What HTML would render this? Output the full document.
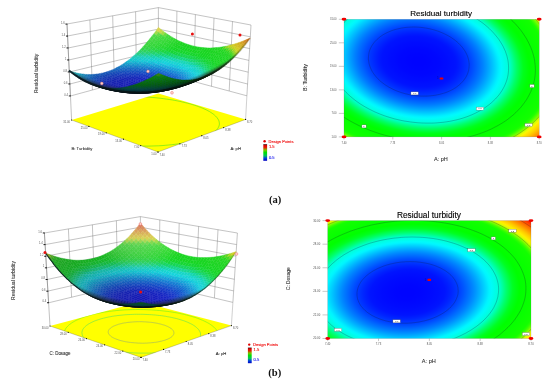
<!DOCTYPE html><html><head><meta charset="utf-8"><title>Residual turbidity</title><style>html,body{margin:0;padding:0;background:#fff}svg{display:block}</style></head><body>
<svg width="550" height="385" viewBox="0 0 550 385">
<rect width="550" height="385" fill="#fff"/>
<g stroke="#6a6a6a" stroke-width="0.4" fill="none">
<polyline points="70.4,96.0 158.4,72.0 246.9,95.8"/>
<polyline points="69.9,84.0 158.4,61.3 247.6,84.0"/>
<polyline points="69.3,72.0 158.4,50.6 248.3,72.2"/>
<polyline points="68.7,60.0 158.4,39.8 249.0,60.4"/>
<polyline points="68.1,48.0 158.4,29.1 249.7,48.6"/>
<polyline points="67.6,36.0 158.4,18.3 250.3,36.8"/>
<polyline points="67.0,24.0 158.4,7.6 251.0,25.0"/>
<line x1="70.4" y1="96.0" x2="67.0" y2="24.0"/>
<line x1="92.4" y1="90.0" x2="89.9" y2="19.9"/>
<line x1="114.4" y1="84.0" x2="112.7" y2="15.8"/>
<line x1="136.4" y1="78.0" x2="135.6" y2="11.7"/>
<line x1="158.4" y1="72.0" x2="158.4" y2="7.6"/>
<line x1="176.1" y1="76.8" x2="176.9" y2="11.1"/>
<line x1="193.8" y1="81.5" x2="195.4" y2="14.6"/>
<line x1="211.5" y1="86.3" x2="214.0" y2="18.0"/>
<line x1="229.2" y1="91.0" x2="232.5" y2="21.5"/>
<line x1="246.9" y1="95.8" x2="251.0" y2="25.0"/>
</g>
<g stroke="#666" stroke-width="0.4" fill="none">
<line x1="71.6" y1="120.0" x2="67.0" y2="24.0"/>
<line x1="245.6" y1="119.4" x2="246.9" y2="95.8" stroke="#888"/>
</g>
<defs><clipPath id="fa"><polygon points="71.6,120.0 158.0,152.0 245.6,119.4 158.4,93.5"/></clipPath></defs>
<polygon points="71.6,120.0 158.0,152.0 245.6,119.4 158.4,93.5" fill="#ffff00"/>
<g clip-path="url(#fa)" fill="none" stroke-width="0.55">
<polygon points="214.8,131.6 213.6,132.5 212.3,133.4 210.9,134.3 209.3,135.2 207.6,136.0 205.7,136.9 203.8,137.7 201.7,138.4 199.5,139.2 197.2,139.9 194.8,140.6 192.2,141.2 189.6,141.8 186.8,142.4 184.0,142.9 181.1,143.4 178.1,143.9 175.0,144.3 171.8,144.7 168.6,145.0 165.3,145.3 162.0,145.6 158.6,145.8 155.1,145.9 151.7,146.0 148.2,146.1 144.7,146.1 141.1,146.1 137.6,146.0 134.1,145.9 130.5,145.8 127.0,145.6 123.5,145.3 120.1,145.0 116.6,144.7 113.3,144.3 109.9,143.9 106.6,143.4 103.4,142.9 100.3,142.4 97.2,141.8 94.2,141.2 91.3,140.6 88.4,139.9 85.7,139.2 83.0,138.5 80.5,137.7 78.1,136.9 75.7,136.1 73.5,135.3 71.4,134.4 69.4,133.5 67.6,132.6 65.8,131.7 64.2,130.8 62.7,129.9 61.3,128.9 60.1,128.0 59.0,127.0 58.0,126.0 57.1,125.1 56.4,124.1 55.8,123.1 55.3,122.1 55.0,121.2 54.8,120.2 54.7,119.2 54.7,118.3 54.9,117.3 55.2,116.4 55.6,115.4 56.1,114.5 56.7,113.6 57.5,112.7 58.3,111.8 59.3,111.0 60.4,110.1 61.6,109.3 62.9,108.5 64.3,107.7 65.7,107.0 67.3,106.2 69.0,105.5 70.8,104.8 72.6,104.1 74.5,103.5 76.5,102.9 78.6,102.3 80.8,101.7 83.0,101.2 85.3,100.6 87.7,100.2 90.1,99.7 92.6,99.3 95.1,98.9 97.7,98.5 100.4,98.2 103.0,97.9 105.8,97.6 108.5,97.3 111.3,97.1 114.1,96.9 117.0,96.8 119.9,96.7 122.8,96.6 125.7,96.5 128.6,96.5 131.6,96.5 134.5,96.5 137.5,96.6 140.4,96.7 143.4,96.9 146.4,97.0 149.3,97.2 152.2,97.5 155.1,97.7 158.0,98.0 160.9,98.3 163.7,98.7 166.6,99.1 169.3,99.5 172.1,99.9 174.8,100.4 177.4,100.9 180.0,101.4 182.6,102.0 185.1,102.6 187.5,103.2 189.9,103.8 192.2,104.5 194.4,105.2 196.6,105.9 198.7,106.7 200.7,107.4 202.6,108.2 204.4,109.0 206.2,109.8 207.8,110.7 209.4,111.5 210.8,112.4 212.2,113.3 213.4,114.2 214.6,115.2 215.6,116.1 216.5,117.0 217.3,118.0 217.9,119.0 218.5,119.9 218.9,120.9 219.2,121.9 219.3,122.9 219.4,123.9 219.3,124.9 219.0,125.9 218.7,126.8 218.2,127.8 217.5,128.8 216.8,129.7 215.8,130.7" stroke="#40e020"/>
</g>
<g stroke="#555" stroke-width="0.3">
<polyline fill="none" points="71.6,120.0 158.0,152.0 245.6,119.4"/>
</g>
<g fill="#000">
<circle cx="158.0" cy="152.0" r="0.6"/>
<circle cx="179.9" cy="143.8" r="0.6"/>
<circle cx="201.8" cy="135.7" r="0.6"/>
<circle cx="223.7" cy="127.6" r="0.6"/>
<circle cx="245.6" cy="119.4" r="0.6"/>
<circle cx="158.0" cy="152.0" r="0.6"/>
<circle cx="140.7" cy="145.6" r="0.6"/>
<circle cx="123.4" cy="139.2" r="0.6"/>
<circle cx="106.2" cy="132.8" r="0.6"/>
<circle cx="88.9" cy="126.4" r="0.6"/>
<circle cx="71.6" cy="120.0" r="0.6"/>
<rect x="68.8" y="95.5" width="2" height="0.9"/>
<rect x="68.3" y="83.5" width="2" height="0.9"/>
<rect x="67.7" y="71.5" width="2" height="0.9"/>
<rect x="67.1" y="59.5" width="2" height="0.9"/>
<rect x="66.5" y="47.5" width="2" height="0.9"/>
<rect x="66.0" y="35.6" width="2" height="0.9"/>
<rect x="65.4" y="23.6" width="2" height="0.9"/>
</g>
<g font-family="Liberation Sans, sans-serif" font-size="2.7" fill="#555">
<text x="159.5" y="155.6">7.40</text>
<text x="181.4" y="147.4">7.73</text>
<text x="203.3" y="139.3">8.05</text>
<text x="225.2" y="131.2">8.38</text>
<text x="247.1" y="123.0">8.70</text>
<text x="156.5" y="154.6" text-anchor="end">1.00</text>
<text x="139.2" y="148.2" text-anchor="end">7.00</text>
<text x="121.9" y="141.8" text-anchor="end">13.00</text>
<text x="104.7" y="135.4" text-anchor="end">19.00</text>
<text x="87.4" y="129.0" text-anchor="end">25.00</text>
<text x="70.1" y="122.6" text-anchor="end">31.00</text>
<text x="68.1" y="95.5" text-anchor="end">0.4</text>
<text x="67.6" y="83.5" text-anchor="end">0.6</text>
<text x="67.0" y="71.5" text-anchor="end">0.8</text>
<text x="66.4" y="59.5" text-anchor="end">1</text>
<text x="65.8" y="47.5" text-anchor="end">1.2</text>
<text x="65.3" y="35.5" text-anchor="end">1.4</text>
<text x="64.7" y="23.5" text-anchor="end">1.6</text>
</g>
<text x="235.7" y="149.8" font-family="Liberation Sans, sans-serif" font-size="4.2" text-anchor="middle" fill="#2a2a2a" stroke="#2a2a2a" stroke-width="0.07">A: pH</text>
<text x="82" y="149.8" font-family="Liberation Sans, sans-serif" font-size="4.2" text-anchor="middle" fill="#2a2a2a" stroke="#2a2a2a" stroke-width="0.07">B: Turbidity</text>
<text transform="translate(38.4 73.4) rotate(-90)" font-family="Liberation Sans, sans-serif" font-size="5.15" text-anchor="middle" fill="#2a2a2a" stroke="#2a2a2a" stroke-width="0.07">Residual turbidity</text>
<circle cx="192.4" cy="34" r="1.5" fill="#e81010"/>
<circle cx="240" cy="35" r="1.5" fill="#e81010"/>
<g stroke-width="0.35" stroke-linejoin="round">
<polygon points="158.4,32.2 160.6,29.1 158.4,27.3 156.2,30.4" fill="#dcd54c" stroke="#dcd54c"/>
<polygon points="156.2,35.2 158.4,32.2 156.2,30.4 154.0,33.4" fill="#a2db4a" stroke="#a2db4a"/>
<polygon points="160.6,33.9 162.8,30.8 160.6,29.1 158.4,32.2" fill="#c8da49" stroke="#c8da49"/>
<polygon points="154.0,38.1 156.2,35.2 154.0,33.4 151.8,36.3" fill="#4fda48" stroke="#4fda48"/>
<polygon points="162.8,35.6 165.0,32.5 162.8,30.8 160.6,33.9" fill="#a5dc45" stroke="#a5dc45"/>
<polygon points="158.4,36.9 160.6,33.9 158.4,32.2 156.2,35.2" fill="#68db47" stroke="#68db47"/>
<polygon points="151.7,40.9 154.0,38.1 151.8,36.3 149.6,39.1" fill="#48d946" stroke="#48d946"/>
<polygon points="156.2,39.9 158.4,36.9 156.2,35.2 154.0,38.1" fill="#49da44" stroke="#49da44"/>
<polygon points="160.6,38.6 162.8,35.6 160.6,33.9 158.4,36.9" fill="#4adb43" stroke="#4adb43"/>
<polygon points="165.1,37.2 167.3,34.0 165.0,32.5 162.8,35.6" fill="#6cdc41" stroke="#6cdc41"/>
<polygon points="149.5,43.7 151.7,40.9 149.6,39.1 147.3,41.8" fill="#42d843" stroke="#42d843"/>
<polygon points="158.4,41.5 160.6,38.6 158.4,36.9 156.2,39.9" fill="#43da41" stroke="#43da41"/>
<polygon points="167.3,38.7 169.5,35.5 167.3,34.0 165.1,37.2" fill="#44db3d" stroke="#44db3d"/>
<polygon points="153.9,42.7 156.2,39.9 154.0,38.1 151.7,40.9" fill="#42d942" stroke="#42d942"/>
<polygon points="162.9,40.2 165.1,37.2 162.8,35.6 160.6,38.6" fill="#43db3f" stroke="#43db3f"/>
<polygon points="147.2,46.3 149.5,43.7 147.3,41.8 145.0,44.4" fill="#3cd640" stroke="#3cd640"/>
<polygon points="169.6,40.1 171.8,36.9 169.5,35.5 167.3,38.7" fill="#3eda39" stroke="#3eda39"/>
<polygon points="151.7,45.4 153.9,42.7 151.7,40.9 149.5,43.7" fill="#3cd73f" stroke="#3cd73f"/>
<polygon points="156.2,44.4 158.4,41.5 156.2,39.9 153.9,42.7" fill="#3cd93e" stroke="#3cd93e"/>
<polygon points="160.6,43.1 162.9,40.2 160.6,38.6 158.4,41.5" fill="#3cda3d" stroke="#3cda3d"/>
<polygon points="165.1,41.7 167.3,38.7 165.1,37.2 162.9,40.2" fill="#3ddb3b" stroke="#3ddb3b"/>
<polygon points="144.9,48.8 147.2,46.3 145.0,44.4 142.8,47.0" fill="#36d540" stroke="#36d540"/>
<polygon points="149.4,48.0 151.7,45.4 149.5,43.7 147.2,46.3" fill="#36d63c" stroke="#36d63c"/>
<polygon points="153.9,47.1 156.2,44.4 153.9,42.7 151.7,45.4" fill="#36d73b" stroke="#36d73b"/>
<polygon points="162.9,44.6 165.1,41.7 162.9,40.2 160.6,43.1" fill="#36da39" stroke="#36da39"/>
<polygon points="167.4,43.1 169.6,40.1 167.3,38.7 165.1,41.7" fill="#36da37" stroke="#36da37"/>
<polygon points="171.9,41.4 174.1,38.3 171.8,36.9 169.6,40.1" fill="#37da35" stroke="#37da35"/>
<polygon points="158.4,45.9 160.6,43.1 158.4,41.5 156.2,44.4" fill="#36d93a" stroke="#36d93a"/>
<polygon points="142.6,51.2 144.9,48.8 142.8,47.0 140.5,49.4" fill="#32d34a" stroke="#32d34a"/>
<polygon points="151.6,49.7 153.9,47.1 151.7,45.4 149.4,48.0" fill="#31d63f" stroke="#31d63f"/>
<polygon points="165.2,46.0 167.4,43.1 165.1,41.7 162.9,44.6" fill="#30d934" stroke="#30d934"/>
<polygon points="174.2,42.7 176.4,39.5 174.1,38.3 171.9,41.4" fill="#30d930" stroke="#30d930"/>
<polygon points="147.1,50.6 149.4,48.0 147.2,46.3 144.9,48.8" fill="#32d445" stroke="#32d445"/>
<polygon points="156.2,48.7 158.4,45.9 156.2,44.4 153.9,47.1" fill="#30d737" stroke="#30d737"/>
<polygon points="160.7,47.4 162.9,44.6 160.6,43.1 158.4,45.9" fill="#30d836" stroke="#30d836"/>
<polygon points="169.7,44.4 171.9,41.4 169.6,40.1 167.4,43.1" fill="#30d932" stroke="#30d932"/>
<polygon points="140.3,53.5 142.6,51.2 140.5,49.4 138.2,51.7" fill="#2dd165" stroke="#2dd165"/>
<polygon points="144.9,53.0 147.1,50.6 144.9,48.8 142.6,51.2" fill="#2dd35b" stroke="#2dd35b"/>
<polygon points="149.4,52.2 151.6,49.7 149.4,48.0 147.1,50.6" fill="#2dd44c" stroke="#2dd44c"/>
<polygon points="153.9,51.3 156.2,48.7 153.9,47.1 151.6,49.7" fill="#2cd642" stroke="#2cd642"/>
<polygon points="158.4,50.2 160.7,47.4 158.4,45.9 156.2,48.7" fill="#2ad739" stroke="#2ad739"/>
<polygon points="162.9,48.9 165.2,46.0 162.9,44.6 160.7,47.4" fill="#29d831" stroke="#29d831"/>
<polygon points="167.5,47.4 169.7,44.4 167.4,43.1 165.2,46.0" fill="#29d930" stroke="#29d930"/>
<polygon points="172.0,45.7 174.2,42.7 171.9,41.4 169.7,44.4" fill="#29d82e" stroke="#29d82e"/>
<polygon points="176.5,43.8 178.7,40.7 176.4,39.5 174.2,42.7" fill="#29d82c" stroke="#29d82c"/>
<polygon points="138.0,55.7 140.3,53.5 138.2,51.7 135.8,53.9" fill="#28cf84" stroke="#28cf84"/>
<polygon points="147.1,54.6 149.4,52.2 147.1,50.6 144.9,53.0" fill="#28d36e" stroke="#28d36e"/>
<polygon points="156.1,52.8 158.4,50.2 156.2,48.7 153.9,51.3" fill="#26d649" stroke="#26d649"/>
<polygon points="160.7,51.6 162.9,48.9 160.7,47.4 158.4,50.2" fill="#25d73c" stroke="#25d73c"/>
<polygon points="169.8,48.6 172.0,45.7 169.7,44.4 167.5,47.4" fill="#22d82b" stroke="#22d82b"/>
<polygon points="178.9,44.9 181.1,41.8 178.7,40.7 176.5,43.8" fill="#23d727" stroke="#23d727"/>
<polygon points="142.5,55.3 144.9,53.0 142.6,51.2 140.3,53.5" fill="#28d17a" stroke="#28d17a"/>
<polygon points="151.6,53.8 153.9,51.3 151.6,49.7 149.4,52.2" fill="#27d45e" stroke="#27d45e"/>
<polygon points="165.2,50.2 167.5,47.4 165.2,46.0 162.9,48.9" fill="#23d830" stroke="#23d830"/>
<polygon points="174.3,46.9 176.5,43.8 174.2,42.7 172.0,45.7" fill="#23d729" stroke="#23d729"/>
<polygon points="158.4,54.2 160.7,51.6 158.4,50.2 156.1,52.8" fill="#21d558" stroke="#21d558"/>
<polygon points="135.7,57.8 138.0,55.7 135.8,53.9 133.5,56.0" fill="#23cda9" stroke="#23cda9"/>
<polygon points="140.2,57.5 142.5,55.3 140.3,53.5 138.0,55.7" fill="#23cfa2" stroke="#23cfa2"/>
<polygon points="144.8,57.0 147.1,54.6 144.9,53.0 142.5,55.3" fill="#23d195" stroke="#23d195"/>
<polygon points="149.3,56.2 151.6,53.8 149.4,52.2 147.1,54.6" fill="#23d283" stroke="#23d283"/>
<polygon points="153.8,55.3 156.1,52.8 153.9,51.3 151.6,53.8" fill="#22d46e" stroke="#22d46e"/>
<polygon points="163.0,52.9 165.2,50.2 162.9,48.9 160.7,51.6" fill="#1fd73e" stroke="#1fd73e"/>
<polygon points="167.5,51.5 169.8,48.6 167.5,47.4 165.2,50.2" fill="#1dd731" stroke="#1dd731"/>
<polygon points="172.1,49.8 174.3,46.9 172.0,45.7 169.8,48.6" fill="#1cd726" stroke="#1cd726"/>
<polygon points="176.6,47.9 178.9,44.9 176.5,43.8 174.3,46.9" fill="#1cd624" stroke="#1cd624"/>
<polygon points="181.2,45.9 183.4,42.8 181.1,41.8 178.9,44.9" fill="#1cd622" stroke="#1cd622"/>
<polygon points="133.3,59.8 135.7,57.8 133.5,56.0 131.1,58.0" fill="#1dcac0" stroke="#1dcac0"/>
<polygon points="142.4,59.2 144.8,57.0 142.5,55.3 140.2,57.5" fill="#1ecfbd" stroke="#1ecfbd"/>
<polygon points="151.5,57.8 153.8,55.3 151.6,53.8 149.3,56.2" fill="#1dd29b" stroke="#1dd29b"/>
<polygon points="156.1,56.8 158.4,54.2 156.1,52.8 153.8,55.3" fill="#1cd481" stroke="#1cd481"/>
<polygon points="160.7,55.6 163.0,52.9 160.7,51.6 158.4,54.2" fill="#1bd566" stroke="#1bd566"/>
<polygon points="165.3,54.2 167.5,51.5 165.2,50.2 163.0,52.9" fill="#19d648" stroke="#19d648"/>
<polygon points="174.4,50.9 176.6,47.9 174.3,46.9 172.1,49.8" fill="#16d623" stroke="#16d623"/>
<polygon points="183.6,46.8 185.8,43.7 183.4,42.8 181.2,45.9" fill="#1cd622" stroke="#1cd622"/>
<polygon points="137.9,59.6 140.2,57.5 138.0,55.7 135.7,57.8" fill="#1dccc0" stroke="#1dccc0"/>
<polygon points="147.0,58.6 149.3,56.2 147.1,54.6 144.8,57.0" fill="#1dd1b0" stroke="#1dd1b0"/>
<polygon points="169.8,52.6 172.1,49.8 169.8,48.6 167.5,51.5" fill="#17d631" stroke="#17d631"/>
<polygon points="179.0,48.9 181.2,45.9 178.9,44.9 176.6,47.9" fill="#19d622" stroke="#19d622"/>
<polygon points="153.8,59.2 156.1,56.8 153.8,55.3 151.5,57.8" fill="#17d2b3" stroke="#17d2b3"/>
<polygon points="163.0,56.8 165.3,54.2 163.0,52.9 160.7,55.6" fill="#16d573" stroke="#16d573"/>
<polygon points="131.0,61.7 133.3,59.8 131.1,58.0 128.8,59.9" fill="#16c6cc" stroke="#16c6cc"/>
<polygon points="135.5,61.6 137.9,59.6 135.7,57.8 133.3,59.8" fill="#17c8cd" stroke="#17c8cd"/>
<polygon points="140.1,61.3 142.4,59.2 140.2,57.5 137.9,59.6" fill="#18cacb" stroke="#18cacb"/>
<polygon points="144.7,60.8 147.0,58.6 144.8,57.0 142.4,59.2" fill="#18cdc8" stroke="#18cdc8"/>
<polygon points="149.2,60.1 151.5,57.8 149.3,56.2 147.0,58.6" fill="#18d0c2" stroke="#18d0c2"/>
<polygon points="158.4,58.1 160.7,55.6 158.4,54.2 156.1,56.8" fill="#16d495" stroke="#16d495"/>
<polygon points="167.6,55.4 169.8,52.6 167.5,51.5 165.3,54.2" fill="#16d654" stroke="#16d654"/>
<polygon points="172.2,53.7 174.4,50.9 172.1,49.8 169.8,52.6" fill="#16d635" stroke="#16d635"/>
<polygon points="176.8,51.9 179.0,48.9 176.6,47.9 174.4,50.9" fill="#16d626" stroke="#16d626"/>
<polygon points="181.4,49.8 183.6,46.8 181.2,45.9 179.0,48.9" fill="#18d622" stroke="#18d622"/>
<polygon points="186.0,47.6 188.2,44.5 185.8,43.7 183.6,46.8" fill="#1bd622" stroke="#1bd622"/>
<polygon points="128.6,63.5 131.0,61.7 128.8,59.9 126.4,61.6" fill="#16b9cf" stroke="#16b9cf"/>
<polygon points="137.7,63.3 140.1,61.3 137.9,59.6 135.5,61.6" fill="#16c1d4" stroke="#16c1d4"/>
<polygon points="146.9,62.3 149.2,60.1 147.0,58.6 144.7,60.8" fill="#16ccd2" stroke="#16ccd2"/>
<polygon points="151.5,61.5 153.8,59.2 151.5,57.8 149.2,60.1" fill="#16cfcc" stroke="#16cfcc"/>
<polygon points="156.1,60.5 158.4,58.1 156.1,56.8 153.8,59.2" fill="#16d2c3" stroke="#16d2c3"/>
<polygon points="160.7,59.4 163.0,56.8 160.7,55.6 158.4,58.1" fill="#16d5aa" stroke="#16d5aa"/>
<polygon points="165.3,58.0 167.6,55.4 165.3,54.2 163.0,56.8" fill="#16d685" stroke="#16d685"/>
<polygon points="169.9,56.5 172.2,53.7 169.8,52.6 167.6,55.4" fill="#16d660" stroke="#16d660"/>
<polygon points="179.1,52.8 181.4,49.8 179.0,48.9 176.8,51.9" fill="#16d62a" stroke="#16d62a"/>
<polygon points="188.4,48.4 190.6,45.2 188.2,44.5 186.0,47.6" fill="#1bd622" stroke="#1bd622"/>
<polygon points="133.2,63.5 135.5,61.6 133.3,59.8 131.0,61.7" fill="#16bbd1" stroke="#16bbd1"/>
<polygon points="142.3,62.9 144.7,60.8 142.4,59.2 140.1,61.3" fill="#16c9d6" stroke="#16c9d6"/>
<polygon points="174.5,54.7 176.8,51.9 174.4,50.9 172.2,53.7" fill="#16d63a" stroke="#16d63a"/>
<polygon points="183.8,50.7 186.0,47.6 183.6,46.8 181.4,49.8" fill="#18d622" stroke="#18d622"/>
<polygon points="126.2,65.2 128.6,63.5 126.4,61.6 124.0,63.3" fill="#16a5cb" stroke="#16a5cb"/>
<polygon points="149.2,63.7 151.5,61.5 149.2,60.1 146.9,62.3" fill="#16c8d9" stroke="#16c8d9"/>
<polygon points="158.4,61.8 160.7,59.4 158.4,58.1 156.1,60.5" fill="#16d2cb" stroke="#16d2cb"/>
<polygon points="167.6,59.1 169.9,56.5 167.6,55.4 165.3,58.0" fill="#16d694" stroke="#16d694"/>
<polygon points="190.8,49.0 193.1,45.9 190.6,45.2 188.4,48.4" fill="#1bd622" stroke="#1bd622"/>
<polygon points="130.8,65.3 133.2,63.5 131.0,61.7 128.6,63.5" fill="#16a5cd" stroke="#16a5cd"/>
<polygon points="135.4,65.2 137.7,63.3 135.5,61.6 133.2,63.5" fill="#16a8cf" stroke="#16a8cf"/>
<polygon points="140.0,64.9 142.3,62.9 140.1,61.3 137.7,63.3" fill="#16afd2" stroke="#16afd2"/>
<polygon points="144.6,64.4 146.9,62.3 144.7,60.8 142.3,62.9" fill="#16bad5" stroke="#16bad5"/>
<polygon points="153.8,62.8 156.1,60.5 153.8,59.2 151.5,61.5" fill="#16cfd5" stroke="#16cfd5"/>
<polygon points="163.0,60.5 165.3,58.0 163.0,56.8 160.7,59.4" fill="#16d5bc" stroke="#16d5bc"/>
<polygon points="172.3,57.5 174.5,54.7 172.2,53.7 169.9,56.5" fill="#16d66a" stroke="#16d66a"/>
<polygon points="176.9,55.6 179.1,52.8 176.8,51.9 174.5,54.7" fill="#16d643" stroke="#16d643"/>
<polygon points="181.5,53.6 183.8,50.7 181.4,49.8 179.1,52.8" fill="#16d62c" stroke="#16d62c"/>
<polygon points="186.2,51.4 188.4,48.4 186.0,47.6 183.8,50.7" fill="#17d622" stroke="#17d622"/>
<polygon points="123.8,66.7 126.2,65.2 124.0,63.3 121.6,64.9" fill="#1692c8" stroke="#1692c8"/>
<polygon points="128.4,66.9 130.8,65.3 128.6,63.5 126.2,65.2" fill="#1691c9" stroke="#1691c9"/>
<polygon points="133.0,66.9 135.4,65.2 133.2,63.5 130.8,65.3" fill="#1692cb" stroke="#1692cb"/>
<polygon points="142.2,66.4 144.6,64.4 142.3,62.9 140.0,64.9" fill="#169fd0" stroke="#169fd0"/>
<polygon points="146.8,65.8 149.2,63.7 146.9,62.3 144.6,64.4" fill="#16abd4" stroke="#16abd4"/>
<polygon points="151.5,65.0 153.8,62.8 151.5,61.5 149.2,63.7" fill="#16bad8" stroke="#16bad8"/>
<polygon points="156.1,64.1 158.4,61.8 156.1,60.5 153.8,62.8" fill="#16cedc" stroke="#16cedc"/>
<polygon points="160.7,62.9 163.0,60.5 160.7,59.4 158.4,61.8" fill="#16d2d3" stroke="#16d2d3"/>
<polygon points="165.3,61.6 167.6,59.1 165.3,58.0 163.0,60.5" fill="#16d6c6" stroke="#16d6c6"/>
<polygon points="170.0,60.1 172.3,57.5 169.9,56.5 167.6,59.1" fill="#16d6a1" stroke="#16d6a1"/>
<polygon points="174.6,58.4 176.9,55.6 174.5,54.7 172.3,57.5" fill="#16d672" stroke="#16d672"/>
<polygon points="183.9,54.3 186.2,51.4 183.8,50.7 181.5,53.6" fill="#16d62e" stroke="#16d62e"/>
<polygon points="188.6,52.1 190.8,49.0 188.4,48.4 186.2,51.4" fill="#17d622" stroke="#17d622"/>
<polygon points="193.3,49.6 195.5,46.4 193.1,45.9 190.8,49.0" fill="#1bd622" stroke="#1bd622"/>
<polygon points="137.6,66.7 140.0,64.9 137.7,63.3 135.4,65.2" fill="#1697cd" stroke="#1697cd"/>
<polygon points="179.3,56.5 181.5,53.6 179.1,52.8 176.9,55.6" fill="#16d649" stroke="#16d649"/>
<polygon points="121.3,68.2 123.8,66.7 121.6,64.9 119.2,66.3" fill="#1683c4" stroke="#1683c4"/>
<polygon points="130.6,68.6 133.0,66.9 130.8,65.3 128.4,66.9" fill="#167ec7" stroke="#167ec7"/>
<polygon points="144.5,67.8 146.8,65.8 144.6,64.4 142.2,66.4" fill="#1690cf" stroke="#1690cf"/>
<polygon points="153.7,66.3 156.1,64.1 153.8,62.8 151.5,65.0" fill="#16aed7" stroke="#16aed7"/>
<polygon points="163.0,64.0 165.3,61.6 163.0,60.5 160.7,62.9" fill="#16d2d9" stroke="#16d2d9"/>
<polygon points="172.3,61.0 174.6,58.4 172.3,57.5 170.0,60.1" fill="#16d6ab" stroke="#16d6ab"/>
<polygon points="186.4,55.0 188.6,52.1 186.2,51.4 183.9,54.3" fill="#16d62f" stroke="#16d62f"/>
<polygon points="195.8,50.0 198.0,46.9 195.5,46.4 193.3,49.6" fill="#1bd622" stroke="#1bd622"/>
<polygon points="126.0,68.5 128.4,66.9 126.2,65.2 123.8,66.7" fill="#167fc5" stroke="#167fc5"/>
<polygon points="135.2,68.5 137.6,66.7 135.4,65.2 133.0,66.9" fill="#1681c9" stroke="#1681c9"/>
<polygon points="139.8,68.3 142.2,66.4 140.0,64.9 137.6,66.7" fill="#1687cc" stroke="#1687cc"/>
<polygon points="149.1,67.1 151.5,65.0 149.2,63.7 146.8,65.8" fill="#169ed3" stroke="#169ed3"/>
<polygon points="158.4,65.3 160.7,62.9 158.4,61.8 156.1,64.1" fill="#16c3db" stroke="#16c3db"/>
<polygon points="167.7,62.6 170.0,60.1 167.6,59.1 165.3,61.6" fill="#16d5cb" stroke="#16d5cb"/>
<polygon points="177.0,59.2 179.3,56.5 176.9,55.6 174.6,58.4" fill="#16d679" stroke="#16d679"/>
<polygon points="181.7,57.2 183.9,54.3 181.5,53.6 179.3,56.5" fill="#16d64d" stroke="#16d64d"/>
<polygon points="191.1,52.6 193.3,49.6 190.8,49.0 188.6,52.1" fill="#17d622" stroke="#17d622"/>
<polygon points="118.9,69.5 121.3,68.2 119.2,66.3 116.7,67.6" fill="#1675c1" stroke="#1675c1"/>
<polygon points="123.5,69.9 126.0,68.5 123.8,66.7 121.3,68.2" fill="#1670c2" stroke="#1670c2"/>
<polygon points="128.2,70.1 130.6,68.6 128.4,66.9 126.0,68.5" fill="#166dc3" stroke="#166dc3"/>
<polygon points="132.8,70.2 135.2,68.5 133.0,66.9 130.6,68.6" fill="#166ec5" stroke="#166ec5"/>
<polygon points="137.5,70.0 139.8,68.3 137.6,66.7 135.2,68.5" fill="#1671c8" stroke="#1671c8"/>
<polygon points="142.1,69.7 144.5,67.8 142.2,66.4 139.8,68.3" fill="#1678ca" stroke="#1678ca"/>
<polygon points="146.8,69.1 149.1,67.1 146.8,65.8 144.5,67.8" fill="#1683ce" stroke="#1683ce"/>
<polygon points="151.4,68.4 153.7,66.3 151.5,65.0 149.1,67.1" fill="#1692d2" stroke="#1692d2"/>
<polygon points="156.1,67.5 158.4,65.3 156.1,64.1 153.7,66.3" fill="#16a4d6" stroke="#16a4d6"/>
<polygon points="160.7,66.3 163.0,64.0 160.7,62.9 158.4,65.3" fill="#16badb" stroke="#16badb"/>
<polygon points="165.4,65.0 167.7,62.6 165.3,61.6 163.0,64.0" fill="#16d2de" stroke="#16d2de"/>
<polygon points="170.1,63.5 172.3,61.0 170.0,60.1 167.7,62.6" fill="#16d5ce" stroke="#16d5ce"/>
<polygon points="174.7,61.8 177.0,59.2 174.6,58.4 172.3,61.0" fill="#16d6b3" stroke="#16d6b3"/>
<polygon points="179.4,59.9 181.7,57.2 179.3,56.5 177.0,59.2" fill="#16d67e" stroke="#16d67e"/>
<polygon points="184.1,57.8 186.4,55.0 183.9,54.3 181.7,57.2" fill="#16d64f" stroke="#16d64f"/>
<polygon points="188.8,55.6 191.1,52.6 188.6,52.1 186.4,55.0" fill="#16d62f" stroke="#16d62f"/>
<polygon points="193.5,53.1 195.8,50.0 193.3,49.6 191.1,52.6" fill="#17d622" stroke="#17d622"/>
<polygon points="198.3,50.4 200.5,47.3 198.0,46.9 195.8,50.0" fill="#1bd622" stroke="#1bd622"/>
<polygon points="116.4,70.7 118.9,69.5 116.7,67.6 114.3,68.9" fill="#166bbf" stroke="#166bbf"/>
<polygon points="125.7,71.6 128.2,70.1 126.0,68.5 123.5,69.9" fill="#1660c0" stroke="#1660c0"/>
<polygon points="135.1,71.7 137.5,70.0 135.2,68.5 132.8,70.2" fill="#1660c4" stroke="#1660c4"/>
<polygon points="139.7,71.5 142.1,69.7 139.8,68.3 137.5,70.0" fill="#1665c6" stroke="#1665c6"/>
<polygon points="149.0,70.4 151.4,68.4 149.1,67.1 146.8,69.1" fill="#1678cd" stroke="#1678cd"/>
<polygon points="158.4,68.6 160.7,66.3 158.4,65.3 156.1,67.5" fill="#169bd5" stroke="#169bd5"/>
<polygon points="167.7,65.9 170.1,63.5 167.7,62.6 165.4,65.0" fill="#16cedf" stroke="#16cedf"/>
<polygon points="177.1,62.5 179.4,59.9 177.0,59.2 174.7,61.8" fill="#16d6b8" stroke="#16d6b8"/>
<polygon points="181.8,60.6 184.1,57.8 181.7,57.2 179.4,59.9" fill="#16d681" stroke="#16d681"/>
<polygon points="191.3,56.0 193.5,53.1 191.1,52.6 188.8,55.6" fill="#16d62e" stroke="#16d62e"/>
<polygon points="200.8,50.7 203.0,47.6 200.5,47.3 198.3,50.4" fill="#1bd622" stroke="#1bd622"/>
<polygon points="121.1,71.2 123.5,69.9 121.3,68.2 118.9,69.5" fill="#1664bf" stroke="#1664bf"/>
<polygon points="130.4,71.7 132.8,70.2 130.6,68.6 128.2,70.1" fill="#165fc2" stroke="#165fc2"/>
<polygon points="144.4,71.0 146.8,69.1 144.5,67.8 142.1,69.7" fill="#166dc9" stroke="#166dc9"/>
<polygon points="153.7,69.6 156.1,67.5 153.7,66.3 151.4,68.4" fill="#1688d1" stroke="#1688d1"/>
<polygon points="163.1,67.3 165.4,65.0 163.0,64.0 160.7,66.3" fill="#16b3db" stroke="#16b3db"/>
<polygon points="172.4,64.3 174.7,61.8 172.3,61.0 170.1,63.5" fill="#16d4d1" stroke="#16d4d1"/>
<polygon points="186.6,58.4 188.8,55.6 186.4,55.0 184.1,57.8" fill="#16d650" stroke="#16d650"/>
<polygon points="196.0,53.5 198.3,50.4 195.8,50.0 193.5,53.1" fill="#17d622" stroke="#17d622"/>
<polygon points="137.3,73.1 139.7,71.5 137.5,70.0 135.1,71.7" fill="#1654c3" stroke="#1654c3"/>
<polygon points="179.6,63.2 181.8,60.6 179.4,59.9 177.1,62.5" fill="#16d6ba" stroke="#16d6ba"/>
<polygon points="114.0,71.8 116.4,70.7 114.3,68.9 111.8,70.0" fill="#1662bc" stroke="#1662bc"/>
<polygon points="118.6,72.5 121.1,71.2 118.9,69.5 116.4,70.7" fill="#165abd" stroke="#165abd"/>
<polygon points="123.3,72.9 125.7,71.6 123.5,69.9 121.1,71.2" fill="#1655bd" stroke="#1655bd"/>
<polygon points="128.0,73.2 130.4,71.7 128.2,70.1 125.7,71.6" fill="#1652bf" stroke="#1652bf"/>
<polygon points="132.6,73.2 135.1,71.7 132.8,70.2 130.4,71.7" fill="#1652c0" stroke="#1652c0"/>
<polygon points="142.0,72.8 144.4,71.0 142.1,69.7 139.7,71.5" fill="#165ac5" stroke="#165ac5"/>
<polygon points="146.7,72.3 149.0,70.4 146.8,69.1 144.4,71.0" fill="#1663c8" stroke="#1663c8"/>
<polygon points="151.3,71.6 153.7,69.6 151.4,68.4 149.0,70.4" fill="#166fcc" stroke="#166fcc"/>
<polygon points="156.0,70.6 158.4,68.6 156.1,67.5 153.7,69.6" fill="#167fd0" stroke="#167fd0"/>
<polygon points="160.7,69.5 163.1,67.3 160.7,66.3 158.4,68.6" fill="#1694d5" stroke="#1694d5"/>
<polygon points="165.4,68.2 167.7,65.9 165.4,65.0 163.1,67.3" fill="#16aeda" stroke="#16aeda"/>
<polygon points="170.1,66.8 172.4,64.3 170.1,63.5 167.7,65.9" fill="#16c9de" stroke="#16c9de"/>
<polygon points="174.8,65.1 177.1,62.5 174.7,61.8 172.4,64.3" fill="#16d4d3" stroke="#16d4d3"/>
<polygon points="184.3,61.1 186.6,58.4 184.1,57.8 181.8,60.6" fill="#16d681" stroke="#16d681"/>
<polygon points="189.0,58.9 191.3,56.0 188.8,55.6 186.6,58.4" fill="#16d64e" stroke="#16d64e"/>
<polygon points="193.8,56.4 196.0,53.5 193.5,53.1 191.3,56.0" fill="#16d62d" stroke="#16d62d"/>
<polygon points="198.5,53.7 200.8,50.7 198.3,50.4 196.0,53.5" fill="#18d622" stroke="#18d622"/>
<polygon points="203.3,50.9 205.6,47.8 203.0,47.6 200.8,50.7" fill="#1cd622" stroke="#1cd622"/>
<polygon points="111.5,72.8 114.0,71.8 111.8,70.0 109.3,70.9" fill="#165cba" stroke="#165cba"/>
<polygon points="120.8,74.1 123.3,72.9 121.1,71.2 118.6,72.5" fill="#164bbb" stroke="#164bbb"/>
<polygon points="130.2,74.7 132.6,73.2 130.4,71.7 128.0,73.2" fill="#1645bd" stroke="#1645bd"/>
<polygon points="134.9,74.7 137.3,73.1 135.1,71.7 132.6,73.2" fill="#1646bf" stroke="#1646bf"/>
<polygon points="139.6,74.4 142.0,72.8 139.7,71.5 137.3,73.1" fill="#164ac2" stroke="#164ac2"/>
<polygon points="144.3,74.0 146.7,72.3 144.4,71.0 142.0,72.8" fill="#1651c5" stroke="#1651c5"/>
<polygon points="153.7,72.6 156.0,70.6 153.7,69.6 151.3,71.6" fill="#1668cc" stroke="#1668cc"/>
<polygon points="163.1,70.4 165.4,68.2 163.1,67.3 160.7,69.5" fill="#168fd5" stroke="#168fd5"/>
<polygon points="172.5,67.5 174.8,65.1 172.4,64.3 170.1,66.8" fill="#16c6de" stroke="#16c6de"/>
<polygon points="177.3,65.7 179.6,63.2 177.1,62.5 174.8,65.1" fill="#16d4d4" stroke="#16d4d4"/>
<polygon points="182.0,63.7 184.3,61.1 181.8,60.6 179.6,63.2" fill="#16d6ba" stroke="#16d6ba"/>
<polygon points="186.8,61.6 189.0,58.9 186.6,58.4 184.3,61.1" fill="#16d67e" stroke="#16d67e"/>
<polygon points="196.3,56.7 198.5,53.7 196.0,53.5 193.8,56.4" fill="#16d62b" stroke="#16d62b"/>
<polygon points="205.9,51.0 208.1,47.9 205.6,47.8 203.3,50.9" fill="#1cd622" stroke="#1cd622"/>
<polygon points="116.2,73.5 118.6,72.5 116.4,70.7 114.0,71.8" fill="#1652ba" stroke="#1652ba"/>
<polygon points="125.5,74.5 128.0,73.2 125.7,71.6 123.3,72.9" fill="#1647bc" stroke="#1647bc"/>
<polygon points="149.0,73.4 151.3,71.6 149.0,70.4 146.7,72.3" fill="#165ac8" stroke="#165ac8"/>
<polygon points="158.4,71.6 160.7,69.5 158.4,68.6 156.0,70.6" fill="#1678d0" stroke="#1678d0"/>
<polygon points="167.8,69.1 170.1,66.8 167.7,65.9 165.4,68.2" fill="#16a9da" stroke="#16a9da"/>
<polygon points="191.5,59.2 193.8,56.4 191.3,56.0 189.0,58.9" fill="#16d64a" stroke="#16d64a"/>
<polygon points="201.1,53.9 203.3,50.9 200.8,50.7 198.5,53.7" fill="#18d622" stroke="#18d622"/>
<polygon points="132.5,76.1 134.9,74.7 132.6,73.2 130.2,74.7" fill="#163bbc" stroke="#163bbc"/>
<polygon points="141.9,75.7 144.3,74.0 142.0,72.8 139.6,74.4" fill="#1641c1" stroke="#1641c1"/>
<polygon points="174.9,68.1 177.3,65.7 174.8,65.1 172.5,67.5" fill="#16c5de" stroke="#16c5de"/>
<polygon points="184.5,64.2 186.8,61.6 184.3,61.1 182.0,63.7" fill="#16d6b7" stroke="#16d6b7"/>
<polygon points="109.0,73.6 111.5,72.8 109.3,70.9 106.8,71.8" fill="#1658b8" stroke="#1658b8"/>
<polygon points="113.7,74.5 116.2,73.5 114.0,71.8 111.5,72.8" fill="#164db8" stroke="#164db8"/>
<polygon points="118.4,75.2 120.8,74.1 118.6,72.5 116.2,73.5" fill="#1644b9" stroke="#1644b9"/>
<polygon points="123.1,75.7 125.5,74.5 123.3,72.9 120.8,74.1" fill="#163eb9" stroke="#163eb9"/>
<polygon points="127.8,76.0 130.2,74.7 128.0,73.2 125.5,74.5" fill="#163bbb" stroke="#163bbb"/>
<polygon points="137.2,76.0 139.6,74.4 137.3,73.1 134.9,74.7" fill="#163cbe" stroke="#163cbe"/>
<polygon points="146.6,75.2 149.0,73.4 146.7,72.3 144.3,74.0" fill="#1649c4" stroke="#1649c4"/>
<polygon points="151.3,74.5 153.7,72.6 151.3,71.6 149.0,73.4" fill="#1654c7" stroke="#1654c7"/>
<polygon points="156.0,73.6 158.4,71.6 156.0,70.6 153.7,72.6" fill="#1662cc" stroke="#1662cc"/>
<polygon points="160.7,72.5 163.1,70.4 160.7,69.5 158.4,71.6" fill="#1674d0" stroke="#1674d0"/>
<polygon points="165.5,71.3 167.8,69.1 165.4,68.2 163.1,70.4" fill="#168bd5" stroke="#168bd5"/>
<polygon points="170.2,69.8 172.5,67.5 170.1,66.8 167.8,69.1" fill="#16a7d9" stroke="#16a7d9"/>
<polygon points="179.7,66.3 182.0,63.7 179.6,63.2 177.3,65.7" fill="#16d4d4" stroke="#16d4d4"/>
<polygon points="189.2,62.0 191.5,59.2 189.0,58.9 186.8,61.6" fill="#16d679" stroke="#16d679"/>
<polygon points="194.0,59.5 196.3,56.7 193.8,56.4 191.5,59.2" fill="#16d645" stroke="#16d645"/>
<polygon points="198.8,56.9 201.1,53.9 198.5,53.7 196.3,56.7" fill="#16d628" stroke="#16d628"/>
<polygon points="203.6,54.0 205.9,51.0 203.3,50.9 201.1,53.9" fill="#19d622" stroke="#19d622"/>
<polygon points="208.5,51.0 210.7,47.9 208.1,47.9 205.9,51.0" fill="#1dd622" stroke="#1dd622"/>
<polygon points="106.4,74.4 109.0,73.6 106.8,71.8 104.3,72.6" fill="#1655b7" stroke="#1655b7"/>
<polygon points="111.2,75.4 113.7,74.5 111.5,72.8 109.0,73.6" fill="#1649b7" stroke="#1649b7"/>
<polygon points="115.9,76.2 118.4,75.2 116.2,73.5 113.7,74.5" fill="#163fb7" stroke="#163fb7"/>
<polygon points="125.3,77.2 127.8,76.0 125.5,74.5 123.1,75.7" fill="#1634b8" stroke="#1634b8"/>
<polygon points="130.0,77.4 132.5,76.1 130.2,74.7 127.8,76.0" fill="#1633ba" stroke="#1633ba"/>
<polygon points="134.7,77.4 137.2,76.0 134.9,74.7 132.5,76.1" fill="#1633bc" stroke="#1633bc"/>
<polygon points="139.5,77.2 141.9,75.7 139.6,74.4 137.2,76.0" fill="#1635be" stroke="#1635be"/>
<polygon points="144.2,76.9 146.6,75.2 144.3,74.0 141.9,75.7" fill="#163ac0" stroke="#163ac0"/>
<polygon points="148.9,76.3 151.3,74.5 149.0,73.4 146.6,75.2" fill="#1642c4" stroke="#1642c4"/>
<polygon points="158.4,74.5 160.7,72.5 158.4,71.6 156.0,73.6" fill="#165dcc" stroke="#165dcc"/>
<polygon points="167.9,72.0 170.2,69.8 167.8,69.1 165.5,71.3" fill="#1689d5" stroke="#1689d5"/>
<polygon points="172.6,70.4 174.9,68.1 172.5,67.5 170.2,69.8" fill="#16a6d9" stroke="#16a6d9"/>
<polygon points="177.4,68.7 179.7,66.3 177.3,65.7 174.9,68.1" fill="#16c6de" stroke="#16c6de"/>
<polygon points="182.2,66.7 184.5,64.2 182.0,63.7 179.7,66.3" fill="#16d4d2" stroke="#16d4d2"/>
<polygon points="186.9,64.6 189.2,62.0 186.8,61.6 184.5,64.2" fill="#16d6b2" stroke="#16d6b2"/>
<polygon points="191.7,62.2 194.0,59.5 191.5,59.2 189.2,62.0" fill="#16d672" stroke="#16d672"/>
<polygon points="201.4,57.0 203.6,54.0 201.1,53.9 198.8,56.9" fill="#16d625" stroke="#16d625"/>
<polygon points="206.2,54.1 208.5,51.0 205.9,51.0 203.6,54.0" fill="#1ad622" stroke="#1ad622"/>
<polygon points="211.1,50.9 213.3,47.8 210.7,47.9 208.5,51.0" fill="#1ed622" stroke="#1ed622"/>
<polygon points="120.6,76.8 123.1,75.7 120.8,74.1 118.4,75.2" fill="#1638b7" stroke="#1638b7"/>
<polygon points="153.6,75.5 156.0,73.6 153.7,72.6 151.3,74.5" fill="#164ec7" stroke="#164ec7"/>
<polygon points="163.1,73.4 165.5,71.3 163.1,70.4 160.7,72.5" fill="#1671d0" stroke="#1671d0"/>
<polygon points="196.6,59.7 198.8,56.9 196.3,56.7 194.0,59.5" fill="#16d63d" stroke="#16d63d"/>
<polygon points="103.9,75.0 106.4,74.4 104.3,72.6 101.7,73.2" fill="#1654b6" stroke="#1654b6"/>
<polygon points="113.4,77.0 115.9,76.2 113.7,74.5 111.2,75.4" fill="#163bb5" stroke="#163bb5"/>
<polygon points="127.6,78.6 130.0,77.4 127.8,76.0 125.3,77.2" fill="#162cb8" stroke="#162cb8"/>
<polygon points="137.0,78.7 139.5,77.2 137.2,76.0 134.7,77.4" fill="#162cbb" stroke="#162cbb"/>
<polygon points="146.5,77.9 148.9,76.3 146.6,75.2 144.2,76.9" fill="#1635c0" stroke="#1635c0"/>
<polygon points="170.3,72.6 172.6,70.4 170.2,69.8 167.9,72.0" fill="#1688d5" stroke="#1688d5"/>
<polygon points="179.8,69.1 182.2,66.7 179.7,66.3 177.4,68.7" fill="#16c8de" stroke="#16c8de"/>
<polygon points="189.4,64.9 191.7,62.2 189.2,62.0 186.9,64.6" fill="#16d6aa" stroke="#16d6aa"/>
<polygon points="204.0,57.0 206.2,54.1 203.6,54.0 201.4,57.0" fill="#16d622" stroke="#16d622"/>
<polygon points="213.7,50.8 216.0,47.6 213.3,47.8 211.1,50.9" fill="#1fd622" stroke="#1fd622"/>
<polygon points="108.6,76.1 111.2,75.4 109.0,73.6 106.4,74.4" fill="#1646b5" stroke="#1646b5"/>
<polygon points="118.1,77.8 120.6,76.8 118.4,75.2 115.9,76.2" fill="#1634b5" stroke="#1634b5"/>
<polygon points="122.8,78.3 125.3,77.2 123.1,75.7 120.6,76.8" fill="#162fb6" stroke="#162fb6"/>
<polygon points="132.3,78.7 134.7,77.4 132.5,76.1 130.0,77.4" fill="#162bb9" stroke="#162bb9"/>
<polygon points="141.8,78.4 144.2,76.9 141.9,75.7 139.5,77.2" fill="#1630be" stroke="#1630be"/>
<polygon points="151.2,77.3 153.6,75.5 151.3,74.5 148.9,76.3" fill="#163dc4" stroke="#163dc4"/>
<polygon points="156.0,76.4 158.4,74.5 156.0,73.6 153.6,75.5" fill="#164ac7" stroke="#164ac7"/>
<polygon points="160.7,75.3 163.1,73.4 160.7,72.5 158.4,74.5" fill="#165bcc" stroke="#165bcc"/>
<polygon points="165.5,74.1 167.9,72.0 165.5,71.3 163.1,73.4" fill="#166fd1" stroke="#166fd1"/>
<polygon points="175.0,71.0 177.4,68.7 174.9,68.1 172.6,70.4" fill="#16a6d9" stroke="#16a6d9"/>
<polygon points="184.6,67.1 186.9,64.6 184.5,64.2 182.2,66.7" fill="#16d4d0" stroke="#16d4d0"/>
<polygon points="194.3,62.4 196.6,59.7 194.0,59.5 191.7,62.2" fill="#16d66a" stroke="#16d66a"/>
<polygon points="199.1,59.8 201.4,57.0 198.8,56.9 196.6,59.7" fill="#16d636" stroke="#16d636"/>
<polygon points="208.8,54.0 211.1,50.9 208.5,51.0 206.2,54.1" fill="#1ad622" stroke="#1ad622"/>
<polygon points="101.3,75.5 103.9,75.0 101.7,73.2 99.1,73.7" fill="#1655b5" stroke="#1655b5"/>
<polygon points="110.8,77.8 113.4,77.0 111.2,75.4 108.6,76.1" fill="#1639b4" stroke="#1639b4"/>
<polygon points="120.4,79.3 122.8,78.3 120.6,76.8 118.1,77.8" fill="#162bb5" stroke="#162bb5"/>
<polygon points="125.1,79.7 127.6,78.6 125.3,77.2 122.8,78.3" fill="#1627b6" stroke="#1627b6"/>
<polygon points="129.8,79.9 132.3,78.7 130.0,77.4 127.6,78.6" fill="#1625b7" stroke="#1625b7"/>
<polygon points="134.6,80.0 137.0,78.7 134.7,77.4 132.3,78.7" fill="#1625b9" stroke="#1625b9"/>
<polygon points="139.3,79.8 141.8,78.4 139.5,77.2 137.0,78.7" fill="#1627bb" stroke="#1627bb"/>
<polygon points="144.1,79.5 146.5,77.9 144.2,76.9 141.8,78.4" fill="#162bbe" stroke="#162bbe"/>
<polygon points="148.8,78.9 151.2,77.3 148.9,76.3 146.5,77.9" fill="#1631c0" stroke="#1631c0"/>
<polygon points="153.6,78.1 156.0,76.4 153.6,75.5 151.2,77.3" fill="#163ac4" stroke="#163ac4"/>
<polygon points="163.1,76.0 165.5,74.1 163.1,73.4 160.7,75.3" fill="#1659cc" stroke="#1659cc"/>
<polygon points="167.9,74.7 170.3,72.6 167.9,72.0 165.5,74.1" fill="#166fd1" stroke="#166fd1"/>
<polygon points="172.7,73.2 175.0,71.0 172.6,70.4 170.3,72.6" fill="#1689d5" stroke="#1689d5"/>
<polygon points="177.5,71.4 179.8,69.1 177.4,68.7 175.0,71.0" fill="#16a9da" stroke="#16a9da"/>
<polygon points="182.3,69.5 184.6,67.1 182.2,66.7 179.8,69.1" fill="#16ccdf" stroke="#16ccdf"/>
<polygon points="187.1,67.4 189.4,64.9 186.9,64.6 184.6,67.1" fill="#16d5cd" stroke="#16d5cd"/>
<polygon points="192.0,65.0 194.3,62.4 191.7,62.2 189.4,64.9" fill="#16d69f" stroke="#16d69f"/>
<polygon points="196.8,62.5 199.1,59.8 196.6,59.7 194.3,62.4" fill="#16d660" stroke="#16d660"/>
<polygon points="206.6,56.9 208.8,54.0 206.2,54.1 204.0,57.0" fill="#17d622" stroke="#17d622"/>
<polygon points="216.4,50.5 218.6,47.4 216.0,47.6 213.7,50.8" fill="#21d622" stroke="#21d622"/>
<polygon points="106.1,76.7 108.6,76.1 106.4,74.4 103.9,75.0" fill="#1645b4" stroke="#1645b4"/>
<polygon points="115.6,78.6 118.1,77.8 115.9,76.2 113.4,77.0" fill="#1631b4" stroke="#1631b4"/>
<polygon points="158.4,77.2 160.7,75.3 158.4,74.5 156.0,76.4" fill="#1647c8" stroke="#1647c8"/>
<polygon points="201.7,59.8 204.0,57.0 201.4,57.0 199.1,59.8" fill="#16d632" stroke="#16d632"/>
<polygon points="211.5,53.8 213.7,50.8 211.1,50.9 208.8,54.0" fill="#1bd622" stroke="#1bd622"/>
<polygon points="98.7,75.9 101.3,75.5 99.1,73.7 96.6,74.1" fill="#1657b4" stroke="#1657b4"/>
<polygon points="122.6,80.7 125.1,79.7 122.8,78.3 120.4,79.3" fill="#1623b4" stroke="#1623b4"/>
<polygon points="132.1,81.2 134.6,80.0 132.3,78.7 129.8,79.9" fill="#1622b7" stroke="#1622b7"/>
<polygon points="141.7,80.9 144.1,79.5 141.8,78.4 139.3,79.8" fill="#1623bb" stroke="#1623bb"/>
<polygon points="151.2,79.8 153.6,78.1 151.2,77.3 148.8,78.9" fill="#162ec1" stroke="#162ec1"/>
<polygon points="165.5,76.7 167.9,74.7 165.5,74.1 163.1,76.0" fill="#1659cd" stroke="#1659cd"/>
<polygon points="175.2,73.6 177.5,71.4 175.0,71.0 172.7,73.2" fill="#168cd5" stroke="#168cd5"/>
<polygon points="184.8,69.8 187.1,67.4 184.6,67.1 182.3,69.5" fill="#16d2df" stroke="#16d2df"/>
<polygon points="194.5,65.1 196.8,62.5 194.3,62.4 192.0,65.0" fill="#16d692" stroke="#16d692"/>
<polygon points="219.1,50.1 221.3,47.0 218.6,47.4 216.4,50.5" fill="#23d622" stroke="#23d622"/>
<polygon points="103.5,77.2 106.1,76.7 103.9,75.0 101.3,75.5" fill="#1646b3" stroke="#1646b3"/>
<polygon points="108.3,78.4 110.8,77.8 108.6,76.1 106.1,76.7" fill="#1639b2" stroke="#1639b2"/>
<polygon points="113.1,79.4 115.6,78.6 113.4,77.0 110.8,77.8" fill="#1630b3" stroke="#1630b3"/>
<polygon points="117.8,80.1 120.4,79.3 118.1,77.8 115.6,78.6" fill="#1629b3" stroke="#1629b3"/>
<polygon points="127.4,81.0 129.8,79.9 127.6,78.6 125.1,79.7" fill="#1622b6" stroke="#1622b6"/>
<polygon points="136.9,81.1 139.3,79.8 137.0,78.7 134.6,80.0" fill="#1622b9" stroke="#1622b9"/>
<polygon points="146.4,80.4 148.8,78.9 146.5,77.9 144.1,79.5" fill="#1627be" stroke="#1627be"/>
<polygon points="156.0,79.0 158.4,77.2 156.0,76.4 153.6,78.1" fill="#1638c4" stroke="#1638c4"/>
<polygon points="160.8,77.9 163.1,76.0 160.7,75.3 158.4,77.2" fill="#1646c8" stroke="#1646c8"/>
<polygon points="170.3,75.2 172.7,73.2 170.3,72.6 167.9,74.7" fill="#1670d1" stroke="#1670d1"/>
<polygon points="180.0,71.8 182.3,69.5 179.8,69.1 177.5,71.4" fill="#16adda" stroke="#16adda"/>
<polygon points="189.7,67.5 192.0,65.0 189.4,64.9 187.1,67.4" fill="#16d5c9" stroke="#16d5c9"/>
<polygon points="199.4,62.5 201.7,59.8 199.1,59.8 196.8,62.5" fill="#16d654" stroke="#16d654"/>
<polygon points="204.3,59.7 206.6,56.9 204.0,57.0 201.7,59.8" fill="#16d62d" stroke="#16d62d"/>
<polygon points="209.2,56.7 211.5,53.8 208.8,54.0 206.6,56.9" fill="#18d622" stroke="#18d622"/>
<polygon points="214.1,53.5 216.4,50.5 213.7,50.8 211.5,53.8" fill="#1dd622" stroke="#1dd622"/>
<polygon points="96.1,76.1 98.7,75.9 96.6,74.1 93.9,74.3" fill="#165bb4" stroke="#165bb4"/>
<polygon points="100.9,77.6 103.5,77.2 101.3,75.5 98.7,75.9" fill="#1649b3" stroke="#1649b3"/>
<polygon points="105.7,78.9 108.3,78.4 106.1,76.7 103.5,77.2" fill="#163ab2" stroke="#163ab2"/>
<polygon points="110.5,80.0 113.1,79.4 110.8,77.8 108.3,78.4" fill="#162fb2" stroke="#162fb2"/>
<polygon points="115.3,80.8 117.8,80.1 115.6,78.6 113.1,79.4" fill="#1627b2" stroke="#1627b2"/>
<polygon points="120.1,81.5 122.6,80.7 120.4,79.3 117.8,80.1" fill="#1623b3" stroke="#1623b3"/>
<polygon points="124.9,82.0 127.4,81.0 125.1,79.7 122.6,80.7" fill="#1621b4" stroke="#1621b4"/>
<polygon points="129.7,82.2 132.1,81.2 129.8,79.9 127.4,81.0" fill="#1620b6" stroke="#1620b6"/>
<polygon points="134.4,82.3 136.9,81.1 134.6,80.0 132.1,81.2" fill="#1620b8" stroke="#1620b8"/>
<polygon points="139.2,82.2 141.7,80.9 139.3,79.8 136.9,81.1" fill="#1621ba" stroke="#1621ba"/>
<polygon points="144.0,81.8 146.4,80.4 144.1,79.5 141.7,80.9" fill="#1622bc" stroke="#1622bc"/>
<polygon points="148.8,81.3 151.2,79.8 148.8,78.9 146.4,80.4" fill="#1624be" stroke="#1624be"/>
<polygon points="153.6,80.6 156.0,79.0 153.6,78.1 151.2,79.8" fill="#162cc1" stroke="#162cc1"/>
<polygon points="158.4,79.7 160.8,77.9 158.4,77.2 156.0,79.0" fill="#1637c5" stroke="#1637c5"/>
<polygon points="163.2,78.5 165.5,76.7 163.1,76.0 160.8,77.9" fill="#1646c9" stroke="#1646c9"/>
<polygon points="168.0,77.2 170.3,75.2 167.9,74.7 165.5,76.7" fill="#165acd" stroke="#165acd"/>
<polygon points="172.8,75.7 175.2,73.6 172.7,73.2 170.3,75.2" fill="#1672d1" stroke="#1672d1"/>
<polygon points="177.6,74.0 180.0,71.8 177.5,71.4 175.2,73.6" fill="#1690d6" stroke="#1690d6"/>
<polygon points="182.5,72.1 184.8,69.8 182.3,69.5 180.0,71.8" fill="#16b3db" stroke="#16b3db"/>
<polygon points="187.3,69.9 189.7,67.5 187.1,67.4 184.8,69.8" fill="#16d3dc" stroke="#16d3dc"/>
<polygon points="192.2,67.6 194.5,65.1 192.0,65.0 189.7,67.5" fill="#16d6c4" stroke="#16d6c4"/>
<polygon points="197.1,65.1 199.4,62.5 196.8,62.5 194.5,65.1" fill="#16d682" stroke="#16d682"/>
<polygon points="202.0,62.4 204.3,59.7 201.7,59.8 199.4,62.5" fill="#16d647" stroke="#16d647"/>
<polygon points="206.9,59.5 209.2,56.7 206.6,56.9 204.3,59.7" fill="#16d627" stroke="#16d627"/>
<polygon points="211.9,56.4 214.1,53.5 211.5,53.8 209.2,56.7" fill="#19d622" stroke="#19d622"/>
<polygon points="216.8,53.1 219.1,50.1 216.4,50.5 214.1,53.5" fill="#1ed622" stroke="#1ed622"/>
<polygon points="221.8,49.7 224.1,46.5 221.3,47.0 219.1,50.1" fill="#25d622" stroke="#25d622"/>
<polygon points="93.5,76.3 96.1,76.1 93.9,74.3 91.3,74.5" fill="#1660b4" stroke="#1660b4"/>
<polygon points="103.1,79.3 105.7,78.9 103.5,77.2 100.9,77.6" fill="#163cb1" stroke="#163cb1"/>
<polygon points="112.8,81.4 115.3,80.8 113.1,79.4 110.5,80.0" fill="#1627b1" stroke="#1627b1"/>
<polygon points="117.6,82.2 120.1,81.5 117.8,80.1 115.3,80.8" fill="#1622b2" stroke="#1622b2"/>
<polygon points="122.4,82.8 124.9,82.0 122.6,80.7 120.1,81.5" fill="#1620b3" stroke="#1620b3"/>
<polygon points="127.2,83.2 129.7,82.2 127.4,81.0 124.9,82.0" fill="#161fb5" stroke="#161fb5"/>
<polygon points="136.7,83.4 139.2,82.2 136.9,81.1 134.4,82.3" fill="#161fb8" stroke="#161fb8"/>
<polygon points="146.3,82.7 148.8,81.3 146.4,80.4 144.0,81.8" fill="#1621bc" stroke="#1621bc"/>
<polygon points="155.9,81.3 158.4,79.7 156.0,79.0 153.6,80.6" fill="#162cc2" stroke="#162cc2"/>
<polygon points="160.8,80.3 163.2,78.5 160.8,77.9 158.4,79.7" fill="#1637c6" stroke="#1637c6"/>
<polygon points="170.4,77.7 172.8,75.7 170.3,75.2 168.0,77.2" fill="#165dce" stroke="#165dce"/>
<polygon points="180.1,74.2 182.5,72.1 180.0,71.8 177.6,74.0" fill="#1696d7" stroke="#1696d7"/>
<polygon points="189.9,70.0 192.2,67.6 189.7,67.5 187.3,69.9" fill="#16d4d6" stroke="#16d4d6"/>
<polygon points="194.8,67.6 197.1,65.1 194.5,65.1 192.2,67.6" fill="#16d6b6" stroke="#16d6b6"/>
<polygon points="199.7,65.0 202.0,62.4 199.4,62.5 197.1,65.1" fill="#16d671" stroke="#16d671"/>
<polygon points="204.6,62.2 206.9,59.5 204.3,59.7 202.0,62.4" fill="#16d638" stroke="#16d638"/>
<polygon points="214.5,56.1 216.8,53.1 214.1,53.5 211.9,56.4" fill="#1bd622" stroke="#1bd622"/>
<polygon points="224.6,49.1 226.8,46.0 224.1,46.5 221.8,49.7" fill="#50d622" stroke="#50d622"/>
<polygon points="98.3,77.9 100.9,77.6 98.7,75.9 96.1,76.1" fill="#164db2" stroke="#164db2"/>
<polygon points="108.0,80.5 110.5,80.0 108.3,78.4 105.7,78.9" fill="#1630b1" stroke="#1630b1"/>
<polygon points="132.0,83.4 134.4,82.3 132.1,81.2 129.7,82.2" fill="#161fb6" stroke="#161fb6"/>
<polygon points="141.5,83.1 144.0,81.8 141.7,80.9 139.2,82.2" fill="#1620ba" stroke="#1620ba"/>
<polygon points="151.1,82.1 153.6,80.6 151.2,79.8 148.8,81.3" fill="#1624bf" stroke="#1624bf"/>
<polygon points="165.6,79.1 168.0,77.2 165.5,76.7 163.2,78.5" fill="#1648ca" stroke="#1648ca"/>
<polygon points="175.3,76.0 177.6,74.0 175.2,73.6 172.8,75.7" fill="#1676d2" stroke="#1676d2"/>
<polygon points="185.0,72.2 187.3,69.9 184.8,69.8 182.5,72.1" fill="#16bbdc" stroke="#16bbdc"/>
<polygon points="209.6,59.2 211.9,56.4 209.2,56.7 206.9,59.5" fill="#16d622" stroke="#16d622"/>
<polygon points="219.5,52.7 221.8,49.7 219.1,50.1 216.8,53.1" fill="#20d622" stroke="#20d622"/>
<polygon points="115.0,82.8 117.6,82.2 115.3,80.8 112.8,81.4" fill="#1622b1" stroke="#1622b1"/>
<polygon points="124.6,84.0 127.2,83.2 124.9,82.0 122.4,82.8" fill="#161eb3" stroke="#161eb3"/>
<polygon points="158.4,81.9 160.8,80.3 158.4,79.7 155.9,81.3" fill="#162cc3" stroke="#162cc3"/>
<polygon points="192.4,70.0 194.8,67.6 192.2,67.6 189.9,70.0" fill="#16d4d0" stroke="#16d4d0"/>
<polygon points="202.3,64.8 204.6,62.2 202.0,62.4 199.7,65.0" fill="#16d660" stroke="#16d660"/>
<polygon points="90.8,76.3 93.5,76.3 91.3,74.5 88.7,74.5" fill="#1667b4" stroke="#1667b4"/>
<polygon points="95.7,78.0 98.3,77.9 96.1,76.1 93.5,76.3" fill="#1652b2" stroke="#1652b2"/>
<polygon points="100.5,79.5 103.1,79.3 100.9,77.6 98.3,77.9" fill="#1640b1" stroke="#1640b1"/>
<polygon points="105.4,80.8 108.0,80.5 105.7,78.9 103.1,79.3" fill="#1633b0" stroke="#1633b0"/>
<polygon points="110.2,81.9 112.8,81.4 110.5,80.0 108.0,80.5" fill="#1628b0" stroke="#1628b0"/>
<polygon points="119.8,83.5 122.4,82.8 120.1,81.5 117.6,82.2" fill="#1620b2" stroke="#1620b2"/>
<polygon points="129.5,84.3 132.0,83.4 129.7,82.2 127.2,83.2" fill="#161eb5" stroke="#161eb5"/>
<polygon points="134.3,84.4 136.7,83.4 134.4,82.3 132.0,83.4" fill="#161db7" stroke="#161db7"/>
<polygon points="139.1,84.3 141.5,83.1 139.2,82.2 136.7,83.4" fill="#161eb9" stroke="#161eb9"/>
<polygon points="143.9,84.0 146.3,82.7 144.0,81.8 141.5,83.1" fill="#161fbb" stroke="#161fbb"/>
<polygon points="148.7,83.5 151.1,82.1 148.8,81.3 146.3,82.7" fill="#1621bd" stroke="#1621bd"/>
<polygon points="153.5,82.8 155.9,81.3 153.6,80.6 151.1,82.1" fill="#1624bf" stroke="#1624bf"/>
<polygon points="163.2,80.8 165.6,79.1 163.2,78.5 160.8,80.3" fill="#1639c7" stroke="#1639c7"/>
<polygon points="168.0,79.5 170.4,77.7 168.0,77.2 165.6,79.1" fill="#164acb" stroke="#164acb"/>
<polygon points="172.9,78.0 175.3,76.0 172.8,75.7 170.4,77.7" fill="#1661cf" stroke="#1661cf"/>
<polygon points="177.7,76.3 180.1,74.2 177.6,74.0 175.3,76.0" fill="#167cd3" stroke="#167cd3"/>
<polygon points="182.6,74.4 185.0,72.2 182.5,72.1 180.1,74.2" fill="#169ed8" stroke="#169ed8"/>
<polygon points="187.5,72.3 189.9,70.0 187.3,69.9 185.0,72.2" fill="#16c4de" stroke="#16c4de"/>
<polygon points="197.4,67.5 199.7,65.0 197.1,65.1 194.8,67.6" fill="#16d6a3" stroke="#16d6a3"/>
<polygon points="207.3,61.9 209.6,59.2 206.9,59.5 204.6,62.2" fill="#16d631" stroke="#16d631"/>
<polygon points="212.3,58.9 214.5,56.1 211.9,56.4 209.6,59.2" fill="#18d622" stroke="#18d622"/>
<polygon points="217.3,55.6 219.5,52.7 216.8,53.1 214.5,56.1" fill="#1cd622" stroke="#1cd622"/>
<polygon points="222.3,52.1 224.6,49.1 221.8,49.7 219.5,52.7" fill="#22d622" stroke="#22d622"/>
<polygon points="227.4,48.4 229.6,45.3 226.8,46.0 224.6,49.1" fill="#92d622" stroke="#92d622"/>
<polygon points="88.2,76.2 90.8,76.3 88.7,74.5 86.0,74.4" fill="#1671b5" stroke="#1671b5"/>
<polygon points="97.9,79.6 100.5,79.5 98.3,77.9 95.7,78.0" fill="#1646b1" stroke="#1646b1"/>
<polygon points="107.6,82.3 110.2,81.9 108.0,80.5 105.4,80.8" fill="#162baf" stroke="#162baf"/>
<polygon points="112.5,83.3 115.0,82.8 112.8,81.4 110.2,81.9" fill="#1622b0" stroke="#1622b0"/>
<polygon points="122.1,84.7 124.6,84.0 122.4,82.8 119.8,83.5" fill="#161eb2" stroke="#161eb2"/>
<polygon points="131.8,85.4 134.3,84.4 132.0,83.4 129.5,84.3" fill="#161cb6" stroke="#161cb6"/>
<polygon points="141.4,85.2 143.9,84.0 141.5,83.1 139.1,84.3" fill="#161dba" stroke="#161dba"/>
<polygon points="151.1,84.2 153.5,82.8 151.1,82.1 148.7,83.5" fill="#1621be" stroke="#1621be"/>
<polygon points="155.9,83.4 158.4,81.9 155.9,81.3 153.5,82.8" fill="#1624c0" stroke="#1624c0"/>
<polygon points="160.8,82.4 163.2,80.8 160.8,80.3 158.4,81.9" fill="#162dc4" stroke="#162dc4"/>
<polygon points="165.6,81.2 168.0,79.5 165.6,79.1 163.2,80.8" fill="#163bc8" stroke="#163bc8"/>
<polygon points="175.4,78.3 177.7,76.3 175.3,76.0 172.9,78.0" fill="#1667cf" stroke="#1667cf"/>
<polygon points="185.2,74.5 187.5,72.3 185.0,72.2 182.6,74.4" fill="#16a8da" stroke="#16a8da"/>
<polygon points="195.0,69.9 197.4,67.5 194.8,67.6 192.4,70.0" fill="#16d5c9" stroke="#16d5c9"/>
<polygon points="205.0,64.5 207.3,61.9 204.6,62.2 202.3,64.8" fill="#16d64e" stroke="#16d64e"/>
<polygon points="209.9,61.6 212.3,58.9 209.6,59.2 207.3,61.9" fill="#16d62a" stroke="#16d62a"/>
<polygon points="220.0,55.0 222.3,52.1 219.5,52.7 217.3,55.6" fill="#1ed622" stroke="#1ed622"/>
<polygon points="230.2,47.7 232.5,44.6 229.6,45.3 227.4,48.4" fill="#bbd422" stroke="#bbd422"/>
<polygon points="93.0,78.0 95.7,78.0 93.5,76.3 90.8,76.3" fill="#165ab2" stroke="#165ab2"/>
<polygon points="102.8,81.1 105.4,80.8 103.1,79.3 100.5,79.5" fill="#1636b0" stroke="#1636b0"/>
<polygon points="117.3,84.1 119.8,83.5 117.6,82.2 115.0,82.8" fill="#1620b1" stroke="#1620b1"/>
<polygon points="126.9,85.2 129.5,84.3 127.2,83.2 124.6,84.0" fill="#161db4" stroke="#161db4"/>
<polygon points="136.6,85.4 139.1,84.3 136.7,83.4 134.3,84.4" fill="#161cb8" stroke="#161cb8"/>
<polygon points="146.3,84.8 148.7,83.5 146.3,82.7 143.9,84.0" fill="#161fbc" stroke="#161fbc"/>
<polygon points="170.5,79.8 172.9,78.0 170.4,77.7 168.0,79.5" fill="#164fcb" stroke="#164fcb"/>
<polygon points="180.3,76.5 182.6,74.4 180.1,74.2 177.7,76.3" fill="#1684d4" stroke="#1684d4"/>
<polygon points="190.1,72.3 192.4,70.0 189.9,70.0 187.5,72.3" fill="#16d0df" stroke="#16d0df"/>
<polygon points="200.0,67.3 202.3,64.8 199.7,65.0 197.4,67.5" fill="#16d68e" stroke="#16d68e"/>
<polygon points="215.0,58.4 217.3,55.6 214.5,56.1 212.3,58.9" fill="#19d622" stroke="#19d622"/>
<polygon points="225.1,51.5 227.4,48.4 224.6,49.1 222.3,52.1" fill="#25d622" stroke="#25d622"/>
<polygon points="109.9,83.7 112.5,83.3 110.2,81.9 107.6,82.3" fill="#1624af" stroke="#1624af"/>
<polygon points="153.5,84.8 155.9,83.4 153.5,82.8 151.1,84.2" fill="#1621bf" stroke="#1621bf"/>
<polygon points="163.2,82.9 165.6,81.2 163.2,80.8 160.8,82.4" fill="#1630c5" stroke="#1630c5"/>
<polygon points="207.6,64.2 209.9,61.6 207.3,61.9 205.0,64.5" fill="#16d63a" stroke="#16d63a"/>
<polygon points="85.4,75.9 88.2,76.2 86.0,74.4 83.3,74.1" fill="#167db5" stroke="#167db5"/>
<polygon points="90.4,77.9 93.0,78.0 90.8,76.3 88.2,76.2" fill="#1663b3" stroke="#1663b3"/>
<polygon points="95.2,79.6 97.9,79.6 95.7,78.0 93.0,78.0" fill="#164db1" stroke="#164db1"/>
<polygon points="100.1,81.2 102.8,81.1 100.5,79.5 97.9,79.6" fill="#163bb0" stroke="#163bb0"/>
<polygon points="105.0,82.5 107.6,82.3 105.4,80.8 102.8,81.1" fill="#162eaf" stroke="#162eaf"/>
<polygon points="114.7,84.6 117.3,84.1 115.0,82.8 112.5,83.3" fill="#1620b0" stroke="#1620b0"/>
<polygon points="119.6,85.3 122.1,84.7 119.8,83.5 117.3,84.1" fill="#161eb1" stroke="#161eb1"/>
<polygon points="124.4,85.9 126.9,85.2 124.6,84.0 122.1,84.7" fill="#161db3" stroke="#161db3"/>
<polygon points="129.3,86.2 131.8,85.4 129.5,84.3 126.9,85.2" fill="#161cb5" stroke="#161cb5"/>
<polygon points="134.1,86.3 136.6,85.4 134.3,84.4 131.8,85.4" fill="#161bb6" stroke="#161bb6"/>
<polygon points="138.9,86.3 141.4,85.2 139.1,84.3 136.6,85.4" fill="#161cb8" stroke="#161cb8"/>
<polygon points="143.8,86.0 146.3,84.8 143.9,84.0 141.4,85.2" fill="#161dba" stroke="#161dba"/>
<polygon points="148.6,85.5 151.1,84.2 148.7,83.5 146.3,84.8" fill="#161ebc" stroke="#161ebc"/>
<polygon points="158.3,83.9 160.8,82.4 158.4,81.9 155.9,83.4" fill="#1624c1" stroke="#1624c1"/>
<polygon points="168.1,81.6 170.5,79.8 168.0,79.5 165.6,81.2" fill="#163fc9" stroke="#163fc9"/>
<polygon points="173.0,80.1 175.4,78.3 172.9,78.0 170.5,79.8" fill="#1654cc" stroke="#1654cc"/>
<polygon points="177.9,78.4 180.3,76.5 177.7,76.3 175.4,78.3" fill="#166ed1" stroke="#166ed1"/>
<polygon points="182.8,76.5 185.2,74.5 182.6,74.4 180.3,76.5" fill="#168ed6" stroke="#168ed6"/>
<polygon points="187.7,74.5 190.1,72.3 187.5,72.3 185.2,74.5" fill="#16b3db" stroke="#16b3db"/>
<polygon points="192.7,72.2 195.0,69.9 192.4,70.0 190.1,72.3" fill="#16d3da" stroke="#16d3da"/>
<polygon points="197.6,69.7 200.0,67.3 197.4,67.5 195.0,69.9" fill="#16d6be" stroke="#16d6be"/>
<polygon points="202.6,67.0 205.0,64.5 202.3,64.8 200.0,67.3" fill="#16d676" stroke="#16d676"/>
<polygon points="212.7,61.1 215.0,58.4 212.3,58.9 209.9,61.6" fill="#16d622" stroke="#16d622"/>
<polygon points="217.7,57.8 220.0,55.0 217.3,55.6 215.0,58.4" fill="#1ad622" stroke="#1ad622"/>
<polygon points="222.8,54.4 225.1,51.5 222.3,52.1 220.0,55.0" fill="#20d622" stroke="#20d622"/>
<polygon points="227.9,50.7 230.2,47.7 227.4,48.4 225.1,51.5" fill="#51d622" stroke="#51d622"/>
<polygon points="233.0,46.8 235.3,43.7 232.5,44.6 230.2,47.7" fill="#d4cd22" stroke="#d4cd22"/>
<polygon points="82.7,75.5 85.4,75.9 83.3,74.1 80.5,73.8" fill="#168ab7" stroke="#168ab7"/>
<polygon points="87.6,77.6 90.4,77.9 88.2,76.2 85.4,75.9" fill="#166eb4" stroke="#166eb4"/>
<polygon points="92.6,79.5 95.2,79.6 93.0,78.0 90.4,77.9" fill="#1656b2" stroke="#1656b2"/>
<polygon points="102.4,82.6 105.0,82.5 102.8,81.1 100.1,81.2" fill="#1633af" stroke="#1633af"/>
<polygon points="107.3,83.9 109.9,83.7 107.6,82.3 105.0,82.5" fill="#1627ae" stroke="#1627ae"/>
<polygon points="112.1,85.0 114.7,84.6 112.5,83.3 109.9,83.7" fill="#1621af" stroke="#1621af"/>
<polygon points="117.0,85.8 119.6,85.3 117.3,84.1 114.7,84.6" fill="#161fb0" stroke="#161fb0"/>
<polygon points="121.9,86.5 124.4,85.9 122.1,84.7 119.6,85.3" fill="#161db2" stroke="#161db2"/>
<polygon points="126.7,86.9 129.3,86.2 126.9,85.2 124.4,85.9" fill="#161bb3" stroke="#161bb3"/>
<polygon points="131.6,87.1 134.1,86.3 131.8,85.4 129.3,86.2" fill="#161bb5" stroke="#161bb5"/>
<polygon points="136.4,87.2 138.9,86.3 136.6,85.4 134.1,86.3" fill="#161bb7" stroke="#161bb7"/>
<polygon points="146.2,86.7 148.6,85.5 146.3,84.8 143.8,86.0" fill="#161dbb" stroke="#161dbb"/>
<polygon points="151.0,86.1 153.5,84.8 151.1,84.2 148.6,85.5" fill="#161fbd" stroke="#161fbd"/>
<polygon points="155.9,85.3 158.3,83.9 155.9,83.4 153.5,84.8" fill="#1621bf" stroke="#1621bf"/>
<polygon points="160.8,84.4 163.2,82.9 160.8,82.4 158.3,83.9" fill="#1626c2" stroke="#1626c2"/>
<polygon points="165.7,83.2 168.1,81.6 165.6,81.2 163.2,82.9" fill="#1633c6" stroke="#1633c6"/>
<polygon points="170.6,81.8 173.0,80.1 170.5,79.8 168.1,81.6" fill="#1644ca" stroke="#1644ca"/>
<polygon points="180.4,78.5 182.8,76.5 180.3,76.5 177.9,78.4" fill="#1677d2" stroke="#1677d2"/>
<polygon points="185.3,76.5 187.7,74.5 185.2,74.5 182.8,76.5" fill="#169ad7" stroke="#169ad7"/>
<polygon points="190.3,74.3 192.7,72.2 190.1,72.3 187.7,74.5" fill="#16c1dd" stroke="#16c1dd"/>
<polygon points="195.3,72.0 197.6,69.7 195.0,69.9 192.7,72.2" fill="#16d4d1" stroke="#16d4d1"/>
<polygon points="200.3,69.4 202.6,67.0 200.0,67.3 197.6,69.7" fill="#16d6a5" stroke="#16d6a5"/>
<polygon points="205.3,66.6 207.6,64.2 205.0,64.5 202.6,67.0" fill="#16d661" stroke="#16d661"/>
<polygon points="210.3,63.7 212.7,61.1 209.9,61.6 207.6,64.2" fill="#16d631" stroke="#16d631"/>
<polygon points="215.4,60.5 217.7,57.8 215.0,58.4 212.7,61.1" fill="#18d622" stroke="#18d622"/>
<polygon points="225.6,53.6 227.9,50.7 225.1,51.5 222.8,54.4" fill="#23d622" stroke="#23d622"/>
<polygon points="230.8,49.8 233.0,46.8 230.2,47.7 227.9,50.7" fill="#9cd622" stroke="#9cd622"/>
<polygon points="235.9,45.9 238.2,42.8 235.3,43.7 233.0,46.8" fill="#d4c022" stroke="#d4c022"/>
<polygon points="97.5,81.2 100.1,81.2 97.9,79.6 95.2,79.6" fill="#1642b0" stroke="#1642b0"/>
<polygon points="141.3,87.0 143.8,86.0 141.4,85.2 138.9,86.3" fill="#161bb9" stroke="#161bb9"/>
<polygon points="175.5,80.2 177.9,78.4 175.4,78.3 173.0,80.1" fill="#165bce" stroke="#165bce"/>
<polygon points="220.5,57.1 222.8,54.4 220.0,55.0 217.7,57.8" fill="#1cd622" stroke="#1cd622"/>
<polygon points="79.9,75.0 82.7,75.5 80.5,73.8 77.8,73.3" fill="#1699b8" stroke="#1699b8"/>
<polygon points="89.9,79.2 92.6,79.5 90.4,77.9 87.6,77.6" fill="#1661b2" stroke="#1661b2"/>
<polygon points="104.6,84.0 107.3,83.9 105.0,82.5 102.4,82.6" fill="#162cae" stroke="#162cae"/>
<polygon points="114.4,86.1 117.0,85.8 114.7,84.6 112.1,85.0" fill="#1620b0" stroke="#1620b0"/>
<polygon points="124.2,87.5 126.7,86.9 124.4,85.9 121.9,86.5" fill="#161cb2" stroke="#161cb2"/>
<polygon points="133.9,88.0 136.4,87.2 134.1,86.3 131.6,87.1" fill="#161ab6" stroke="#161ab6"/>
<polygon points="148.6,87.3 151.0,86.1 148.6,85.5 146.2,86.7" fill="#161dbc" stroke="#161dbc"/>
<polygon points="158.3,85.7 160.8,84.4 158.3,83.9 155.9,85.3" fill="#1622c0" stroke="#1622c0"/>
<polygon points="168.2,83.4 170.6,81.8 168.1,81.6 165.7,83.2" fill="#1638c7" stroke="#1638c7"/>
<polygon points="183.0,78.4 185.3,76.5 182.8,76.5 180.4,78.5" fill="#1682d4" stroke="#1682d4"/>
<polygon points="192.9,74.1 195.3,72.0 192.7,72.2 190.3,74.3" fill="#16d0df" stroke="#16d0df"/>
<polygon points="202.9,69.0 205.3,66.6 202.6,67.0 200.3,69.4" fill="#16d68b" stroke="#16d68b"/>
<polygon points="213.1,63.1 215.4,60.5 212.7,61.1 210.3,63.7" fill="#16d628" stroke="#16d628"/>
<polygon points="228.5,52.7 230.8,49.8 227.9,50.7 225.6,53.6" fill="#2ed622" stroke="#2ed622"/>
<polygon points="238.9,44.8 241.2,41.7 238.2,42.8 235.9,45.9" fill="#d4b222" stroke="#d4b222"/>
<polygon points="84.9,77.2 87.6,77.6 85.4,75.9 82.7,75.5" fill="#167bb5" stroke="#167bb5"/>
<polygon points="94.8,81.0 97.5,81.2 95.2,79.6 92.6,79.5" fill="#164bb0" stroke="#164bb0"/>
<polygon points="99.7,82.6 102.4,82.6 100.1,81.2 97.5,81.2" fill="#1639af" stroke="#1639af"/>
<polygon points="109.5,85.2 112.1,85.0 109.9,83.7 107.3,83.9" fill="#1622ae" stroke="#1622ae"/>
<polygon points="119.3,86.9 121.9,86.5 119.6,85.3 117.0,85.8" fill="#161db1" stroke="#161db1"/>
<polygon points="129.1,87.8 131.6,87.1 129.3,86.2 126.7,86.9" fill="#161ab4" stroke="#161ab4"/>
<polygon points="138.8,88.0 141.3,87.0 138.9,86.3 136.4,87.2" fill="#161ab8" stroke="#161ab8"/>
<polygon points="143.7,87.7 146.2,86.7 143.8,86.0 141.3,87.0" fill="#161bba" stroke="#161bba"/>
<polygon points="153.4,86.6 155.9,85.3 153.5,84.8 151.0,86.1" fill="#161fbe" stroke="#161fbe"/>
<polygon points="163.2,84.7 165.7,83.2 163.2,82.9 160.8,84.4" fill="#162ac3" stroke="#162ac3"/>
<polygon points="173.1,82.0 175.5,80.2 173.0,80.1 170.6,81.8" fill="#164bcb" stroke="#164bcb"/>
<polygon points="178.0,80.3 180.4,78.5 177.9,78.4 175.5,80.2" fill="#1664cf" stroke="#1664cf"/>
<polygon points="187.9,76.4 190.3,74.3 187.7,74.5 185.3,76.5" fill="#16a7d9" stroke="#16a7d9"/>
<polygon points="197.9,71.7 200.3,69.4 197.6,69.7 195.3,72.0" fill="#16d5c8" stroke="#16d5c8"/>
<polygon points="208.0,66.1 210.3,63.7 207.6,64.2 205.3,66.6" fill="#16d64b" stroke="#16d64b"/>
<polygon points="218.2,59.8 220.5,57.1 217.7,57.8 215.4,60.5" fill="#19d622" stroke="#19d622"/>
<polygon points="223.3,56.4 225.6,53.6 222.8,54.4 220.5,57.1" fill="#1ed622" stroke="#1ed622"/>
<polygon points="233.7,48.9 235.9,45.9 233.0,46.8 230.8,49.8" fill="#c5d222" stroke="#c5d222"/>
<polygon points="77.1,74.4 79.9,75.0 77.8,73.3 75.0,72.6" fill="#169ead" stroke="#169ead"/>
<polygon points="87.1,78.9 89.9,79.2 87.6,77.6 84.9,77.2" fill="#1666a6" stroke="#1666a6"/>
<polygon points="97.0,82.5 99.7,82.6 97.5,81.2 94.8,81.0" fill="#163ea2" stroke="#163ea2"/>
<polygon points="102.0,84.0 104.6,84.0 102.4,82.6 99.7,82.6" fill="#1630a1" stroke="#1630a1"/>
<polygon points="106.9,85.3 109.5,85.2 107.3,83.9 104.6,84.0" fill="#1625a2" stroke="#1625a2"/>
<polygon points="111.8,86.4 114.4,86.1 112.1,85.0 109.5,85.2" fill="#1620a4" stroke="#1620a4"/>
<polygon points="116.7,87.3 119.3,86.9 117.0,85.8 114.4,86.1" fill="#161ea7" stroke="#161ea7"/>
<polygon points="121.6,87.9 124.2,87.5 121.9,86.5 119.3,86.9" fill="#161caa" stroke="#161caa"/>
<polygon points="131.4,88.7 133.9,88.0 131.6,87.1 129.1,87.8" fill="#161ab3" stroke="#161ab3"/>
<polygon points="141.2,88.6 143.7,87.7 141.3,87.0 138.8,88.0" fill="#161ab8" stroke="#161ab8"/>
<polygon points="146.1,88.3 148.6,87.3 146.2,86.7 143.7,87.7" fill="#161bbb" stroke="#161bbb"/>
<polygon points="151.0,87.7 153.4,86.6 151.0,86.1 148.6,87.3" fill="#161dbd" stroke="#161dbd"/>
<polygon points="155.9,87.0 158.3,85.7 155.9,85.3 153.4,86.6" fill="#1620bf" stroke="#1620bf"/>
<polygon points="160.8,86.1 163.2,84.7 160.8,84.4 158.3,85.7" fill="#1624c1" stroke="#1624c1"/>
<polygon points="165.7,84.9 168.2,83.4 165.7,83.2 163.2,84.7" fill="#162ec5" stroke="#162ec5"/>
<polygon points="170.7,83.6 173.1,82.0 170.6,81.8 168.2,83.4" fill="#163ec9" stroke="#163ec9"/>
<polygon points="175.6,82.0 178.0,80.3 175.5,80.2 173.1,82.0" fill="#1654cc" stroke="#1654cc"/>
<polygon points="185.5,78.3 187.9,76.4 185.3,76.5 183.0,78.4" fill="#1690d6" stroke="#1690d6"/>
<polygon points="195.6,73.8 197.9,71.7 195.3,72.0 192.9,74.1" fill="#16d3d8" stroke="#16d3d8"/>
<polygon points="200.6,71.3 202.9,69.0 200.3,69.4 197.9,71.7" fill="#16d6b7" stroke="#16d6b7"/>
<polygon points="205.6,68.5 208.0,66.1 205.3,66.6 202.9,69.0" fill="#16d66f" stroke="#16d66f"/>
<polygon points="210.7,65.6 213.1,63.1 210.3,63.7 208.0,66.1" fill="#16d636" stroke="#16d636"/>
<polygon points="215.8,62.4 218.2,59.8 215.4,60.5 213.1,63.1" fill="#17d622" stroke="#17d622"/>
<polygon points="221.0,59.1 223.3,56.4 220.5,57.1 218.2,59.8" fill="#1bd622" stroke="#1bd622"/>
<polygon points="231.4,51.8 233.7,48.9 230.8,49.8 228.5,52.7" fill="#69d622" stroke="#69d622"/>
<polygon points="241.9,43.7 244.2,40.6 241.2,41.7 238.9,44.8" fill="#d4a122" stroke="#d4a122"/>
<polygon points="82.1,76.7 84.9,77.2 82.7,75.5 79.9,75.0" fill="#1680a9" stroke="#1680a9"/>
<polygon points="92.1,80.8 94.8,81.0 92.6,79.5 89.9,79.2" fill="#1650a3" stroke="#1650a3"/>
<polygon points="126.5,88.4 129.1,87.8 126.7,86.9 124.2,87.5" fill="#161bae" stroke="#161bae"/>
<polygon points="136.3,88.8 138.8,88.0 136.4,87.2 133.9,88.0" fill="#161ab7" stroke="#161ab7"/>
<polygon points="180.6,80.3 183.0,78.4 180.4,78.5 178.0,80.3" fill="#166fd1" stroke="#166fd1"/>
<polygon points="190.5,76.2 192.9,74.1 190.3,74.3 187.9,76.4" fill="#16b6dc" stroke="#16b6dc"/>
<polygon points="226.2,55.5 228.5,52.7 225.6,53.6 223.3,56.4" fill="#21d622" stroke="#21d622"/>
<polygon points="236.6,47.8 238.9,44.8 235.9,45.9 233.7,48.9" fill="#d4c722" stroke="#d4c722"/>
<polygon points="74.3,73.6 77.1,74.4 75.0,72.6 72.1,71.9" fill="#169094" stroke="#169094"/>
<polygon points="99.3,83.8 102.0,84.0 99.7,82.6 97.0,82.5" fill="#163290" stroke="#163290"/>
<polygon points="109.2,86.5 111.8,86.4 109.5,85.2 106.9,85.3" fill="#162091" stroke="#162091"/>
<polygon points="119.0,88.3 121.6,87.9 119.3,86.9 116.7,87.3" fill="#161c97" stroke="#161c97"/>
<polygon points="143.6,89.2 146.1,88.3 143.7,87.7 141.2,88.6" fill="#161aad" stroke="#161aad"/>
<polygon points="153.4,88.2 155.9,87.0 153.4,86.6 151.0,87.7" fill="#161eba" stroke="#161eba"/>
<polygon points="163.3,86.3 165.7,84.9 163.2,84.7 160.8,86.1" fill="#1626c3" stroke="#1626c3"/>
<polygon points="173.2,83.6 175.6,82.0 173.1,82.0 170.7,83.6" fill="#1646ca" stroke="#1646ca"/>
<polygon points="198.2,73.4 200.6,71.3 197.9,71.7 195.6,73.8" fill="#16d5cd" stroke="#16d5cd"/>
<polygon points="208.4,67.9 210.7,65.6 208.0,66.1 205.6,68.5" fill="#16d656" stroke="#16d656"/>
<polygon points="218.7,61.6 221.0,59.1 218.2,59.8 215.8,62.4" fill="#19d622" stroke="#19d622"/>
<polygon points="244.9,42.4 247.2,39.3 244.2,40.6 241.9,43.7" fill="#d48d22" stroke="#d48d22"/>
<polygon points="79.3,76.1 82.1,76.7 79.9,75.0 77.1,74.4" fill="#168099" stroke="#168099"/>
<polygon points="84.3,78.3 87.1,78.9 84.9,77.2 82.1,76.7" fill="#166895" stroke="#166895"/>
<polygon points="89.3,80.4 92.1,80.8 89.9,79.2 87.1,78.9" fill="#165293" stroke="#165293"/>
<polygon points="94.3,82.2 97.0,82.5 94.8,81.0 92.1,80.8" fill="#164191" stroke="#164191"/>
<polygon points="104.2,85.2 106.9,85.3 104.6,84.0 102.0,84.0" fill="#162890" stroke="#162890"/>
<polygon points="114.1,87.5 116.7,87.3 114.4,86.1 111.8,86.4" fill="#161e94" stroke="#161e94"/>
<polygon points="123.9,88.9 126.5,88.4 124.2,87.5 121.6,87.9" fill="#161b9a" stroke="#161b9a"/>
<polygon points="128.8,89.3 131.4,88.7 129.1,87.8 126.5,88.4" fill="#161a9e" stroke="#161a9e"/>
<polygon points="133.8,89.4 136.3,88.8 133.9,88.0 131.4,88.7" fill="#1619a2" stroke="#1619a2"/>
<polygon points="138.7,89.4 141.2,88.6 138.8,88.0 136.3,88.8" fill="#161aa7" stroke="#161aa7"/>
<polygon points="148.5,88.8 151.0,87.7 148.6,87.3 146.1,88.3" fill="#161cb3" stroke="#161cb3"/>
<polygon points="158.3,87.3 160.8,86.1 158.3,85.7 155.9,87.0" fill="#1621c0" stroke="#1621c0"/>
<polygon points="168.2,85.1 170.7,83.6 168.2,83.4 165.7,84.9" fill="#1634c7" stroke="#1634c7"/>
<polygon points="178.2,82.0 180.6,80.3 178.0,80.3 175.6,82.0" fill="#165ece" stroke="#165ece"/>
<polygon points="183.1,80.1 185.5,78.3 183.0,78.4 180.6,80.3" fill="#167bd3" stroke="#167bd3"/>
<polygon points="188.1,78.1 190.5,76.2 187.9,76.4 185.5,78.3" fill="#169fd8" stroke="#169fd8"/>
<polygon points="193.2,75.8 195.6,73.8 192.9,74.1 190.5,76.2" fill="#16c7de" stroke="#16c7de"/>
<polygon points="203.3,70.8 205.6,68.5 202.9,69.0 200.6,71.3" fill="#16d699" stroke="#16d699"/>
<polygon points="213.5,64.9 215.8,62.4 213.1,63.1 210.7,65.6" fill="#16d62c" stroke="#16d62c"/>
<polygon points="223.8,58.2 226.2,55.5 223.3,56.4 221.0,59.1" fill="#1dd622" stroke="#1dd622"/>
<polygon points="229.0,54.5 231.4,51.8 228.5,52.7 226.2,55.5" fill="#24d622" stroke="#24d622"/>
<polygon points="234.3,50.7 236.6,47.8 233.7,48.9 231.4,51.8" fill="#b6d522" stroke="#b6d522"/>
<polygon points="239.6,46.7 241.9,43.7 238.9,44.8 236.6,47.8" fill="#d4b922" stroke="#d4b922"/>
<polygon points="71.4,72.7 74.3,73.6 72.1,71.9 69.3,71.0" fill="#16817c" stroke="#16817c"/>
<polygon points="81.5,77.7 84.3,78.3 82.1,76.7 79.3,76.1" fill="#166886" stroke="#166886"/>
<polygon points="91.6,81.8 94.3,82.2 92.1,80.8 89.3,80.4" fill="#164382" stroke="#164382"/>
<polygon points="96.6,83.5 99.3,83.8 97.0,82.5 94.3,82.2" fill="#163680" stroke="#163680"/>
<polygon points="101.5,85.1 104.2,85.2 102.0,84.0 99.3,83.8" fill="#162b80" stroke="#162b80"/>
<polygon points="106.5,86.4 109.2,86.5 106.9,85.3 104.2,85.2" fill="#162380" stroke="#162380"/>
<polygon points="111.5,87.5 114.1,87.5 111.8,86.4 109.2,86.5" fill="#161e82" stroke="#161e82"/>
<polygon points="116.4,88.5 119.0,88.3 116.7,87.3 114.1,87.5" fill="#161c84" stroke="#161c84"/>
<polygon points="121.3,89.2 123.9,88.9 121.6,87.9 119.0,88.3" fill="#161b87" stroke="#161b87"/>
<polygon points="126.3,89.7 128.8,89.3 126.5,88.4 123.9,88.9" fill="#161a8a" stroke="#161a8a"/>
<polygon points="136.1,90.1 138.7,89.4 136.3,88.8 133.8,89.4" fill="#161993" stroke="#161993"/>
<polygon points="141.1,90.0 143.6,89.2 141.2,88.6 138.7,89.4" fill="#161a97" stroke="#161a97"/>
<polygon points="146.0,89.7 148.5,88.8 146.1,88.3 143.6,89.2" fill="#161b9d" stroke="#161b9d"/>
<polygon points="150.9,89.2 153.4,88.2 151.0,87.7 148.5,88.8" fill="#161ca3" stroke="#161ca3"/>
<polygon points="155.9,88.5 158.3,87.3 155.9,87.0 153.4,88.2" fill="#161faa" stroke="#161faa"/>
<polygon points="160.8,87.5 163.3,86.3 160.8,86.1 158.3,87.3" fill="#1622b1" stroke="#1622b1"/>
<polygon points="165.8,86.4 168.2,85.1 165.7,84.9 163.3,86.3" fill="#162bba" stroke="#162bba"/>
<polygon points="170.7,85.1 173.2,83.6 170.7,83.6 168.2,85.1" fill="#163ac4" stroke="#163ac4"/>
<polygon points="175.7,83.6 178.2,82.0 175.6,82.0 173.2,83.6" fill="#1650cc" stroke="#1650cc"/>
<polygon points="180.7,81.8 183.1,80.1 180.6,80.3 178.2,82.0" fill="#166ad0" stroke="#166ad0"/>
<polygon points="190.8,77.8 193.2,75.8 190.5,76.2 188.1,78.1" fill="#16b0db" stroke="#16b0db"/>
<polygon points="195.8,75.4 198.2,73.4 195.6,73.8 193.2,75.8" fill="#16d3db" stroke="#16d3db"/>
<polygon points="200.9,72.9 203.3,70.8 200.6,71.3 198.2,73.4" fill="#16d6c1" stroke="#16d6c1"/>
<polygon points="206.0,70.2 208.4,67.9 205.6,68.5 203.3,70.8" fill="#16d678" stroke="#16d678"/>
<polygon points="211.1,67.2 213.5,64.9 210.7,65.6 208.4,67.9" fill="#16d63c" stroke="#16d63c"/>
<polygon points="216.3,64.1 218.7,61.6 215.8,62.4 213.5,64.9" fill="#16d622" stroke="#16d622"/>
<polygon points="221.5,60.7 223.8,58.2 221.0,59.1 218.7,61.6" fill="#1ad622" stroke="#1ad622"/>
<polygon points="226.7,57.2 229.0,54.5 226.2,55.5 223.8,58.2" fill="#20d622" stroke="#20d622"/>
<polygon points="237.3,49.5 239.6,46.7 236.6,47.8 234.3,50.7" fill="#d4cc22" stroke="#d4cc22"/>
<polygon points="248.0,41.1 250.3,38.0 247.2,39.3 244.9,42.4" fill="#d47822" stroke="#d47822"/>
<polygon points="76.5,75.3 79.3,76.1 77.1,74.4 74.3,73.6" fill="#167e89" stroke="#167e89"/>
<polygon points="86.6,79.8 89.3,80.4 87.1,78.9 84.3,78.3" fill="#165484" stroke="#165484"/>
<polygon points="131.2,90.0 133.8,89.4 131.4,88.7 128.8,89.3" fill="#16198e" stroke="#16198e"/>
<polygon points="185.7,79.9 188.1,78.1 185.5,78.3 183.1,80.1" fill="#168ad5" stroke="#168ad5"/>
<polygon points="232.0,53.5 234.3,50.7 231.4,51.8 229.0,54.5" fill="#53d622" stroke="#53d622"/>
<polygon points="242.6,45.4 244.9,42.4 241.9,43.7 239.6,46.7" fill="#d4a822" stroke="#d4a822"/>
<polygon points="93.8,83.1 96.6,83.5 94.3,82.2 91.6,81.8" fill="#163872" stroke="#163872"/>
<polygon points="103.8,86.3 106.5,86.4 104.2,85.2 101.5,85.1" fill="#162571" stroke="#162571"/>
<polygon points="113.8,88.5 116.4,88.5 114.1,87.5 111.5,87.5" fill="#161d74" stroke="#161d74"/>
<polygon points="123.7,90.0 126.3,89.7 123.9,88.9 121.3,89.2" fill="#161a79" stroke="#161a79"/>
<polygon points="138.5,90.7 141.1,90.0 138.7,89.4 136.1,90.1" fill="#161984" stroke="#161984"/>
<polygon points="148.4,90.1 150.9,89.2 148.5,88.8 146.0,89.7" fill="#161b8e" stroke="#161b8e"/>
<polygon points="168.3,86.4 170.7,85.1 168.2,85.1 165.8,86.4" fill="#162faa" stroke="#162faa"/>
<polygon points="178.3,83.4 180.7,81.8 178.2,82.0 175.7,83.6" fill="#1656be" stroke="#1656be"/>
<polygon points="193.4,77.3 195.8,75.4 193.2,75.8 190.8,77.8" fill="#16c3dd" stroke="#16c3dd"/>
<polygon points="203.6,72.3 206.0,70.2 203.3,70.8 200.9,72.9" fill="#16d6a0" stroke="#16d6a0"/>
<polygon points="213.9,66.4 216.3,64.1 213.5,64.9 211.1,67.2" fill="#16d62f" stroke="#16d62f"/>
<polygon points="224.4,59.8 226.7,57.2 223.8,58.2 221.5,60.7" fill="#1dd622" stroke="#1dd622"/>
<polygon points="78.7,76.9 81.5,77.7 79.3,76.1 76.5,75.3" fill="#166778" stroke="#166778"/>
<polygon points="88.8,81.3 91.6,81.8 89.3,80.4 86.6,79.8" fill="#164473" stroke="#164473"/>
<polygon points="98.8,84.8 101.5,85.1 99.3,83.8 96.6,83.5" fill="#162d71" stroke="#162d71"/>
<polygon points="133.6,90.7 136.1,90.1 133.8,89.4 131.2,90.0" fill="#161980" stroke="#161980"/>
<polygon points="143.5,90.5 146.0,89.7 143.6,89.2 141.1,90.0" fill="#161a88" stroke="#161a88"/>
<polygon points="158.3,88.7 160.8,87.5 158.3,87.3 155.9,88.5" fill="#161f9a" stroke="#161f9a"/>
<polygon points="173.3,85.0 175.7,83.6 173.2,83.6 170.7,85.1" fill="#163fb4" stroke="#163fb4"/>
<polygon points="183.3,81.6 185.7,79.9 183.1,80.1 180.7,81.8" fill="#1674cb" stroke="#1674cb"/>
<polygon points="219.1,63.2 221.5,60.7 218.7,61.6 216.3,64.1" fill="#18d622" stroke="#18d622"/>
<polygon points="229.6,56.1 232.0,53.5 229.0,54.5 226.7,57.2" fill="#23d622" stroke="#23d622"/>
<polygon points="240.3,48.3 242.6,45.4 239.6,46.7 237.3,49.5" fill="#d4bd22" stroke="#d4bd22"/>
<polygon points="73.6,74.4 76.5,75.3 74.3,73.6 71.4,72.7" fill="#166f73" stroke="#166f73"/>
<polygon points="83.8,79.2 86.6,79.8 84.3,78.3 81.5,77.7" fill="#165475" stroke="#165475"/>
<polygon points="108.8,87.5 111.5,87.5 109.2,86.5 106.5,86.4" fill="#161f72" stroke="#161f72"/>
<polygon points="118.7,89.4 121.3,89.2 119.0,88.3 116.4,88.5" fill="#161b76" stroke="#161b76"/>
<polygon points="128.6,90.4 131.2,90.0 128.8,89.3 126.3,89.7" fill="#161a7c" stroke="#161a7c"/>
<polygon points="153.4,89.5 155.9,88.5 153.4,88.2 150.9,89.2" fill="#161d93" stroke="#161d93"/>
<polygon points="163.3,87.7 165.8,86.4 163.3,86.3 160.8,87.5" fill="#1623a1" stroke="#1623a1"/>
<polygon points="188.4,79.6 190.8,77.8 188.1,78.1 185.7,79.9" fill="#169bd8" stroke="#169bd8"/>
<polygon points="198.5,74.9 200.9,72.9 198.2,73.4 195.8,75.4" fill="#16d4d0" stroke="#16d4d0"/>
<polygon points="208.8,69.5 211.1,67.2 208.4,67.9 206.0,70.2" fill="#16d65d" stroke="#16d65d"/>
<polygon points="234.9,52.3 237.3,49.5 234.3,50.7 232.0,53.5" fill="#aad622" stroke="#aad622"/>
<polygon points="245.7,44.0 248.0,41.1 244.9,42.4 242.6,45.4" fill="#d49322" stroke="#d49322"/>
<polygon points="91.0,82.6 93.8,83.1 91.6,81.8 88.8,81.3" fill="#163965" stroke="#163965"/>
<polygon points="101.1,86.0 103.8,86.3 101.5,85.1 98.8,84.8" fill="#162763" stroke="#162763"/>
<polygon points="136.0,91.2 138.5,90.7 136.1,90.1 133.6,90.7" fill="#161972" stroke="#161972"/>
<polygon points="145.9,90.9 148.4,90.1 146.0,89.7 143.5,90.5" fill="#161a7a" stroke="#161a7a"/>
<polygon points="170.8,86.4 173.3,85.0 170.7,85.1 168.3,86.4" fill="#16329b" stroke="#16329b"/>
<polygon points="180.9,83.2 183.3,81.6 180.7,81.8 178.3,83.4" fill="#165aaf" stroke="#165aaf"/>
<polygon points="216.8,65.5 219.1,63.2 216.3,64.1 213.9,66.4" fill="#16d624" stroke="#16d624"/>
<polygon points="227.3,58.7 229.6,56.1 226.7,57.2 224.4,59.8" fill="#1fd622" stroke="#1fd622"/>
<polygon points="75.8,76.0 78.7,76.9 76.5,75.3 73.6,74.4" fill="#166068" stroke="#166068"/>
<polygon points="86.0,80.6 88.8,81.3 86.6,79.8 83.8,79.2" fill="#164566" stroke="#164566"/>
<polygon points="96.1,84.4 98.8,84.8 96.6,83.5 93.8,83.1" fill="#162f64" stroke="#162f64"/>
<polygon points="106.1,87.3 108.8,87.5 106.5,86.4 103.8,86.3" fill="#162164" stroke="#162164"/>
<polygon points="111.1,88.5 113.8,88.5 111.5,87.5 108.8,87.5" fill="#161d65" stroke="#161d65"/>
<polygon points="116.1,89.4 118.7,89.4 116.4,88.5 113.8,88.5" fill="#161c67" stroke="#161c67"/>
<polygon points="121.1,90.2 123.7,90.0 121.3,89.2 118.7,89.4" fill="#161b69" stroke="#161b69"/>
<polygon points="126.0,90.7 128.6,90.4 126.3,89.7 123.7,90.0" fill="#161a6b" stroke="#161a6b"/>
<polygon points="131.0,91.1 133.6,90.7 131.2,90.0 128.6,90.4" fill="#16196e" stroke="#16196e"/>
<polygon points="140.9,91.1 143.5,90.5 141.1,90.0 138.5,90.7" fill="#161a76" stroke="#161a76"/>
<polygon points="150.9,90.4 153.4,89.5 150.9,89.2 148.4,90.1" fill="#161b7f" stroke="#161b7f"/>
<polygon points="155.8,89.7 158.3,88.7 155.9,88.5 153.4,89.5" fill="#161d85" stroke="#161d85"/>
<polygon points="160.8,88.8 163.3,87.7 160.8,87.5 158.3,88.7" fill="#161f8b" stroke="#161f8b"/>
<polygon points="165.8,87.7 168.3,86.4 165.8,86.4 163.3,87.7" fill="#162693" stroke="#162693"/>
<polygon points="175.9,84.9 178.3,83.4 175.7,83.6 173.3,85.0" fill="#1643a4" stroke="#1643a4"/>
<polygon points="185.9,81.3 188.4,79.6 185.7,79.9 183.3,81.6" fill="#1679bb" stroke="#1679bb"/>
<polygon points="191.0,79.1 193.4,77.3 190.8,77.8 188.4,79.6" fill="#16a1c9" stroke="#16a1c9"/>
<polygon points="196.1,76.8 198.5,74.9 195.8,75.4 193.4,77.3" fill="#16ccd6" stroke="#16ccd6"/>
<polygon points="201.2,74.3 203.6,72.3 200.9,72.9 198.5,74.9" fill="#16d6c3" stroke="#16d6c3"/>
<polygon points="206.4,71.6 208.8,69.5 206.0,70.2 203.6,72.3" fill="#16d67d" stroke="#16d67d"/>
<polygon points="211.6,68.7 213.9,66.4 211.1,67.2 208.8,69.5" fill="#16d640" stroke="#16d640"/>
<polygon points="222.0,62.2 224.4,59.8 221.5,60.7 219.1,63.2" fill="#1ad622" stroke="#1ad622"/>
<polygon points="232.6,54.9 234.9,52.3 232.0,53.5 229.6,56.1" fill="#47d622" stroke="#47d622"/>
<polygon points="243.3,46.9 245.7,44.0 242.6,45.4 240.3,48.3" fill="#d4ac22" stroke="#d4ac22"/>
<polygon points="80.9,78.4 83.8,79.2 81.5,77.7 78.7,76.9" fill="#165368" stroke="#165368"/>
<polygon points="238.0,51.0 240.3,48.3 237.3,49.5 234.9,52.3" fill="#d3cf22" stroke="#d3cf22"/>
<polygon points="88.2,81.9 91.0,82.6 88.8,81.3 86.0,80.6" fill="#163958" stroke="#163958"/>
<polygon points="98.4,85.5 101.1,86.0 98.8,84.8 96.1,84.4" fill="#162857" stroke="#162857"/>
<polygon points="108.4,88.3 111.1,88.5 108.8,87.5 106.1,87.3" fill="#161e57" stroke="#161e57"/>
<polygon points="118.4,90.3 121.1,90.2 118.7,89.4 116.1,89.4" fill="#161b5a" stroke="#161b5a"/>
<polygon points="128.4,91.4 131.0,91.1 128.6,90.4 126.0,90.7" fill="#161a5f" stroke="#161a5f"/>
<polygon points="133.4,91.6 136.0,91.2 133.6,90.7 131.0,91.1" fill="#161962" stroke="#161962"/>
<polygon points="143.4,91.5 145.9,90.9 143.5,90.5 140.9,91.1" fill="#161a69" stroke="#161a69"/>
<polygon points="153.3,90.6 155.8,89.7 153.4,89.5 150.9,90.4" fill="#161c72" stroke="#161c72"/>
<polygon points="163.3,88.8 165.8,87.7 163.3,87.7 160.8,88.8" fill="#16217d" stroke="#16217d"/>
<polygon points="173.4,86.2 175.9,84.9 173.3,85.0 170.8,86.4" fill="#16358d" stroke="#16358d"/>
<polygon points="183.5,82.8 185.9,81.3 183.3,81.6 180.9,83.2" fill="#165ea0" stroke="#165ea0"/>
<polygon points="188.6,80.8 191.0,79.1 188.4,79.6 185.9,81.3" fill="#167dac" stroke="#167dac"/>
<polygon points="198.8,76.2 201.2,74.3 198.5,74.9 196.1,76.8" fill="#16bbb9" stroke="#16bbb9"/>
<polygon points="209.2,70.8 211.6,68.7 208.8,69.5 206.4,71.6" fill="#16d55e" stroke="#16d55e"/>
<polygon points="219.7,64.5 222.0,62.2 219.1,63.2 216.8,65.5" fill="#18d622" stroke="#18d622"/>
<polygon points="230.3,57.5 232.6,54.9 229.6,56.1 227.3,58.7" fill="#23d622" stroke="#23d622"/>
<polygon points="83.2,79.8 86.0,80.6 83.8,79.2 80.9,78.4" fill="#16445a" stroke="#16445a"/>
<polygon points="93.3,83.8 96.1,84.4 93.8,83.1 91.0,82.6" fill="#163057" stroke="#163057"/>
<polygon points="103.4,87.0 106.1,87.3 103.8,86.3 101.1,86.0" fill="#162357" stroke="#162357"/>
<polygon points="138.4,91.7 140.9,91.1 138.5,90.7 136.0,91.2" fill="#161965" stroke="#161965"/>
<polygon points="148.3,91.1 150.9,90.4 148.4,90.1 145.9,90.9" fill="#161a6d" stroke="#161a6d"/>
<polygon points="158.3,89.8 160.8,88.8 158.3,88.7 155.8,89.7" fill="#161d77" stroke="#161d77"/>
<polygon points="168.4,87.6 170.8,86.4 168.3,86.4 165.8,87.7" fill="#162985" stroke="#162985"/>
<polygon points="178.4,84.6 180.9,83.2 178.3,83.4 175.9,84.9" fill="#164796" stroke="#164796"/>
<polygon points="214.4,67.8 216.8,65.5 213.9,66.4 211.6,68.7" fill="#16d630" stroke="#16d630"/>
<polygon points="224.9,61.1 227.3,58.7 224.4,59.8 222.0,62.2" fill="#1cd622" stroke="#1cd622"/>
<polygon points="235.6,53.7 238.0,51.0 234.9,52.3 232.6,54.9" fill="#a2d622" stroke="#a2d622"/>
<polygon points="78.0,77.5 80.9,78.4 78.7,76.9 75.8,76.0" fill="#16505c" stroke="#16505c"/>
<polygon points="113.4,89.4 116.1,89.4 113.8,88.5 111.1,88.5" fill="#161c59" stroke="#161c59"/>
<polygon points="123.4,90.9 126.0,90.7 123.7,90.0 121.1,90.2" fill="#161a5c" stroke="#161a5c"/>
<polygon points="193.7,78.6 196.1,76.8 193.4,77.3 191.0,79.1" fill="#16a3ba" stroke="#16a3ba"/>
<polygon points="204.0,73.6 206.4,71.6 203.6,72.3 201.2,74.3" fill="#16c898" stroke="#16c898"/>
<polygon points="241.0,49.6 243.3,46.9 240.3,48.3 238.0,51.0" fill="#d4bf22" stroke="#d4bf22"/>
<polygon points="130.8,91.9 133.4,91.6 131.0,91.1 128.4,91.4" fill="#161954" stroke="#161954"/>
<polygon points="186.2,82.4 188.6,80.8 185.9,81.3 183.5,82.8" fill="#166192" stroke="#166192"/>
<polygon points="85.4,81.1 88.2,81.9 86.0,80.6 83.2,79.8" fill="#16374d" stroke="#16374d"/>
<polygon points="95.6,85.0 98.4,85.5 96.1,84.4 93.3,83.8" fill="#16294c" stroke="#16294c"/>
<polygon points="105.7,88.0 108.4,88.3 106.1,87.3 103.4,87.0" fill="#16204c" stroke="#16204c"/>
<polygon points="140.8,92.0 143.4,91.5 140.9,91.1 138.4,91.7" fill="#161a59" stroke="#161a59"/>
<polygon points="176.0,86.0 178.4,84.6 175.9,84.9 173.4,86.2" fill="#16397f" stroke="#16397f"/>
<polygon points="212.0,69.9 214.4,67.8 211.6,68.7 209.2,70.8" fill="#16c33c" stroke="#16c33c"/>
<polygon points="222.6,63.4 224.9,61.1 222.0,62.2 219.7,64.5" fill="#1ad622" stroke="#1ad622"/>
<polygon points="233.3,56.2 235.6,53.7 232.6,54.9 230.3,57.5" fill="#44d622" stroke="#44d622"/>
<polygon points="80.3,78.9 83.2,79.8 80.9,78.4 78.0,77.5" fill="#16414f" stroke="#16414f"/>
<polygon points="90.5,83.1 93.3,83.8 91.0,82.6 88.2,81.9" fill="#162f4c" stroke="#162f4c"/>
<polygon points="100.6,86.6 103.4,87.0 101.1,86.0 98.4,85.5" fill="#16244b" stroke="#16244b"/>
<polygon points="110.7,89.2 113.4,89.4 111.1,88.5 108.4,88.3" fill="#161c4c" stroke="#161c4c"/>
<polygon points="115.8,90.2 118.4,90.3 116.1,89.4 113.4,89.4" fill="#161b4d" stroke="#161b4d"/>
<polygon points="120.8,91.0 123.4,90.9 121.1,90.2 118.4,90.3" fill="#161a4f" stroke="#161a4f"/>
<polygon points="125.8,91.5 128.4,91.4 126.0,90.7 123.4,90.9" fill="#161a51" stroke="#161a51"/>
<polygon points="135.8,92.1 138.4,91.7 136.0,91.2 133.4,91.6" fill="#161956" stroke="#161956"/>
<polygon points="145.8,91.8 148.3,91.1 145.9,90.9 143.4,91.5" fill="#161a5d" stroke="#161a5d"/>
<polygon points="150.8,91.3 153.3,90.6 150.9,90.4 148.3,91.1" fill="#161b61" stroke="#161b61"/>
<polygon points="155.8,90.7 158.3,89.8 155.8,89.7 153.3,90.6" fill="#161c65" stroke="#161c65"/>
<polygon points="160.8,89.8 163.3,88.8 160.8,88.8 158.3,89.8" fill="#161e6a" stroke="#161e6a"/>
<polygon points="165.9,88.7 168.4,87.6 165.8,87.7 163.3,88.8" fill="#162471" stroke="#162471"/>
<polygon points="170.9,87.4 173.4,86.2 170.8,86.4 168.4,87.6" fill="#162c78" stroke="#162c78"/>
<polygon points="181.1,84.3 183.5,82.8 180.9,83.2 178.4,84.6" fill="#164a88" stroke="#164a88"/>
<polygon points="191.3,80.3 193.7,78.6 191.0,79.1 188.6,80.8" fill="#167f9e" stroke="#167f9e"/>
<polygon points="196.4,78.0 198.8,76.2 196.1,76.8 193.7,78.6" fill="#169fa8" stroke="#169fa8"/>
<polygon points="201.6,75.5 204.0,73.6 201.2,74.3 198.8,76.2" fill="#16ab9e" stroke="#16ab9e"/>
<polygon points="206.8,72.8 209.2,70.8 206.4,71.6 204.0,73.6" fill="#16b76d" stroke="#16b76d"/>
<polygon points="217.3,66.7 219.7,64.5 216.8,65.5 214.4,67.8" fill="#16d124" stroke="#16d124"/>
<polygon points="227.9,59.9 230.3,57.5 227.3,58.7 224.9,61.1" fill="#1fd622" stroke="#1fd622"/>
<polygon points="238.7,52.3 241.0,49.6 238.0,51.0 235.6,53.7" fill="#d0cf22" stroke="#d0cf22"/>
<polygon points="82.5,80.2 85.4,81.1 83.2,79.8 80.3,78.9" fill="#163543" stroke="#163543"/>
<polygon points="92.8,84.3 95.6,85.0 93.3,83.8 90.5,83.1" fill="#162841" stroke="#162841"/>
<polygon points="102.9,87.5 105.7,88.0 103.4,87.0 100.6,86.6" fill="#162041" stroke="#162041"/>
<polygon points="113.1,90.0 115.8,90.2 113.4,89.4 110.7,89.2" fill="#161b42" stroke="#161b42"/>
<polygon points="123.1,91.6 125.8,91.5 123.4,90.9 120.8,91.0" fill="#161a45" stroke="#161a45"/>
<polygon points="128.2,92.1 130.8,91.9 128.4,91.4 125.8,91.5" fill="#161a47" stroke="#161a47"/>
<polygon points="133.2,92.4 135.8,92.1 133.4,91.6 130.8,91.9" fill="#161949" stroke="#161949"/>
<polygon points="138.2,92.4 140.8,92.0 138.4,91.7 135.8,92.1" fill="#16194c" stroke="#16194c"/>
<polygon points="148.3,92.0 150.8,91.3 148.3,91.1 145.8,91.8" fill="#161a52" stroke="#161a52"/>
<polygon points="153.3,91.4 155.8,90.7 153.3,90.6 150.8,91.3" fill="#161b56" stroke="#161b56"/>
<polygon points="158.3,90.7 160.8,89.8 158.3,89.8 155.8,90.7" fill="#161c5a" stroke="#161c5a"/>
<polygon points="163.4,89.7 165.9,88.7 163.3,88.8 160.8,89.8" fill="#16205f" stroke="#16205f"/>
<polygon points="168.4,88.5 170.9,87.4 168.4,87.6 165.9,88.7" fill="#162665" stroke="#162665"/>
<polygon points="178.6,85.6 181.1,84.3 178.4,84.6 176.0,86.0" fill="#163b73" stroke="#163b73"/>
<polygon points="183.7,83.8 186.2,82.4 183.5,82.8 181.1,84.3" fill="#164c7b" stroke="#164c7b"/>
<polygon points="188.8,81.8 191.3,80.3 188.6,80.8 186.2,82.4" fill="#166385" stroke="#166385"/>
<polygon points="194.0,79.6 196.4,78.0 193.7,78.6 191.3,80.3" fill="#167f90" stroke="#167f90"/>
<polygon points="204.4,74.6 206.8,72.8 204.0,73.6 201.6,75.5" fill="#169b76" stroke="#169b76"/>
<polygon points="214.9,68.8 217.3,66.7 214.4,67.8 212.0,69.9" fill="#16b32c" stroke="#16b32c"/>
<polygon points="225.5,62.2 227.9,59.9 224.9,61.1 222.6,63.4" fill="#1cd022" stroke="#1cd022"/>
<polygon points="236.3,54.8 238.7,52.3 235.6,53.7 233.3,56.2" fill="#a3d622" stroke="#a3d622"/>
<polygon points="87.7,82.3 90.5,83.1 88.2,81.9 85.4,81.1" fill="#162e42" stroke="#162e42"/>
<polygon points="97.9,86.0 100.6,86.6 98.4,85.5 95.6,85.0" fill="#162441" stroke="#162441"/>
<polygon points="108.0,88.9 110.7,89.2 108.4,88.3 105.7,88.0" fill="#161d42" stroke="#161d42"/>
<polygon points="143.2,92.3 145.8,91.8 143.4,91.5 140.8,92.0" fill="#161a4f" stroke="#161a4f"/>
<polygon points="173.5,87.2 176.0,86.0 173.4,86.2 170.9,87.4" fill="#162f6b" stroke="#162f6b"/>
<polygon points="209.6,71.8 212.0,69.9 209.2,70.8 206.8,72.8" fill="#16a64c" stroke="#16a64c"/>
<polygon points="220.2,65.6 222.6,63.4 219.7,64.5 217.3,66.7" fill="#18c022" stroke="#18c022"/>
<polygon points="230.9,58.6 233.3,56.2 230.3,57.5 227.9,59.9" fill="#23d622" stroke="#23d622"/>
<polygon points="118.1,90.9 120.8,91.0 118.4,90.3 115.8,90.2" fill="#161a43" stroke="#161a43"/>
<polygon points="199.2,77.2 201.6,75.5 198.8,76.2 196.4,78.0" fill="#16908f" stroke="#16908f"/>
<polygon points="125.5,92.1 128.2,92.1 125.8,91.5 123.1,91.6" fill="#16193c" stroke="#16193c"/>
<polygon points="135.6,92.7 138.2,92.4 135.8,92.1 133.2,92.4" fill="#161940" stroke="#161940"/>
<polygon points="181.3,85.1 183.7,83.8 181.1,84.3 178.6,85.6" fill="#163c67" stroke="#163c67"/>
<polygon points="191.6,81.2 194.0,79.6 191.3,80.3 188.8,81.8" fill="#166379" stroke="#166379"/>
<polygon points="89.9,83.4 92.8,84.3 90.5,83.1 87.7,82.3" fill="#162639" stroke="#162639"/>
<polygon points="100.2,87.0 102.9,87.5 100.6,86.6 97.9,86.0" fill="#162038" stroke="#162038"/>
<polygon points="110.3,89.7 113.1,90.0 110.7,89.2 108.0,88.9" fill="#161c39" stroke="#161c39"/>
<polygon points="155.8,91.4 158.3,90.7 155.8,90.7 153.3,91.4" fill="#161b4b" stroke="#161b4b"/>
<polygon points="160.9,90.6 163.4,89.7 160.8,89.8 158.3,90.7" fill="#161d4f" stroke="#161d4f"/>
<polygon points="207.2,73.7 209.6,71.8 206.8,72.8 204.4,74.6" fill="#168c53" stroke="#168c53"/>
<polygon points="217.8,67.7 220.2,65.6 217.3,66.7 214.9,68.8" fill="#16a322" stroke="#16a322"/>
<polygon points="228.5,60.9 230.9,58.6 227.9,59.9 225.5,62.2" fill="#1ec022" stroke="#1ec022"/>
<polygon points="84.8,81.4 87.7,82.3 85.4,81.1 82.5,80.2" fill="#162b39" stroke="#162b39"/>
<polygon points="95.1,85.3 97.9,86.0 95.6,85.0 92.8,84.3" fill="#162338" stroke="#162338"/>
<polygon points="105.3,88.4 108.0,88.9 105.7,88.0 102.9,87.5" fill="#161d38" stroke="#161d38"/>
<polygon points="115.4,90.7 118.1,90.9 115.8,90.2 113.1,90.0" fill="#161a39" stroke="#161a39"/>
<polygon points="120.5,91.5 123.1,91.6 120.8,91.0 118.1,90.9" fill="#161a3b" stroke="#161a3b"/>
<polygon points="130.6,92.5 133.2,92.4 130.8,91.9 128.2,92.1" fill="#16193e" stroke="#16193e"/>
<polygon points="140.7,92.7 143.2,92.3 140.8,92.0 138.2,92.4" fill="#161942" stroke="#161942"/>
<polygon points="145.7,92.5 148.3,92.0 145.8,91.8 143.2,92.3" fill="#161a45" stroke="#161a45"/>
<polygon points="150.7,92.0 153.3,91.4 150.8,91.3 148.3,92.0" fill="#161a48" stroke="#161a48"/>
<polygon points="165.9,89.5 168.4,88.5 165.9,88.7 163.4,89.7" fill="#162154" stroke="#162154"/>
<polygon points="171.0,88.3 173.5,87.2 170.9,87.4 168.4,88.5" fill="#16275a" stroke="#16275a"/>
<polygon points="176.1,86.8 178.6,85.6 176.0,86.0 173.5,87.2" fill="#163060" stroke="#163060"/>
<polygon points="186.4,83.3 188.8,81.8 186.2,82.4 183.7,83.8" fill="#164d6f" stroke="#164d6f"/>
<polygon points="196.7,78.9 199.2,77.2 196.4,78.0 194.0,79.6" fill="#16777e" stroke="#16777e"/>
<polygon points="202.0,76.4 204.4,74.6 201.6,75.5 199.2,77.2" fill="#168276" stroke="#168276"/>
<polygon points="212.5,70.8 214.9,68.8 212.0,69.9 209.6,71.8" fill="#169732" stroke="#169732"/>
<polygon points="223.1,64.4 225.5,62.2 222.6,63.4 220.2,65.6" fill="#1ab122" stroke="#1ab122"/>
<polygon points="234.0,57.2 236.3,54.8 233.3,56.2 230.9,58.6" fill="#49d122" stroke="#49d122"/>
<polygon points="87.0,82.5 89.9,83.4 87.7,82.3 84.8,81.4" fill="#162634" stroke="#162634"/>
<polygon points="97.4,86.3 100.2,87.0 97.9,86.0 95.1,85.3" fill="#162034" stroke="#162034"/>
<polygon points="107.6,89.2 110.3,89.7 108.0,88.9 105.3,88.4" fill="#161c33" stroke="#161c33"/>
<polygon points="117.8,91.3 120.5,91.5 118.1,90.9 115.4,90.7" fill="#161a33" stroke="#161a33"/>
<polygon points="122.8,92.0 125.5,92.1 123.1,91.6 120.5,91.5" fill="#161933" stroke="#161933"/>
<polygon points="127.9,92.5 130.6,92.5 128.2,92.1 125.5,92.1" fill="#161934" stroke="#161934"/>
<polygon points="133.0,92.9 135.6,92.7 133.2,92.4 130.6,92.5" fill="#161936" stroke="#161936"/>
<polygon points="138.0,93.0 140.7,92.7 138.2,92.4 135.6,92.7" fill="#161938" stroke="#161938"/>
<polygon points="143.1,92.9 145.7,92.5 143.2,92.3 140.7,92.7" fill="#16193a" stroke="#16193a"/>
<polygon points="148.2,92.5 150.7,92.0 148.3,92.0 145.7,92.5" fill="#161a3c" stroke="#161a3c"/>
<polygon points="153.3,92.0 155.8,91.4 153.3,91.4 150.7,92.0" fill="#161a3f" stroke="#161a3f"/>
<polygon points="158.3,91.3 160.9,90.6 158.3,90.7 155.8,91.4" fill="#161c42" stroke="#161c42"/>
<polygon points="163.4,90.4 165.9,89.5 163.4,89.7 160.9,90.6" fill="#161e46" stroke="#161e46"/>
<polygon points="168.5,89.2 171.0,88.3 168.4,88.5 165.9,89.5" fill="#16224a" stroke="#16224a"/>
<polygon points="173.6,87.9 176.1,86.8 173.5,87.2 171.0,88.3" fill="#162850" stroke="#162850"/>
<polygon points="178.8,86.3 181.3,85.1 178.6,85.6 176.1,86.8" fill="#163155" stroke="#163155"/>
<polygon points="183.9,84.6 186.4,83.3 183.7,83.8 181.3,85.1" fill="#163d5c" stroke="#163d5c"/>
<polygon points="189.1,82.6 191.6,81.2 188.8,81.8 186.4,83.3" fill="#164d64" stroke="#164d64"/>
<polygon points="194.3,80.4 196.7,78.9 194.0,79.6 191.6,81.2" fill="#16616d" stroke="#16616d"/>
<polygon points="199.5,78.1 202.0,76.4 199.2,77.2 196.7,78.9" fill="#166b6b" stroke="#166b6b"/>
<polygon points="210.1,72.7 212.5,70.8 209.6,71.8 207.2,73.7" fill="#167e3c" stroke="#167e3c"/>
<polygon points="220.7,66.5 223.1,64.4 220.2,65.6 217.8,67.7" fill="#189522" stroke="#189522"/>
<polygon points="231.6,59.5 234.0,57.2 230.9,58.6 228.5,60.9" fill="#21b122" stroke="#21b122"/>
<polygon points="92.2,84.5 95.1,85.3 92.8,84.3 89.9,83.4" fill="#162334" stroke="#162334"/>
<polygon points="102.5,87.8 105.3,88.4 102.9,87.5 100.2,87.0" fill="#161e33" stroke="#161e33"/>
<polygon points="112.7,90.3 115.4,90.7 113.1,90.0 110.3,89.7" fill="#161b33" stroke="#161b33"/>
<polygon points="204.8,75.5 207.2,73.7 204.4,74.6 202.0,76.4" fill="#167457" stroke="#167457"/>
<polygon points="215.4,69.7 217.8,67.7 214.9,68.8 212.5,70.8" fill="#168928" stroke="#168928"/>
<polygon points="226.1,63.1 228.5,60.9 225.5,62.2 223.1,64.4" fill="#1ba222" stroke="#1ba222"/>
<polygon points="120.2,91.8 122.8,92.0 120.5,91.5 117.8,91.3" fill="#161a33" stroke="#161a33"/>
<polygon points="130.3,92.9 133.0,92.9 130.6,92.5 127.9,92.5" fill="#161934" stroke="#161934"/>
<polygon points="186.6,83.9 189.1,82.6 186.4,83.3 183.9,84.6" fill="#163c52" stroke="#163c52"/>
<polygon points="197.1,79.6 199.5,78.1 196.7,78.9 194.3,80.4" fill="#16565c" stroke="#16565c"/>
<polygon points="94.5,85.4 97.4,86.3 95.1,85.3 92.2,84.5" fill="#162234" stroke="#162234"/>
<polygon points="104.8,88.6 107.6,89.2 105.3,88.4 102.5,87.8" fill="#161e33" stroke="#161e33"/>
<polygon points="115.0,90.9 117.8,91.3 115.4,90.7 112.7,90.3" fill="#161b33" stroke="#161b33"/>
<polygon points="140.5,93.1 143.1,92.9 140.7,92.7 138.0,93.0" fill="#161934" stroke="#161934"/>
<polygon points="150.7,92.5 153.3,92.0 150.7,92.0 148.2,92.5" fill="#161935" stroke="#161935"/>
<polygon points="155.8,91.9 158.3,91.3 155.8,91.4 153.3,92.0" fill="#161a37" stroke="#161a37"/>
<polygon points="160.9,91.1 163.4,90.4 160.9,90.6 158.3,91.3" fill="#161c3a" stroke="#161c3a"/>
<polygon points="166.0,90.1 168.5,89.2 165.9,89.5 163.4,90.4" fill="#161e3d" stroke="#161e3d"/>
<polygon points="176.3,87.4 178.8,86.3 176.1,86.8 173.6,87.9" fill="#162846" stroke="#162846"/>
<polygon points="202.3,77.1 204.8,75.5 202.0,76.4 199.5,78.1" fill="#165e54" stroke="#165e54"/>
<polygon points="213.0,71.6 215.4,69.7 212.5,70.8 210.1,72.7" fill="#16702b" stroke="#16702b"/>
<polygon points="223.7,65.2 226.1,63.1 223.1,64.4 220.7,66.5" fill="#198722" stroke="#198722"/>
<polygon points="89.3,83.5 92.2,84.5 89.9,83.4 87.0,82.5" fill="#162634" stroke="#162634"/>
<polygon points="99.7,87.1 102.5,87.8 100.2,87.0 97.4,86.3" fill="#162034" stroke="#162034"/>
<polygon points="109.9,89.9 112.7,90.3 110.3,89.7 107.6,89.2" fill="#161c33" stroke="#161c33"/>
<polygon points="125.2,92.4 127.9,92.5 125.5,92.1 122.8,92.0" fill="#161933" stroke="#161933"/>
<polygon points="135.4,93.1 138.0,93.0 135.6,92.7 133.0,92.9" fill="#161934" stroke="#161934"/>
<polygon points="145.6,92.9 148.2,92.5 145.7,92.5 143.1,92.9" fill="#161934" stroke="#161934"/>
<polygon points="171.1,88.8 173.6,87.9 171.0,88.3 168.5,89.2" fill="#162341" stroke="#162341"/>
<polygon points="181.4,85.8 183.9,84.6 181.3,85.1 178.8,86.3" fill="#16304b" stroke="#16304b"/>
<polygon points="191.8,81.8 194.3,80.4 191.6,81.2 189.1,82.6" fill="#164b59" stroke="#164b59"/>
<polygon points="207.6,74.4 210.1,72.7 207.2,73.7 204.8,75.5" fill="#16673f" stroke="#16673f"/>
<polygon points="218.3,68.5 220.7,66.5 217.8,67.7 215.4,69.7" fill="#167b22" stroke="#167b22"/>
<polygon points="229.2,61.7 231.6,59.5 228.5,60.9 226.1,63.1" fill="#1d9522" stroke="#1d9522"/>
<polygon points="117.4,91.4 120.2,91.8 117.8,91.3 115.0,90.9" fill="#161b33" stroke="#161b33"/>
<polygon points="199.9,78.6 202.3,77.1 199.5,78.1 197.1,79.6" fill="#164b4d" stroke="#164b4d"/>
<polygon points="91.6,84.4 94.5,85.4 92.2,84.5 89.3,83.5" fill="#162534" stroke="#162534"/>
<polygon points="102.0,87.9 104.8,88.6 102.5,87.8 99.7,87.1" fill="#162034" stroke="#162034"/>
<polygon points="112.3,90.5 115.0,90.9 112.7,90.3 109.9,89.9" fill="#161c33" stroke="#161c33"/>
<polygon points="122.5,92.2 125.2,92.4 122.8,92.0 120.2,91.8" fill="#161a34" stroke="#161a34"/>
<polygon points="127.7,92.8 130.3,92.9 127.9,92.5 125.2,92.4" fill="#161a34" stroke="#161a34"/>
<polygon points="132.8,93.1 135.4,93.1 133.0,92.9 130.3,92.9" fill="#161934" stroke="#161934"/>
<polygon points="137.9,93.2 140.5,93.1 138.0,93.0 135.4,93.1" fill="#161934" stroke="#161934"/>
<polygon points="143.0,93.2 145.6,92.9 143.1,92.9 140.5,93.1" fill="#161934" stroke="#161934"/>
<polygon points="148.1,92.9 150.7,92.5 148.2,92.5 145.6,92.9" fill="#161a34" stroke="#161a34"/>
<polygon points="153.2,92.4 155.8,91.9 153.3,92.0 150.7,92.5" fill="#161a35" stroke="#161a35"/>
<polygon points="158.3,91.7 160.9,91.1 158.3,91.3 155.8,91.9" fill="#161b35" stroke="#161b35"/>
<polygon points="163.5,90.8 166.0,90.1 163.4,90.4 160.9,91.1" fill="#161d36" stroke="#161d36"/>
<polygon points="168.6,89.7 171.1,88.8 168.5,89.2 166.0,90.1" fill="#161f36" stroke="#161f36"/>
<polygon points="173.8,88.3 176.3,87.4 173.6,87.9 171.1,88.8" fill="#162239" stroke="#162239"/>
<polygon points="179.0,86.8 181.4,85.8 178.8,86.3 176.3,87.4" fill="#16273e" stroke="#16273e"/>
<polygon points="184.1,85.1 186.6,83.9 183.9,84.6 181.4,85.8" fill="#162f42" stroke="#162f42"/>
<polygon points="189.4,83.1 191.8,81.8 189.1,82.6 186.6,83.9" fill="#163948" stroke="#163948"/>
<polygon points="194.6,81.0 197.1,79.6 194.3,80.4 191.8,81.8" fill="#16444d" stroke="#16444d"/>
<polygon points="205.2,76.1 207.6,74.4 204.8,75.5 202.3,77.1" fill="#16533e" stroke="#16533e"/>
<polygon points="215.9,70.3 218.3,68.5 215.4,69.7 213.0,71.6" fill="#166424" stroke="#166424"/>
<polygon points="226.8,63.8 229.2,61.7 226.1,63.1 223.7,65.2" fill="#1a7b22" stroke="#1a7b22"/>
<polygon points="96.8,86.3 99.7,87.1 97.4,86.3 94.5,85.4" fill="#162234" stroke="#162234"/>
<polygon points="107.1,89.3 109.9,89.9 107.6,89.2 104.8,88.6" fill="#161e34" stroke="#161e34"/>
<polygon points="210.5,73.3 213.0,71.6 210.1,72.7 207.6,74.4" fill="#165b2e" stroke="#165b2e"/>
<polygon points="221.3,67.2 223.7,65.2 220.7,66.5 218.3,68.5" fill="#186f22" stroke="#186f22"/>
<polygon points="114.7,90.9 117.4,91.4 115.0,90.9 112.3,90.5" fill="#161d34" stroke="#161d34"/>
<polygon points="125.0,92.5 127.7,92.8 125.2,92.4 122.5,92.2" fill="#161b34" stroke="#161b34"/>
<polygon points="145.5,93.1 148.1,92.9 145.6,92.9 143.0,93.2" fill="#161a34" stroke="#161a34"/>
<polygon points="171.2,89.2 173.8,88.3 171.1,88.8 168.6,89.7" fill="#162137" stroke="#162137"/>
<polygon points="192.1,82.3 194.6,81.0 191.8,81.8 189.4,83.1" fill="#16353f" stroke="#16353f"/>
<polygon points="202.7,77.6 205.2,76.1 202.3,77.1 199.9,78.6" fill="#16413b" stroke="#16413b"/>
<polygon points="99.1,87.0 102.0,87.9 99.7,87.1 96.8,86.3" fill="#162234" stroke="#162234"/>
<polygon points="109.5,89.8 112.3,90.5 109.9,89.9 107.1,89.3" fill="#161e34" stroke="#161e34"/>
<polygon points="119.8,91.8 122.5,92.2 120.2,91.8 117.4,91.4" fill="#161c34" stroke="#161c34"/>
<polygon points="135.2,93.2 137.9,93.2 135.4,93.1 132.8,93.1" fill="#161a34" stroke="#161a34"/>
<polygon points="140.4,93.3 143.0,93.2 140.5,93.1 137.9,93.2" fill="#161a34" stroke="#161a34"/>
<polygon points="150.6,92.7 153.2,92.4 150.7,92.5 148.1,92.9" fill="#161b35" stroke="#161b35"/>
<polygon points="155.8,92.2 158.3,91.7 155.8,91.9 153.2,92.4" fill="#161c35" stroke="#161c35"/>
<polygon points="160.9,91.4 163.5,90.8 160.9,91.1 158.3,91.7" fill="#161d36" stroke="#161d36"/>
<polygon points="166.1,90.4 168.6,89.7 166.0,90.1 163.5,90.8" fill="#161e36" stroke="#161e36"/>
<polygon points="176.4,87.8 179.0,86.8 176.3,87.4 173.8,88.3" fill="#162337" stroke="#162337"/>
<polygon points="181.7,86.1 184.1,85.1 181.4,85.8 179.0,86.8" fill="#162638" stroke="#162638"/>
<polygon points="197.4,80.0 199.9,78.6 197.1,79.6 194.6,81.0" fill="#163b41" stroke="#163b41"/>
<polygon points="208.1,74.9 210.5,73.3 207.6,74.4 205.2,76.1" fill="#164830" stroke="#164830"/>
<polygon points="218.9,69.0 221.3,67.2 218.3,68.5 215.9,70.3" fill="#175922" stroke="#175922"/>
<polygon points="93.9,85.3 96.8,86.3 94.5,85.4 91.6,84.4" fill="#162534" stroke="#162534"/>
<polygon points="104.3,88.5 107.1,89.3 104.8,88.6 102.0,87.9" fill="#162034" stroke="#162034"/>
<polygon points="130.1,93.0 132.8,93.1 130.3,92.9 127.7,92.8" fill="#161a34" stroke="#161a34"/>
<polygon points="186.9,84.3 189.4,83.1 186.6,83.9 184.1,85.1" fill="#162c3a" stroke="#162c3a"/>
<polygon points="213.5,72.1 215.9,70.3 213.0,71.6 210.5,73.3" fill="#165026" stroke="#165026"/>
<polygon points="224.4,65.7 226.8,63.8 223.7,65.2 221.3,67.2" fill="#186322" stroke="#186322"/>
<polygon points="111.9,90.3 114.7,90.9 112.3,90.5 109.5,89.8" fill="#061319" stroke="#061319"/>
<polygon points="122.2,92.1 125.0,92.5 122.5,92.2 119.8,91.8" fill="#061119" stroke="#061119"/>
<polygon points="195.0,81.3 197.4,80.0 194.6,81.0 192.1,82.3" fill="#162f37" stroke="#162f37"/>
<polygon points="205.6,76.4 208.1,74.9 205.2,76.1 202.7,77.6" fill="#16382e" stroke="#16382e"/>
<polygon points="96.2,86.0 99.1,87.0 96.8,86.3 93.9,85.3" fill="#061719" stroke="#061719"/>
<polygon points="106.7,89.1 109.5,89.8 107.1,89.3 104.3,88.5" fill="#061419" stroke="#061419"/>
<polygon points="117.1,91.3 119.8,91.8 117.4,91.4 114.7,90.9" fill="#061219" stroke="#061219"/>
<polygon points="127.4,92.7 130.1,93.0 127.7,92.8 125.0,92.5" fill="#061019" stroke="#061019"/>
<polygon points="132.6,93.1 135.2,93.2 132.8,93.1 130.1,93.0" fill="#161b34" stroke="#161b34"/>
<polygon points="137.7,93.3 140.4,93.3 137.9,93.2 135.2,93.2" fill="#161b34" stroke="#161b34"/>
<polygon points="142.9,93.2 145.5,93.1 143.0,93.2 140.4,93.3" fill="#161b34" stroke="#161b34"/>
<polygon points="148.0,93.0 150.6,92.7 148.1,92.9 145.5,93.1" fill="#161b35" stroke="#161b35"/>
<polygon points="153.2,92.5 155.8,92.2 153.2,92.4 150.6,92.7" fill="#161c35" stroke="#161c35"/>
<polygon points="158.3,91.8 160.9,91.4 158.3,91.7 155.8,92.2" fill="#161d35" stroke="#161d35"/>
<polygon points="163.5,91.0 166.1,90.4 163.5,90.8 160.9,91.4" fill="#161f36" stroke="#161f36"/>
<polygon points="168.7,89.9 171.2,89.2 168.6,89.7 166.1,90.4" fill="#162136" stroke="#162136"/>
<polygon points="173.9,88.6 176.4,87.8 173.8,88.3 171.2,89.2" fill="#162337" stroke="#162337"/>
<polygon points="179.1,87.1 181.7,86.1 179.0,86.8 176.4,87.8" fill="#162638" stroke="#162638"/>
<polygon points="184.4,85.3 186.9,84.3 184.1,85.1 181.7,86.1" fill="#162a38" stroke="#162a38"/>
<polygon points="189.7,83.4 192.1,82.3 189.4,83.1 186.9,84.3" fill="#162e39" stroke="#162e39"/>
<polygon points="200.3,79.0 202.7,77.6 199.9,78.6 197.4,80.0" fill="#163234" stroke="#163234"/>
<polygon points="211.0,73.7 213.5,72.1 210.5,73.3 208.1,74.9" fill="#163f26" stroke="#163f26"/>
<polygon points="221.9,67.5 224.4,65.7 221.3,67.2 218.9,69.0" fill="#174f22" stroke="#174f22"/>
<polygon points="101.5,87.6 104.3,88.5 102.0,87.9 99.1,87.0" fill="#061519" stroke="#061519"/>
<polygon points="216.5,70.7 218.9,69.0 215.9,70.3 213.5,72.1" fill="#164622" stroke="#164622"/>
<polygon points="109.1,89.5 111.9,90.3 109.5,89.8 106.7,89.1" fill="#061419" stroke="#061419"/>
<polygon points="119.5,91.6 122.2,92.1 119.8,91.8 117.1,91.3" fill="#061219" stroke="#061219"/>
<polygon points="140.2,93.2 142.9,93.2 140.4,93.3 137.7,93.3" fill="#061119" stroke="#061119"/>
<polygon points="145.4,93.1 148.0,93.0 145.5,93.1 142.9,93.2" fill="#061119" stroke="#061119"/>
<polygon points="150.6,92.7 153.2,92.5 150.6,92.7 148.0,93.0" fill="#061119" stroke="#061119"/>
<polygon points="166.1,90.4 168.7,89.9 166.1,90.4 163.5,91.0" fill="#162136" stroke="#162136"/>
<polygon points="171.4,89.3 173.9,88.6 171.2,89.2 168.7,89.9" fill="#162337" stroke="#162337"/>
<polygon points="176.6,87.9 179.1,87.1 176.4,87.8 173.9,88.6" fill="#162637" stroke="#162637"/>
<polygon points="197.8,80.2 200.3,79.0 197.4,80.0 195.0,81.3" fill="#162f34" stroke="#162f34"/>
<polygon points="208.6,75.2 211.0,73.7 208.1,74.9 205.6,76.4" fill="#163026" stroke="#163026"/>
<polygon points="103.8,88.2 106.7,89.1 104.3,88.5 101.5,87.6" fill="#061519" stroke="#061519"/>
<polygon points="114.3,90.7 117.1,91.3 114.7,90.9 111.9,90.3" fill="#061319" stroke="#061319"/>
<polygon points="124.7,92.3 127.4,92.7 125.0,92.5 122.2,92.1" fill="#061119" stroke="#061119"/>
<polygon points="129.8,92.8 132.6,93.1 130.1,93.0 127.4,92.7" fill="#061119" stroke="#061119"/>
<polygon points="135.0,93.1 137.7,93.3 135.2,93.2 132.6,93.1" fill="#061119" stroke="#061119"/>
<polygon points="155.7,92.2 158.3,91.8 155.8,92.2 153.2,92.5" fill="#161e35" stroke="#161e35"/>
<polygon points="160.9,91.4 163.5,91.0 160.9,91.4 158.3,91.8" fill="#161f36" stroke="#161f36"/>
<polygon points="181.9,86.3 184.4,85.3 181.7,86.1 179.1,87.1" fill="#162938" stroke="#162938"/>
<polygon points="187.2,84.5 189.7,83.4 186.9,84.3 184.4,85.3" fill="#162d39" stroke="#162d39"/>
<polygon points="192.5,82.4 195.0,81.3 192.1,82.3 189.7,83.4" fill="#162f37" stroke="#162f37"/>
<polygon points="203.2,77.8 205.6,76.4 202.7,77.6 200.3,79.0" fill="#162f2c" stroke="#162f2c"/>
<polygon points="214.0,72.3 216.5,70.7 213.5,72.1 211.0,73.7" fill="#163623" stroke="#163623"/>
<polygon points="98.6,86.6 101.5,87.6 99.1,87.0 96.2,86.0" fill="#061719" stroke="#061719"/>
<polygon points="219.5,69.3 221.9,67.5 218.9,69.0 216.5,70.7" fill="#173d22" stroke="#173d22"/>
<polygon points="106.2,88.6 109.1,89.5 106.7,89.1 103.8,88.2" fill="#061619" stroke="#061619"/>
<polygon points="116.7,91.0 119.5,91.6 117.1,91.3 114.3,90.7" fill="#061319" stroke="#061319"/>
<polygon points="200.7,79.0 203.2,77.8 200.3,79.0 197.8,80.2" fill="#162f2e" stroke="#162f2e"/>
<polygon points="211.6,73.8 214.0,72.3 211.0,73.7 208.6,75.2" fill="#162f23" stroke="#162f23"/>
<polygon points="100.9,87.2 103.8,88.2 101.5,87.6 98.6,86.6" fill="#061719" stroke="#061719"/>
<polygon points="111.4,89.9 114.3,90.7 111.9,90.3 109.1,89.5" fill="#061419" stroke="#061419"/>
<polygon points="121.9,91.8 124.7,92.3 122.2,92.1 119.5,91.6" fill="#061319" stroke="#061319"/>
<polygon points="127.1,92.4 129.8,92.8 127.4,92.7 124.7,92.3" fill="#061219" stroke="#061219"/>
<polygon points="132.3,92.8 135.0,93.1 132.6,93.1 129.8,92.8" fill="#061219" stroke="#061219"/>
<polygon points="137.5,93.0 140.2,93.2 137.7,93.3 135.0,93.1" fill="#061119" stroke="#061119"/>
<polygon points="142.7,93.0 145.4,93.1 142.9,93.2 140.2,93.2" fill="#061119" stroke="#061119"/>
<polygon points="147.9,92.8 150.6,92.7 148.0,93.0 145.4,93.1" fill="#061219" stroke="#061219"/>
<polygon points="153.1,92.4 155.7,92.2 153.2,92.5 150.6,92.7" fill="#061219" stroke="#061219"/>
<polygon points="158.3,91.7 160.9,91.4 158.3,91.8 155.7,92.2" fill="#061319" stroke="#061319"/>
<polygon points="163.6,90.9 166.1,90.4 163.5,91.0 160.9,91.4" fill="#061419" stroke="#061419"/>
<polygon points="168.8,89.8 171.4,89.3 168.7,89.9 166.1,90.4" fill="#061519" stroke="#061519"/>
<polygon points="174.1,88.5 176.6,87.9 173.9,88.6 171.4,89.3" fill="#162637" stroke="#162637"/>
<polygon points="179.3,87.1 181.9,86.3 179.1,87.1 176.6,87.9" fill="#162938" stroke="#162938"/>
<polygon points="184.6,85.4 187.2,84.5 184.4,85.3 181.9,86.3" fill="#162c38" stroke="#162c38"/>
<polygon points="190.0,83.5 192.5,82.4 189.7,83.4 187.2,84.5" fill="#162f38" stroke="#162f38"/>
<polygon points="195.3,81.4 197.8,80.2 195.0,81.3 192.5,82.4" fill="#162f35" stroke="#162f35"/>
<polygon points="206.1,76.5 208.6,75.2 205.6,76.4 203.2,77.8" fill="#162f27" stroke="#162f27"/>
<polygon points="217.0,70.8 219.5,69.3 216.5,70.7 214.0,72.3" fill="#162f22" stroke="#162f22"/>
<polygon points="103.3,87.6 106.2,88.6 103.8,88.2 100.9,87.2" fill="#061819" stroke="#061819"/>
<polygon points="113.9,90.2 116.7,91.0 114.3,90.7 111.4,89.9" fill="#061519" stroke="#061519"/>
<polygon points="124.3,91.9 127.1,92.4 124.7,92.3 121.9,91.8" fill="#061319" stroke="#061319"/>
<polygon points="129.6,92.4 132.3,92.8 129.8,92.8 127.1,92.4" fill="#061319" stroke="#061319"/>
<polygon points="134.8,92.7 137.5,93.0 135.0,93.1 132.3,92.8" fill="#061219" stroke="#061219"/>
<polygon points="140.0,92.9 142.7,93.0 140.2,93.2 137.5,93.0" fill="#061219" stroke="#061219"/>
<polygon points="145.3,92.8 147.9,92.8 145.4,93.1 142.7,93.0" fill="#061219" stroke="#061219"/>
<polygon points="150.5,92.4 153.1,92.4 150.6,92.7 147.9,92.8" fill="#061319" stroke="#061319"/>
<polygon points="155.7,91.9 158.3,91.7 155.7,92.2 153.1,92.4" fill="#061319" stroke="#061319"/>
<polygon points="161.0,91.2 163.6,90.9 160.9,91.4 158.3,91.7" fill="#061419" stroke="#061419"/>
<polygon points="166.2,90.2 168.8,89.8 166.1,90.4 163.6,90.9" fill="#061519" stroke="#061519"/>
<polygon points="171.5,89.1 174.1,88.5 171.4,89.3 168.8,89.8" fill="#061619" stroke="#061619"/>
<polygon points="176.8,87.7 179.3,87.1 176.6,87.9 174.1,88.5" fill="#061819" stroke="#061819"/>
<polygon points="182.1,86.1 184.6,85.4 181.9,86.3 179.3,87.1" fill="#061919" stroke="#061919"/>
<polygon points="187.4,84.4 190.0,83.5 187.2,84.5 184.6,85.4" fill="#162e38" stroke="#162e38"/>
<polygon points="192.8,82.4 195.3,81.4 192.5,82.4 190.0,83.5" fill="#162f36" stroke="#162f36"/>
<polygon points="203.6,77.8 206.1,76.5 203.2,77.8 200.7,79.0" fill="#162f29" stroke="#162f29"/>
<polygon points="214.6,72.3 217.0,70.8 214.0,72.3 211.6,73.8" fill="#162f22" stroke="#162f22"/>
<polygon points="108.6,89.0 111.4,89.9 109.1,89.5 106.2,88.6" fill="#061619" stroke="#061619"/>
<polygon points="119.1,91.1 121.9,91.8 119.5,91.6 116.7,91.0" fill="#061419" stroke="#061419"/>
<polygon points="198.2,80.2 200.7,79.0 197.8,80.2 195.3,81.4" fill="#162f2f" stroke="#162f2f"/>
<polygon points="209.1,75.1 211.6,73.8 208.6,75.2 206.1,76.5" fill="#162f24" stroke="#162f24"/>
<polygon points="111.0,89.3 113.9,90.2 111.4,89.9 108.6,89.0" fill="#06181b" stroke="#06181b"/>
<polygon points="132.1,92.3 134.8,92.7 132.3,92.8 129.6,92.4" fill="#061419" stroke="#061419"/>
<polygon points="137.3,92.6 140.0,92.9 137.5,93.0 134.8,92.7" fill="#061319" stroke="#061319"/>
<polygon points="158.4,91.4 161.0,91.2 158.3,91.7 155.7,91.9" fill="#061519" stroke="#061519"/>
<polygon points="179.6,86.8 182.1,86.1 179.3,87.1 176.8,87.7" fill="#061a19" stroke="#061a19"/>
<polygon points="184.9,85.1 187.4,84.4 184.6,85.4 182.1,86.1" fill="#061b18" stroke="#061b18"/>
<polygon points="206.6,76.4 209.1,75.1 206.1,76.5 203.6,77.8" fill="#162f24" stroke="#162f24"/>
<polygon points="105.7,88.0 108.6,89.0 106.2,88.6 103.3,87.6" fill="#061b1d" stroke="#061b1d"/>
<polygon points="116.3,90.3 119.1,91.1 116.7,91.0 113.9,90.2" fill="#06161a" stroke="#06161a"/>
<polygon points="121.6,91.2 124.3,91.9 121.9,91.8 119.1,91.1" fill="#061519" stroke="#061519"/>
<polygon points="126.8,91.9 129.6,92.4 127.1,92.4 124.3,91.9" fill="#061419" stroke="#061419"/>
<polygon points="142.6,92.6 145.3,92.8 142.7,93.0 140.0,92.9" fill="#061319" stroke="#061319"/>
<polygon points="147.8,92.4 150.5,92.4 147.9,92.8 145.3,92.8" fill="#061419" stroke="#061419"/>
<polygon points="153.1,92.0 155.7,91.9 153.1,92.4 150.5,92.4" fill="#061419" stroke="#061419"/>
<polygon points="163.6,90.5 166.2,90.2 163.6,90.9 161.0,91.2" fill="#061519" stroke="#061519"/>
<polygon points="168.9,89.5 171.5,89.1 168.8,89.8 166.2,90.2" fill="#061719" stroke="#061719"/>
<polygon points="174.2,88.3 176.8,87.7 174.1,88.5 171.5,89.1" fill="#061819" stroke="#061819"/>
<polygon points="190.3,83.3 192.8,82.4 190.0,83.5 187.4,84.4" fill="#061b17" stroke="#061b17"/>
<polygon points="195.7,81.2 198.2,80.2 195.3,81.4 192.8,82.4" fill="#061b14" stroke="#061b14"/>
<polygon points="201.1,78.9 203.6,77.8 200.7,79.0 198.2,80.2" fill="#162f2a" stroke="#162f2a"/>
<polygon points="212.1,73.7 214.6,72.3 211.6,73.8 209.1,75.1" fill="#162f22" stroke="#162f22"/>
<polygon points="108.1,88.2 111.0,89.3 108.6,89.0 105.7,88.0" fill="#062022" stroke="#062022"/>
<polygon points="118.7,90.4 121.6,91.2 119.1,91.1 116.3,90.3" fill="#061b1f" stroke="#061b1f"/>
<polygon points="124.0,91.2 126.8,91.9 124.3,91.9 121.6,91.2" fill="#06181e" stroke="#06181e"/>
<polygon points="129.3,91.8 132.1,92.3 129.6,92.4 126.8,91.9" fill="#06171c" stroke="#06171c"/>
<polygon points="134.6,92.1 137.3,92.6 134.8,92.7 132.1,92.3" fill="#06161b" stroke="#06161b"/>
<polygon points="139.9,92.3 142.6,92.6 140.0,92.9 137.3,92.6" fill="#061519" stroke="#061519"/>
<polygon points="145.1,92.2 147.8,92.4 145.3,92.8 142.6,92.6" fill="#061419" stroke="#061419"/>
<polygon points="150.4,91.9 153.1,92.0 150.5,92.4 147.8,92.4" fill="#061519" stroke="#061519"/>
<polygon points="155.7,91.4 158.4,91.4 155.7,91.9 153.1,92.0" fill="#061519" stroke="#061519"/>
<polygon points="161.0,90.7 163.6,90.5 161.0,91.2 158.4,91.4" fill="#061619" stroke="#061619"/>
<polygon points="166.3,89.8 168.9,89.5 166.2,90.2 163.6,90.5" fill="#061719" stroke="#061719"/>
<polygon points="171.6,88.7 174.2,88.3 171.5,89.1 168.9,89.5" fill="#061819" stroke="#061819"/>
<polygon points="177.0,87.3 179.6,86.8 176.8,87.7 174.2,88.3" fill="#061a19" stroke="#061a19"/>
<polygon points="182.4,85.8 184.9,85.1 182.1,86.1 179.6,86.8" fill="#061b18" stroke="#061b18"/>
<polygon points="187.7,84.0 190.3,83.3 187.4,84.4 184.9,85.1" fill="#061b17" stroke="#061b17"/>
<polygon points="193.2,82.0 195.7,81.2 192.8,82.4 190.3,83.3" fill="#061b14" stroke="#061b14"/>
<polygon points="198.6,79.9 201.1,78.9 198.2,80.2 195.7,81.2" fill="#061b11" stroke="#061b11"/>
<polygon points="209.6,74.9 212.1,73.7 209.1,75.1 206.6,76.4" fill="#162f23" stroke="#162f23"/>
<polygon points="113.4,89.4 116.3,90.3 113.9,90.2 111.0,89.3" fill="#061d21" stroke="#061d21"/>
<polygon points="204.1,77.5 206.6,76.4 203.6,77.8 201.1,78.9" fill="#061b0e" stroke="#061b0e"/>
<polygon points="115.9,89.5 118.7,90.4 116.3,90.3 113.4,89.4" fill="#062327" stroke="#062327"/>
<polygon points="121.2,90.4 124.0,91.2 121.6,91.2 118.7,90.4" fill="#062025" stroke="#062025"/>
<polygon points="126.5,91.1 129.3,91.8 126.8,91.9 124.0,91.2" fill="#061e24" stroke="#061e24"/>
<polygon points="131.8,91.6 134.6,92.1 132.1,92.3 129.3,91.8" fill="#061c22" stroke="#061c22"/>
<polygon points="137.1,91.8 139.9,92.3 137.3,92.6 134.6,92.1" fill="#061a21" stroke="#061a21"/>
<polygon points="142.4,91.9 145.1,92.2 142.6,92.6 139.9,92.3" fill="#06191f" stroke="#06191f"/>
<polygon points="153.0,91.3 155.7,91.4 153.1,92.0 150.4,91.9" fill="#06181c" stroke="#06181c"/>
<polygon points="158.4,90.8 161.0,90.7 158.4,91.4 155.7,91.4" fill="#06181a" stroke="#06181a"/>
<polygon points="163.7,90.0 166.3,89.8 163.6,90.5 161.0,90.7" fill="#061819" stroke="#061819"/>
<polygon points="174.4,87.7 177.0,87.3 174.2,88.3 171.6,88.7" fill="#061a19" stroke="#061a19"/>
<polygon points="179.8,86.3 182.4,85.8 179.6,86.8 177.0,87.3" fill="#061b18" stroke="#061b18"/>
<polygon points="185.2,84.7 187.7,84.0 184.9,85.1 182.4,85.8" fill="#061b17" stroke="#061b17"/>
<polygon points="190.6,82.8 193.2,82.0 190.3,83.3 187.7,84.0" fill="#061b14" stroke="#061b14"/>
<polygon points="196.1,80.7 198.6,79.9 195.7,81.2 193.2,82.0" fill="#061b11" stroke="#061b11"/>
<polygon points="201.6,78.5 204.1,77.5 201.1,78.9 198.6,79.9" fill="#061b0e" stroke="#061b0e"/>
<polygon points="110.5,88.3 113.4,89.4 111.0,89.3 108.1,88.2" fill="#062728" stroke="#062728"/>
<polygon points="147.7,91.7 150.4,91.9 147.8,92.4 145.1,92.2" fill="#06191e" stroke="#06191e"/>
<polygon points="169.0,88.9 171.6,88.7 168.9,89.5 166.3,89.8" fill="#061919" stroke="#061919"/>
<polygon points="207.1,76.0 209.6,74.9 206.6,76.4 204.1,77.5" fill="#061b0c" stroke="#061b0c"/>
<polygon points="112.9,88.4 115.9,89.5 113.4,89.4 110.5,88.3" fill="#062d2e" stroke="#062d2e"/>
<polygon points="118.3,89.4 121.2,90.4 118.7,90.4 115.9,89.5" fill="#062a2d" stroke="#062a2d"/>
<polygon points="123.7,90.2 126.5,91.1 124.0,91.2 121.2,90.4" fill="#06262b" stroke="#06262b"/>
<polygon points="129.0,90.8 131.8,91.6 129.3,91.8 126.5,91.1" fill="#06242a" stroke="#06242a"/>
<polygon points="134.3,91.2 137.1,91.8 134.6,92.1 131.8,91.6" fill="#062228" stroke="#062228"/>
<polygon points="139.7,91.4 142.4,91.9 139.9,92.3 137.1,91.8" fill="#062027" stroke="#062027"/>
<polygon points="145.0,91.4 147.7,91.7 145.1,92.2 142.4,91.9" fill="#061f25" stroke="#061f25"/>
<polygon points="150.4,91.1 153.0,91.3 150.4,91.9 147.7,91.7" fill="#061f24" stroke="#061f24"/>
<polygon points="155.7,90.7 158.4,90.8 155.7,91.4 153.0,91.3" fill="#061f22" stroke="#061f22"/>
<polygon points="161.0,90.0 163.7,90.0 161.0,90.7 158.4,90.8" fill="#061f20" stroke="#061f20"/>
<polygon points="166.4,89.1 169.0,88.9 166.3,89.8 163.7,90.0" fill="#061f1f" stroke="#061f1f"/>
<polygon points="171.8,88.0 174.4,87.7 171.6,88.7 169.0,88.9" fill="#061f1d" stroke="#061f1d"/>
<polygon points="177.2,86.7 179.8,86.3 177.0,87.3 174.4,87.7" fill="#061d1b" stroke="#061d1b"/>
<polygon points="182.6,85.2 185.2,84.7 182.4,85.8 179.8,86.3" fill="#061c18" stroke="#061c18"/>
<polygon points="188.1,83.4 190.6,82.8 187.7,84.0 185.2,84.7" fill="#061b14" stroke="#061b14"/>
<polygon points="193.5,81.5 196.1,80.7 193.2,82.0 190.6,82.8" fill="#061b11" stroke="#061b11"/>
<polygon points="199.1,79.3 201.6,78.5 198.6,79.9 196.1,80.7" fill="#061b0e" stroke="#061b0e"/>
<polygon points="204.6,76.9 207.1,76.0 204.1,77.5 201.6,78.5" fill="#061b0d" stroke="#061b0d"/>
<polygon points="120.8,89.3 123.7,90.2 121.2,90.4 118.3,89.4" fill="#063132" stroke="#063132"/>
<polygon points="196.5,80.0 199.1,79.3 196.1,80.7 193.5,81.5" fill="#061f0f" stroke="#061f0f"/>
<polygon points="115.4,88.3 118.3,89.4 115.9,89.5 112.9,88.4" fill="#063534" stroke="#063534"/>
<polygon points="126.2,90.0 129.0,90.8 126.5,91.1 123.7,90.2" fill="#062e31" stroke="#062e31"/>
<polygon points="131.5,90.5 134.3,91.2 131.8,91.6 129.0,90.8" fill="#062b30" stroke="#062b30"/>
<polygon points="136.9,90.8 139.7,91.4 137.1,91.8 134.3,91.2" fill="#06292e" stroke="#06292e"/>
<polygon points="142.3,90.9 145.0,91.4 142.4,91.9 139.7,91.4" fill="#06282d" stroke="#06282d"/>
<polygon points="147.6,90.8 150.4,91.1 147.7,91.7 145.0,91.4" fill="#06272b" stroke="#06272b"/>
<polygon points="153.0,90.4 155.7,90.7 153.0,91.3 150.4,91.1" fill="#062729" stroke="#062729"/>
<polygon points="158.4,89.9 161.0,90.0 158.4,90.8 155.7,90.7" fill="#062628" stroke="#062628"/>
<polygon points="163.8,89.1 166.4,89.1 163.7,90.0 161.0,90.0" fill="#062726" stroke="#062726"/>
<polygon points="169.2,88.1 171.8,88.0 169.0,88.9 166.4,89.1" fill="#062624" stroke="#062624"/>
<polygon points="174.6,86.9 177.2,86.7 174.4,87.7 171.8,88.0" fill="#062521" stroke="#062521"/>
<polygon points="180.0,85.5 182.6,85.2 179.8,86.3 177.2,86.7" fill="#06231e" stroke="#06231e"/>
<polygon points="185.5,83.9 188.1,83.4 185.2,84.7 182.6,85.2" fill="#062218" stroke="#062218"/>
<polygon points="191.0,82.1 193.5,81.5 190.6,82.8 188.1,83.4" fill="#062013" stroke="#062013"/>
<polygon points="202.1,77.8 204.6,76.9 201.6,78.5 199.1,79.3" fill="#061d0d" stroke="#061d0d"/>
<polygon points="117.9,88.2 120.8,89.3 118.3,89.4 115.4,88.3" fill="#063b37" stroke="#063b37"/>
<polygon points="123.3,89.0 126.2,90.0 123.7,90.2 120.8,89.3" fill="#063938" stroke="#063938"/>
<polygon points="144.9,90.3 147.6,90.8 145.0,91.4 142.3,90.9" fill="#063032" stroke="#063032"/>
<polygon points="172.0,87.1 174.6,86.9 171.8,88.0 169.2,88.1" fill="#062c27" stroke="#062c27"/>
<polygon points="194.0,80.6 196.5,80.0 193.5,81.5 191.0,82.1" fill="#062610" stroke="#062610"/>
<polygon points="199.5,78.5 202.1,77.8 199.1,79.3 196.5,80.0" fill="#06240d" stroke="#06240d"/>
<polygon points="128.7,89.7 131.5,90.5 129.0,90.8 126.2,90.0" fill="#063637" stroke="#063637"/>
<polygon points="134.1,90.1 136.9,90.8 134.3,91.2 131.5,90.5" fill="#063435" stroke="#063435"/>
<polygon points="139.5,90.3 142.3,90.9 139.7,91.4 136.9,90.8" fill="#063234" stroke="#063234"/>
<polygon points="150.3,90.1 153.0,90.4 150.4,91.1 147.6,90.8" fill="#063031" stroke="#063031"/>
<polygon points="155.7,89.6 158.4,89.9 155.7,90.7 153.0,90.4" fill="#06302f" stroke="#06302f"/>
<polygon points="161.1,89.0 163.8,89.1 161.0,90.0 158.4,89.9" fill="#062f2d" stroke="#062f2d"/>
<polygon points="166.5,88.1 169.2,88.1 166.4,89.1 163.8,89.1" fill="#062e2a" stroke="#062e2a"/>
<polygon points="177.4,85.8 180.0,85.5 177.2,86.7 174.6,86.9" fill="#062b22" stroke="#062b22"/>
<polygon points="182.9,84.3 185.5,83.9 182.6,85.2 180.0,85.5" fill="#06291c" stroke="#06291c"/>
<polygon points="188.4,82.6 191.0,82.1 188.1,83.4 185.5,83.9" fill="#062715" stroke="#062715"/>
<polygon points="120.4,87.9 123.3,89.0 120.8,89.3 117.9,88.2" fill="#06403a" stroke="#06403a"/>
<polygon points="125.8,88.7 128.7,89.7 126.2,90.0 123.3,89.0" fill="#063f3a" stroke="#063f3a"/>
<polygon points="142.1,89.7 144.9,90.3 142.3,90.9 139.5,90.3" fill="#063b39" stroke="#063b39"/>
<polygon points="147.5,89.6 150.3,90.1 147.6,90.8 144.9,90.3" fill="#063937" stroke="#063937"/>
<polygon points="169.3,87.1 172.0,87.1 169.2,88.1 166.5,88.1" fill="#06342c" stroke="#06342c"/>
<polygon points="174.8,85.9 177.4,85.8 174.6,86.9 172.0,87.1" fill="#063225" stroke="#063225"/>
<polygon points="191.4,81.1 194.0,80.6 191.0,82.1 188.4,82.6" fill="#062d11" stroke="#062d11"/>
<polygon points="197.0,79.1 199.5,78.5 196.5,80.0 194.0,80.6" fill="#062b0e" stroke="#062b0e"/>
<polygon points="131.3,89.2 134.1,90.1 131.5,90.5 128.7,89.7" fill="#063d3a" stroke="#063d3a"/>
<polygon points="136.7,89.6 139.5,90.3 136.9,90.8 134.1,90.1" fill="#063c3a" stroke="#063c3a"/>
<polygon points="153.0,89.3 155.7,89.6 153.0,90.4 150.3,90.1" fill="#063835" stroke="#063835"/>
<polygon points="158.4,88.7 161.1,89.0 158.4,89.9 155.7,89.6" fill="#063632" stroke="#063632"/>
<polygon points="163.8,88.0 166.5,88.1 163.8,89.1 161.1,89.0" fill="#06352f" stroke="#06352f"/>
<polygon points="180.3,84.5 182.9,84.3 180.0,85.5 177.4,85.8" fill="#06301e" stroke="#06301e"/>
<polygon points="185.8,82.9 188.4,82.6 185.5,83.9 182.9,84.3" fill="#062f17" stroke="#062f17"/>
<polygon points="122.9,87.5 125.8,88.7 123.3,89.0 120.4,87.9" fill="#06463c" stroke="#06463c"/>
<polygon points="128.4,88.2 131.3,89.2 128.7,89.7 125.8,88.7" fill="#06453c" stroke="#06453c"/>
<polygon points="139.3,88.9 142.1,89.7 139.5,90.3 136.7,89.6" fill="#06423c" stroke="#06423c"/>
<polygon points="144.7,89.0 147.5,89.6 144.9,90.3 142.1,89.7" fill="#06403a" stroke="#06403a"/>
<polygon points="150.2,88.8 153.0,89.3 150.3,90.1 147.5,89.6" fill="#063f38" stroke="#063f38"/>
<polygon points="166.6,86.9 169.3,87.1 166.5,88.1 163.8,88.0" fill="#063b2d" stroke="#063b2d"/>
<polygon points="172.1,85.9 174.8,85.9 172.0,87.1 169.3,87.1" fill="#063926" stroke="#063926"/>
<polygon points="177.7,84.6 180.3,84.5 177.4,85.8 174.8,85.9" fill="#06371e" stroke="#06371e"/>
<polygon points="188.8,81.4 191.4,81.1 188.4,82.6 185.8,82.9" fill="#063410" stroke="#063410"/>
<polygon points="194.4,79.5 197.0,79.1 194.0,80.6 191.4,81.1" fill="#06320e" stroke="#06320e"/>
<polygon points="133.8,88.7 136.7,89.6 134.1,90.1 131.3,89.2" fill="#06433c" stroke="#06433c"/>
<polygon points="155.7,88.4 158.4,88.7 155.7,89.6 153.0,89.3" fill="#063e36" stroke="#063e36"/>
<polygon points="161.1,87.7 163.8,88.0 161.1,89.0 158.4,88.7" fill="#063c33" stroke="#063c33"/>
<polygon points="183.2,83.1 185.8,82.9 182.9,84.3 180.3,84.5" fill="#063617" stroke="#063617"/>
<polygon points="136.4,88.0 139.3,88.9 136.7,89.6 133.8,88.7" fill="#06493c" stroke="#06493c"/>
<polygon points="180.6,83.2 183.2,83.1 180.3,84.5 177.7,84.6" fill="#063d16" stroke="#063d16"/>
<polygon points="125.4,87.1 128.4,88.2 125.8,88.7 122.9,87.5" fill="#064c37" stroke="#064c37"/>
<polygon points="130.9,87.7 133.8,88.7 131.3,89.2 128.4,88.2" fill="#064a3a" stroke="#064a3a"/>
<polygon points="141.9,88.2 144.7,89.0 142.1,89.7 139.3,88.9" fill="#06483c" stroke="#06483c"/>
<polygon points="147.4,88.1 150.2,88.8 147.5,89.6 144.7,89.0" fill="#06463a" stroke="#06463a"/>
<polygon points="152.9,87.8 155.7,88.4 153.0,89.3 150.2,88.8" fill="#064536" stroke="#064536"/>
<polygon points="158.4,87.3 161.1,87.7 158.4,88.7 155.7,88.4" fill="#064332" stroke="#064332"/>
<polygon points="163.9,86.6 166.6,86.9 163.8,88.0 161.1,87.7" fill="#06422b" stroke="#06422b"/>
<polygon points="169.5,85.7 172.1,85.9 169.3,87.1 166.6,86.9" fill="#064024" stroke="#064024"/>
<polygon points="175.0,84.6 177.7,84.6 174.8,85.9 172.1,85.9" fill="#063e1d" stroke="#063e1d"/>
<polygon points="186.2,81.7 188.8,81.4 185.8,82.9 183.2,83.1" fill="#063b10" stroke="#063b10"/>
<polygon points="191.8,79.9 194.4,79.5 191.4,81.1 188.8,81.4" fill="#06390d" stroke="#06390d"/>
<polygon points="133.6,87.0 136.4,88.0 133.8,88.7 130.9,87.7" fill="#065032" stroke="#065032"/>
<polygon points="139.1,87.3 141.9,88.2 139.3,88.9 136.4,88.0" fill="#064e33" stroke="#064e33"/>
<polygon points="155.7,86.8 158.4,87.3 155.7,88.4 152.9,87.8" fill="#064a2c" stroke="#064a2c"/>
<polygon points="161.2,86.2 163.9,86.6 161.1,87.7 158.4,87.3" fill="#064827" stroke="#064827"/>
<polygon points="177.9,83.2 180.6,83.2 177.7,84.6 175.0,84.6" fill="#064414" stroke="#064414"/>
<polygon points="183.5,81.7 186.2,81.7 183.2,83.1 180.6,83.2" fill="#064210" stroke="#064210"/>
<polygon points="128.0,86.5 130.9,87.7 128.4,88.2 125.4,87.1" fill="#06512f" stroke="#06512f"/>
<polygon points="144.6,87.3 147.4,88.1 144.7,89.0 141.9,88.2" fill="#064d33" stroke="#064d33"/>
<polygon points="150.1,87.2 152.9,87.8 150.2,88.8 147.4,88.1" fill="#064b30" stroke="#064b30"/>
<polygon points="166.7,85.4 169.5,85.7 166.6,86.9 163.9,86.6" fill="#064721" stroke="#064721"/>
<polygon points="172.3,84.4 175.0,84.6 172.1,85.9 169.5,85.7" fill="#06451b" stroke="#06451b"/>
<polygon points="189.2,80.1 191.8,79.9 188.8,81.4 186.2,81.7" fill="#06400c" stroke="#06400c"/>
<polygon points="130.6,85.8 133.6,87.0 130.9,87.7 128.0,86.5" fill="#065626" stroke="#065626"/>
<polygon points="136.2,86.2 139.1,87.3 136.4,88.0 133.6,87.0" fill="#065528" stroke="#065528"/>
<polygon points="141.7,86.4 144.6,87.3 141.9,88.2 139.1,87.3" fill="#065328" stroke="#065328"/>
<polygon points="152.9,86.1 155.7,86.8 152.9,87.8 150.1,87.2" fill="#065125" stroke="#065125"/>
<polygon points="158.4,85.7 161.2,86.2 158.4,87.3 155.7,86.8" fill="#064f21" stroke="#064f21"/>
<polygon points="164.0,85.0 166.7,85.4 163.9,86.6 161.2,86.2" fill="#064e1c" stroke="#064e1c"/>
<polygon points="175.2,83.0 177.9,83.2 175.0,84.6 172.3,84.4" fill="#064a12" stroke="#064a12"/>
<polygon points="180.9,81.7 183.5,81.7 180.6,83.2 177.9,83.2" fill="#06490e" stroke="#06490e"/>
<polygon points="186.5,80.1 189.2,80.1 186.2,81.7 183.5,81.7" fill="#06470c" stroke="#06470c"/>
<polygon points="147.3,86.4 150.1,87.2 147.4,88.1 144.6,87.3" fill="#065227" stroke="#065227"/>
<polygon points="169.6,84.1 172.3,84.4 169.5,85.7 166.7,85.4" fill="#064c16" stroke="#064c16"/>
<polygon points="133.3,85.1 136.2,86.2 133.6,87.0 130.6,85.8" fill="#065b1c" stroke="#065b1c"/>
<polygon points="138.8,85.4 141.7,86.4 139.1,87.3 136.2,86.2" fill="#065a1e" stroke="#065a1e"/>
<polygon points="144.4,85.5 147.3,86.4 144.6,87.3 141.7,86.4" fill="#06581e" stroke="#06581e"/>
<polygon points="150.0,85.3 152.9,86.1 150.1,87.2 147.3,86.4" fill="#06571c" stroke="#06571c"/>
<polygon points="155.6,85.0 158.4,85.7 155.7,86.8 152.9,86.1" fill="#065619" stroke="#065619"/>
<polygon points="161.3,84.4 164.0,85.0 161.2,86.2 158.4,85.7" fill="#065415" stroke="#065415"/>
<polygon points="166.9,83.7 169.6,84.1 166.7,85.4 164.0,85.0" fill="#065312" stroke="#065312"/>
<polygon points="172.5,82.7 175.2,83.0 172.3,84.4 169.6,84.1" fill="#065110" stroke="#065110"/>
<polygon points="178.2,81.5 180.9,81.7 177.9,83.2 175.2,83.0" fill="#064f0d" stroke="#064f0d"/>
<polygon points="183.9,80.1 186.5,80.1 183.5,81.7 180.9,81.7" fill="#074e0c" stroke="#074e0c"/>
<polygon points="135.9,84.2 138.8,85.4 136.2,86.2 133.3,85.1" fill="#066013" stroke="#066013"/>
<polygon points="147.2,84.4 150.0,85.3 147.3,86.4 144.4,85.5" fill="#065d14" stroke="#065d14"/>
<polygon points="152.8,84.2 155.6,85.0 152.9,86.1 150.0,85.3" fill="#065c13" stroke="#065c13"/>
<polygon points="158.5,83.8 161.3,84.4 158.4,85.7 155.6,85.0" fill="#065a11" stroke="#065a11"/>
<polygon points="164.1,83.1 166.9,83.7 164.0,85.0 161.3,84.4" fill="#06590f" stroke="#06590f"/>
<polygon points="169.8,82.2 172.5,82.7 169.6,84.1 166.9,83.7" fill="#06570d" stroke="#06570d"/>
<polygon points="181.2,79.9 183.9,80.1 180.9,81.7 178.2,81.5" fill="#07540c" stroke="#07540c"/>
<polygon points="141.5,84.4 144.4,85.5 141.7,86.4 138.8,85.4" fill="#065e14" stroke="#065e14"/>
<polygon points="175.5,81.2 178.2,81.5 175.2,83.0 172.5,82.7" fill="#06560c" stroke="#06560c"/>
<polygon points="150.0,83.2 152.8,84.2 150.0,85.3 147.2,84.4" fill="#06620e" stroke="#06620e"/>
<polygon points="167.0,81.7 169.8,82.2 166.9,83.7 164.1,83.1" fill="#075e0c" stroke="#075e0c"/>
<polygon points="138.6,83.2 141.5,84.4 138.8,85.4 135.9,84.2" fill="#06640e" stroke="#06640e"/>
<polygon points="144.3,83.3 147.2,84.4 144.4,85.5 141.5,84.4" fill="#06630e" stroke="#06630e"/>
<polygon points="155.6,82.9 158.5,83.8 155.6,85.0 152.8,84.2" fill="#06610d" stroke="#06610d"/>
<polygon points="161.3,82.4 164.1,83.1 161.3,84.4 158.5,83.8" fill="#065f0c" stroke="#065f0c"/>
<polygon points="172.7,80.7 175.5,81.2 172.5,82.7 169.8,82.2" fill="#075c0c" stroke="#075c0c"/>
<polygon points="178.5,79.5 181.2,79.9 178.2,81.5 175.5,81.2" fill="#085a0c" stroke="#085a0c"/>
<polygon points="141.3,82.1 144.3,83.3 141.5,84.4 138.6,83.2" fill="#07690c" stroke="#07690c"/>
<polygon points="147.1,82.1 150.0,83.2 147.2,84.4 144.3,83.3" fill="#07680c" stroke="#07680c"/>
<polygon points="152.8,81.9 155.6,82.9 152.8,84.2 150.0,83.2" fill="#07670c" stroke="#07670c"/>
<polygon points="164.2,80.9 167.0,81.7 164.1,83.1 161.3,82.4" fill="#07640c" stroke="#07640c"/>
<polygon points="170.0,80.1 172.7,80.7 169.8,82.2 167.0,81.7" fill="#08620c" stroke="#08620c"/>
<polygon points="175.7,79.0 178.5,79.5 175.5,81.2 172.7,80.7" fill="#08610c" stroke="#08610c"/>
<polygon points="158.5,81.5 161.3,82.4 158.5,83.8 155.6,82.9" fill="#07650c" stroke="#07650c"/>
<polygon points="144.1,80.9 147.1,82.1 144.3,83.3 141.3,82.1" fill="#086e0c" stroke="#086e0c"/>
<polygon points="173.0,78.4 175.7,79.0 172.7,80.7 170.0,80.1" fill="#09670c" stroke="#09670c"/>
<polygon points="149.9,80.8 152.8,81.9 150.0,83.2 147.1,82.1" fill="#086c0c" stroke="#086c0c"/>
<polygon points="155.6,80.6 158.5,81.5 155.6,82.9 152.8,81.9" fill="#086b0c" stroke="#086b0c"/>
<polygon points="161.4,80.1 164.2,80.9 161.3,82.4 158.5,81.5" fill="#086a0c" stroke="#086a0c"/>
<polygon points="167.2,79.4 170.0,80.1 167.0,81.7 164.2,80.9" fill="#09680c" stroke="#09680c"/>
<polygon points="146.9,79.6 149.9,80.8 147.1,82.1 144.1,80.9" fill="#09720c" stroke="#09720c"/>
<polygon points="158.5,79.1 161.4,80.1 158.5,81.5 155.6,80.6" fill="#0a6f0c" stroke="#0a6f0c"/>
<polygon points="170.2,77.7 173.0,78.4 170.0,80.1 167.2,79.4" fill="#0a6d0c" stroke="#0a6d0c"/>
<polygon points="152.7,79.4 155.6,80.6 152.8,81.9 149.9,80.8" fill="#09710c" stroke="#09710c"/>
<polygon points="164.3,78.5 167.2,79.4 164.2,80.9 161.4,80.1" fill="#0a6e0c" stroke="#0a6e0c"/>
<polygon points="149.8,78.2 152.7,79.4 149.9,80.8 146.9,79.6" fill="#0b760c" stroke="#0b760c"/>
<polygon points="155.6,77.9 158.5,79.1 155.6,80.6 152.7,79.4" fill="#0b750c" stroke="#0b750c"/>
<polygon points="161.5,77.5 164.3,78.5 161.4,80.1 158.5,79.1" fill="#0b740c" stroke="#0b740c"/>
<polygon points="167.3,76.8 170.2,77.7 167.2,79.4 164.3,78.5" fill="#0c720c" stroke="#0c720c"/>
<polygon points="152.7,76.7 155.6,77.9 152.7,79.4 149.8,78.2" fill="#0d7a0c" stroke="#0d7a0c"/>
<polygon points="164.5,75.8 167.3,76.8 164.3,78.5 161.5,77.5" fill="#0d780c" stroke="#0d780c"/>
<polygon points="158.6,76.3 161.5,77.5 158.5,79.1 155.6,77.9" fill="#0d790c" stroke="#0d790c"/>
<polygon points="155.6,75.0 158.6,76.3 155.6,77.9 152.7,76.7" fill="#0f7e0c" stroke="#0f7e0c"/>
<polygon points="161.6,74.6 164.5,75.8 161.5,77.5 158.6,76.3" fill="#157d0c" stroke="#157d0c"/>
<polygon points="158.6,73.3 161.6,74.6 158.6,76.3 155.6,75.0" fill="#33820c" stroke="#33820c"/>
</g>
<defs><linearGradient id="ega" gradientUnits="userSpaceOnUse" x1="69" y1="0" x2="250" y2="0"><stop offset="0" stop-color="#0a1a22" stop-opacity="0.9"/><stop offset="0.55" stop-color="#06100c" stop-opacity="0.92"/><stop offset="0.8" stop-color="#0a2008" stop-opacity="0.7"/><stop offset="1" stop-color="#202808" stop-opacity="0.15"/></linearGradient></defs>
<polyline points="69,71.0 70,71.9 71,72.6 72,73.4 73,74.1 74,74.9 75,75.6 76,76.2 77,76.9 78,77.6 79,78.2 80,78.8 81,79.4 82,80.0 83,80.6 84,81.1 85,81.6 86,82.1 87,82.5 88,83.0 89,83.4 90,83.9 91,84.3 92,84.7 93,85.1 94,85.4 95,85.8 96,86.1 97,86.5 98,86.8 99,87.1 100,87.4 101,87.7 102,88.0 103,88.3 104,88.5 105,88.8 106,89.1 107,89.3 108,89.6 109,89.8 110,90.0 111,90.2 112,90.5 113,90.7 114,90.9 115,91.1 116,91.3 117,91.4 118,91.6 119,91.7 120,91.9 121,92.0 122,92.2 123,92.3 124,92.4 125,92.5 126,92.6 127,92.7 128,92.8 129,92.9 130,93.0 131,93.0 132,93.1 133,93.1 134,93.2 135,93.2 136,93.3 137,93.3 138,93.3 139,93.3 140,93.3 141,93.3 142,93.2 143,93.2 144,93.2 145,93.1 146,93.1 147,93.0 148,93.0 149,92.9 150,92.8 151,92.7 152,92.6 153,92.5 154,92.4 155,92.3 156,92.2 157,92.1 158,91.9 159,91.8 160,91.6 161,91.4 162,91.3 163,91.1 164,90.9 165,90.7 166,90.5 167,90.3 168,90.1 169,89.9 170,89.6 171,89.4 172,89.1 173,88.9 174,88.7 175,88.4 176,88.1 177,87.8 178,87.6 179,87.2 180,87.0 181,86.6 182,86.3 183,86.0 184,85.7 185,85.3 186,85.0 187,84.7 188,84.3 189,84.0 190,83.6 191,83.2 192,82.8 193,82.4 194,82.0 195,81.6 196,81.2 197,80.8 198,80.4 199,80.0 200,79.6 201,79.1 202,78.7 203,78.2 204,77.8 205,77.3 206,76.8 207,76.3 208,75.9 209,75.4 210,74.9 211,74.4 212,73.9 213,73.4 214,72.8 215,72.2 216,71.6 217,70.9 218,70.4 219,69.7 220,69.0 221,68.3 222,67.5 223,66.9 224,66.1 225,65.3 226,64.5 227,63.6 228,63.0 229,62.1 230,61.1 231,60.2 232,59.3 233,58.3 234,57.3 235,56.3 236,55.4 237,54.4 238,53.3 239,52.2 240,51.1 241,49.9 242,48.8 243,47.6 244,46.4 245,45.2 246,43.9 247,42.7 248,41.1 249,39.8 250,38.8" fill="none" stroke="url(#ega)" stroke-width="2.0" stroke-linejoin="round" transform="translate(0 -0.6)"/>
<circle cx="101.8" cy="83.5" r="1.4" fill="#ffd0c8" stroke="#e06060" stroke-width="0.4"/>
<circle cx="148" cy="71.4" r="1.4" fill="#ffd0c8" stroke="#e06060" stroke-width="0.4"/>
<circle cx="172" cy="92.8" r="1.4" fill="#ffd0c8" stroke="#e06060" stroke-width="0.4"/>
<circle cx="264.6" cy="141.2" r="1.2" fill="#e00000"/>
<text x="268.5" y="142.7" font-family="Liberation Sans, sans-serif" font-size="4.05" fill="#f01010" stroke="#f01010" stroke-width="0.12">Design Points</text>
<defs><linearGradient id="lg264" x1="0" y1="0" x2="0" y2="1"><stop offset="0" stop-color="#201010"/><stop offset="0.08" stop-color="#e00000"/><stop offset="0.2" stop-color="#e02000"/><stop offset="0.35" stop-color="#80c000"/><stop offset="0.5" stop-color="#00e000"/><stop offset="0.7" stop-color="#00c060"/><stop offset="0.85" stop-color="#0040e0"/><stop offset="1" stop-color="#0000c0"/></linearGradient></defs>
<rect x="263.3" y="144.2" width="3.8" height="16.6" fill="url(#lg264)"/>
<text x="268.9" y="147.8" font-family="Liberation Sans, sans-serif" font-size="4.05" fill="#f01010" stroke="#f01010" stroke-width="0.12">1.5</text>
<text x="268.9" y="158.9" font-family="Liberation Sans, sans-serif" font-size="4.05" fill="#2828f0" stroke="#2828f0" stroke-width="0.12">0.5</text>
<defs><radialGradient id="gA" gradientUnits="userSpaceOnUse" cx="0" cy="0" r="1" gradientTransform="matrix(-156.1318 -20.5154 -13.8610 105.4889 418.8006 61.5831)">
<stop offset="0.0000" stop-color="#0003ff"/>
<stop offset="0.0139" stop-color="#0003ff"/>
<stop offset="0.0278" stop-color="#0003ff"/>
<stop offset="0.0417" stop-color="#0003ff"/>
<stop offset="0.0556" stop-color="#0004ff"/>
<stop offset="0.0694" stop-color="#0004ff"/>
<stop offset="0.0833" stop-color="#0005ff"/>
<stop offset="0.0972" stop-color="#0006ff"/>
<stop offset="0.1111" stop-color="#0006ff"/>
<stop offset="0.1250" stop-color="#0007ff"/>
<stop offset="0.1389" stop-color="#0008ff"/>
<stop offset="0.1528" stop-color="#000aff"/>
<stop offset="0.1667" stop-color="#000bff"/>
<stop offset="0.1806" stop-color="#000cff"/>
<stop offset="0.1944" stop-color="#000eff"/>
<stop offset="0.2083" stop-color="#0010ff"/>
<stop offset="0.2222" stop-color="#0011ff"/>
<stop offset="0.2361" stop-color="#0013ff"/>
<stop offset="0.2500" stop-color="#0018ff"/>
<stop offset="0.2639" stop-color="#001eff"/>
<stop offset="0.2778" stop-color="#0025ff"/>
<stop offset="0.2917" stop-color="#002cff"/>
<stop offset="0.3056" stop-color="#0033ff"/>
<stop offset="0.3194" stop-color="#003bff"/>
<stop offset="0.3333" stop-color="#0045ff"/>
<stop offset="0.3472" stop-color="#004fff"/>
<stop offset="0.3611" stop-color="#005aff"/>
<stop offset="0.3750" stop-color="#0065ff"/>
<stop offset="0.3889" stop-color="#0070ff"/>
<stop offset="0.4028" stop-color="#007cff"/>
<stop offset="0.4167" stop-color="#0089ff"/>
<stop offset="0.4306" stop-color="#0097ff"/>
<stop offset="0.4444" stop-color="#00a5ff"/>
<stop offset="0.4583" stop-color="#00b4ff"/>
<stop offset="0.4722" stop-color="#00c3ff"/>
<stop offset="0.4861" stop-color="#00d2ff"/>
<stop offset="0.5000" stop-color="#00e2ff"/>
<stop offset="0.5139" stop-color="#00f1ff"/>
<stop offset="0.5278" stop-color="#00fbfa"/>
<stop offset="0.5417" stop-color="#00fcf0"/>
<stop offset="0.5556" stop-color="#00fde5"/>
<stop offset="0.5694" stop-color="#00ffda"/>
<stop offset="0.5833" stop-color="#00ffc1"/>
<stop offset="0.5972" stop-color="#00ffa2"/>
<stop offset="0.6111" stop-color="#00ff83"/>
<stop offset="0.6250" stop-color="#00ff65"/>
<stop offset="0.6389" stop-color="#00ff4c"/>
<stop offset="0.6528" stop-color="#00ff33"/>
<stop offset="0.6667" stop-color="#00ff1c"/>
<stop offset="0.6806" stop-color="#00ff12"/>
<stop offset="0.6944" stop-color="#00ff08"/>
<stop offset="0.7083" stop-color="#00ff00"/>
<stop offset="0.7222" stop-color="#02ff00"/>
<stop offset="0.7361" stop-color="#04ff00"/>
<stop offset="0.7500" stop-color="#06ff00"/>
<stop offset="0.7639" stop-color="#08ff00"/>
<stop offset="0.7778" stop-color="#0aff00"/>
<stop offset="0.7917" stop-color="#0cff00"/>
<stop offset="0.8056" stop-color="#0eff00"/>
<stop offset="0.8194" stop-color="#10ff00"/>
<stop offset="0.8333" stop-color="#12ff00"/>
<stop offset="0.8472" stop-color="#21ff00"/>
<stop offset="0.8611" stop-color="#4bff00"/>
<stop offset="0.8750" stop-color="#7dff00"/>
<stop offset="0.8889" stop-color="#ceff00"/>
<stop offset="0.9028" stop-color="#fbf600"/>
<stop offset="0.9167" stop-color="#ffe400"/>
<stop offset="0.9306" stop-color="#ffd200"/>
<stop offset="0.9444" stop-color="#ffbd00"/>
<stop offset="0.9583" stop-color="#ffa500"/>
<stop offset="0.9722" stop-color="#ff8d00"/>
<stop offset="0.9861" stop-color="#ff7500"/>
<stop offset="1.0000" stop-color="#ff5d00"/>
</radialGradient><clipPath id="cA"><rect x="344" y="19.3" width="195.2" height="117.6"/></clipPath></defs>
<rect x="344" y="19.3" width="195.2" height="117.6" fill="url(#gA)"/>
<g clip-path="url(#cA)" fill="none" stroke="#101828" stroke-opacity="0.62" stroke-width="0.4">
<polygon points="438.0,94.7 436.2,95.1 434.3,95.4 432.4,95.6 430.5,95.8 428.6,96.0 426.6,96.1 424.7,96.1 422.7,96.1 420.7,96.1 418.7,95.9 416.8,95.8 414.8,95.6 412.8,95.3 410.9,95.0 408.9,94.6 407.0,94.1 405.1,93.7 403.2,93.1 401.3,92.6 399.5,91.9 397.7,91.3 395.9,90.6 394.1,89.8 392.4,89.0 390.8,88.1 389.1,87.3 387.6,86.3 386.0,85.4 384.6,84.4 383.1,83.3 381.8,82.3 380.4,81.2 379.2,80.0 378.0,78.9 376.9,77.7 375.8,76.5 374.8,75.2 373.9,74.0 373.0,72.7 372.2,71.4 371.5,70.1 370.9,68.8 370.3,67.4 369.8,66.1 369.4,64.7 369.0,63.4 368.8,62.0 368.6,60.7 368.4,59.3 368.4,58.0 368.5,56.6 368.6,55.3 368.8,54.0 369.0,52.6 369.4,51.3 369.8,50.1 370.3,48.8 370.9,47.5 371.5,46.3 372.3,45.1 373.1,43.9 373.9,42.8 374.9,41.6 375.9,40.6 376.9,39.5 378.1,38.5 379.3,37.5 380.5,36.5 381.8,35.6 383.2,34.7 384.6,33.9 386.1,33.1 387.6,32.4 389.2,31.7 390.9,31.0 392.5,30.4 394.2,29.8 396.0,29.3 397.8,28.9 399.6,28.5 401.4,28.1 403.3,27.8 405.2,27.5 407.1,27.3 409.0,27.2 411.0,27.1 412.9,27.0 414.9,27.0 416.9,27.1 418.9,27.2 420.8,27.4 422.8,27.6 424.8,27.9 426.7,28.2 428.7,28.6 430.6,29.0 432.5,29.5 434.4,30.0 436.3,30.6 438.1,31.2 439.9,31.9 441.7,32.6 443.5,33.4 445.2,34.2 446.8,35.0 448.5,35.9 450.0,36.8 451.6,37.8 453.0,38.8 454.5,39.8 455.8,40.9 457.2,42.0 458.4,43.1 459.6,44.3 460.7,45.5 461.8,46.7 462.8,47.9 463.7,49.2 464.6,50.5 465.4,51.8 466.1,53.1 466.7,54.4 467.3,55.7 467.8,57.1 468.2,58.4 468.6,59.8 468.8,61.1 469.0,62.5 469.2,63.8 469.2,65.2 469.1,66.5 469.0,67.9 468.8,69.2 468.6,70.5 468.2,71.8 467.8,73.1 467.3,74.4 466.7,75.6 466.1,76.9 465.3,78.1 464.5,79.2 463.7,80.4 462.7,81.5 461.7,82.6 460.7,83.7 459.5,84.7 458.3,85.7 457.1,86.6 455.8,87.6 454.4,88.4 453.0,89.3 451.5,90.1 450.0,90.8 448.4,91.5 446.8,92.2 445.1,92.8 443.4,93.3 441.6,93.8 439.8,94.3"/>
<polygon points="453.1,120.6 449.8,121.3 446.5,121.8 443.1,122.3 439.7,122.6 436.2,122.9 432.8,123.1 429.3,123.1 425.8,123.1 422.2,123.0 418.7,122.8 415.2,122.5 411.7,122.1 408.2,121.6 404.7,121.1 401.2,120.4 397.7,119.6 394.3,118.8 391.0,117.8 387.6,116.8 384.3,115.7 381.1,114.5 377.9,113.2 374.8,111.9 371.8,110.4 368.8,108.9 365.9,107.3 363.1,105.7 360.4,104.0 357.8,102.2 355.2,100.3 352.8,98.4 350.5,96.5 348.2,94.4 346.1,92.4 344.1,90.3 342.2,88.1 340.4,85.9 338.7,83.7 337.2,81.4 335.8,79.1 334.5,76.7 333.4,74.4 332.3,72.0 331.5,69.6 330.7,67.2 330.1,64.8 329.6,62.4 329.3,60.0 329.1,57.6 329.0,55.2 329.1,52.8 329.3,50.4 329.6,48.0 330.1,45.7 330.7,43.3 331.5,41.0 332.4,38.8 333.4,36.5 334.6,34.4 335.9,32.2 337.3,30.1 338.8,28.1 340.5,26.1 342.3,24.1 344.2,22.2 346.2,20.4 348.3,18.6 350.6,16.9 352.9,15.3 355.4,13.7 357.9,12.3 360.5,10.8 363.3,9.5 366.1,8.3 369.0,7.1 372.0,6.0 375.0,5.0 378.1,4.1 381.3,3.3 384.5,2.6 387.8,1.9 391.1,1.4 394.5,0.9 397.9,0.5 401.4,0.3 404.8,0.1 408.3,0.0 411.8,0.0 415.4,0.1 418.9,0.3 422.4,0.6 425.9,1.0 429.5,1.5 432.9,2.1 436.4,2.8 439.9,3.5 443.3,4.4 446.6,5.3 450.0,6.4 453.3,7.5 456.5,8.7 459.7,9.9 462.8,11.3 465.8,12.7 468.8,14.2 471.7,15.8 474.5,17.5 477.2,19.2 479.8,21.0 482.4,22.8 484.8,24.7 487.2,26.7 489.4,28.7 491.5,30.8 493.5,32.9 495.4,35.1 497.2,37.3 498.9,39.5 500.4,41.8 501.8,44.1 503.1,46.4 504.2,48.8 505.3,51.1 506.1,53.5 506.9,55.9 507.5,58.4 508.0,60.8 508.3,63.2 508.5,65.6 508.6,68.0 508.5,70.4 508.3,72.8 508.0,75.2 507.5,77.5 506.9,79.8 506.1,82.1 505.2,84.4 504.2,86.6 503.0,88.8 501.7,91.0 500.3,93.1 498.8,95.1 497.1,97.1 495.3,99.1 493.4,100.9 491.4,102.8 489.3,104.5 487.0,106.2 484.7,107.9 482.2,109.4 479.7,110.9 477.1,112.3 474.3,113.7 471.5,114.9 468.6,116.1 465.6,117.2 462.6,118.2 459.5,119.1 456.3,119.9"/>
<polygon points="463.3,138.2 459.0,139.0 454.7,139.8 450.3,140.4 445.9,140.8 441.4,141.2 436.9,141.4 432.4,141.5 427.8,141.5 423.3,141.3 418.7,141.1 414.1,140.7 409.5,140.2 405.0,139.5 400.4,138.8 395.9,137.9 391.5,136.9 387.0,135.8 382.7,134.6 378.3,133.3 374.1,131.8 369.9,130.3 365.8,128.6 361.7,126.9 357.8,125.0 353.9,123.0 350.2,121.0 346.5,118.8 343.0,116.6 339.6,114.3 336.3,111.9 333.1,109.4 330.1,106.9 327.2,104.2 324.4,101.6 321.8,98.8 319.3,96.0 317.0,93.1 314.9,90.2 312.9,87.3 311.0,84.3 309.4,81.3 307.9,78.2 306.6,75.1 305.4,72.0 304.4,68.9 303.6,65.8 303.0,62.6 302.6,59.5 302.3,56.4 302.2,53.2 302.3,50.1 302.6,47.0 303.0,44.0 303.7,40.9 304.5,37.9 305.5,34.9 306.6,32.0 308.0,29.1 309.5,26.2 311.1,23.5 313.0,20.7 315.0,18.1 317.1,15.5 319.5,12.9 321.9,10.5 324.6,8.1 327.3,5.8 330.2,3.6 333.3,1.5 336.5,-0.5 339.8,-2.5 343.2,-4.3 346.7,-6.0 350.4,-7.6 354.1,-9.1 358.0,-10.6 361.9,-11.8 366.0,-13.0 370.1,-14.1 374.3,-15.0 378.6,-15.9 382.9,-16.6 387.3,-17.2 391.7,-17.7 396.2,-18.0 400.7,-18.2 405.2,-18.3 409.8,-18.3 414.3,-18.2 418.9,-17.9 423.5,-17.5 428.1,-17.0 432.6,-16.4 437.2,-15.6 441.7,-14.8 446.1,-13.8 450.6,-12.7 454.9,-11.4 459.3,-10.1 463.5,-8.7 467.7,-7.1 471.8,-5.5 475.9,-3.7 479.8,-1.8 483.7,0.1 487.4,2.2 491.1,4.3 494.6,6.6 498.0,8.9 501.3,11.3 504.5,13.8 507.5,16.3 510.4,18.9 513.2,21.6 515.8,24.4 518.3,27.2 520.6,30.0 522.7,32.9 524.7,35.9 526.6,38.9 528.2,41.9 529.7,45.0 531.0,48.0 532.2,51.1 533.2,54.3 534.0,57.4 534.6,60.5 535.0,63.7 535.3,66.8 535.4,69.9 535.3,73.0 535.0,76.1 534.6,79.2 533.9,82.3 533.1,85.3 532.1,88.3 531.0,91.2 529.6,94.1 528.1,96.9 526.5,99.7 524.6,102.4 522.6,105.1 520.5,107.7 518.1,110.2 515.7,112.7 513.0,115.1 510.3,117.3 507.4,119.6 504.3,121.7 501.1,123.7 497.8,125.6 494.4,127.4 490.9,129.2 487.2,130.8 483.5,132.3 479.6,133.7 475.7,135.0 471.6,136.2 467.5,137.3"/>
<polygon points="471.6,152.5 466.5,153.5 461.4,154.3 456.2,155.0 450.9,155.6 445.6,156.0 440.3,156.2 434.9,156.4 429.5,156.3 424.1,156.2 418.7,155.9 413.2,155.4 407.8,154.8 402.4,154.0 397.0,153.1 391.7,152.1 386.4,150.9 381.1,149.6 375.9,148.2 370.8,146.6 365.8,144.9 360.8,143.1 355.9,141.1 351.1,139.0 346.4,136.8 341.9,134.5 337.4,132.0 333.1,129.5 328.9,126.8 324.8,124.1 320.9,121.2 317.2,118.3 313.6,115.3 310.1,112.2 306.9,109.0 303.8,105.7 300.8,102.4 298.1,99.0 295.5,95.6 293.2,92.1 291.0,88.5 289.0,84.9 287.3,81.3 285.7,77.6 284.3,74.0 283.2,70.3 282.2,66.6 281.5,62.8 281.0,59.1 280.6,55.4 280.5,51.7 280.7,48.0 281.0,44.3 281.5,40.7 282.3,37.1 283.2,33.5 284.4,30.0 285.8,26.5 287.4,23.0 289.1,19.7 291.1,16.4 293.3,13.1 295.7,10.0 298.2,6.9 301.0,3.9 303.9,1.0 307.0,-1.8 310.3,-4.6 313.8,-7.2 317.4,-9.7 321.1,-12.1 325.1,-14.4 329.1,-16.5 333.3,-18.6 337.7,-20.5 342.1,-22.3 346.7,-24.0 351.4,-25.5 356.2,-26.9 361.0,-28.2 366.0,-29.3 371.1,-30.3 376.2,-31.1 381.4,-31.8 386.7,-32.4 392.0,-32.8 397.3,-33.1 402.7,-33.2 408.1,-33.2 413.5,-33.0 418.9,-32.7 424.4,-32.2 429.8,-31.6 435.2,-30.9 440.6,-30.0 445.9,-28.9 451.2,-27.8 456.5,-26.5 461.7,-25.0 466.8,-23.4 471.8,-21.7 476.8,-19.9 481.7,-17.9 486.5,-15.8 491.2,-13.6 495.7,-11.3 500.2,-8.9 504.5,-6.3 508.7,-3.7 512.8,-0.9 516.7,1.9 520.4,4.9 524.0,7.9 527.5,11.0 530.7,14.2 533.8,17.4 536.8,20.8 539.5,24.2 542.1,27.6 544.4,31.1 546.6,34.6 548.6,38.2 550.3,41.9 551.9,45.5 553.3,49.2 554.4,52.9 555.4,56.6 556.1,60.3 556.6,64.1 557.0,67.8 557.1,71.5 556.9,75.2 556.6,78.8 556.1,82.5 555.3,86.1 554.4,89.7 553.2,93.2 551.8,96.7 550.2,100.1 548.5,103.5 546.5,106.8 544.3,110.0 541.9,113.2 539.4,116.3 536.6,119.3 533.7,122.2 530.6,125.0 527.3,127.7 523.8,130.3 520.2,132.8 516.5,135.2 512.5,137.5 508.5,139.7 504.3,141.7 500.0,143.7 495.5,145.5 490.9,147.1 486.2,148.7 481.4,150.1 476.6,151.3"/>
<polygon points="478.7,164.8 473.0,165.9 467.2,166.9 461.3,167.7 455.3,168.3 449.3,168.8 443.2,169.1 437.1,169.2 431.0,169.2 424.8,169.0 418.6,168.6 412.5,168.1 406.3,167.4 400.2,166.6 394.1,165.5 388.0,164.4 382.0,163.0 376.0,161.6 370.1,159.9 364.3,158.1 358.6,156.2 352.9,154.1 347.4,151.9 342.0,149.5 336.6,147.0 331.4,144.3 326.4,141.6 321.5,138.7 316.7,135.7 312.1,132.6 307.7,129.3 303.4,126.0 299.3,122.6 295.4,119.0 291.7,115.4 288.2,111.7 284.9,107.9 281.8,104.1 278.9,100.2 276.2,96.2 273.7,92.2 271.5,88.1 269.5,84.0 267.7,79.8 266.1,75.6 264.8,71.4 263.7,67.2 262.9,63.0 262.3,58.8 261.9,54.6 261.8,50.3 262.0,46.2 262.3,42.0 262.9,37.8 263.8,33.7 264.9,29.7 266.2,25.7 267.8,21.7 269.6,17.8 271.6,14.0 273.8,10.2 276.3,6.6 279.0,3.0 281.9,-0.5 285.0,-3.9 288.4,-7.2 291.9,-10.4 295.6,-13.5 299.5,-16.5 303.6,-19.3 307.9,-22.0 312.4,-24.6 317.0,-27.1 321.7,-29.4 326.7,-31.6 331.7,-33.7 336.9,-35.6 342.2,-37.3 347.7,-38.9 353.2,-40.3 358.9,-41.6 364.6,-42.7 370.5,-43.7 376.4,-44.5 382.3,-45.1 388.3,-45.6 394.4,-45.9 400.5,-46.0 406.7,-46.0 412.8,-45.8 419.0,-45.5 425.1,-44.9 431.3,-44.2 437.4,-43.4 443.5,-42.4 449.6,-41.2 455.6,-39.9 461.6,-38.4 467.5,-36.7 473.3,-34.9 479.0,-33.0 484.7,-30.9 490.2,-28.7 495.6,-26.3 501.0,-23.8 506.2,-21.2 511.2,-18.4 516.1,-15.5 520.9,-12.5 525.5,-9.4 529.9,-6.2 534.2,-2.8 538.3,0.6 542.2,4.1 545.9,7.8 549.4,11.5 552.7,15.2 555.8,19.1 558.7,23.0 561.4,27.0 563.9,31.0 566.1,35.1 568.1,39.2 569.9,43.3 571.5,47.5 572.8,51.7 573.9,55.9 574.7,60.2 575.3,64.4 575.7,68.6 575.8,72.8 575.7,77.0 575.3,81.2 574.7,85.3 573.8,89.4 572.7,93.5 571.4,97.5 569.8,101.5 568.0,105.3 566.0,109.2 563.8,112.9 561.3,116.6 558.6,120.2 555.7,123.7 552.6,127.1 549.2,130.4 545.7,133.6 542.0,136.7 538.1,139.6 534.0,142.5 529.7,145.2 525.2,147.8 520.6,150.3 515.9,152.6 510.9,154.8 505.9,156.8 500.7,158.7 495.4,160.5 489.9,162.1 484.4,163.5"/>
</g>
<rect x="344" y="19.3" width="195.2" height="117.6" fill="none" stroke="#556" stroke-opacity="0.5" stroke-width="0.35"/>
<g stroke="#777" stroke-width="0.4">
<line x1="344" y1="136.9" x2="344" y2="139.5"/>
<line x1="392.8" y1="136.9" x2="392.8" y2="139.5"/>
<line x1="441.6" y1="136.9" x2="441.6" y2="139.5"/>
<line x1="490.4" y1="136.9" x2="490.4" y2="139.5"/>
<line x1="539.2" y1="136.9" x2="539.2" y2="139.5"/>
<line x1="338.8" y1="19.3" x2="344" y2="19.3"/>
<line x1="338.8" y1="42.82" x2="344" y2="42.82"/>
<line x1="338.8" y1="66.34" x2="344" y2="66.34"/>
<line x1="338.8" y1="89.86" x2="344" y2="89.86"/>
<line x1="338.8" y1="113.38" x2="344" y2="113.38"/>
<line x1="338.8" y1="136.9" x2="344" y2="136.9"/>
</g>
<g font-family="Liberation Sans, sans-serif" font-size="2.6" fill="#555">
<text x="344" y="143.6" text-anchor="middle">7.40</text>
<text x="392.8" y="143.6" text-anchor="middle">7.73</text>
<text x="441.6" y="143.6" text-anchor="middle">8.05</text>
<text x="490.4" y="143.6" text-anchor="middle">8.38</text>
<text x="539.2" y="143.6" text-anchor="middle">8.70</text>
<text x="336.5" y="20.2" text-anchor="end">31.00</text>
<text x="336.5" y="43.72" text-anchor="end">25.00</text>
<text x="336.5" y="67.24" text-anchor="end">19.00</text>
<text x="336.5" y="90.76" text-anchor="end">13.00</text>
<text x="336.5" y="114.28" text-anchor="end">7.00</text>
<text x="336.5" y="137.8" text-anchor="end">1.00</text>
</g>
<rect x="410.93" y="91.9" width="7.35" height="3" fill="#fff" stroke="#555" stroke-width="0.3"/>
<text x="414.6" y="94.25" font-family="Liberation Sans, sans-serif" font-size="2.4" text-anchor="middle" fill="#333">0.6</text>
<rect x="476.32" y="107.1" width="7.35" height="3" fill="#fff" stroke="#555" stroke-width="0.3"/>
<text x="480" y="109.45" font-family="Liberation Sans, sans-serif" font-size="2.4" text-anchor="middle" fill="#333">0.8</text>
<rect x="361.88" y="124.9" width="4.25" height="3" fill="#fff" stroke="#555" stroke-width="0.3"/>
<text x="364" y="127.25" font-family="Liberation Sans, sans-serif" font-size="2.4" text-anchor="middle" fill="#333">1</text>
<rect x="529.88" y="84.5" width="4.25" height="3" fill="#fff" stroke="#555" stroke-width="0.3"/>
<text x="532" y="86.85" font-family="Liberation Sans, sans-serif" font-size="2.4" text-anchor="middle" fill="#333">1</text>
<rect x="524.93" y="123.5" width="7.35" height="3" fill="#fff" stroke="#555" stroke-width="0.3"/>
<text x="528.6" y="125.85" font-family="Liberation Sans, sans-serif" font-size="2.4" text-anchor="middle" fill="#333">1.2</text>
<ellipse cx="344" cy="19.3" rx="2.4" ry="1.45" fill="#f00000"/>
<ellipse cx="539.2" cy="19.3" rx="2.4" ry="1.45" fill="#f00000"/>
<ellipse cx="344" cy="136.9" rx="2.4" ry="1.45" fill="#f00000"/>
<ellipse cx="539.2" cy="136.9" rx="2.4" ry="1.45" fill="#f00000"/>
<rect x="439.7" y="77.4" width="3.6" height="2.2" rx="0.6" fill="#f00000"/>
<text x="438.4" y="79.4" font-family="Liberation Sans, sans-serif" font-size="2.6" text-anchor="end" fill="#001060" fill-opacity="0.7">5</text>
<text x="441.1" y="16.4" font-family="Liberation Sans, sans-serif" font-size="8.06" text-anchor="middle" fill="#000" stroke="#000" stroke-width="0.12" textLength="61.8" lengthAdjust="spacingAndGlyphs">Residual turbidity</text>
<text x="440.8" y="161" font-family="Liberation Sans, sans-serif" font-size="5.5" text-anchor="middle" fill="#2a2a2a" stroke="#2a2a2a" stroke-width="0.07">A: pH</text>
<text transform="translate(307.4 77.5) rotate(-90)" font-family="Liberation Sans, sans-serif" font-size="5.4" text-anchor="middle" fill="#2a2a2a" stroke="#2a2a2a" stroke-width="0.07">B: Turbidity</text>
<g stroke="#6a6a6a" stroke-width="0.4" fill="none">
<polyline points="48.6,302.8 140.6,280.5 232.9,302.4"/>
<polyline points="47.9,291.1 140.5,269.9 233.6,290.9"/>
<polyline points="47.2,279.5 140.5,259.2 234.4,279.3"/>
<polyline points="46.5,267.9 140.5,248.6 235.1,267.7"/>
<polyline points="45.8,256.2 140.4,237.9 235.9,256.1"/>
<polyline points="45.1,244.6 140.4,227.2 236.6,244.6"/>
<polyline points="44.4,233.0 140.4,216.6 237.4,233.0"/>
<line x1="48.6" y1="302.8" x2="44.4" y2="233.0"/>
<line x1="71.6" y1="297.2" x2="68.4" y2="228.9"/>
<line x1="94.6" y1="291.6" x2="92.4" y2="224.8"/>
<line x1="117.6" y1="286.1" x2="116.4" y2="220.7"/>
<line x1="140.6" y1="280.5" x2="140.4" y2="216.6"/>
<line x1="159.0" y1="284.9" x2="159.8" y2="219.9"/>
<line x1="177.5" y1="289.3" x2="179.2" y2="223.2"/>
<line x1="196.0" y1="293.7" x2="198.6" y2="226.4"/>
<line x1="214.4" y1="298.1" x2="218.0" y2="229.7"/>
<line x1="232.9" y1="302.4" x2="237.4" y2="233.0"/>
</g>
<g stroke="#666" stroke-width="0.4" fill="none">
<line x1="50.0" y1="326.0" x2="44.4" y2="233.0"/>
<line x1="231.4" y1="325.6" x2="232.9" y2="302.4" stroke="#888"/>
</g>
<defs><clipPath id="fb"><polygon points="50.0,326.0 141.0,357.4 231.4,325.6 140.6,301.8"/></clipPath></defs>
<polygon points="50.0,326.0 141.0,357.4 231.4,325.6 140.6,301.8" fill="#ffff00"/>
<g clip-path="url(#fb)" fill="none" stroke-width="0.55">
<polygon points="154.3,342.4 153.1,342.6 151.8,342.7 150.5,342.8 149.2,342.9 147.9,343.0 146.6,343.1 145.2,343.1 143.9,343.2 142.5,343.2 141.1,343.2 139.8,343.1 138.4,343.1 137.1,343.0 135.7,342.9 134.4,342.8 133.1,342.7 131.8,342.6 130.5,342.4 129.2,342.3 128.0,342.1 126.7,341.9 125.5,341.7 124.3,341.4 123.2,341.2 122.1,340.9 121.0,340.7 120.0,340.4 118.9,340.1 118.0,339.7 117.0,339.4 116.2,339.1 115.3,338.7 114.5,338.4 113.7,338.0 113.0,337.6 112.4,337.3 111.7,336.9 111.2,336.5 110.6,336.1 110.2,335.7 109.7,335.2 109.4,334.8 109.1,334.4 108.8,334.0 108.6,333.6 108.4,333.1 108.3,332.7 108.2,332.3 108.2,331.9 108.2,331.5 108.3,331.0 108.5,330.6 108.6,330.2 108.9,329.8 109.2,329.4 109.5,329.0 109.9,328.6 110.3,328.2 110.8,327.9 111.3,327.5 111.8,327.1 112.4,326.8 113.0,326.4 113.7,326.1 114.4,325.8 115.2,325.5 116.0,325.2 116.8,324.9 117.7,324.6 118.5,324.3 119.5,324.0 120.4,323.8 121.4,323.6 122.4,323.3 123.4,323.1 124.5,322.9 125.5,322.8 126.6,322.6 127.8,322.4 128.9,322.3 130.0,322.2 131.2,322.1 132.4,322.0 133.6,321.9 134.8,321.8 136.0,321.8 137.2,321.7 138.4,321.7 139.6,321.7 140.9,321.7 142.1,321.7 143.3,321.8 144.5,321.8 145.7,321.9 147.0,322.0 148.2,322.1 149.3,322.2 150.5,322.3 151.7,322.4 152.9,322.6 154.0,322.8 155.1,322.9 156.2,323.1 157.3,323.3 158.4,323.6 159.4,323.8 160.4,324.0 161.4,324.3 162.4,324.6 163.3,324.9 164.2,325.1 165.1,325.4 165.9,325.8 166.7,326.1 167.5,326.4 168.2,326.8 168.9,327.1 169.6,327.5 170.2,327.9 170.7,328.2 171.3,328.6 171.7,329.0 172.2,329.4 172.6,329.8 172.9,330.2 173.2,330.6 173.4,331.0 173.6,331.5 173.8,331.9 173.9,332.3 173.9,332.7 173.9,333.1 173.9,333.6 173.8,334.0 173.6,334.4 173.4,334.8 173.1,335.2 172.8,335.6 172.5,336.1 172.1,336.5 171.6,336.9 171.1,337.2 170.5,337.6 169.9,338.0 169.2,338.4 168.5,338.7 167.8,339.1 167.0,339.4 166.1,339.7 165.2,340.1 164.3,340.4 163.3,340.6 162.3,340.9 161.3,341.2 160.2,341.4 159.1,341.7 157.9,341.9 156.8,342.1 155.6,342.3" stroke="#90a878"/>
<polygon points="166.0,351.7 163.7,352.0 161.3,352.3 158.9,352.5 156.5,352.7 154.0,352.9 151.5,353.0 148.9,353.1 146.4,353.1 143.8,353.1 141.3,353.1 138.7,353.1 136.2,353.0 133.6,352.9 131.1,352.7 128.6,352.5 126.1,352.3 123.7,352.0 121.3,351.7 118.9,351.4 116.6,351.0 114.3,350.6 112.1,350.2 109.9,349.7 107.8,349.3 105.7,348.8 103.8,348.2 101.9,347.7 100.0,347.1 98.3,346.5 96.6,345.9 95.0,345.2 93.5,344.5 92.1,343.9 90.8,343.2 89.5,342.5 88.4,341.8 87.3,341.0 86.4,340.3 85.5,339.5 84.7,338.8 84.0,338.0 83.5,337.3 83.0,336.5 82.6,335.7 82.3,334.9 82.1,334.2 82.0,333.4 81.9,332.6 82.0,331.9 82.2,331.1 82.4,330.4 82.7,329.6 83.2,328.9 83.7,328.2 84.3,327.5 84.9,326.8 85.7,326.1 86.5,325.4 87.4,324.8 88.4,324.1 89.5,323.5 90.6,322.9 91.8,322.3 93.0,321.7 94.3,321.1 95.7,320.6 97.1,320.1 98.6,319.6 100.2,319.1 101.8,318.6 103.4,318.2 105.1,317.8 106.8,317.4 108.6,317.0 110.4,316.7 112.3,316.3 114.2,316.0 116.1,315.8 118.0,315.5 120.0,315.3 122.0,315.1 124.0,314.9 126.1,314.7 128.1,314.6 130.2,314.5 132.3,314.4 134.4,314.3 136.5,314.3 138.6,314.3 140.8,314.3 142.9,314.3 145.0,314.4 147.1,314.5 149.2,314.6 151.3,314.7 153.4,314.9 155.5,315.0 157.5,315.3 159.6,315.5 161.6,315.7 163.6,316.0 165.6,316.3 167.5,316.7 169.4,317.0 171.3,317.4 173.1,317.8 174.9,318.2 176.7,318.6 178.4,319.1 180.1,319.6 181.7,320.1 183.3,320.6 184.8,321.1 186.3,321.7 187.7,322.3 189.0,322.9 190.3,323.5 191.5,324.1 192.7,324.7 193.7,325.4 194.8,326.1 195.7,326.8 196.5,327.5 197.3,328.2 198.0,328.9 198.6,329.6 199.2,330.4 199.6,331.1 200.0,331.9 200.3,332.6 200.5,333.4 200.5,334.2 200.5,334.9 200.5,335.7 200.3,336.5 200.0,337.2 199.6,338.0 199.1,338.8 198.6,339.5 197.9,340.3 197.1,341.0 196.3,341.7 195.3,342.5 194.3,343.2 193.1,343.9 191.9,344.5 190.6,345.2 189.1,345.8 187.6,346.5 186.0,347.1 184.4,347.7 182.6,348.2 180.8,348.7 178.9,349.3 176.9,349.7 174.8,350.2 172.7,350.6 170.6,351.0 168.3,351.4" stroke="#50e060"/>
<polygon points="174.5,358.4 171.4,358.8 168.3,359.2 165.0,359.5 161.7,359.8 158.4,360.0 155.0,360.2 151.7,360.3 148.2,360.4 144.8,360.4 141.4,360.4 138.0,360.3 134.5,360.2 131.1,360.0 127.7,359.8 124.4,359.5 121.1,359.2 117.8,358.8 114.6,358.4 111.4,358.0 108.3,357.5 105.3,356.9 102.3,356.4 99.5,355.7 96.7,355.1 94.0,354.4 91.4,353.6 88.9,352.9 86.5,352.1 84.2,351.3 82.1,350.4 80.0,349.6 78.1,348.7 76.3,347.8 74.6,346.8 73.0,345.9 71.6,344.9 70.3,343.9 69.1,342.9 68.0,341.9 67.1,340.9 66.3,339.9 65.6,338.9 65.0,337.9 64.6,336.9 64.3,335.9 64.1,334.9 64.0,333.9 64.1,332.9 64.3,331.9 64.6,330.9 65.0,329.9 65.5,329.0 66.1,328.0 66.9,327.1 67.7,326.2 68.6,325.3 69.7,324.4 70.8,323.6 72.0,322.7 73.4,321.9 74.8,321.1 76.3,320.3 77.8,319.6 79.5,318.8 81.2,318.1 83.0,317.5 84.9,316.8 86.9,316.2 88.9,315.6 90.9,315.0 93.1,314.4 95.2,313.9 97.5,313.4 99.8,313.0 102.1,312.5 104.5,312.1 106.9,311.7 109.3,311.4 111.8,311.1 114.3,310.8 116.9,310.5 119.5,310.3 122.1,310.1 124.7,309.9 127.3,309.8 130.0,309.7 132.6,309.6 135.3,309.6 138.0,309.5 140.7,309.6 143.4,309.6 146.1,309.7 148.7,309.8 151.4,309.9 154.1,310.1 156.7,310.3 159.4,310.5 162.0,310.8 164.6,311.1 167.2,311.4 169.7,311.7 172.2,312.1 174.7,312.5 177.2,312.9 179.6,313.4 181.9,313.9 184.3,314.4 186.5,315.0 188.8,315.6 190.9,316.2 193.0,316.8 195.1,317.4 197.1,318.1 199.0,318.8 200.8,319.6 202.6,320.3 204.3,321.1 206.0,321.9 207.5,322.7 209.0,323.5 210.3,324.4 211.6,325.3 212.8,326.2 213.9,327.1 214.8,328.0 215.7,329.0 216.5,329.9 217.2,330.9 217.7,331.9 218.2,332.9 218.5,333.9 218.7,334.9 218.8,335.9 218.8,336.9 218.6,337.9 218.3,338.9 217.9,339.9 217.4,340.9 216.7,341.9 215.9,342.9 215.0,343.9 213.9,344.9 212.7,345.9 211.4,346.8 210.0,347.7 208.4,348.7 206.7,349.5 204.9,350.4 203.0,351.3 200.9,352.1 198.7,352.9 196.4,353.6 194.0,354.4 191.5,355.1 188.9,355.7 186.2,356.3 183.4,356.9 180.5,357.5 177.6,358.0" stroke="#60f020"/>
</g>
<g stroke="#555" stroke-width="0.3">
<polyline fill="none" points="50.0,326.0 141.0,357.4 231.4,325.6"/>
</g>
<g fill="#000">
<circle cx="141.0" cy="357.4" r="0.6"/>
<circle cx="163.6" cy="349.4" r="0.6"/>
<circle cx="186.2" cy="341.5" r="0.6"/>
<circle cx="208.8" cy="333.6" r="0.6"/>
<circle cx="231.4" cy="325.6" r="0.6"/>
<circle cx="141.0" cy="357.4" r="0.6"/>
<circle cx="122.8" cy="351.1" r="0.6"/>
<circle cx="104.6" cy="344.8" r="0.6"/>
<circle cx="86.4" cy="338.6" r="0.6"/>
<circle cx="68.2" cy="332.3" r="0.6"/>
<circle cx="50.0" cy="326.0" r="0.6"/>
<rect x="47.0" y="302.3" width="2" height="0.9"/>
<rect x="46.3" y="290.7" width="2" height="0.9"/>
<rect x="45.6" y="279.1" width="2" height="0.9"/>
<rect x="44.9" y="267.4" width="2" height="0.9"/>
<rect x="44.2" y="255.8" width="2" height="0.9"/>
<rect x="43.5" y="244.2" width="2" height="0.9"/>
<rect x="42.8" y="232.5" width="2" height="0.9"/>
</g>
<g font-family="Liberation Sans, sans-serif" font-size="2.7" fill="#555">
<text x="142.5" y="361.0">7.40</text>
<text x="165.1" y="353.0">7.73</text>
<text x="187.7" y="345.1">8.05</text>
<text x="210.3" y="337.2">8.38</text>
<text x="232.9" y="329.2">8.70</text>
<text x="139.5" y="360.0" text-anchor="end">20.00</text>
<text x="121.3" y="353.7" text-anchor="end">22.00</text>
<text x="103.1" y="347.4" text-anchor="end">24.00</text>
<text x="84.9" y="341.2" text-anchor="end">26.00</text>
<text x="66.7" y="334.9" text-anchor="end">28.00</text>
<text x="48.5" y="328.6" text-anchor="end">30.00</text>
<text x="46.3" y="302.2" text-anchor="end">0.4</text>
<text x="45.6" y="290.6" text-anchor="end">0.6</text>
<text x="44.9" y="279.0" text-anchor="end">0.8</text>
<text x="44.2" y="267.4" text-anchor="end">1</text>
<text x="43.5" y="255.8" text-anchor="end">1.2</text>
<text x="42.8" y="244.1" text-anchor="end">1.4</text>
<text x="42.1" y="232.5" text-anchor="end">1.6</text>
</g>
<text x="221" y="355" font-family="Liberation Sans, sans-serif" font-size="4.3" text-anchor="middle" fill="#2a2a2a" stroke="#2a2a2a" stroke-width="0.07">A: pH</text>
<text x="60" y="355" font-family="Liberation Sans, sans-serif" font-size="4.45" text-anchor="middle" fill="#2a2a2a" stroke="#2a2a2a" stroke-width="0.07">C: Dosage</text>
<text transform="translate(14.5 280.5) rotate(-90)" font-family="Liberation Sans, sans-serif" font-size="5.1" text-anchor="middle" fill="#2a2a2a" stroke="#2a2a2a" stroke-width="0.07">Residual turbidity</text>
<g stroke-width="0.35" stroke-linejoin="round">
<polygon points="140.4,228.4 142.6,225.6 140.4,223.0 138.3,225.8" fill="#da7d61" stroke="#da7d61"/>
<polygon points="138.3,231.1 140.4,228.4 138.3,225.8 136.1,228.5" fill="#d98f60" stroke="#d98f60"/>
<polygon points="142.6,230.9 144.8,228.1 142.6,225.6 140.4,228.4" fill="#da8e5f" stroke="#da8e5f"/>
<polygon points="136.1,233.8 138.3,231.1 136.1,228.5 133.9,231.1" fill="#d8a15d" stroke="#d8a15d"/>
<polygon points="144.8,233.3 147.0,230.5 144.8,228.1 142.6,230.9" fill="#da9f5d" stroke="#da9f5d"/>
<polygon points="140.5,233.7 142.6,230.9 140.4,228.4 138.3,231.1" fill="#d9a15d" stroke="#d9a15d"/>
<polygon points="133.9,236.3 136.1,233.8 133.9,231.1 131.7,233.6" fill="#d6b25b" stroke="#d6b25b"/>
<polygon points="138.3,236.3 140.5,233.7 138.3,231.1 136.1,233.8" fill="#d8b45b" stroke="#d8b45b"/>
<polygon points="142.7,236.1 144.8,233.3 142.6,230.9 140.5,233.7" fill="#d9b35b" stroke="#d9b35b"/>
<polygon points="147.1,235.7 149.2,232.8 147.0,230.5 144.8,233.3" fill="#daaf5a" stroke="#daaf5a"/>
<polygon points="131.6,238.7 133.9,236.3 131.7,233.6 129.5,236.0" fill="#d4c158" stroke="#d4c158"/>
<polygon points="140.5,238.8 142.7,236.1 140.5,233.7 138.3,236.3" fill="#d8c459" stroke="#d8c459"/>
<polygon points="149.3,237.9 151.5,235.0 149.2,232.8 147.1,235.7" fill="#dabf58" stroke="#dabf58"/>
<polygon points="136.1,238.8 138.3,236.3 136.1,233.8 133.9,236.3" fill="#d6c459" stroke="#d6c459"/>
<polygon points="144.9,238.4 147.1,235.7 144.8,233.3 142.7,236.1" fill="#d9c359" stroke="#d9c359"/>
<polygon points="129.4,241.0 131.6,238.7 129.5,236.0 127.2,238.3" fill="#d3cd56" stroke="#d3cd56"/>
<polygon points="151.6,240.0 153.8,237.1 151.5,235.0 149.3,237.9" fill="#dacd55" stroke="#dacd55"/>
<polygon points="133.8,241.3 136.1,238.8 133.9,236.3 131.6,238.7" fill="#d1d056" stroke="#d1d056"/>
<polygon points="138.3,241.3 140.5,238.8 138.3,236.3 136.1,238.8" fill="#d2d257" stroke="#d2d257"/>
<polygon points="142.7,241.1 144.9,238.4 142.7,236.1 140.5,238.8" fill="#d7d357" stroke="#d7d357"/>
<polygon points="147.2,240.7 149.3,237.9 147.1,235.7 144.9,238.4" fill="#d9d156" stroke="#d9d156"/>
<polygon points="127.1,243.2 129.4,241.0 127.2,238.3 124.9,240.4" fill="#acd152" stroke="#acd152"/>
<polygon points="131.5,243.6 133.8,241.3 131.6,238.7 129.4,241.0" fill="#9fd354" stroke="#9fd354"/>
<polygon points="136.0,243.8 138.3,241.3 136.1,238.8 133.8,241.3" fill="#9ad554" stroke="#9ad554"/>
<polygon points="145.0,243.4 147.2,240.7 144.9,238.4 142.7,241.1" fill="#aad854" stroke="#aad854"/>
<polygon points="149.5,242.8 151.6,240.0 149.3,237.9 147.2,240.7" fill="#bfd953" stroke="#bfd953"/>
<polygon points="154.0,242.0 156.1,239.1 153.8,237.1 151.6,240.0" fill="#d0d751" stroke="#d0d751"/>
<polygon points="140.5,243.7 142.7,241.1 140.5,238.8 138.3,241.3" fill="#9ed654" stroke="#9ed654"/>
<polygon points="124.7,245.2 127.1,243.2 124.9,240.4 122.6,242.5" fill="#78cf4f" stroke="#78cf4f"/>
<polygon points="133.8,246.1 136.0,243.8 133.8,241.3 131.5,243.6" fill="#6cd351" stroke="#6cd351"/>
<polygon points="147.3,245.5 149.5,242.8 147.2,240.7 145.0,243.4" fill="#78d851" stroke="#78d851"/>
<polygon points="156.3,243.9 158.4,241.0 156.1,239.1 154.0,242.0" fill="#a3db4e" stroke="#a3db4e"/>
<polygon points="129.3,245.8 131.5,243.6 129.4,241.0 127.1,243.2" fill="#70d150" stroke="#70d150"/>
<polygon points="138.3,246.2 140.5,243.7 138.3,241.3 136.0,243.8" fill="#6cd552" stroke="#6cd552"/>
<polygon points="142.8,246.0 145.0,243.4 142.7,241.1 140.5,243.7" fill="#6fd752" stroke="#6fd752"/>
<polygon points="151.8,244.9 154.0,242.0 151.6,240.0 149.5,242.8" fill="#84d950" stroke="#84d950"/>
<polygon points="122.4,247.2 124.7,245.2 122.6,242.5 120.2,244.5" fill="#57cd4b" stroke="#57cd4b"/>
<polygon points="126.9,247.9 129.3,245.8 127.1,243.2 124.7,245.2" fill="#54cf4d" stroke="#54cf4d"/>
<polygon points="131.5,248.3 133.8,246.1 131.5,243.6 129.3,245.8" fill="#55d14e" stroke="#55d14e"/>
<polygon points="136.0,248.5 138.3,246.2 136.0,243.8 133.8,246.1" fill="#56d34f" stroke="#56d34f"/>
<polygon points="140.5,248.5 142.8,246.0 140.5,243.7 138.3,246.2" fill="#56d54f" stroke="#56d54f"/>
<polygon points="145.1,248.2 147.3,245.5 145.0,243.4 142.8,246.0" fill="#56d74f" stroke="#56d74f"/>
<polygon points="149.6,247.6 151.8,244.9 149.5,242.8 147.3,245.5" fill="#56d84e" stroke="#56d84e"/>
<polygon points="154.1,246.8 156.3,243.9 154.0,242.0 151.8,244.9" fill="#62d94c" stroke="#62d94c"/>
<polygon points="158.7,245.8 160.8,242.8 158.4,241.0 156.3,243.9" fill="#76db4a" stroke="#76db4a"/>
<polygon points="120.0,249.1 122.4,247.2 120.2,244.5 117.9,246.3" fill="#4ccb47" stroke="#4ccb47"/>
<polygon points="129.1,250.5 131.5,248.3 129.3,245.8 126.9,247.9" fill="#4fcf4b" stroke="#4fcf4b"/>
<polygon points="138.3,250.8 140.5,248.5 138.3,246.2 136.0,248.5" fill="#51d34c" stroke="#51d34c"/>
<polygon points="142.8,250.7 145.1,248.2 142.8,246.0 140.5,248.5" fill="#51d54c" stroke="#51d54c"/>
<polygon points="151.9,249.6 154.1,246.8 151.8,244.9 149.6,247.6" fill="#50d84a" stroke="#50d84a"/>
<polygon points="161.1,247.5 163.2,244.5 160.8,242.8 158.7,245.8" fill="#57db46" stroke="#57db46"/>
<polygon points="124.6,249.9 126.9,247.9 124.7,245.2 122.4,247.2" fill="#4ecd49" stroke="#4ecd49"/>
<polygon points="133.7,250.8 136.0,248.5 133.8,246.1 131.5,248.3" fill="#50d14c" stroke="#50d14c"/>
<polygon points="147.4,250.2 149.6,247.6 147.3,245.5 145.1,248.2" fill="#51d74b" stroke="#51d74b"/>
<polygon points="156.5,248.7 158.7,245.8 156.3,243.9 154.1,246.8" fill="#4fda48" stroke="#4fda48"/>
<polygon points="140.6,253.1 142.8,250.7 140.5,248.5 138.3,250.8" fill="#4bd349" stroke="#4bd349"/>
<polygon points="117.6,250.8 120.0,249.1 117.9,246.3 115.5,248.0" fill="#46c842" stroke="#46c842"/>
<polygon points="122.2,251.8 124.6,249.9 122.4,247.2 120.0,249.1" fill="#47cb45" stroke="#47cb45"/>
<polygon points="126.8,252.5 129.1,250.5 126.9,247.9 124.6,249.9" fill="#49cd47" stroke="#49cd47"/>
<polygon points="131.4,252.9 133.7,250.8 131.5,248.3 129.1,250.5" fill="#4ad048" stroke="#4ad048"/>
<polygon points="136.0,253.1 138.3,250.8 136.0,248.5 133.7,250.8" fill="#4bd249" stroke="#4bd249"/>
<polygon points="145.1,252.8 147.4,250.2 145.1,248.2 142.8,250.7" fill="#4bd549" stroke="#4bd549"/>
<polygon points="149.7,252.2 151.9,249.6 149.6,247.6 147.4,250.2" fill="#4bd748" stroke="#4bd748"/>
<polygon points="154.3,251.4 156.5,248.7 154.1,246.8 151.9,249.6" fill="#4ad846" stroke="#4ad846"/>
<polygon points="158.9,250.4 161.1,247.5 158.7,245.8 156.5,248.7" fill="#49da44" stroke="#49da44"/>
<polygon points="163.5,249.1 165.6,246.1 163.2,244.5 161.1,247.5" fill="#48db42" stroke="#48db42"/>
<polygon points="115.2,252.5 117.6,250.8 115.5,248.0 113.1,249.7" fill="#3ec63e" stroke="#3ec63e"/>
<polygon points="124.4,254.4 126.8,252.5 124.6,249.9 122.2,251.8" fill="#42cb43" stroke="#42cb43"/>
<polygon points="133.7,255.3 136.0,253.1 133.7,250.8 131.4,252.9" fill="#44d045" stroke="#44d045"/>
<polygon points="138.3,255.4 140.6,253.1 138.3,250.8 136.0,253.1" fill="#45d246" stroke="#45d246"/>
<polygon points="142.9,255.2 145.1,252.8 142.8,250.7 140.6,253.1" fill="#45d446" stroke="#45d446"/>
<polygon points="147.5,254.8 149.7,252.2 147.4,250.2 145.1,252.8" fill="#45d545" stroke="#45d545"/>
<polygon points="156.7,253.2 158.9,250.4 156.5,248.7 154.3,251.4" fill="#44d842" stroke="#44d842"/>
<polygon points="165.9,250.6 168.0,247.6 165.6,246.1 163.5,249.1" fill="#42db3d" stroke="#42db3d"/>
<polygon points="119.8,253.5 122.2,251.8 120.0,249.1 117.6,250.8" fill="#40c840" stroke="#40c840"/>
<polygon points="129.0,254.9 131.4,252.9 129.1,250.5 126.8,252.5" fill="#43cd44" stroke="#43cd44"/>
<polygon points="152.1,254.1 154.3,251.4 151.9,249.6 149.7,252.2" fill="#44d744" stroke="#44d744"/>
<polygon points="161.3,252.0 163.5,249.1 161.1,247.5 158.9,250.4" fill="#43da40" stroke="#43da40"/>
<polygon points="135.9,257.5 138.3,255.4 136.0,253.1 133.7,255.3" fill="#3fd042" stroke="#3fd042"/>
<polygon points="145.2,257.2 147.5,254.8 145.1,252.8 142.9,255.2" fill="#3fd442" stroke="#3fd442"/>
<polygon points="112.8,254.0 115.2,252.5 113.1,249.7 110.6,251.2" fill="#37c338" stroke="#37c338"/>
<polygon points="117.4,255.2 119.8,253.5 117.6,250.8 115.2,252.5" fill="#39c63c" stroke="#39c63c"/>
<polygon points="122.0,256.2 124.4,254.4 122.2,251.8 119.8,253.5" fill="#3bc93e" stroke="#3bc93e"/>
<polygon points="126.7,256.9 129.0,254.9 126.8,252.5 124.4,254.4" fill="#3dcb40" stroke="#3dcb40"/>
<polygon points="131.3,257.3 133.7,255.3 131.4,252.9 129.0,254.9" fill="#3ece42" stroke="#3ece42"/>
<polygon points="140.6,257.5 142.9,255.2 140.6,253.1 138.3,255.4" fill="#3fd243" stroke="#3fd243"/>
<polygon points="149.8,256.7 152.1,254.1 149.7,252.2 147.5,254.8" fill="#3ed541" stroke="#3ed541"/>
<polygon points="154.5,255.9 156.7,253.2 154.3,251.4 152.1,254.1" fill="#3ed740" stroke="#3ed740"/>
<polygon points="159.1,254.9 161.3,252.0 158.9,250.4 156.7,253.2" fill="#3dd83e" stroke="#3dd83e"/>
<polygon points="163.7,253.6 165.9,250.6 163.5,249.1 161.3,252.0" fill="#3cda3b" stroke="#3cda3b"/>
<polygon points="168.4,252.1 170.5,249.0 168.0,247.6 165.9,250.6" fill="#3bda38" stroke="#3bda38"/>
<polygon points="110.3,255.4 112.8,254.0 110.6,251.2 108.2,252.6" fill="#2fc033" stroke="#2fc033"/>
<polygon points="119.6,257.8 122.0,256.2 119.8,253.5 117.4,255.2" fill="#34c639" stroke="#34c639"/>
<polygon points="128.9,259.3 131.3,257.3 129.0,254.9 126.7,256.9" fill="#37cb3f" stroke="#37cb3f"/>
<polygon points="133.6,259.6 135.9,257.5 133.7,255.3 131.3,257.3" fill="#39ce42" stroke="#39ce42"/>
<polygon points="138.3,259.7 140.6,257.5 138.3,255.4 135.9,257.5" fill="#3ad043" stroke="#3ad043"/>
<polygon points="142.9,259.5 145.2,257.2 142.9,255.2 140.6,257.5" fill="#3ad242" stroke="#3ad242"/>
<polygon points="147.6,259.1 149.8,256.7 147.5,254.8 145.2,257.2" fill="#39d43f" stroke="#39d43f"/>
<polygon points="152.2,258.5 154.5,255.9 152.1,254.1 149.8,256.7" fill="#38d53d" stroke="#38d53d"/>
<polygon points="161.5,256.4 163.7,253.6 161.3,252.0 159.1,254.9" fill="#36d839" stroke="#36d839"/>
<polygon points="170.9,253.4 173.0,250.3 170.5,249.0 168.4,252.1" fill="#33d933" stroke="#33d933"/>
<polygon points="115.0,256.8 117.4,255.2 115.2,252.5 112.8,254.0" fill="#32c336" stroke="#32c336"/>
<polygon points="124.3,258.7 126.7,256.9 124.4,254.4 122.0,256.2" fill="#36c93c" stroke="#36c93c"/>
<polygon points="156.9,257.6 159.1,254.9 156.7,253.2 154.5,255.9" fill="#37d73c" stroke="#37d73c"/>
<polygon points="166.2,255.0 168.4,252.1 165.9,250.6 163.7,253.6" fill="#35da37" stroke="#35da37"/>
<polygon points="107.8,256.7 110.3,255.4 108.2,252.6 105.7,253.8" fill="#27bd2d" stroke="#27bd2d"/>
<polygon points="131.2,261.6 133.6,259.6 131.3,257.3 128.9,259.3" fill="#34cb48" stroke="#34cb48"/>
<polygon points="140.6,261.8 142.9,259.5 140.6,257.5 138.3,259.7" fill="#35d04a" stroke="#35d04a"/>
<polygon points="150.0,261.0 152.2,258.5 149.8,256.7 147.6,259.1" fill="#34d444" stroke="#34d444"/>
<polygon points="173.4,254.6 175.5,251.5 173.0,250.3 170.9,253.4" fill="#2cd82e" stroke="#2cd82e"/>
<polygon points="112.5,258.2 115.0,256.8 112.8,254.0 110.3,255.4" fill="#2ac031" stroke="#2ac031"/>
<polygon points="117.2,259.4 119.6,257.8 117.4,255.2 115.0,256.8" fill="#2cc334" stroke="#2cc334"/>
<polygon points="121.9,260.4 124.3,258.7 122.0,256.2 119.6,257.8" fill="#2fc63c" stroke="#2fc63c"/>
<polygon points="126.6,261.1 128.9,259.3 126.7,256.9 124.3,258.7" fill="#32c943" stroke="#32c943"/>
<polygon points="135.9,261.8 138.3,259.7 135.9,257.5 133.6,259.6" fill="#35ce4a" stroke="#35ce4a"/>
<polygon points="145.3,261.5 147.6,259.1 145.2,257.2 142.9,259.5" fill="#35d248" stroke="#35d248"/>
<polygon points="154.6,260.2 156.9,257.6 154.5,255.9 152.2,258.5" fill="#32d63e" stroke="#32d63e"/>
<polygon points="159.3,259.2 161.5,256.4 159.1,254.9 156.9,257.6" fill="#30d737" stroke="#30d737"/>
<polygon points="164.0,257.9 166.2,255.0 163.7,253.6 161.5,256.4" fill="#2ed934" stroke="#2ed934"/>
<polygon points="168.7,256.4 170.9,253.4 168.4,252.1 166.2,255.0" fill="#2dd931" stroke="#2dd931"/>
<polygon points="105.3,257.9 107.8,256.7 105.7,253.8 103.1,255.0" fill="#1fba27" stroke="#1fba27"/>
<polygon points="110.0,259.5 112.5,258.2 110.3,255.4 107.8,256.7" fill="#22bd2b" stroke="#22bd2b"/>
<polygon points="114.7,260.9 117.2,259.4 115.0,256.8 112.5,258.2" fill="#25c034" stroke="#25c034"/>
<polygon points="124.1,262.8 126.6,261.1 124.3,258.7 121.9,260.4" fill="#2cc647" stroke="#2cc647"/>
<polygon points="128.8,263.4 131.2,261.6 128.9,259.3 126.6,261.1" fill="#2ec954" stroke="#2ec954"/>
<polygon points="133.5,263.8 135.9,261.8 133.6,259.6 131.2,261.6" fill="#30cc5b" stroke="#30cc5b"/>
<polygon points="138.3,263.9 140.6,261.8 138.3,259.7 135.9,261.8" fill="#31ce5e" stroke="#31ce5e"/>
<polygon points="143.0,263.7 145.3,261.5 142.9,259.5 140.6,261.8" fill="#31d05c" stroke="#31d05c"/>
<polygon points="147.7,263.3 150.0,261.0 147.6,259.1 145.3,261.5" fill="#30d255" stroke="#30d255"/>
<polygon points="152.4,262.7 154.6,260.2 152.2,258.5 150.0,261.0" fill="#2ed449" stroke="#2ed449"/>
<polygon points="157.1,261.8 159.3,259.2 156.9,257.6 154.6,260.2" fill="#2cd641" stroke="#2cd641"/>
<polygon points="166.5,259.3 168.7,256.4 166.2,255.0 164.0,257.9" fill="#27d92f" stroke="#27d92f"/>
<polygon points="171.2,257.6 173.4,254.6 170.9,253.4 168.7,256.4" fill="#26d82c" stroke="#26d82c"/>
<polygon points="175.9,255.7 178.1,252.6 175.5,251.5 173.4,254.6" fill="#24d728" stroke="#24d728"/>
<polygon points="119.4,262.0 121.9,260.4 119.6,257.8 117.2,259.4" fill="#29c33f" stroke="#29c33f"/>
<polygon points="161.8,260.6 164.0,257.9 161.5,256.4 159.3,259.2" fill="#2ad737" stroke="#2ad737"/>
<polygon points="102.8,259.0 105.3,257.9 103.1,255.0 100.6,256.1" fill="#18b622" stroke="#18b622"/>
<polygon points="112.2,262.2 114.7,260.9 112.5,258.2 110.0,259.5" fill="#1ebd34" stroke="#1ebd34"/>
<polygon points="126.4,265.2 128.8,263.4 126.6,261.1 124.1,262.8" fill="#28c665" stroke="#28c665"/>
<polygon points="135.9,265.9 138.3,263.9 135.9,261.8 133.5,263.8" fill="#2bcc75" stroke="#2bcc75"/>
<polygon points="145.3,265.6 147.7,263.3 145.3,261.5 143.0,263.7" fill="#2cd072" stroke="#2cd072"/>
<polygon points="154.8,264.3 157.1,261.8 154.6,260.2 152.4,262.7" fill="#29d45a" stroke="#29d45a"/>
<polygon points="169.0,260.5 171.2,257.6 168.7,256.4 166.5,259.3" fill="#20d82a" stroke="#20d82a"/>
<polygon points="178.5,256.7 180.6,253.6 178.1,252.6 175.9,255.7" fill="#1dd623" stroke="#1dd623"/>
<polygon points="107.5,260.7 110.0,259.5 107.8,256.7 105.3,257.9" fill="#1aba27" stroke="#1aba27"/>
<polygon points="117.0,263.4 119.4,262.0 117.2,259.4 114.7,260.9" fill="#22c042" stroke="#22c042"/>
<polygon points="121.7,264.4 124.1,262.8 121.9,260.4 119.4,262.0" fill="#26c356" stroke="#26c356"/>
<polygon points="131.2,265.6 133.5,263.8 131.2,261.6 128.8,263.4" fill="#2ac970" stroke="#2ac970"/>
<polygon points="140.6,265.9 143.0,263.7 140.6,261.8 138.3,263.9" fill="#2cce76" stroke="#2cce76"/>
<polygon points="150.1,265.1 152.4,262.7 150.0,261.0 147.7,263.3" fill="#2ad269" stroke="#2ad269"/>
<polygon points="159.5,263.3 161.8,260.6 159.3,259.2 157.1,261.8" fill="#26d645" stroke="#26d645"/>
<polygon points="164.3,262.0 166.5,259.3 164.0,257.9 161.8,260.6" fill="#23d739" stroke="#23d739"/>
<polygon points="173.7,258.7 175.9,255.7 173.4,254.6 171.2,257.6" fill="#1ed726" stroke="#1ed726"/>
<polygon points="100.2,259.9 102.8,259.0 100.6,256.1 98.0,257.0" fill="#17b522" stroke="#17b522"/>
<polygon points="105.0,261.8 107.5,260.7 105.3,257.9 102.8,259.0" fill="#16b728" stroke="#16b728"/>
<polygon points="109.7,263.4 112.2,262.2 110.0,259.5 107.5,260.7" fill="#17ba34" stroke="#17ba34"/>
<polygon points="114.5,264.8 117.0,263.4 114.7,260.9 112.2,262.2" fill="#1bbd4c" stroke="#1bbd4c"/>
<polygon points="119.2,265.9 121.7,264.4 119.4,262.0 117.0,263.4" fill="#1fc063" stroke="#1fc063"/>
<polygon points="124.0,266.8 126.4,265.2 124.1,262.8 121.7,264.4" fill="#22c477" stroke="#22c477"/>
<polygon points="128.7,267.4 131.2,265.6 128.8,263.4 126.4,265.2" fill="#24c688" stroke="#24c688"/>
<polygon points="133.5,267.8 135.9,265.9 133.5,263.8 131.2,265.6" fill="#26c992" stroke="#26c992"/>
<polygon points="138.3,267.9 140.6,265.9 138.3,263.9 135.9,265.9" fill="#27cc97" stroke="#27cc97"/>
<polygon points="143.0,267.7 145.3,265.6 143.0,263.7 140.6,265.9" fill="#27ce95" stroke="#27ce95"/>
<polygon points="147.8,267.3 150.1,265.1 147.7,263.3 145.3,265.6" fill="#26d08c" stroke="#26d08c"/>
<polygon points="152.5,266.7 154.8,264.3 152.4,262.7 150.1,265.1" fill="#25d27d" stroke="#25d27d"/>
<polygon points="157.3,265.8 159.5,263.3 157.1,261.8 154.8,264.3" fill="#23d46a" stroke="#23d46a"/>
<polygon points="162.0,264.7 164.3,262.0 161.8,260.6 159.5,263.3" fill="#20d653" stroke="#20d653"/>
<polygon points="166.8,263.3 169.0,260.5 166.5,259.3 164.3,262.0" fill="#1dd73a" stroke="#1dd73a"/>
<polygon points="171.5,261.7 173.7,258.7 171.2,257.6 169.0,260.5" fill="#19d62a" stroke="#19d62a"/>
<polygon points="176.3,259.8 178.5,256.7 175.9,255.7 173.7,258.7" fill="#18d622" stroke="#18d622"/>
<polygon points="181.1,257.6 183.2,254.5 180.6,253.6 178.5,256.7" fill="#1bd622" stroke="#1bd622"/>
<polygon points="97.6,260.8 100.2,259.9 98.0,257.0 95.4,257.8" fill="#17b422" stroke="#17b422"/>
<polygon points="107.2,264.5 109.7,263.4 107.5,260.7 105.0,261.8" fill="#16b83b" stroke="#16b83b"/>
<polygon points="116.7,267.3 119.2,265.9 117.0,263.4 114.5,264.8" fill="#18bd70" stroke="#18bd70"/>
<polygon points="121.5,268.3 124.0,266.8 121.7,264.4 119.2,265.9" fill="#1bc18b" stroke="#1bc18b"/>
<polygon points="131.1,269.5 133.5,267.8 131.2,265.6 128.7,267.4" fill="#20c7ae" stroke="#20c7ae"/>
<polygon points="140.6,269.8 143.0,267.7 140.6,265.9 138.3,267.9" fill="#22ccb8" stroke="#22ccb8"/>
<polygon points="150.2,269.0 152.5,266.7 150.1,265.1 147.8,267.3" fill="#20d0a8" stroke="#20d0a8"/>
<polygon points="159.7,267.2 162.0,264.7 159.5,263.3 157.3,265.8" fill="#1cd47b" stroke="#1cd47b"/>
<polygon points="164.5,266.0 166.8,263.3 164.3,262.0 162.0,264.7" fill="#19d65f" stroke="#19d65f"/>
<polygon points="174.1,262.7 176.3,259.8 173.7,258.7 171.5,261.7" fill="#16d62c" stroke="#16d62c"/>
<polygon points="183.7,258.4 185.8,255.2 183.2,254.5 181.1,257.6" fill="#1bd622" stroke="#1bd622"/>
<polygon points="102.4,262.8 105.0,261.8 102.8,259.0 100.2,259.9" fill="#16b62b" stroke="#16b62b"/>
<polygon points="112.0,266.0 114.5,264.8 112.2,262.2 109.7,263.4" fill="#16bb56" stroke="#16bb56"/>
<polygon points="126.3,269.0 128.7,267.4 126.4,265.2 124.0,266.8" fill="#1ec4a0" stroke="#1ec4a0"/>
<polygon points="135.9,269.8 138.3,267.9 135.9,265.9 133.5,267.8" fill="#21c9b6" stroke="#21c9b6"/>
<polygon points="145.4,269.5 147.8,267.3 145.3,265.6 143.0,267.7" fill="#21ceb4" stroke="#21ceb4"/>
<polygon points="155.0,268.2 157.3,265.8 154.8,264.3 152.5,266.7" fill="#1fd296" stroke="#1fd296"/>
<polygon points="169.3,264.5 171.5,261.7 169.0,260.5 166.8,263.3" fill="#16d63d" stroke="#16d63d"/>
<polygon points="178.9,260.7 181.1,257.6 178.5,256.7 176.3,259.8" fill="#17d622" stroke="#17d622"/>
<polygon points="119.0,269.7 121.5,268.3 119.2,265.9 116.7,267.3" fill="#16be9e" stroke="#16be9e"/>
<polygon points="162.3,268.5 164.5,266.0 162.0,264.7 159.7,267.2" fill="#16d48f" stroke="#16d48f"/>
<polygon points="95.0,261.5 97.6,260.8 95.4,257.8 92.8,258.5" fill="#16b322" stroke="#16b322"/>
<polygon points="99.8,263.6 102.4,262.8 100.2,259.9 97.6,260.8" fill="#16b52d" stroke="#16b52d"/>
<polygon points="104.6,265.5 107.2,264.5 105.0,261.8 102.4,262.8" fill="#16b743" stroke="#16b743"/>
<polygon points="109.4,267.2 112.0,266.0 109.7,263.4 107.2,264.5" fill="#16b961" stroke="#16b961"/>
<polygon points="114.2,268.5 116.7,267.3 114.5,264.8 112.0,266.0" fill="#16bc81" stroke="#16bc81"/>
<polygon points="123.8,270.6 126.3,269.0 124.0,266.8 121.5,268.3" fill="#17c0b2" stroke="#17c0b2"/>
<polygon points="128.6,271.2 131.1,269.5 128.7,267.4 126.3,269.0" fill="#19c3bb" stroke="#19c3bb"/>
<polygon points="133.4,271.6 135.9,269.8 133.5,267.8 131.1,269.5" fill="#1bc5c1" stroke="#1bc5c1"/>
<polygon points="138.2,271.7 140.6,269.8 138.3,267.9 135.9,269.8" fill="#1cc8c4" stroke="#1cc8c4"/>
<polygon points="143.0,271.6 145.4,269.5 143.0,267.7 140.6,269.8" fill="#1ccac5" stroke="#1ccac5"/>
<polygon points="147.8,271.2 150.2,269.0 147.8,267.3 145.4,269.5" fill="#1ccdc4" stroke="#1ccdc4"/>
<polygon points="152.6,270.6 155.0,268.2 152.5,266.7 150.2,269.0" fill="#1ad0c0" stroke="#1ad0c0"/>
<polygon points="157.5,269.7 159.7,267.2 157.3,265.8 155.0,268.2" fill="#18d2ad" stroke="#18d2ad"/>
<polygon points="167.1,267.2 169.3,264.5 166.8,263.3 164.5,266.0" fill="#16d66c" stroke="#16d66c"/>
<polygon points="171.9,265.5 174.1,262.7 171.5,261.7 169.3,264.5" fill="#16d649" stroke="#16d649"/>
<polygon points="176.7,263.6 178.9,260.7 176.3,259.8 174.1,262.7" fill="#16d630" stroke="#16d630"/>
<polygon points="181.5,261.5 183.7,258.4 181.1,257.6 178.9,260.7" fill="#17d622" stroke="#17d622"/>
<polygon points="186.3,259.1 188.5,255.9 185.8,255.2 183.7,258.4" fill="#1ad622" stroke="#1ad622"/>
<polygon points="92.3,262.1 95.0,261.5 92.8,258.5 90.1,259.1" fill="#16b122" stroke="#16b122"/>
<polygon points="102.0,266.4 104.6,265.5 102.4,262.8 99.8,263.6" fill="#16b649" stroke="#16b649"/>
<polygon points="111.7,269.7 114.2,268.5 112.0,266.0 109.4,267.2" fill="#16ba8f" stroke="#16ba8f"/>
<polygon points="116.5,271.0 119.0,269.7 116.7,267.3 114.2,268.5" fill="#16bcae" stroke="#16bcae"/>
<polygon points="121.4,272.0 123.8,270.6 121.5,268.3 119.0,269.7" fill="#16beb9" stroke="#16beb9"/>
<polygon points="126.2,272.7 128.6,271.2 126.3,269.0 123.8,270.6" fill="#16bfc2" stroke="#16bfc2"/>
<polygon points="135.8,273.5 138.2,271.7 135.9,269.8 133.4,271.6" fill="#16c3ce" stroke="#16c3ce"/>
<polygon points="145.5,273.3 147.8,271.2 145.4,269.5 143.0,271.6" fill="#16c9d1" stroke="#16c9d1"/>
<polygon points="155.1,272.0 157.5,269.7 155.0,268.2 152.6,270.6" fill="#16cfca" stroke="#16cfca"/>
<polygon points="160.0,271.0 162.3,268.5 159.7,267.2 157.5,269.7" fill="#16d3c1" stroke="#16d3c1"/>
<polygon points="164.8,269.7 167.1,267.2 164.5,266.0 162.3,268.5" fill="#16d5a3" stroke="#16d5a3"/>
<polygon points="169.6,268.2 171.9,265.5 169.3,264.5 167.1,267.2" fill="#16d679" stroke="#16d679"/>
<polygon points="179.3,264.5 181.5,261.5 178.9,260.7 176.7,263.6" fill="#16d632" stroke="#16d632"/>
<polygon points="189.0,259.7 191.2,256.5 188.5,255.9 186.3,259.1" fill="#1ad622" stroke="#1ad622"/>
<polygon points="97.2,264.4 99.8,263.6 97.6,260.8 95.0,261.5" fill="#16b32f" stroke="#16b32f"/>
<polygon points="106.9,268.2 109.4,267.2 107.2,264.5 104.6,265.5" fill="#16b86a" stroke="#16b86a"/>
<polygon points="131.0,273.2 133.4,271.6 131.1,269.5 128.6,271.2" fill="#16c1c9" stroke="#16c1c9"/>
<polygon points="140.7,273.5 143.0,271.6 140.6,269.8 138.2,271.7" fill="#16c6d1" stroke="#16c6d1"/>
<polygon points="150.3,272.8 152.6,270.6 150.2,269.0 147.8,271.2" fill="#16cccf" stroke="#16cccf"/>
<polygon points="174.5,266.5 176.7,263.6 174.1,262.7 171.9,265.5" fill="#16d653" stroke="#16d653"/>
<polygon points="184.2,262.2 186.3,259.1 183.7,258.4 181.5,261.5" fill="#16d622" stroke="#16d622"/>
<polygon points="114.0,272.1 116.5,271.0 114.2,268.5 111.7,269.7" fill="#16bab2" stroke="#16bab2"/>
<polygon points="123.7,274.2 126.2,272.7 123.8,270.6 121.4,272.0" fill="#16bdc9" stroke="#16bdc9"/>
<polygon points="157.6,273.4 160.0,271.0 157.5,269.7 155.1,272.0" fill="#16cfd3" stroke="#16cfd3"/>
<polygon points="167.3,270.8 169.6,268.2 167.1,267.2 164.8,269.7" fill="#16d6b3" stroke="#16d6b3"/>
<polygon points="89.6,262.6 92.3,262.1 90.1,259.1 87.5,259.6" fill="#16b022" stroke="#16b022"/>
<polygon points="94.5,265.0 97.2,264.4 95.0,261.5 92.3,262.1" fill="#16b22f" stroke="#16b22f"/>
<polygon points="99.4,267.1 102.0,266.4 99.8,263.6 97.2,264.4" fill="#16b44d" stroke="#16b44d"/>
<polygon points="104.3,269.1 106.9,268.2 104.6,265.5 102.0,266.4" fill="#16b772" stroke="#16b772"/>
<polygon points="109.1,270.7 111.7,269.7 109.4,267.2 106.9,268.2" fill="#16b99a" stroke="#16b99a"/>
<polygon points="118.8,273.3 121.4,272.0 119.0,269.7 116.5,271.0" fill="#16bcbf" stroke="#16bcbf"/>
<polygon points="128.5,274.8 131.0,273.2 128.6,271.2 126.2,272.7" fill="#16b7cb" stroke="#16b7cb"/>
<polygon points="133.4,275.2 135.8,273.5 133.4,271.6 131.0,273.2" fill="#16b3cd" stroke="#16b3cd"/>
<polygon points="138.2,275.3 140.7,273.5 138.2,271.7 135.8,273.5" fill="#16b3cf" stroke="#16b3cf"/>
<polygon points="143.1,275.2 145.5,273.3 143.0,271.6 140.7,273.5" fill="#16b7d2" stroke="#16b7d2"/>
<polygon points="147.9,274.9 150.3,272.8 147.8,271.2 145.5,273.3" fill="#16c0d5" stroke="#16c0d5"/>
<polygon points="152.8,274.2 155.1,272.0 152.6,270.6 150.3,272.8" fill="#16ccd8" stroke="#16ccd8"/>
<polygon points="162.5,272.2 164.8,269.7 162.3,268.5 160.0,271.0" fill="#16d3ca" stroke="#16d3ca"/>
<polygon points="172.2,269.2 174.5,266.5 171.9,265.5 169.6,268.2" fill="#16d686" stroke="#16d686"/>
<polygon points="177.1,267.3 179.3,264.5 176.7,263.6 174.5,266.5" fill="#16d65a" stroke="#16d65a"/>
<polygon points="181.9,265.2 184.2,262.2 181.5,261.5 179.3,264.5" fill="#16d634" stroke="#16d634"/>
<polygon points="186.8,262.8 189.0,259.7 186.3,259.1 184.2,262.2" fill="#16d622" stroke="#16d622"/>
<polygon points="191.7,260.2 193.9,256.9 191.2,256.5 189.0,259.7" fill="#1ad622" stroke="#1ad622"/>
<polygon points="86.9,262.9 89.6,262.6 87.5,259.6 84.7,259.9" fill="#17af22" stroke="#17af22"/>
<polygon points="91.8,265.5 94.5,265.0 92.3,262.1 89.6,262.6" fill="#16b12f" stroke="#16b12f"/>
<polygon points="96.7,267.8 99.4,267.1 97.2,264.4 94.5,265.0" fill="#16b34f" stroke="#16b34f"/>
<polygon points="106.5,271.6 109.1,270.7 106.9,268.2 104.3,269.1" fill="#16b7a2" stroke="#16b7a2"/>
<polygon points="111.4,273.2 114.0,272.1 111.7,269.7 109.1,270.7" fill="#16b8b6" stroke="#16b8b6"/>
<polygon points="116.3,274.4 118.8,273.3 116.5,271.0 114.0,272.1" fill="#16b9c3" stroke="#16b9c3"/>
<polygon points="121.2,275.5 123.7,274.2 121.4,272.0 118.8,273.3" fill="#16b1c7" stroke="#16b1c7"/>
<polygon points="126.1,276.3 128.5,274.8 126.2,272.7 123.7,274.2" fill="#16a8c8" stroke="#16a8c8"/>
<polygon points="130.9,276.8 133.4,275.2 131.0,273.2 128.5,274.8" fill="#16a2c9" stroke="#16a2c9"/>
<polygon points="140.7,277.1 143.1,275.2 140.7,273.5 138.2,275.3" fill="#16a1cd" stroke="#16a1cd"/>
<polygon points="150.4,276.3 152.8,274.2 150.3,272.8 147.9,274.9" fill="#16b1d4" stroke="#16b1d4"/>
<polygon points="155.3,275.6 157.6,273.4 155.1,272.0 152.8,274.2" fill="#16c0d8" stroke="#16c0d8"/>
<polygon points="160.2,274.6 162.5,272.2 160.0,271.0 157.6,273.4" fill="#16d0db" stroke="#16d0db"/>
<polygon points="165.0,273.3 167.3,270.8 164.8,269.7 162.5,272.2" fill="#16d4d1" stroke="#16d4d1"/>
<polygon points="169.9,271.8 172.2,269.2 169.6,268.2 167.3,270.8" fill="#16d6c0" stroke="#16d6c0"/>
<polygon points="174.8,270.1 177.1,267.3 174.5,266.5 172.2,269.2" fill="#16d690" stroke="#16d690"/>
<polygon points="184.6,265.8 186.8,262.8 184.2,262.2 181.9,265.2" fill="#16d635" stroke="#16d635"/>
<polygon points="189.5,263.3 191.7,260.2 189.0,259.7 186.8,262.8" fill="#16d622" stroke="#16d622"/>
<polygon points="194.5,260.5 196.6,257.3 193.9,256.9 191.7,260.2" fill="#1ad622" stroke="#1ad622"/>
<polygon points="101.6,269.8 104.3,269.1 102.0,266.4 99.4,267.1" fill="#16b577" stroke="#16b577"/>
<polygon points="135.8,277.0 138.2,275.3 135.8,273.5 133.4,275.2" fill="#16a0cb" stroke="#16a0cb"/>
<polygon points="145.5,276.8 147.9,274.9 145.5,273.3 143.1,275.2" fill="#16a7d1" stroke="#16a7d1"/>
<polygon points="179.7,268.1 181.9,265.2 179.3,264.5 177.1,267.3" fill="#16d65f" stroke="#16d65f"/>
<polygon points="84.2,263.2 86.9,262.9 84.7,259.9 82.0,260.1" fill="#17ae22" stroke="#17ae22"/>
<polygon points="94.1,268.3 96.7,267.8 94.5,265.0 91.8,265.5" fill="#16b24e" stroke="#16b24e"/>
<polygon points="108.8,274.1 111.4,273.2 109.1,270.7 106.5,271.6" fill="#16b7b8" stroke="#16b7b8"/>
<polygon points="118.7,276.7 121.2,275.5 118.8,273.3 116.3,274.4" fill="#16a6c4" stroke="#16a6c4"/>
<polygon points="128.4,278.2 130.9,276.8 128.5,274.8 126.1,276.3" fill="#1692c6" stroke="#1692c6"/>
<polygon points="152.9,277.7 155.3,275.6 152.8,274.2 150.4,276.3" fill="#16a5d3" stroke="#16a5d3"/>
<polygon points="162.7,275.7 165.0,273.3 162.5,272.2 160.2,274.6" fill="#16cadd" stroke="#16cadd"/>
<polygon points="172.5,272.7 174.8,270.1 172.2,269.2 169.9,271.8" fill="#16d6c5" stroke="#16d6c5"/>
<polygon points="187.3,266.3 189.5,263.3 186.8,262.8 184.6,265.8" fill="#16d635" stroke="#16d635"/>
<polygon points="197.2,260.8 199.4,257.5 196.6,257.3 194.5,260.5" fill="#1bd622" stroke="#1bd622"/>
<polygon points="89.1,265.9 91.8,265.5 89.6,262.6 86.9,262.9" fill="#16b02e" stroke="#16b02e"/>
<polygon points="99.0,270.5 101.6,269.8 99.4,267.1 96.7,267.8" fill="#16b479" stroke="#16b479"/>
<polygon points="103.9,272.4 106.5,271.6 104.3,269.1 101.6,269.8" fill="#16b6a7" stroke="#16b6a7"/>
<polygon points="113.7,275.5 116.3,274.4 114.0,272.1 111.4,273.2" fill="#16b6c4" stroke="#16b6c4"/>
<polygon points="123.6,277.6 126.1,276.3 123.7,274.2 121.2,275.5" fill="#169bc5" stroke="#169bc5"/>
<polygon points="133.3,278.6 135.8,277.0 133.4,275.2 130.9,276.8" fill="#168ec7" stroke="#168ec7"/>
<polygon points="138.2,278.8 140.7,277.1 138.2,275.3 135.8,277.0" fill="#168dc9" stroke="#168dc9"/>
<polygon points="143.1,278.7 145.5,276.8 143.1,275.2 140.7,277.1" fill="#1691cc" stroke="#1691cc"/>
<polygon points="148.0,278.3 150.4,276.3 147.9,274.9 145.5,276.8" fill="#1699cf" stroke="#1699cf"/>
<polygon points="157.8,276.8 160.2,274.6 157.6,273.4 155.3,275.6" fill="#16b5d8" stroke="#16b5d8"/>
<polygon points="167.6,274.4 169.9,271.8 167.3,270.8 165.0,273.3" fill="#16d4d6" stroke="#16d4d6"/>
<polygon points="177.5,270.8 179.7,268.1 177.1,267.3 174.8,270.1" fill="#16d696" stroke="#16d696"/>
<polygon points="182.4,268.7 184.6,265.8 181.9,265.2 179.7,268.1" fill="#16d661" stroke="#16d661"/>
<polygon points="192.3,263.7 194.5,260.5 191.7,260.2 189.5,263.3" fill="#16d622" stroke="#16d622"/>
<polygon points="81.4,263.3 84.2,263.2 82.0,260.1 79.2,260.2" fill="#17ad22" stroke="#17ad22"/>
<polygon points="91.4,268.7 94.1,268.3 91.8,265.5 89.1,265.9" fill="#16b14b" stroke="#16b14b"/>
<polygon points="101.3,273.1 103.9,272.4 101.6,269.8 99.0,270.5" fill="#16b5a7" stroke="#16b5a7"/>
<polygon points="106.2,274.9 108.8,274.1 106.5,271.6 103.9,272.4" fill="#16b5b8" stroke="#16b5b8"/>
<polygon points="111.2,276.4 113.7,275.5 111.4,273.2 108.8,274.1" fill="#16aec2" stroke="#16aec2"/>
<polygon points="116.1,277.7 118.7,276.7 116.3,274.4 113.7,275.5" fill="#169dc2" stroke="#169dc2"/>
<polygon points="121.0,278.8 123.6,277.6 121.2,275.5 118.7,276.7" fill="#1690c2" stroke="#1690c2"/>
<polygon points="125.9,279.6 128.4,278.2 126.1,276.3 123.6,277.6" fill="#1685c2" stroke="#1685c2"/>
<polygon points="130.9,280.1 133.3,278.6 130.9,276.8 128.4,278.2" fill="#167fc4" stroke="#167fc4"/>
<polygon points="135.8,280.4 138.2,278.8 135.8,277.0 133.3,278.6" fill="#167cc5" stroke="#167cc5"/>
<polygon points="145.6,280.2 148.0,278.3 145.5,276.8 143.1,278.7" fill="#1682cb" stroke="#1682cb"/>
<polygon points="150.5,279.7 152.9,277.7 150.4,276.3 148.0,278.3" fill="#168bcf" stroke="#168bcf"/>
<polygon points="155.4,279.0 157.8,276.8 155.3,275.6 152.9,277.7" fill="#1699d3" stroke="#1699d3"/>
<polygon points="160.4,278.0 162.7,275.7 160.2,274.6 157.8,276.8" fill="#16acd8" stroke="#16acd8"/>
<polygon points="165.3,276.8 167.6,274.4 165.0,273.3 162.7,275.7" fill="#16c3dd" stroke="#16c3dd"/>
<polygon points="170.2,275.3 172.5,272.7 169.9,271.8 167.6,274.4" fill="#16d3d9" stroke="#16d3d9"/>
<polygon points="175.2,273.5 177.5,270.8 174.8,270.1 172.5,272.7" fill="#16d5c8" stroke="#16d5c8"/>
<polygon points="180.1,271.5 182.4,268.7 179.7,268.1 177.5,270.8" fill="#16d699" stroke="#16d699"/>
<polygon points="190.1,266.7 192.3,263.7 189.5,263.3 187.3,266.3" fill="#16d634" stroke="#16d634"/>
<polygon points="200.0,260.9 202.2,257.6 199.4,257.5 197.2,260.8" fill="#1bd622" stroke="#1bd622"/>
<polygon points="86.4,266.1 89.1,265.9 86.9,262.9 84.2,263.2" fill="#16af2c" stroke="#16af2c"/>
<polygon points="96.3,271.0 99.0,270.5 96.7,267.8 94.1,268.3" fill="#16b378" stroke="#16b378"/>
<polygon points="140.7,280.4 143.1,278.7 140.7,277.1 138.2,278.8" fill="#167dc8" stroke="#167dc8"/>
<polygon points="185.1,269.2 187.3,266.3 184.6,265.8 182.4,268.7" fill="#16d661" stroke="#16d661"/>
<polygon points="195.0,263.9 197.2,260.8 194.5,260.5 192.3,263.7" fill="#17d622" stroke="#17d622"/>
<polygon points="78.6,263.3 81.4,263.3 79.2,260.2 76.4,260.2" fill="#18ac22" stroke="#18ac22"/>
<polygon points="103.6,275.6 106.2,274.9 103.9,272.4 101.3,273.1" fill="#16b4b8" stroke="#16b4b8"/>
<polygon points="113.5,278.7 116.1,277.7 113.7,275.5 111.2,276.4" fill="#1696bf" stroke="#1696bf"/>
<polygon points="123.4,280.8 125.9,279.6 123.6,277.6 121.0,278.8" fill="#167ac0" stroke="#167ac0"/>
<polygon points="133.3,281.9 135.8,280.4 133.3,278.6 130.9,280.1" fill="#166dc2" stroke="#166dc2"/>
<polygon points="148.1,281.6 150.5,279.7 148.0,278.3 145.6,280.2" fill="#1675ca" stroke="#1675ca"/>
<polygon points="158.0,280.2 160.4,278.0 157.8,276.8 155.4,279.0" fill="#1690d3" stroke="#1690d3"/>
<polygon points="167.9,277.7 170.2,275.3 167.6,274.4 165.3,276.8" fill="#16bddd" stroke="#16bddd"/>
<polygon points="177.8,274.2 180.1,271.5 177.5,270.8 175.2,273.5" fill="#16d5c9" stroke="#16d5c9"/>
<polygon points="202.9,261.0 205.1,257.6 202.2,257.6 200.0,260.9" fill="#1cd622" stroke="#1cd622"/>
<polygon points="83.6,266.2 86.4,266.1 84.2,263.2 81.4,263.3" fill="#16ad2a" stroke="#16ad2a"/>
<polygon points="88.6,268.9 91.4,268.7 89.1,265.9 86.4,266.1" fill="#16af46" stroke="#16af46"/>
<polygon points="93.6,271.4 96.3,271.0 94.1,268.3 91.4,268.7" fill="#16b174" stroke="#16b174"/>
<polygon points="98.6,273.6 101.3,273.1 99.0,270.5 96.3,271.0" fill="#16b3a6" stroke="#16b3a6"/>
<polygon points="108.5,277.3 111.2,276.4 108.8,274.1 106.2,274.9" fill="#16a9c0" stroke="#16a9c0"/>
<polygon points="118.5,279.9 121.0,278.8 118.7,276.7 116.1,277.7" fill="#1687bf" stroke="#1687bf"/>
<polygon points="128.4,281.5 130.9,280.1 128.4,278.2 125.9,279.6" fill="#1672c0" stroke="#1672c0"/>
<polygon points="138.2,282.1 140.7,280.4 138.2,278.8 135.8,280.4" fill="#166cc4" stroke="#166cc4"/>
<polygon points="143.2,282.0 145.6,280.2 143.1,278.7 140.7,280.4" fill="#166fc7" stroke="#166fc7"/>
<polygon points="153.0,281.0 155.4,279.0 152.9,277.7 150.5,279.7" fill="#1680ce" stroke="#1680ce"/>
<polygon points="162.9,279.0 165.3,276.8 162.7,275.7 160.4,278.0" fill="#16a5d8" stroke="#16a5d8"/>
<polygon points="172.9,276.0 175.2,273.5 172.5,272.7 170.2,275.3" fill="#16d3dc" stroke="#16d3dc"/>
<polygon points="182.8,272.0 185.1,269.2 182.4,268.7 180.1,271.5" fill="#16d699" stroke="#16d699"/>
<polygon points="187.8,269.6 190.1,266.7 187.3,266.3 185.1,269.2" fill="#16d65e" stroke="#16d65e"/>
<polygon points="192.8,267.0 195.0,263.9 192.3,263.7 190.1,266.7" fill="#16d632" stroke="#16d632"/>
<polygon points="197.8,264.1 200.0,260.9 197.2,260.8 195.0,263.9" fill="#17d622" stroke="#17d622"/>
<polygon points="75.7,263.1 78.6,263.3 76.4,260.2 73.5,260.0" fill="#19ab22" stroke="#19ab22"/>
<polygon points="80.8,266.2 83.6,266.2 81.4,263.3 78.6,263.3" fill="#16ac26" stroke="#16ac26"/>
<polygon points="85.8,269.1 88.6,268.9 86.4,266.1 83.6,266.2" fill="#16ae40" stroke="#16ae40"/>
<polygon points="90.9,271.7 93.6,271.4 91.4,268.7 88.6,268.9" fill="#16b06e" stroke="#16b06e"/>
<polygon points="95.9,274.0 98.6,273.6 96.3,271.0 93.6,271.4" fill="#16b2a3" stroke="#16b2a3"/>
<polygon points="100.9,276.1 103.6,275.6 101.3,273.1 98.6,273.6" fill="#16b2b7" stroke="#16b2b7"/>
<polygon points="105.9,278.0 108.5,277.3 106.2,274.9 103.6,275.6" fill="#16a6be" stroke="#16a6be"/>
<polygon points="110.9,279.5 113.5,278.7 111.2,276.4 108.5,277.3" fill="#1691be" stroke="#1691be"/>
<polygon points="115.9,280.9 118.5,279.9 116.1,277.7 113.5,278.7" fill="#1680bd" stroke="#1680bd"/>
<polygon points="120.9,281.9 123.4,280.8 121.0,278.8 118.5,279.9" fill="#1671bd" stroke="#1671bd"/>
<polygon points="125.8,282.7 128.4,281.5 125.9,279.6 123.4,280.8" fill="#1668be" stroke="#1668be"/>
<polygon points="130.8,283.3 133.3,281.9 130.9,280.1 128.4,281.5" fill="#1661bf" stroke="#1661bf"/>
<polygon points="135.7,283.6 138.2,282.1 135.8,280.4 133.3,281.9" fill="#165fc1" stroke="#165fc1"/>
<polygon points="140.7,283.6 143.2,282.0 140.7,280.4 138.2,282.1" fill="#165fc3" stroke="#165fc3"/>
<polygon points="145.7,283.4 148.1,281.6 145.6,280.2 143.2,282.0" fill="#1663c6" stroke="#1663c6"/>
<polygon points="150.6,282.9 153.0,281.0 150.5,279.7 148.1,281.6" fill="#166bca" stroke="#166bca"/>
<polygon points="155.6,282.2 158.0,280.2 155.4,279.0 153.0,281.0" fill="#1677ce" stroke="#1677ce"/>
<polygon points="160.6,281.2 162.9,279.0 160.4,278.0 158.0,280.2" fill="#1689d3" stroke="#1689d3"/>
<polygon points="165.5,280.0 167.9,277.7 165.3,276.8 162.9,279.0" fill="#169fd8" stroke="#169fd8"/>
<polygon points="170.5,278.5 172.9,276.0 170.2,275.3 167.9,277.7" fill="#16b9dc" stroke="#16b9dc"/>
<polygon points="175.5,276.7 177.8,274.2 175.2,273.5 172.9,276.0" fill="#16d3dd" stroke="#16d3dd"/>
<polygon points="180.5,274.7 182.8,272.0 180.1,271.5 177.8,274.2" fill="#16d5c9" stroke="#16d5c9"/>
<polygon points="185.5,272.5 187.8,269.6 185.1,269.2 182.8,272.0" fill="#16d696" stroke="#16d696"/>
<polygon points="190.6,269.9 192.8,267.0 190.1,266.7 187.8,269.6" fill="#16d659" stroke="#16d659"/>
<polygon points="195.6,267.2 197.8,264.1 195.0,263.9 192.8,267.0" fill="#16d62f" stroke="#16d62f"/>
<polygon points="200.7,264.2 202.9,261.0 200.0,260.9 197.8,264.1" fill="#18d622" stroke="#18d622"/>
<polygon points="205.8,260.9 208.0,257.5 205.1,257.6 202.9,261.0" fill="#1dd622" stroke="#1dd622"/>
<polygon points="72.8,262.9 75.7,263.1 73.5,260.0 70.6,259.7" fill="#1aaa22" stroke="#1aaa22"/>
<polygon points="83.0,269.1 85.8,269.1 83.6,266.2 80.8,266.2" fill="#16ad37" stroke="#16ad37"/>
<polygon points="93.2,274.3 95.9,274.0 93.6,271.4 90.9,271.7" fill="#16b19d" stroke="#16b19d"/>
<polygon points="98.2,276.6 100.9,276.1 98.6,273.6 95.9,274.0" fill="#16b1b5" stroke="#16b1b5"/>
<polygon points="103.2,278.5 105.9,278.0 103.6,275.6 100.9,276.1" fill="#16a5bd" stroke="#16a5bd"/>
<polygon points="108.3,280.3 110.9,279.5 108.5,277.3 105.9,278.0" fill="#168ebc" stroke="#168ebc"/>
<polygon points="118.3,282.9 120.9,281.9 118.5,279.9 115.9,280.9" fill="#166bbb" stroke="#166bbb"/>
<polygon points="128.3,284.5 130.8,283.3 128.4,281.5 125.8,282.7" fill="#1658bc" stroke="#1658bc"/>
<polygon points="138.2,285.1 140.7,283.6 138.2,282.1 135.7,283.6" fill="#1652c0" stroke="#1652c0"/>
<polygon points="143.2,285.1 145.7,283.4 143.2,282.0 140.7,283.6" fill="#1654c2" stroke="#1654c2"/>
<polygon points="153.2,284.1 155.6,282.2 153.0,281.0 150.6,282.9" fill="#1663c9" stroke="#1663c9"/>
<polygon points="163.2,282.2 165.5,280.0 162.9,279.0 160.6,281.2" fill="#1683d3" stroke="#1683d3"/>
<polygon points="173.2,279.2 175.5,276.7 172.9,276.0 170.5,278.5" fill="#16b7dc" stroke="#16b7dc"/>
<polygon points="178.2,277.3 180.5,274.7 177.8,274.2 175.5,276.7" fill="#16d3dd" stroke="#16d3dd"/>
<polygon points="183.3,275.2 185.5,272.5 182.8,272.0 180.5,274.7" fill="#16d5c8" stroke="#16d5c8"/>
<polygon points="188.3,272.8 190.6,269.9 187.8,269.6 185.5,272.5" fill="#16d68f" stroke="#16d68f"/>
<polygon points="198.5,267.2 200.7,264.2 197.8,264.1 195.6,267.2" fill="#16d62b" stroke="#16d62b"/>
<polygon points="208.7,260.7 210.9,257.3 208.0,257.5 205.8,260.9" fill="#1ed622" stroke="#1ed622"/>
<polygon points="77.9,266.1 80.8,266.2 78.6,263.3 75.7,263.1" fill="#16ab22" stroke="#16ab22"/>
<polygon points="88.1,271.9 90.9,271.7 88.6,268.9 85.8,269.1" fill="#16af65" stroke="#16af65"/>
<polygon points="113.3,281.7 115.9,280.9 113.5,278.7 110.9,279.5" fill="#167bbb" stroke="#167bbb"/>
<polygon points="123.3,283.9 125.8,282.7 123.4,280.8 120.9,281.9" fill="#1660bb" stroke="#1660bb"/>
<polygon points="133.2,285.0 135.7,283.6 133.3,281.9 130.8,283.3" fill="#1653be" stroke="#1653be"/>
<polygon points="148.2,284.7 150.6,282.9 148.1,281.6 145.7,283.4" fill="#1659c6" stroke="#1659c6"/>
<polygon points="158.2,283.3 160.6,281.2 158.0,280.2 155.6,282.2" fill="#1670ce" stroke="#1670ce"/>
<polygon points="168.2,280.8 170.5,278.5 167.9,277.7 165.5,280.0" fill="#169bd8" stroke="#169bd8"/>
<polygon points="193.4,270.1 195.6,267.2 192.8,267.0 190.6,269.9" fill="#16d652" stroke="#16d652"/>
<polygon points="203.6,264.1 205.8,260.9 202.9,261.0 200.7,264.2" fill="#19d622" stroke="#19d622"/>
<polygon points="95.5,276.9 98.2,276.6 95.9,274.0 93.2,274.3" fill="#16b0b2" stroke="#16b0b2"/>
<polygon points="105.6,280.9 108.3,280.3 105.9,278.0 103.2,278.5" fill="#168dbb" stroke="#168dbb"/>
<polygon points="140.7,286.6 143.2,285.1 140.7,283.6 138.2,285.1" fill="#1647bf" stroke="#1647bf"/>
<polygon points="175.9,279.8 178.2,277.3 175.5,276.7 173.2,279.2" fill="#16b7dc" stroke="#16b7dc"/>
<polygon points="186.0,275.5 188.3,272.8 185.5,272.5 183.3,275.2" fill="#16d6c5" stroke="#16d6c5"/>
<polygon points="69.9,262.5 72.8,262.9 70.6,259.7 67.7,259.3" fill="#1ba922" stroke="#1ba922"/>
<polygon points="75.0,265.9 77.9,266.1 75.7,263.1 72.8,262.9" fill="#17aa22" stroke="#17aa22"/>
<polygon points="80.2,269.0 83.0,269.1 80.8,266.2 77.9,266.1" fill="#16ac31" stroke="#16ac31"/>
<polygon points="85.3,271.9 88.1,271.9 85.8,269.1 83.0,269.1" fill="#16ae5b" stroke="#16ae5b"/>
<polygon points="90.4,274.5 93.2,274.3 90.9,271.7 88.1,271.9" fill="#16b093" stroke="#16b093"/>
<polygon points="100.5,279.0 103.2,278.5 100.9,276.1 98.2,276.6" fill="#16a5bc" stroke="#16a5bc"/>
<polygon points="110.6,282.4 113.3,281.7 110.9,279.5 108.3,280.3" fill="#1678b9" stroke="#1678b9"/>
<polygon points="115.7,283.8 118.3,282.9 115.9,280.9 113.3,281.7" fill="#1666b9" stroke="#1666b9"/>
<polygon points="120.7,284.9 123.3,283.9 120.9,281.9 118.3,282.9" fill="#165ab9" stroke="#165ab9"/>
<polygon points="125.7,285.7 128.3,284.5 125.8,282.7 123.3,283.9" fill="#1650ba" stroke="#1650ba"/>
<polygon points="130.7,286.2 133.2,285.0 130.8,283.3 128.3,284.5" fill="#164abb" stroke="#164abb"/>
<polygon points="135.7,286.6 138.2,285.1 135.7,283.6 133.2,285.0" fill="#1647bd" stroke="#1647bd"/>
<polygon points="145.7,286.4 148.2,284.7 145.7,283.4 143.2,285.1" fill="#164ac2" stroke="#164ac2"/>
<polygon points="150.7,285.9 153.2,284.1 150.6,282.9 148.2,284.7" fill="#1651c5" stroke="#1651c5"/>
<polygon points="155.8,285.2 158.2,283.3 155.6,282.2 153.2,284.1" fill="#165cc9" stroke="#165cc9"/>
<polygon points="160.8,284.2 163.2,282.2 160.6,281.2 158.2,283.3" fill="#166bce" stroke="#166bce"/>
<polygon points="165.8,283.0 168.2,280.8 165.5,280.0 163.2,282.2" fill="#167fd3" stroke="#167fd3"/>
<polygon points="170.8,281.5 173.2,279.2 170.5,278.5 168.2,280.8" fill="#1699d7" stroke="#1699d7"/>
<polygon points="180.9,277.8 183.3,275.2 180.5,274.7 178.2,277.3" fill="#16d3dc" stroke="#16d3dc"/>
<polygon points="191.1,273.0 193.4,270.1 190.6,269.9 188.3,272.8" fill="#16d686" stroke="#16d686"/>
<polygon points="196.2,270.2 198.5,267.2 195.6,267.2 193.4,270.1" fill="#16d648" stroke="#16d648"/>
<polygon points="201.3,267.2 203.6,264.1 200.7,264.2 198.5,267.2" fill="#16d626" stroke="#16d626"/>
<polygon points="206.5,263.9 208.7,260.7 205.8,260.9 203.6,264.1" fill="#1ad622" stroke="#1ad622"/>
<polygon points="211.7,260.4 213.9,257.0 210.9,257.3 208.7,260.7" fill="#20d622" stroke="#20d622"/>
<polygon points="66.9,262.0 69.9,262.5 67.7,259.3 64.7,258.8" fill="#1ca822" stroke="#1ca822"/>
<polygon points="77.3,268.8 80.2,269.0 77.9,266.1 75.0,265.9" fill="#16ab2c" stroke="#16ab2c"/>
<polygon points="87.6,274.6 90.4,274.5 88.1,271.9 85.3,271.9" fill="#16af87" stroke="#16af87"/>
<polygon points="92.7,277.1 95.5,276.9 93.2,274.3 90.4,274.5" fill="#16afae" stroke="#16afae"/>
<polygon points="102.9,281.3 105.6,280.9 103.2,278.5 100.5,279.0" fill="#168eb9" stroke="#168eb9"/>
<polygon points="113.0,284.5 115.7,283.8 113.3,281.7 110.6,282.4" fill="#1664b7" stroke="#1664b7"/>
<polygon points="123.1,286.7 125.7,285.7 123.3,283.9 120.7,284.9" fill="#164ab7" stroke="#164ab7"/>
<polygon points="133.2,287.8 135.7,286.6 133.2,285.0 130.7,286.2" fill="#163dba" stroke="#163dba"/>
<polygon points="138.2,288.0 140.7,286.6 138.2,285.1 135.7,286.6" fill="#163cbc" stroke="#163cbc"/>
<polygon points="143.2,288.0 145.7,286.4 143.2,285.1 140.7,286.6" fill="#163dbe" stroke="#163dbe"/>
<polygon points="148.3,287.6 150.7,285.9 148.2,284.7 145.7,286.4" fill="#1642c2" stroke="#1642c2"/>
<polygon points="158.4,286.2 160.8,284.2 158.2,283.3 155.8,285.2" fill="#1657ca" stroke="#1657ca"/>
<polygon points="168.5,283.7 170.8,281.5 168.2,280.8 165.8,283.0" fill="#167dd3" stroke="#167dd3"/>
<polygon points="178.6,280.3 180.9,277.8 178.2,277.3 175.9,279.8" fill="#16b8dc" stroke="#16b8dc"/>
<polygon points="188.8,275.7 191.1,273.0 188.3,272.8 186.0,275.5" fill="#16d6c1" stroke="#16d6c1"/>
<polygon points="193.9,273.1 196.2,270.2 193.4,270.1 191.1,273.0" fill="#16d679" stroke="#16d679"/>
<polygon points="204.3,267.0 206.5,263.9 203.6,264.1 201.3,267.2" fill="#16d622" stroke="#16d622"/>
<polygon points="214.7,260.0 216.9,256.6 213.9,257.0 211.7,260.4" fill="#21d622" stroke="#21d622"/>
<polygon points="72.1,265.5 75.0,265.9 72.8,262.9 69.9,262.5" fill="#18a922" stroke="#18a922"/>
<polygon points="82.4,271.8 85.3,271.9 83.0,269.1 80.2,269.0" fill="#16ad51" stroke="#16ad51"/>
<polygon points="97.8,279.3 100.5,279.0 98.2,276.6 95.5,276.9" fill="#16a7bb" stroke="#16a7bb"/>
<polygon points="108.0,283.1 110.6,282.4 108.3,280.3 105.6,280.9" fill="#1676b8" stroke="#1676b8"/>
<polygon points="118.1,285.7 120.7,284.9 118.3,282.9 115.7,283.8" fill="#1655b7" stroke="#1655b7"/>
<polygon points="128.2,287.4 130.7,286.2 128.3,284.5 125.7,285.7" fill="#1642b8" stroke="#1642b8"/>
<polygon points="153.3,287.0 155.8,285.2 153.2,284.1 150.7,285.9" fill="#164bc5" stroke="#164bc5"/>
<polygon points="163.4,285.1 165.8,283.0 163.2,282.2 160.8,284.2" fill="#1668ce" stroke="#1668ce"/>
<polygon points="173.5,282.1 175.9,279.8 173.2,279.2 170.8,281.5" fill="#1698d7" stroke="#1698d7"/>
<polygon points="183.7,278.1 186.0,275.5 183.3,275.2 180.9,277.8" fill="#16d3da" stroke="#16d3da"/>
<polygon points="199.1,270.2 201.3,267.2 198.5,267.2 196.2,270.2" fill="#16d63b" stroke="#16d63b"/>
<polygon points="209.5,263.6 211.7,260.4 208.7,260.7 206.5,263.9" fill="#1bd622" stroke="#1bd622"/>
<polygon points="89.9,277.2 92.7,277.1 90.4,274.5 87.6,274.6" fill="#16afa8" stroke="#16afa8"/>
<polygon points="135.7,289.3 138.2,288.0 135.7,286.6 133.2,287.8" fill="#1634b9" stroke="#1634b9"/>
<polygon points="145.8,289.2 148.3,287.6 145.7,286.4 143.2,288.0" fill="#1637be" stroke="#1637be"/>
<polygon points="191.6,275.9 193.9,273.1 191.1,273.0 188.8,275.7" fill="#16d6b4" stroke="#16d6b4"/>
<polygon points="63.8,261.3 66.9,262.0 64.7,258.8 61.7,258.2" fill="#1da722" stroke="#1da722"/>
<polygon points="69.1,265.0 72.1,265.5 69.9,262.5 66.9,262.0" fill="#19a822" stroke="#19a822"/>
<polygon points="74.3,268.4 77.3,268.8 75.0,265.9 72.1,265.5" fill="#16aa26" stroke="#16aa26"/>
<polygon points="79.5,271.6 82.4,271.8 80.2,269.0 77.3,268.8" fill="#16ac44" stroke="#16ac44"/>
<polygon points="84.7,274.5 87.6,274.6 85.3,271.9 82.4,271.8" fill="#16ad79" stroke="#16ad79"/>
<polygon points="95.0,279.5 97.8,279.3 95.5,276.9 92.7,277.1" fill="#16abbb" stroke="#16abbb"/>
<polygon points="100.2,281.7 102.9,281.3 100.5,279.0 97.8,279.3" fill="#1690b9" stroke="#1690b9"/>
<polygon points="105.3,283.5 108.0,283.1 105.6,280.9 102.9,281.3" fill="#1677b7" stroke="#1677b7"/>
<polygon points="110.4,285.2 113.0,284.5 110.6,282.4 108.0,283.1" fill="#1663b6" stroke="#1663b6"/>
<polygon points="115.4,286.5 118.1,285.7 115.7,283.8 113.0,284.5" fill="#1653b5" stroke="#1653b5"/>
<polygon points="120.5,287.6 123.1,286.7 120.7,284.9 118.1,285.7" fill="#1646b5" stroke="#1646b5"/>
<polygon points="125.6,288.4 128.2,287.4 125.7,285.7 123.1,286.7" fill="#163db6" stroke="#163db6"/>
<polygon points="130.6,289.0 133.2,287.8 130.7,286.2 128.2,287.4" fill="#1637b7" stroke="#1637b7"/>
<polygon points="140.7,289.4 143.2,288.0 140.7,286.6 138.2,288.0" fill="#1634bc" stroke="#1634bc"/>
<polygon points="150.8,288.8 153.3,287.0 150.7,285.9 148.3,287.6" fill="#163cc2" stroke="#163cc2"/>
<polygon points="155.9,288.0 158.4,286.2 155.8,285.2 153.3,287.0" fill="#1646c6" stroke="#1646c6"/>
<polygon points="161.0,287.1 163.4,285.1 160.8,284.2 158.4,286.2" fill="#1654ca" stroke="#1654ca"/>
<polygon points="166.1,285.8 168.5,283.7 165.8,283.0 163.4,285.1" fill="#1666cf" stroke="#1666cf"/>
<polygon points="171.1,284.4 173.5,282.1 170.8,281.5 168.5,283.7" fill="#167dd3" stroke="#167dd3"/>
<polygon points="176.2,282.6 178.6,280.3 175.9,279.8 173.5,282.1" fill="#169ad7" stroke="#169ad7"/>
<polygon points="181.4,280.6 183.7,278.1 180.9,277.8 178.6,280.3" fill="#16bcdc" stroke="#16bcdc"/>
<polygon points="186.5,278.4 188.8,275.7 186.0,275.5 183.7,278.1" fill="#16d3d6" stroke="#16d3d6"/>
<polygon points="196.8,273.1 199.1,270.2 196.2,270.2 193.9,273.1" fill="#16d66c" stroke="#16d66c"/>
<polygon points="202.0,270.1 204.3,267.0 201.3,267.2 199.1,270.2" fill="#16d634" stroke="#16d634"/>
<polygon points="207.2,266.8 209.5,263.6 206.5,263.9 204.3,267.0" fill="#17d622" stroke="#17d622"/>
<polygon points="212.5,263.2 214.7,260.0 211.7,260.4 209.5,263.6" fill="#1dd622" stroke="#1dd622"/>
<polygon points="217.8,259.4 220.0,256.0 216.9,256.6 214.7,260.0" fill="#23d622" stroke="#23d622"/>
<polygon points="60.8,260.6 63.8,261.3 61.7,258.2 58.6,257.4" fill="#1fa622" stroke="#1fa622"/>
<polygon points="66.1,264.4 69.1,265.0 66.9,262.0 63.8,261.3" fill="#1aa722" stroke="#1aa722"/>
<polygon points="71.4,268.0 74.3,268.4 72.1,265.5 69.1,265.0" fill="#16a922" stroke="#16a922"/>
<polygon points="81.8,274.3 84.7,274.5 82.4,271.8 79.5,271.6" fill="#16ac68" stroke="#16ac68"/>
<polygon points="87.0,277.1 89.9,277.2 87.6,274.6 84.7,274.5" fill="#16aea2" stroke="#16aea2"/>
<polygon points="92.2,279.6 95.0,279.5 92.7,277.1 89.9,277.2" fill="#16aeb8" stroke="#16aeb8"/>
<polygon points="97.4,281.9 100.2,281.7 97.8,279.3 95.0,279.5" fill="#1694b8" stroke="#1694b8"/>
<polygon points="102.5,283.9 105.3,283.5 102.9,281.3 100.2,281.7" fill="#167ab6" stroke="#167ab6"/>
<polygon points="107.7,285.7 110.4,285.2 108.0,283.1 105.3,283.5" fill="#1663b5" stroke="#1663b5"/>
<polygon points="112.8,287.2 115.4,286.5 113.0,284.5 110.4,285.2" fill="#1652b4" stroke="#1652b4"/>
<polygon points="117.9,288.4 120.5,287.6 118.1,285.7 115.4,286.5" fill="#1644b4" stroke="#1644b4"/>
<polygon points="128.1,290.1 130.6,289.0 128.2,287.4 125.6,288.4" fill="#1633b5" stroke="#1633b5"/>
<polygon points="133.1,290.5 135.7,289.3 133.2,287.8 130.6,289.0" fill="#162fb7" stroke="#162fb7"/>
<polygon points="138.2,290.7 140.7,289.4 138.2,288.0 135.7,289.3" fill="#162db9" stroke="#162db9"/>
<polygon points="143.3,290.7 145.8,289.2 143.2,288.0 140.7,289.4" fill="#162ebc" stroke="#162ebc"/>
<polygon points="148.4,290.3 150.8,288.8 148.3,287.6 145.8,289.2" fill="#1631bf" stroke="#1631bf"/>
<polygon points="153.4,289.8 155.9,288.0 153.3,287.0 150.8,288.8" fill="#1638c2" stroke="#1638c2"/>
<polygon points="163.6,287.8 166.1,285.8 163.4,285.1 161.0,287.1" fill="#1652cb" stroke="#1652cb"/>
<polygon points="168.7,286.5 171.1,284.4 168.5,283.7 166.1,285.8" fill="#1666cf" stroke="#1666cf"/>
<polygon points="173.9,284.9 176.2,282.6 173.5,282.1 171.1,284.4" fill="#167ed3" stroke="#167ed3"/>
<polygon points="179.0,283.0 181.4,280.6 178.6,280.3 176.2,282.6" fill="#169ed8" stroke="#169ed8"/>
<polygon points="184.1,280.9 186.5,278.4 183.7,278.1 181.4,280.6" fill="#16c2dd" stroke="#16c2dd"/>
<polygon points="189.3,278.5 191.6,275.9 188.8,275.7 186.5,278.4" fill="#16d4d2" stroke="#16d4d2"/>
<polygon points="194.5,275.9 196.8,273.1 193.9,273.1 191.6,275.9" fill="#16d6a5" stroke="#16d6a5"/>
<polygon points="199.7,273.0 202.0,270.1 199.1,270.2 196.8,273.1" fill="#16d65d" stroke="#16d65d"/>
<polygon points="210.2,266.4 212.5,263.2 209.5,263.6 207.2,266.8" fill="#19d622" stroke="#19d622"/>
<polygon points="215.5,262.7 217.8,259.4 214.7,260.0 212.5,263.2" fill="#1fd622" stroke="#1fd622"/>
<polygon points="220.9,258.8 223.1,255.4 220.0,256.0 217.8,259.4" fill="#25d622" stroke="#25d622"/>
<polygon points="76.6,271.3 79.5,271.6 77.3,268.8 74.3,268.4" fill="#16ab35" stroke="#16ab35"/>
<polygon points="123.0,289.4 125.6,288.4 123.1,286.7 120.5,287.6" fill="#1639b4" stroke="#1639b4"/>
<polygon points="158.5,288.9 161.0,287.1 158.4,286.2 155.9,288.0" fill="#1642c6" stroke="#1642c6"/>
<polygon points="205.0,269.8 207.2,266.8 204.3,267.0 202.0,270.1" fill="#16d62e" stroke="#16d62e"/>
<polygon points="57.6,259.7 60.8,260.6 58.6,257.4 55.4,256.5" fill="#20a522" stroke="#20a522"/>
<polygon points="68.3,267.3 71.4,268.0 69.1,265.0 66.1,264.4" fill="#18a822" stroke="#18a822"/>
<polygon points="84.2,276.9 87.0,277.1 84.7,274.5 81.8,274.3" fill="#16ad93" stroke="#16ad93"/>
<polygon points="94.6,282.0 97.4,281.9 95.0,279.5 92.2,279.6" fill="#169ab8" stroke="#169ab8"/>
<polygon points="104.9,286.0 107.7,285.7 105.3,283.5 102.5,283.9" fill="#1665b4" stroke="#1665b4"/>
<polygon points="115.2,289.0 117.9,288.4 115.4,286.5 112.8,287.2" fill="#1643b3" stroke="#1643b3"/>
<polygon points="130.6,291.6 133.1,290.5 130.6,289.0 128.1,290.1" fill="#162ab5" stroke="#162ab5"/>
<polygon points="140.8,292.0 143.3,290.7 140.7,289.4 138.2,290.7" fill="#1627b9" stroke="#1627b9"/>
<polygon points="151.0,291.4 153.4,289.8 150.8,288.8 148.4,290.3" fill="#162dbf" stroke="#162dbf"/>
<polygon points="166.3,288.5 168.7,286.5 166.1,285.8 163.6,287.8" fill="#1652cc" stroke="#1652cc"/>
<polygon points="176.6,285.3 179.0,283.0 176.2,282.6 173.9,284.9" fill="#1681d4" stroke="#1681d4"/>
<polygon points="187.0,281.0 189.3,278.5 186.5,278.4 184.1,280.9" fill="#16c9de" stroke="#16c9de"/>
<polygon points="197.4,275.7 199.7,273.0 196.8,273.1 194.5,275.9" fill="#16d692" stroke="#16d692"/>
<polygon points="213.3,265.9 215.5,262.7 212.5,263.2 210.2,266.4" fill="#1ad622" stroke="#1ad622"/>
<polygon points="224.1,258.0 226.3,254.6 223.1,255.4 220.9,258.8" fill="#41d622" stroke="#41d622"/>
<polygon points="63.0,263.6 66.1,264.4 63.8,261.3 60.8,260.6" fill="#1ca622" stroke="#1ca622"/>
<polygon points="73.6,270.8 76.6,271.3 74.3,268.4 71.4,268.0" fill="#16aa2e" stroke="#16aa2e"/>
<polygon points="78.9,274.0 81.8,274.3 79.5,271.6 76.6,271.3" fill="#16ab57" stroke="#16ab57"/>
<polygon points="89.4,279.6 92.2,279.6 89.9,277.2 87.0,277.1" fill="#16adb2" stroke="#16adb2"/>
<polygon points="99.8,284.2 102.5,283.9 100.2,281.7 97.4,281.9" fill="#167eb6" stroke="#167eb6"/>
<polygon points="110.1,287.7 112.8,287.2 110.4,285.2 107.7,285.7" fill="#1652b3" stroke="#1652b3"/>
<polygon points="120.3,290.2 123.0,289.4 120.5,287.6 117.9,288.4" fill="#1637b3" stroke="#1637b3"/>
<polygon points="125.4,291.0 128.1,290.1 125.6,288.4 123.0,289.4" fill="#162fb4" stroke="#162fb4"/>
<polygon points="135.7,291.9 138.2,290.7 135.7,289.3 133.1,290.5" fill="#1627b7" stroke="#1627b7"/>
<polygon points="145.9,291.8 148.4,290.3 145.8,289.2 143.3,290.7" fill="#1629bc" stroke="#1629bc"/>
<polygon points="156.1,290.7 158.5,288.9 155.9,288.0 153.4,289.8" fill="#1635c3" stroke="#1635c3"/>
<polygon points="161.2,289.7 163.6,287.8 161.0,287.1 158.5,288.9" fill="#1640c7" stroke="#1640c7"/>
<polygon points="171.4,287.0 173.9,284.9 171.1,284.4 168.7,286.5" fill="#1667cf" stroke="#1667cf"/>
<polygon points="181.8,283.3 184.1,280.9 181.4,280.6 179.0,283.0" fill="#16a3d9" stroke="#16a3d9"/>
<polygon points="192.2,278.5 194.5,275.9 191.6,275.9 189.3,278.5" fill="#16d5cc" stroke="#16d5cc"/>
<polygon points="202.7,272.7 205.0,269.8 202.0,270.1 199.7,273.0" fill="#16d64c" stroke="#16d64c"/>
<polygon points="208.0,269.4 210.2,266.4 207.2,266.8 205.0,269.8" fill="#16d626" stroke="#16d626"/>
<polygon points="218.7,262.1 220.9,258.8 217.8,259.4 215.5,262.7" fill="#21d622" stroke="#21d622"/>
<polygon points="54.4,258.6 57.6,259.7 55.4,256.5 52.2,255.4" fill="#32a422" stroke="#32a422"/>
<polygon points="65.2,266.6 68.3,267.3 66.1,264.4 63.0,263.6" fill="#19a722" stroke="#19a722"/>
<polygon points="75.9,273.5 78.9,274.0 76.6,271.3 73.6,270.8" fill="#16aa47" stroke="#16aa47"/>
<polygon points="81.2,276.6 84.2,276.9 81.8,274.3 78.9,274.0" fill="#16ac7f" stroke="#16ac7f"/>
<polygon points="86.5,279.4 89.4,279.6 87.0,277.1 84.2,276.9" fill="#16adab" stroke="#16adab"/>
<polygon points="91.7,282.0 94.6,282.0 92.2,279.6 89.4,279.6" fill="#16a1b8" stroke="#16a1b8"/>
<polygon points="97.0,284.3 99.8,284.2 97.4,281.9 94.6,282.0" fill="#1684b6" stroke="#1684b6"/>
<polygon points="102.2,286.3 104.9,286.0 102.5,283.9 99.8,284.2" fill="#1669b3" stroke="#1669b3"/>
<polygon points="112.5,289.6 115.2,289.0 112.8,287.2 110.1,287.7" fill="#1643b1" stroke="#1643b1"/>
<polygon points="122.8,291.8 125.4,291.0 123.0,289.4 120.3,290.2" fill="#162db2" stroke="#162db2"/>
<polygon points="127.9,292.5 130.6,291.6 128.1,290.1 125.4,291.0" fill="#1627b3" stroke="#1627b3"/>
<polygon points="133.1,293.0 135.7,291.9 133.1,290.5 130.6,291.6" fill="#1623b5" stroke="#1623b5"/>
<polygon points="138.2,293.2 140.8,292.0 138.2,290.7 135.7,291.9" fill="#1623b7" stroke="#1623b7"/>
<polygon points="143.3,293.2 145.9,291.8 143.3,290.7 140.8,292.0" fill="#1623ba" stroke="#1623ba"/>
<polygon points="148.5,292.9 151.0,291.4 148.4,290.3 145.9,291.8" fill="#1625bc" stroke="#1625bc"/>
<polygon points="153.6,292.3 156.1,290.7 153.4,289.8 151.0,291.4" fill="#162bc0" stroke="#162bc0"/>
<polygon points="158.7,291.5 161.2,289.7 158.5,288.9 156.1,290.7" fill="#1633c3" stroke="#1633c3"/>
<polygon points="169.0,289.0 171.4,287.0 168.7,286.5 166.3,288.5" fill="#1653cc" stroke="#1653cc"/>
<polygon points="179.4,285.6 181.8,283.3 179.0,283.0 176.6,285.3" fill="#1687d4" stroke="#1687d4"/>
<polygon points="184.6,283.4 187.0,281.0 184.1,280.9 181.8,283.3" fill="#16abda" stroke="#16abda"/>
<polygon points="189.8,281.1 192.2,278.5 189.3,278.5 187.0,281.0" fill="#16d2df" stroke="#16d2df"/>
<polygon points="195.1,278.4 197.4,275.7 194.5,275.9 192.2,278.5" fill="#16d6c5" stroke="#16d6c5"/>
<polygon points="200.4,275.5 202.7,272.7 199.7,273.0 197.4,275.7" fill="#16d67c" stroke="#16d67c"/>
<polygon points="205.7,272.4 208.0,269.4 205.0,269.8 202.7,272.7" fill="#16d639" stroke="#16d639"/>
<polygon points="216.4,265.3 218.7,262.1 215.5,262.7 213.3,265.9" fill="#1cd622" stroke="#1cd622"/>
<polygon points="227.3,257.1 229.5,253.7 226.3,254.6 224.1,258.0" fill="#66d622" stroke="#66d622"/>
<polygon points="59.8,262.8 63.0,263.6 60.8,260.6 57.6,259.7" fill="#1ea622" stroke="#1ea622"/>
<polygon points="70.6,270.2 73.6,270.8 71.4,268.0 68.3,267.3" fill="#16a927" stroke="#16a927"/>
<polygon points="107.3,288.1 110.1,287.7 107.7,285.7 104.9,286.0" fill="#1655b2" stroke="#1655b2"/>
<polygon points="117.7,290.8 120.3,290.2 117.9,288.4 115.2,289.0" fill="#1636b1" stroke="#1636b1"/>
<polygon points="163.9,290.4 166.3,288.5 163.6,287.8 161.2,289.7" fill="#1640c8" stroke="#1640c8"/>
<polygon points="174.2,287.4 176.6,285.3 173.9,284.9 171.4,287.0" fill="#166ad0" stroke="#166ad0"/>
<polygon points="211.0,268.9 213.3,265.9 210.2,266.4 208.0,269.4" fill="#17d622" stroke="#17d622"/>
<polygon points="221.8,261.3 224.1,258.0 220.9,258.8 218.7,262.1" fill="#23d622" stroke="#23d622"/>
<polygon points="51.1,257.5 54.4,258.6 52.2,255.4 48.9,254.3" fill="#53a322" stroke="#53a322"/>
<polygon points="78.3,276.2 81.2,276.6 78.9,274.0 75.9,273.5" fill="#16ab69" stroke="#16ab69"/>
<polygon points="88.9,281.8 91.7,282.0 89.4,279.6 86.5,279.4" fill="#16aab8" stroke="#16aab8"/>
<polygon points="99.4,286.4 102.2,286.3 99.8,284.2 97.0,284.3" fill="#166fb3" stroke="#166fb3"/>
<polygon points="125.3,293.4 127.9,292.5 125.4,291.0 122.8,291.8" fill="#1625b2" stroke="#1625b2"/>
<polygon points="135.6,294.3 138.2,293.2 135.7,291.9 133.1,293.0" fill="#1621b6" stroke="#1621b6"/>
<polygon points="145.9,294.2 148.5,292.9 145.9,291.8 143.3,293.2" fill="#1622ba" stroke="#1622ba"/>
<polygon points="156.2,293.1 158.7,291.5 156.1,290.7 153.6,292.3" fill="#1629c0" stroke="#1629c0"/>
<polygon points="182.2,285.7 184.6,283.4 181.8,283.3 179.4,285.6" fill="#168ed6" stroke="#168ed6"/>
<polygon points="192.7,281.0 195.1,278.4 192.2,278.5 189.8,281.1" fill="#16d3d9" stroke="#16d3d9"/>
<polygon points="203.4,275.2 205.7,272.4 202.7,272.7 200.4,275.5" fill="#16d666" stroke="#16d666"/>
<polygon points="230.6,256.1 232.8,252.7 229.5,253.7 227.3,257.1" fill="#afd622" stroke="#afd622"/>
<polygon points="56.6,261.8 59.8,262.8 57.6,259.7 54.4,258.6" fill="#1fa522" stroke="#1fa522"/>
<polygon points="62.1,265.8 65.2,266.6 63.0,263.6 59.8,262.8" fill="#1ba622" stroke="#1ba622"/>
<polygon points="67.5,269.5 70.6,270.2 68.3,267.3 65.2,266.6" fill="#17a822" stroke="#17a822"/>
<polygon points="72.9,273.0 75.9,273.5 73.6,270.8 70.6,270.2" fill="#16a934" stroke="#16a934"/>
<polygon points="83.6,279.1 86.5,279.4 84.2,276.9 81.2,276.6" fill="#16aca3" stroke="#16aca3"/>
<polygon points="94.1,284.3 97.0,284.3 94.6,282.0 91.7,282.0" fill="#168cb6" stroke="#168cb6"/>
<polygon points="104.6,288.3 107.3,288.1 104.9,286.0 102.2,286.3" fill="#1658b2" stroke="#1658b2"/>
<polygon points="109.8,290.0 112.5,289.6 110.1,287.7 107.3,288.1" fill="#1646b1" stroke="#1646b1"/>
<polygon points="115.0,291.4 117.7,290.8 115.2,289.0 112.5,289.6" fill="#1637b0" stroke="#1637b0"/>
<polygon points="120.2,292.5 122.8,291.8 120.3,290.2 117.7,290.8" fill="#162db1" stroke="#162db1"/>
<polygon points="130.5,294.0 133.1,293.0 130.6,291.6 127.9,292.5" fill="#1622b3" stroke="#1622b3"/>
<polygon points="140.8,294.4 143.3,293.2 140.8,292.0 138.2,293.2" fill="#1621b8" stroke="#1621b8"/>
<polygon points="151.1,293.8 153.6,292.3 151.0,291.4 148.5,292.9" fill="#1623bd" stroke="#1623bd"/>
<polygon points="161.4,292.2 163.9,290.4 161.2,289.7 158.7,291.5" fill="#1633c4" stroke="#1633c4"/>
<polygon points="166.6,290.9 169.0,289.0 166.3,288.5 163.9,290.4" fill="#1641c9" stroke="#1641c9"/>
<polygon points="171.8,289.5 174.2,287.4 171.4,287.0 169.0,289.0" fill="#1655cd" stroke="#1655cd"/>
<polygon points="177.0,287.7 179.4,285.6 176.6,285.3 174.2,287.4" fill="#166ed1" stroke="#166ed1"/>
<polygon points="187.4,283.5 189.8,281.1 187.0,281.0 184.6,283.4" fill="#16b4db" stroke="#16b4db"/>
<polygon points="198.0,278.2 200.4,275.5 197.4,275.7 195.1,278.4" fill="#16d6b4" stroke="#16d6b4"/>
<polygon points="208.7,271.9 211.0,268.9 208.0,269.4 205.7,272.4" fill="#16d630" stroke="#16d630"/>
<polygon points="214.1,268.3 216.4,265.3 213.3,265.9 211.0,268.9" fill="#18d622" stroke="#18d622"/>
<polygon points="219.6,264.5 221.8,261.3 218.7,262.1 216.4,265.3" fill="#1ed622" stroke="#1ed622"/>
<polygon points="225.1,260.5 227.3,257.1 224.1,258.0 221.8,261.3" fill="#25d622" stroke="#25d622"/>
<polygon points="47.8,256.2 51.1,257.5 48.9,254.3 45.6,253.0" fill="#8da122" stroke="#8da122"/>
<polygon points="58.9,264.8 62.1,265.8 59.8,262.8 56.6,261.8" fill="#1da522" stroke="#1da522"/>
<polygon points="69.8,272.3 72.9,273.0 70.6,270.2 67.5,269.5" fill="#16a82c" stroke="#16a82c"/>
<polygon points="75.2,275.6 78.3,276.2 75.9,273.5 72.9,273.0" fill="#16aa54" stroke="#16aa54"/>
<polygon points="80.6,278.7 83.6,279.1 81.2,276.6 78.3,276.2" fill="#16ac92" stroke="#16ac92"/>
<polygon points="85.9,281.6 88.9,281.8 86.5,279.4 83.6,279.1" fill="#16acb2" stroke="#16acb2"/>
<polygon points="91.2,284.1 94.1,284.3 91.7,282.0 88.9,281.8" fill="#1695b6" stroke="#1695b6"/>
<polygon points="96.5,286.4 99.4,286.4 97.0,284.3 94.1,284.3" fill="#1677b3" stroke="#1677b3"/>
<polygon points="101.8,288.5 104.6,288.3 102.2,286.3 99.4,286.4" fill="#165eb1" stroke="#165eb1"/>
<polygon points="107.0,290.3 109.8,290.0 107.3,288.1 104.6,288.3" fill="#1649b0" stroke="#1649b0"/>
<polygon points="117.5,293.1 120.2,292.5 117.7,290.8 115.0,291.4" fill="#162db0" stroke="#162db0"/>
<polygon points="122.7,294.1 125.3,293.4 122.8,291.8 120.2,292.5" fill="#1624b0" stroke="#1624b0"/>
<polygon points="127.8,294.8 130.5,294.0 127.9,292.5 125.3,293.4" fill="#1621b2" stroke="#1621b2"/>
<polygon points="133.0,295.3 135.6,294.3 133.1,293.0 130.5,294.0" fill="#1620b4" stroke="#1620b4"/>
<polygon points="138.2,295.5 140.8,294.4 138.2,293.2 135.6,294.3" fill="#161fb6" stroke="#161fb6"/>
<polygon points="143.4,295.5 145.9,294.2 143.3,293.2 140.8,294.4" fill="#1620b9" stroke="#1620b9"/>
<polygon points="148.5,295.2 151.1,293.8 148.5,292.9 145.9,294.2" fill="#1621bb" stroke="#1621bb"/>
<polygon points="153.7,294.6 156.2,293.1 153.6,292.3 151.1,293.8" fill="#1623be" stroke="#1623be"/>
<polygon points="158.9,293.8 161.4,292.2 158.7,291.5 156.2,293.1" fill="#1628c1" stroke="#1628c1"/>
<polygon points="164.1,292.7 166.6,290.9 163.9,290.4 161.4,292.2" fill="#1634c6" stroke="#1634c6"/>
<polygon points="174.5,289.8 177.0,287.7 174.2,287.4 171.8,289.5" fill="#165acd" stroke="#165acd"/>
<polygon points="179.8,287.9 182.2,285.7 179.4,285.6 177.0,287.7" fill="#1675d2" stroke="#1675d2"/>
<polygon points="185.1,285.8 187.4,283.5 184.6,283.4 182.2,285.7" fill="#1698d7" stroke="#1698d7"/>
<polygon points="190.3,283.4 192.7,281.0 189.8,281.1 187.4,283.5" fill="#16c0dd" stroke="#16c0dd"/>
<polygon points="195.7,280.8 198.0,278.2 195.1,278.4 192.7,281.0" fill="#16d4d1" stroke="#16d4d1"/>
<polygon points="201.0,277.9 203.4,275.2 200.4,275.5 198.0,278.2" fill="#16d69b" stroke="#16d69b"/>
<polygon points="206.4,274.7 208.7,271.9 205.7,272.4 203.4,275.2" fill="#16d651" stroke="#16d651"/>
<polygon points="211.8,271.3 214.1,268.3 211.0,268.9 208.7,271.9" fill="#16d627" stroke="#16d627"/>
<polygon points="222.8,263.7 225.1,260.5 221.8,261.3 219.6,264.5" fill="#21d622" stroke="#21d622"/>
<polygon points="234.0,255.0 236.2,251.6 232.8,252.7 230.6,256.1" fill="#d4cc22" stroke="#d4cc22"/>
<polygon points="53.4,260.6 56.6,261.8 54.4,258.6 51.1,257.5" fill="#22a422" stroke="#22a422"/>
<polygon points="64.4,268.6 67.5,269.5 65.2,266.6 62.1,265.8" fill="#18a722" stroke="#18a722"/>
<polygon points="112.3,291.8 115.0,291.4 112.5,289.6 109.8,290.0" fill="#1638af" stroke="#1638af"/>
<polygon points="169.3,291.4 171.8,289.5 169.0,289.0 166.6,290.9" fill="#1643ca" stroke="#1643ca"/>
<polygon points="217.3,267.6 219.6,264.5 216.4,265.3 214.1,268.3" fill="#1ad622" stroke="#1ad622"/>
<polygon points="228.4,259.5 230.6,256.1 227.3,257.1 225.1,260.5" fill="#46d622" stroke="#46d622"/>
<polygon points="72.2,274.9 75.2,275.6 72.9,273.0 69.8,272.3" fill="#16a940" stroke="#16a940"/>
<polygon points="83.0,281.2 85.9,281.6 83.6,279.1 80.6,278.7" fill="#16aba9" stroke="#16aba9"/>
<polygon points="93.7,286.3 96.5,286.4 94.1,284.3 91.2,284.1" fill="#1680b4" stroke="#1680b4"/>
<polygon points="104.2,290.4 107.0,290.3 104.6,288.3 101.8,288.5" fill="#164eb0" stroke="#164eb0"/>
<polygon points="120.0,294.7 122.7,294.1 120.2,292.5 117.5,293.1" fill="#1625af" stroke="#1625af"/>
<polygon points="130.4,296.2 133.0,295.3 130.5,294.0 127.8,294.8" fill="#161fb3" stroke="#161fb3"/>
<polygon points="151.2,296.0 153.7,294.6 151.1,293.8 148.5,295.2" fill="#1620bc" stroke="#1620bc"/>
<polygon points="161.6,294.4 164.1,292.7 161.4,292.2 158.9,293.8" fill="#1629c3" stroke="#1629c3"/>
<polygon points="177.3,290.0 179.8,287.9 177.0,287.7 174.5,289.8" fill="#1660ce" stroke="#1660ce"/>
<polygon points="187.9,285.8 190.3,283.4 187.4,283.5 185.1,285.8" fill="#16a3d9" stroke="#16a3d9"/>
<polygon points="198.7,280.5 201.0,277.9 198.0,278.2 195.7,280.8" fill="#16d5c8" stroke="#16d5c8"/>
<polygon points="209.5,274.2 211.8,271.3 208.7,271.9 206.4,274.7" fill="#16d639" stroke="#16d639"/>
<polygon points="55.6,263.6 58.9,264.8 56.6,261.8 53.4,260.6" fill="#1fa522" stroke="#1fa522"/>
<polygon points="66.7,271.4 69.8,272.3 67.5,269.5 64.4,268.6" fill="#16a723" stroke="#16a723"/>
<polygon points="77.6,278.2 80.6,278.7 78.3,276.2 75.2,275.6" fill="#16ab79" stroke="#16ab79"/>
<polygon points="114.7,293.5 117.5,293.1 115.0,291.4 112.3,291.8" fill="#162faf" stroke="#162faf"/>
<polygon points="125.2,295.5 127.8,294.8 125.3,293.4 122.7,294.1" fill="#1621b1" stroke="#1621b1"/>
<polygon points="140.8,296.6 143.4,295.5 140.8,294.4 138.2,295.5" fill="#161eb7" stroke="#161eb7"/>
<polygon points="156.4,295.3 158.9,293.8 156.2,293.1 153.7,294.6" fill="#1623bf" stroke="#1623bf"/>
<polygon points="166.8,293.2 169.3,291.4 166.6,290.9 164.1,292.7" fill="#1636c7" stroke="#1636c7"/>
<polygon points="204.1,277.4 206.4,274.7 203.4,275.2 201.0,277.9" fill="#16d67f" stroke="#16d67f"/>
<polygon points="215.0,270.6 217.3,267.6 214.1,268.3 211.8,271.3" fill="#17d622" stroke="#17d622"/>
<polygon points="226.1,262.7 228.4,259.5 225.1,260.5 222.8,263.7" fill="#23d622" stroke="#23d622"/>
<polygon points="50.0,259.4 53.4,260.6 51.1,257.5 47.8,256.2" fill="#45a322" stroke="#45a322"/>
<polygon points="61.2,267.7 64.4,268.6 62.1,265.8 58.9,264.8" fill="#1aa622" stroke="#1aa622"/>
<polygon points="88.3,283.9 91.2,284.1 88.9,281.8 85.9,281.6" fill="#169fb7" stroke="#169fb7"/>
<polygon points="99.0,288.5 101.8,288.5 99.4,286.4 96.5,286.4" fill="#1664b1" stroke="#1664b1"/>
<polygon points="109.5,292.1 112.3,291.8 109.8,290.0 107.0,290.3" fill="#163caf" stroke="#163caf"/>
<polygon points="135.6,296.5 138.2,295.5 135.6,294.3 133.0,295.3" fill="#161eb5" stroke="#161eb5"/>
<polygon points="146.0,296.5 148.5,295.2 145.9,294.2 143.4,295.5" fill="#161fba" stroke="#161fba"/>
<polygon points="172.1,291.7 174.5,289.8 171.8,289.5 169.3,291.4" fill="#1648ca" stroke="#1648ca"/>
<polygon points="182.6,288.0 185.1,285.8 182.2,285.7 179.8,287.9" fill="#167dd3" stroke="#167dd3"/>
<polygon points="193.3,283.2 195.7,280.8 192.7,281.0 190.3,283.4" fill="#16cddf" stroke="#16cddf"/>
<polygon points="220.5,266.8 222.8,263.7 219.6,264.5 217.3,267.6" fill="#1dd622" stroke="#1dd622"/>
<polygon points="231.7,258.4 234.0,255.0 230.6,256.1 228.4,259.5" fill="#79d622" stroke="#79d622"/>
<polygon points="69.0,274.1 72.2,274.9 69.8,272.3 66.7,271.4" fill="#16a82f" stroke="#16a82f"/>
<polygon points="80.0,280.6 83.0,281.2 80.6,278.7 77.6,278.2" fill="#16ac9f" stroke="#16ac9f"/>
<polygon points="117.2,295.1 120.0,294.7 117.5,293.1 114.7,293.5" fill="#1626ae" stroke="#1626ae"/>
<polygon points="127.7,296.9 130.4,296.2 127.8,294.8 125.2,295.5" fill="#161fb1" stroke="#161fb1"/>
<polygon points="153.9,296.8 156.4,295.3 153.7,294.6 151.2,296.0" fill="#1620be" stroke="#1620be"/>
<polygon points="164.3,294.9 166.8,293.2 164.1,292.7 161.6,294.4" fill="#162bc4" stroke="#162bc4"/>
<polygon points="201.7,280.1 204.1,277.4 201.0,277.9 198.7,280.5" fill="#16d6b4" stroke="#16d6b4"/>
<polygon points="212.7,273.5 215.0,270.6 211.8,271.3 209.5,274.2" fill="#16d62e" stroke="#16d62e"/>
<polygon points="52.3,262.4 55.6,263.6 53.4,260.6 50.0,259.4" fill="#20a422" stroke="#20a422"/>
<polygon points="63.5,270.5 66.7,271.4 64.4,268.6 61.2,267.7" fill="#17a722" stroke="#17a722"/>
<polygon points="74.5,277.5 77.6,278.2 75.2,275.6 72.2,274.9" fill="#16aa5f" stroke="#16aa5f"/>
<polygon points="85.4,283.5 88.3,283.9 85.9,281.6 83.0,281.2" fill="#16aab6" stroke="#16aab6"/>
<polygon points="90.7,286.1 93.7,286.3 91.2,284.1 88.3,283.9" fill="#168bb4" stroke="#168bb4"/>
<polygon points="96.1,288.4 99.0,288.5 96.5,286.4 93.7,286.3" fill="#166db2" stroke="#166db2"/>
<polygon points="101.4,290.5 104.2,290.4 101.8,288.5 99.0,288.5" fill="#1655b0" stroke="#1655b0"/>
<polygon points="106.7,292.3 109.5,292.1 107.0,290.3 104.2,290.4" fill="#1641ae" stroke="#1641ae"/>
<polygon points="112.0,293.8 114.7,293.5 112.3,291.8 109.5,292.1" fill="#1632ae" stroke="#1632ae"/>
<polygon points="122.5,296.1 125.2,295.5 122.7,294.1 120.0,294.7" fill="#1621af" stroke="#1621af"/>
<polygon points="133.0,297.4 135.6,296.5 133.0,295.3 130.4,296.2" fill="#161eb3" stroke="#161eb3"/>
<polygon points="138.2,297.6 140.8,296.6 138.2,295.5 135.6,296.5" fill="#161db6" stroke="#161db6"/>
<polygon points="143.4,297.6 146.0,296.5 143.4,295.5 140.8,296.6" fill="#161db8" stroke="#161db8"/>
<polygon points="148.6,297.3 151.2,296.0 148.5,295.2 146.0,296.5" fill="#161ebb" stroke="#161ebb"/>
<polygon points="159.1,295.9 161.6,294.4 158.9,293.8 156.4,295.3" fill="#1623c0" stroke="#1623c0"/>
<polygon points="169.6,293.5 172.1,291.7 169.3,291.4 166.8,293.2" fill="#1639c8" stroke="#1639c8"/>
<polygon points="174.9,291.9 177.3,290.0 174.5,289.8 172.1,291.7" fill="#164dcb" stroke="#164dcb"/>
<polygon points="180.2,290.1 182.6,288.0 179.8,287.9 177.3,290.0" fill="#1668d0" stroke="#1668d0"/>
<polygon points="185.5,288.0 187.9,285.8 185.1,285.8 182.6,288.0" fill="#1688d5" stroke="#1688d5"/>
<polygon points="190.9,285.6 193.3,283.2 190.3,283.4 187.9,285.8" fill="#16b0db" stroke="#16b0db"/>
<polygon points="196.3,283.0 198.7,280.5 195.7,280.8 193.3,283.2" fill="#16d3da" stroke="#16d3da"/>
<polygon points="207.2,276.9 209.5,274.2 206.4,274.7 204.1,277.4" fill="#16d664" stroke="#16d664"/>
<polygon points="218.2,269.8 220.5,266.8 217.3,267.6 215.0,270.6" fill="#19d622" stroke="#19d622"/>
<polygon points="229.5,261.6 231.7,258.4 228.4,259.5 226.1,262.7" fill="#2dd622" stroke="#2dd622"/>
<polygon points="57.9,266.6 61.2,267.7 58.9,264.8 55.6,263.6" fill="#1ca522" stroke="#1ca522"/>
<polygon points="223.8,265.8 226.1,262.7 222.8,263.7 220.5,266.8" fill="#1fd622" stroke="#1fd622"/>
<polygon points="65.8,273.2 69.0,274.1 66.7,271.4 63.5,270.5" fill="#16a726" stroke="#16a726"/>
<polygon points="76.9,280.0 80.0,280.6 77.6,278.2 74.5,277.5" fill="#16ab84" stroke="#16ab84"/>
<polygon points="87.8,285.7 90.7,286.1 88.3,283.9 85.4,283.5" fill="#1698b5" stroke="#1698b5"/>
<polygon points="98.5,290.4 101.4,290.5 99.0,288.5 96.1,288.4" fill="#165db0" stroke="#165db0"/>
<polygon points="109.2,294.0 112.0,293.8 109.5,292.1 106.7,292.3" fill="#1636ae" stroke="#1636ae"/>
<polygon points="114.5,295.4 117.2,295.1 114.7,293.5 112.0,293.8" fill="#1629ad" stroke="#1629ad"/>
<polygon points="125.0,297.5 127.7,296.9 125.2,295.5 122.5,296.1" fill="#161fb0" stroke="#161fb0"/>
<polygon points="135.6,298.5 138.2,297.6 135.6,296.5 133.0,297.4" fill="#161cb4" stroke="#161cb4"/>
<polygon points="146.1,298.5 148.6,297.3 146.0,296.5 143.4,297.6" fill="#161db9" stroke="#161db9"/>
<polygon points="156.6,297.4 159.1,295.9 156.4,295.3 153.9,296.8" fill="#1620bf" stroke="#1620bf"/>
<polygon points="167.1,295.2 169.6,293.5 166.8,293.2 164.3,294.9" fill="#162ec6" stroke="#162ec6"/>
<polygon points="172.4,293.8 174.9,291.9 172.1,291.7 169.6,293.5" fill="#163ec9" stroke="#163ec9"/>
<polygon points="183.1,290.1 185.5,288.0 182.6,288.0 180.2,290.1" fill="#1672d1" stroke="#1672d1"/>
<polygon points="193.9,285.3 196.3,283.0 193.3,283.2 190.9,285.6" fill="#16c0dd" stroke="#16c0dd"/>
<polygon points="204.8,279.5 207.2,276.9 204.1,277.4 201.7,280.1" fill="#16d695" stroke="#16d695"/>
<polygon points="215.9,272.7 218.2,269.8 215.0,270.6 212.7,273.5" fill="#16d624" stroke="#16d624"/>
<polygon points="60.2,269.4 63.5,270.5 61.2,267.7 57.9,266.6" fill="#19a622" stroke="#19a622"/>
<polygon points="71.4,276.7 74.5,277.5 72.2,274.9 69.0,274.1" fill="#16a948" stroke="#16a948"/>
<polygon points="82.3,283.0 85.4,283.5 83.0,281.2 80.0,280.6" fill="#16abad" stroke="#16abad"/>
<polygon points="119.8,296.6 122.5,296.1 120.0,294.7 117.2,295.1" fill="#1622ae" stroke="#1622ae"/>
<polygon points="130.3,298.1 133.0,297.4 130.4,296.2 127.7,296.9" fill="#161db2" stroke="#161db2"/>
<polygon points="140.8,298.6 143.4,297.6 140.8,296.6 138.2,297.6" fill="#161cb7" stroke="#161cb7"/>
<polygon points="151.3,298.0 153.9,296.8 151.2,296.0 148.6,297.3" fill="#161ebc" stroke="#161ebc"/>
<polygon points="161.8,296.4 164.3,294.9 161.6,294.4 159.1,295.9" fill="#1624c2" stroke="#1624c2"/>
<polygon points="199.3,282.5 201.7,280.1 198.7,280.5 196.3,283.0" fill="#16d4d0" stroke="#16d4d0"/>
<polygon points="210.3,276.2 212.7,273.5 209.5,274.2 207.2,276.9" fill="#16d64a" stroke="#16d64a"/>
<polygon points="221.5,268.9 223.8,265.8 220.5,266.8 218.2,269.8" fill="#1bd622" stroke="#1bd622"/>
<polygon points="54.6,265.3 57.9,266.6 55.6,263.6 52.3,262.4" fill="#1ea422" stroke="#1ea422"/>
<polygon points="93.2,288.2 96.1,288.4 93.7,286.3 90.7,286.1" fill="#1678b2" stroke="#1678b2"/>
<polygon points="103.9,292.3 106.7,292.3 104.2,290.4 101.4,290.5" fill="#1647ae" stroke="#1647ae"/>
<polygon points="177.7,292.0 180.2,290.1 177.3,290.0 174.9,291.9" fill="#1655cd" stroke="#1655cd"/>
<polygon points="188.5,287.8 190.9,285.6 187.9,285.8 185.5,288.0" fill="#1696d7" stroke="#1696d7"/>
<polygon points="227.2,264.8 229.5,261.6 226.1,262.7 223.8,265.8" fill="#22d622" stroke="#22d622"/>
<polygon points="111.7,295.6 114.5,295.4 112.0,293.8 109.2,294.0" fill="#162dad" stroke="#162dad"/>
<polygon points="169.9,295.5 172.4,293.8 169.6,293.5 167.1,295.2" fill="#1633c7" stroke="#1633c7"/>
<polygon points="62.6,272.1 65.8,273.2 63.5,270.5 60.2,269.4" fill="#17a622" stroke="#17a622"/>
<polygon points="73.8,279.2 76.9,280.0 74.5,277.5 71.4,276.7" fill="#16aa66" stroke="#16aa66"/>
<polygon points="84.8,285.2 87.8,285.7 85.4,283.5 82.3,283.0" fill="#16a6b6" stroke="#16a6b6"/>
<polygon points="122.3,298.0 125.0,297.5 122.5,296.1 119.8,296.6" fill="#1620af" stroke="#1620af"/>
<polygon points="159.3,297.9 161.8,296.4 159.1,295.9 156.6,297.4" fill="#1621c0" stroke="#1621c0"/>
<polygon points="196.9,284.9 199.3,282.5 196.3,283.0 193.9,285.3" fill="#16d1df" stroke="#16d1df"/>
<polygon points="207.9,278.9 210.3,276.2 207.2,276.9 204.8,279.5" fill="#16d673" stroke="#16d673"/>
<polygon points="219.2,271.8 221.5,268.9 218.2,269.8 215.9,272.7" fill="#18d622" stroke="#18d622"/>
<polygon points="56.9,268.2 60.2,269.4 57.9,266.6 54.6,265.3" fill="#1ba522" stroke="#1ba522"/>
<polygon points="68.2,275.8 71.4,276.7 69.0,274.1 65.8,273.2" fill="#16a832" stroke="#16a832"/>
<polygon points="79.3,282.3 82.3,283.0 80.0,280.6 76.9,280.0" fill="#16aba2" stroke="#16aba2"/>
<polygon points="90.2,287.8 93.2,288.2 90.7,286.1 87.8,285.7" fill="#1685b3" stroke="#1685b3"/>
<polygon points="95.6,290.2 98.5,290.4 96.1,288.4 93.2,288.2" fill="#1667b1" stroke="#1667b1"/>
<polygon points="101.0,292.3 103.9,292.3 101.4,290.5 98.5,290.4" fill="#164faf" stroke="#164faf"/>
<polygon points="106.4,294.1 109.2,294.0 106.7,292.3 103.9,292.3" fill="#163bad" stroke="#163bad"/>
<polygon points="117.0,296.9 119.8,296.6 117.2,295.1 114.5,295.4" fill="#1623ad" stroke="#1623ad"/>
<polygon points="127.6,298.8 130.3,298.1 127.7,296.9 125.0,297.5" fill="#161db1" stroke="#161db1"/>
<polygon points="132.9,299.3 135.6,298.5 133.0,297.4 130.3,298.1" fill="#161cb3" stroke="#161cb3"/>
<polygon points="138.2,299.5 140.8,298.6 138.2,297.6 135.6,298.5" fill="#161bb5" stroke="#161bb5"/>
<polygon points="143.4,299.5 146.1,298.5 143.4,297.6 140.8,298.6" fill="#161bb8" stroke="#161bb8"/>
<polygon points="148.7,299.2 151.3,298.0 148.6,297.3 146.1,298.5" fill="#161cba" stroke="#161cba"/>
<polygon points="154.0,298.7 156.6,297.4 153.9,296.8 151.3,298.0" fill="#161ebd" stroke="#161ebd"/>
<polygon points="164.6,296.8 167.1,295.2 164.3,294.9 161.8,296.4" fill="#1625c3" stroke="#1625c3"/>
<polygon points="175.3,293.9 177.7,292.0 174.9,291.9 172.4,293.8" fill="#1645ca" stroke="#1645ca"/>
<polygon points="180.6,292.0 183.1,290.1 180.2,290.1 177.7,292.0" fill="#165ece" stroke="#165ece"/>
<polygon points="186.0,289.9 188.5,287.8 185.5,288.0 183.1,290.1" fill="#167ed3" stroke="#167ed3"/>
<polygon points="191.4,287.6 193.9,285.3 190.9,285.6 188.5,287.8" fill="#16a5d9" stroke="#16a5d9"/>
<polygon points="202.4,282.0 204.8,279.5 201.7,280.1 199.3,282.5" fill="#16d6c4" stroke="#16d6c4"/>
<polygon points="213.5,275.4 215.9,272.7 212.7,273.5 210.3,276.2" fill="#16d634" stroke="#16d634"/>
<polygon points="224.8,267.8 227.2,264.8 223.8,265.8 221.5,268.9" fill="#1ed622" stroke="#1ed622"/>
<polygon points="59.3,270.9 62.6,272.1 60.2,269.4 56.9,268.2" fill="#19a622" stroke="#19a622"/>
<polygon points="70.6,278.3 73.8,279.2 71.4,276.7 68.2,275.8" fill="#16a94d" stroke="#16a94d"/>
<polygon points="81.7,284.6 84.8,285.2 82.3,283.0 79.3,282.3" fill="#16aaaf" stroke="#16aaaf"/>
<polygon points="92.7,289.8 95.6,290.2 93.2,288.2 90.2,287.8" fill="#1674b2" stroke="#1674b2"/>
<polygon points="103.5,294.0 106.4,294.1 103.9,292.3 101.0,292.3" fill="#1643ae" stroke="#1643ae"/>
<polygon points="108.9,295.7 111.7,295.6 109.2,294.0 106.4,294.1" fill="#1632ad" stroke="#1632ad"/>
<polygon points="114.2,297.2 117.0,296.9 114.5,295.4 111.7,295.6" fill="#1626ad" stroke="#1626ad"/>
<polygon points="119.6,298.3 122.3,298.0 119.8,296.6 117.0,296.9" fill="#1621ae" stroke="#1621ae"/>
<polygon points="130.2,299.9 132.9,299.3 130.3,298.1 127.6,298.8" fill="#161cb2" stroke="#161cb2"/>
<polygon points="135.5,300.3 138.2,299.5 135.6,298.5 132.9,299.3" fill="#161bb4" stroke="#161bb4"/>
<polygon points="140.8,300.4 143.4,299.5 140.8,298.6 138.2,299.5" fill="#161bb6" stroke="#161bb6"/>
<polygon points="146.1,300.3 148.7,299.2 146.1,298.5 143.4,299.5" fill="#161bb9" stroke="#161bb9"/>
<polygon points="151.4,299.9 154.0,298.7 151.3,298.0 148.7,299.2" fill="#161cbc" stroke="#161cbc"/>
<polygon points="162.1,298.3 164.6,296.8 161.8,296.4 159.3,297.9" fill="#1622c1" stroke="#1622c1"/>
<polygon points="167.4,297.1 169.9,295.5 167.1,295.2 164.6,296.8" fill="#1629c5" stroke="#1629c5"/>
<polygon points="172.8,295.6 175.3,293.9 172.4,293.8 169.9,295.5" fill="#1638c8" stroke="#1638c8"/>
<polygon points="178.1,293.9 180.6,292.0 177.7,292.0 175.3,293.9" fill="#164ecb" stroke="#164ecb"/>
<polygon points="189.0,289.7 191.4,287.6 188.5,287.8 186.0,289.9" fill="#168cd5" stroke="#168cd5"/>
<polygon points="200.0,284.4 202.4,282.0 199.3,282.5 196.9,284.9" fill="#16d4d5" stroke="#16d4d5"/>
<polygon points="211.1,278.1 213.5,275.4 210.3,276.2 207.9,278.9" fill="#16d656" stroke="#16d656"/>
<polygon points="222.5,270.7 224.8,267.8 221.5,268.9 219.2,271.8" fill="#1ad622" stroke="#1ad622"/>
<polygon points="64.9,274.7 68.2,275.8 65.8,273.2 62.6,272.1" fill="#16a728" stroke="#16a728"/>
<polygon points="76.2,281.5 79.3,282.3 76.9,280.0 73.8,279.2" fill="#16aa8a" stroke="#16aa8a"/>
<polygon points="87.2,287.3 90.2,287.8 87.8,285.7 84.8,285.2" fill="#1693b4" stroke="#1693b4"/>
<polygon points="124.9,299.3 127.6,298.8 125.0,297.5 122.3,298.0" fill="#161eb0" stroke="#161eb0"/>
<polygon points="156.7,299.2 159.3,297.9 156.6,297.4 154.0,298.7" fill="#161fbe" stroke="#161fbe"/>
<polygon points="194.5,287.2 196.9,284.9 193.9,285.3 191.4,287.6" fill="#16b6dc" stroke="#16b6dc"/>
<polygon points="205.5,281.4 207.9,278.9 204.8,279.5 202.4,282.0" fill="#16d6a4" stroke="#16d6a4"/>
<polygon points="216.8,274.5 219.2,271.8 215.9,272.7 213.5,275.4" fill="#16d628" stroke="#16d628"/>
<polygon points="98.1,292.1 101.0,292.3 98.5,290.4 95.6,290.2" fill="#1659af" stroke="#1659af"/>
<polygon points="183.5,291.9 186.0,289.9 183.1,290.1 180.6,292.0" fill="#166ad0" stroke="#166ad0"/>
<polygon points="106.0,295.7 108.9,295.7 106.4,294.1 103.5,294.0" fill="#1638ad" stroke="#1638ad"/>
<polygon points="116.8,298.6 119.6,298.3 117.0,296.9 114.2,297.2" fill="#1622ad" stroke="#1622ad"/>
<polygon points="164.9,298.5 167.4,297.1 164.6,296.8 162.1,298.3" fill="#1623c3" stroke="#1623c3"/>
<polygon points="175.6,295.6 178.1,293.9 175.3,293.9 172.8,295.6" fill="#163fc9" stroke="#163fc9"/>
<polygon points="67.3,277.2 70.6,278.3 68.2,275.8 64.9,274.7" fill="#16a833" stroke="#16a833"/>
<polygon points="78.6,283.8 81.7,284.6 79.3,282.3 76.2,281.5" fill="#16aba4" stroke="#16aba4"/>
<polygon points="89.7,289.4 92.7,289.8 90.2,287.8 87.2,287.3" fill="#1682b3" stroke="#1682b3"/>
<polygon points="138.2,301.2 140.8,300.4 138.2,299.5 135.5,300.3" fill="#161ab5" stroke="#161ab5"/>
<polygon points="143.5,301.2 146.1,300.3 143.4,299.5 140.8,300.4" fill="#161ab7" stroke="#161ab7"/>
<polygon points="192.0,289.3 194.5,287.2 191.4,287.6 189.0,289.7" fill="#169ed8" stroke="#169ed8"/>
<polygon points="203.1,283.8 205.5,281.4 202.4,282.0 200.0,284.4" fill="#16d5c9" stroke="#16d5c9"/>
<polygon points="214.4,277.2 216.8,274.5 213.5,275.4 211.1,278.1" fill="#16d638" stroke="#16d638"/>
<polygon points="61.6,273.5 64.9,274.7 62.6,272.1 59.3,270.9" fill="#17a622" stroke="#17a622"/>
<polygon points="73.0,280.6 76.2,281.5 73.8,279.2 70.6,278.3" fill="#16aa6a" stroke="#16aa6a"/>
<polygon points="84.1,286.7 87.2,287.3 84.8,285.2 81.7,284.6" fill="#16a3b6" stroke="#16a3b6"/>
<polygon points="95.2,291.7 98.1,292.1 95.6,290.2 92.7,289.8" fill="#1664b0" stroke="#1664b0"/>
<polygon points="100.6,293.8 103.5,294.0 101.0,292.3 98.1,292.1" fill="#164dae" stroke="#164dae"/>
<polygon points="111.4,297.3 114.2,297.2 111.7,295.6 108.9,295.7" fill="#162bac" stroke="#162bac"/>
<polygon points="122.2,299.6 124.9,299.3 122.3,298.0 119.6,298.3" fill="#161faf" stroke="#161faf"/>
<polygon points="127.5,300.4 130.2,299.9 127.6,298.8 124.9,299.3" fill="#161db1" stroke="#161db1"/>
<polygon points="132.8,300.9 135.5,300.3 132.9,299.3 130.2,299.9" fill="#161bb3" stroke="#161bb3"/>
<polygon points="148.8,300.9 151.4,299.9 148.7,299.2 146.1,300.3" fill="#161bba" stroke="#161bba"/>
<polygon points="154.2,300.4 156.7,299.2 154.0,298.7 151.4,299.9" fill="#161dbd" stroke="#161dbd"/>
<polygon points="159.5,299.6 162.1,298.3 159.3,297.9 156.7,299.2" fill="#1620c0" stroke="#1620c0"/>
<polygon points="170.2,297.2 172.8,295.6 169.9,295.5 167.4,297.1" fill="#162ec6" stroke="#162ec6"/>
<polygon points="181.1,293.8 183.5,291.9 180.6,292.0 178.1,293.9" fill="#1658cd" stroke="#1658cd"/>
<polygon points="186.5,291.7 189.0,289.7 186.0,289.9 183.5,291.9" fill="#1677d2" stroke="#1677d2"/>
<polygon points="197.5,286.7 200.0,284.4 196.9,284.9 194.5,287.2" fill="#16cade" stroke="#16cade"/>
<polygon points="208.7,280.6 211.1,278.1 207.9,278.9 205.5,281.4" fill="#16d67f" stroke="#16d67f"/>
<polygon points="220.1,273.5 222.5,270.7 219.2,271.8 216.8,274.5" fill="#17d622" stroke="#17d622"/>
<polygon points="64.0,276.0 67.3,277.2 64.9,274.7 61.6,273.5" fill="#16a728" stroke="#16a728"/>
<polygon points="75.4,282.9 78.6,283.8 76.2,281.5 73.0,280.6" fill="#16aa8c" stroke="#16aa8c"/>
<polygon points="86.6,288.8 89.7,289.4 87.2,287.3 84.1,286.7" fill="#1692b4" stroke="#1692b4"/>
<polygon points="97.6,293.5 100.6,293.8 98.1,292.1 95.2,291.7" fill="#1658af" stroke="#1658af"/>
<polygon points="103.1,295.5 106.0,295.7 103.5,294.0 100.6,293.8" fill="#1642ad" stroke="#1642ad"/>
<polygon points="108.6,297.2 111.4,297.3 108.9,295.7 106.0,295.7" fill="#1631ac" stroke="#1631ac"/>
<polygon points="114.0,298.7 116.8,298.6 114.2,297.2 111.4,297.3" fill="#1624ac" stroke="#1624ac"/>
<polygon points="119.4,299.9 122.2,299.6 119.6,298.3 116.8,298.6" fill="#1620ae" stroke="#1620ae"/>
<polygon points="124.8,300.8 127.5,300.4 124.9,299.3 122.2,299.6" fill="#161db0" stroke="#161db0"/>
<polygon points="130.1,301.5 132.8,300.9 130.2,299.9 127.5,300.4" fill="#161cb2" stroke="#161cb2"/>
<polygon points="135.5,301.9 138.2,301.2 135.5,300.3 132.8,300.9" fill="#161ab4" stroke="#161ab4"/>
<polygon points="140.8,302.0 143.5,301.2 140.8,300.4 138.2,301.2" fill="#161ab6" stroke="#161ab6"/>
<polygon points="146.2,301.9 148.8,300.9 146.1,300.3 143.5,301.2" fill="#161ab9" stroke="#161ab9"/>
<polygon points="151.6,301.5 154.2,300.4 151.4,299.9 148.8,300.9" fill="#161cbb" stroke="#161cbb"/>
<polygon points="156.9,300.8 159.5,299.6 156.7,299.2 154.2,300.4" fill="#161ebe" stroke="#161ebe"/>
<polygon points="162.3,299.9 164.9,298.5 162.1,298.3 159.5,299.6" fill="#1621c1" stroke="#1621c1"/>
<polygon points="167.7,298.7 170.2,297.2 167.4,297.1 164.9,298.5" fill="#1626c4" stroke="#1626c4"/>
<polygon points="173.1,297.3 175.6,295.6 172.8,295.6 170.2,297.2" fill="#1635c7" stroke="#1635c7"/>
<polygon points="178.6,295.6 181.1,293.8 178.1,293.9 175.6,295.6" fill="#164acb" stroke="#164acb"/>
<polygon points="184.0,293.6 186.5,291.7 183.5,291.9 181.1,293.8" fill="#1665cf" stroke="#1665cf"/>
<polygon points="195.1,288.8 197.5,286.7 194.5,287.2 192.0,289.3" fill="#16b1db" stroke="#16b1db"/>
<polygon points="206.3,283.0 208.7,280.6 205.5,281.4 203.1,283.8" fill="#16d6ae" stroke="#16d6ae"/>
<polygon points="217.7,276.2 220.1,273.5 216.8,274.5 214.4,277.2" fill="#16d62b" stroke="#16d62b"/>
<polygon points="69.7,279.6 73.0,280.6 70.6,278.3 67.3,277.2" fill="#16a94d" stroke="#16a94d"/>
<polygon points="81.0,286.0 84.1,286.7 81.7,284.6 78.6,283.8" fill="#16aab0" stroke="#16aab0"/>
<polygon points="92.1,291.3 95.2,291.7 92.7,289.8 89.7,289.4" fill="#1672b1" stroke="#1672b1"/>
<polygon points="189.5,291.3 192.0,289.3 189.0,289.7 186.5,291.7" fill="#1687d5" stroke="#1687d5"/>
<polygon points="200.7,286.1 203.1,283.8 200.0,284.4 197.5,286.7" fill="#16d3d8" stroke="#16d3d8"/>
<polygon points="212.0,279.8 214.4,277.2 211.1,278.1 208.7,280.6" fill="#16d65d" stroke="#16d65d"/>
<polygon points="100.2,295.2 103.1,295.5 100.6,293.8 97.6,293.5" fill="#164cad" stroke="#164cad"/>
<polygon points="111.1,298.7 114.0,298.7 111.4,297.3 108.6,297.2" fill="#1629a3" stroke="#1629a3"/>
<polygon points="170.6,298.8 173.1,297.3 170.2,297.2 167.7,298.7" fill="#162dc5" stroke="#162dc5"/>
<polygon points="181.5,295.3 184.0,293.6 181.1,293.8 178.6,295.6" fill="#1656cd" stroke="#1656cd"/>
<polygon points="72.2,281.9 75.4,282.9 73.0,280.6 69.7,279.6" fill="#16a969" stroke="#16a969"/>
<polygon points="83.5,288.0 86.6,288.8 84.1,286.7 81.0,286.0" fill="#16a3b6" stroke="#16a3b6"/>
<polygon points="94.6,293.1 97.6,293.5 95.2,291.7 92.1,291.3" fill="#1664b0" stroke="#1664b0"/>
<polygon points="122.0,301.1 124.8,300.8 122.2,299.6 119.4,299.9" fill="#161ea1" stroke="#161ea1"/>
<polygon points="132.8,302.4 135.5,301.9 132.8,300.9 130.1,301.5" fill="#161ba4" stroke="#161ba4"/>
<polygon points="138.2,302.7 140.8,302.0 138.2,301.2 135.5,301.9" fill="#161aa7" stroke="#161aa7"/>
<polygon points="143.5,302.7 146.2,301.9 143.5,301.2 140.8,302.0" fill="#161aac" stroke="#161aac"/>
<polygon points="148.9,302.4 151.6,301.5 148.8,300.9 146.2,301.9" fill="#161bb1" stroke="#161bb1"/>
<polygon points="159.7,301.1 162.3,299.9 159.5,299.6 156.9,300.8" fill="#161fbf" stroke="#161fbf"/>
<polygon points="187.1,293.2 189.5,291.3 186.5,291.7 184.0,293.6" fill="#1674d2" stroke="#1674d2"/>
<polygon points="198.2,288.2 200.7,286.1 197.5,286.7 195.1,288.8" fill="#16c6de" stroke="#16c6de"/>
<polygon points="209.6,282.2 212.0,279.8 208.7,280.6 206.3,283.0" fill="#16d685" stroke="#16d685"/>
<polygon points="66.4,278.5 69.7,279.6 67.3,277.2 64.0,276.0" fill="#16a832" stroke="#16a832"/>
<polygon points="77.9,285.1 81.0,286.0 78.6,283.8 75.4,282.9" fill="#16aba3" stroke="#16aba3"/>
<polygon points="89.1,290.7 92.1,291.3 89.7,289.4 86.6,288.8" fill="#1682b3" stroke="#1682b3"/>
<polygon points="105.7,297.1 108.6,297.2 106.0,295.7 103.1,295.5" fill="#1637a7" stroke="#1637a7"/>
<polygon points="116.6,300.0 119.4,299.9 116.8,298.6 114.0,298.7" fill="#1621a1" stroke="#1621a1"/>
<polygon points="127.4,301.9 130.1,301.5 127.5,300.4 124.8,300.8" fill="#161ca2" stroke="#161ca2"/>
<polygon points="154.3,301.9 156.9,300.8 154.2,300.4 151.6,301.5" fill="#161cb8" stroke="#161cb8"/>
<polygon points="165.1,300.1 167.7,298.7 164.9,298.5 162.3,299.9" fill="#1623c2" stroke="#1623c2"/>
<polygon points="176.0,297.2 178.6,295.6 175.6,295.6 173.1,297.3" fill="#163dc8" stroke="#163dc8"/>
<polygon points="192.6,290.9 195.1,288.8 192.0,289.3 189.5,291.3" fill="#169ad7" stroke="#169ad7"/>
<polygon points="203.9,285.3 206.3,283.0 203.1,283.8 200.7,286.1" fill="#16d5cb" stroke="#16d5cb"/>
<polygon points="215.3,278.8 217.7,276.2 214.4,277.2 212.0,279.8" fill="#16d63c" stroke="#16d63c"/>
<polygon points="97.2,294.8 100.2,295.2 97.6,293.5 94.6,293.1" fill="#1652a0" stroke="#1652a0"/>
<polygon points="184.5,295.0 187.1,293.2 184.0,293.6 181.5,295.3" fill="#1664cf" stroke="#1664cf"/>
<polygon points="68.9,280.8 72.2,281.9 69.7,279.6 66.4,278.5" fill="#16a94b" stroke="#16a94b"/>
<polygon points="80.3,287.2 83.5,288.0 81.0,286.0 77.9,285.1" fill="#16aaae" stroke="#16aaae"/>
<polygon points="91.6,292.5 94.6,293.1 92.1,291.3 89.1,290.7" fill="#166fa9" stroke="#166fa9"/>
<polygon points="102.7,296.8 105.7,297.1 103.1,295.5 100.2,295.2" fill="#163d9a" stroke="#163d9a"/>
<polygon points="108.2,298.5 111.1,298.7 108.6,297.2 105.7,297.1" fill="#162d95" stroke="#162d95"/>
<polygon points="113.7,300.0 116.6,300.0 114.0,298.7 111.1,298.7" fill="#162392" stroke="#162392"/>
<polygon points="119.2,301.2 122.0,301.1 119.4,299.9 116.6,300.0" fill="#161f91" stroke="#161f91"/>
<polygon points="124.6,302.1 127.4,301.9 124.8,300.8 122.0,301.1" fill="#161c91" stroke="#161c91"/>
<polygon points="130.0,302.8 132.8,302.4 130.1,301.5 127.4,301.9" fill="#161b93" stroke="#161b93"/>
<polygon points="135.4,303.2 138.2,302.7 135.5,301.9 132.8,302.4" fill="#161a95" stroke="#161a95"/>
<polygon points="140.9,303.4 143.5,302.7 140.8,302.0 138.2,302.7" fill="#161a98" stroke="#161a98"/>
<polygon points="146.3,303.3 148.9,302.4 146.2,301.9 143.5,302.7" fill="#161a9d" stroke="#161a9d"/>
<polygon points="151.7,302.9 154.3,301.9 151.6,301.5 148.9,302.4" fill="#161ba2" stroke="#161ba2"/>
<polygon points="157.1,302.2 159.7,301.1 156.9,300.8 154.3,301.9" fill="#161da9" stroke="#161da9"/>
<polygon points="162.6,301.3 165.1,300.1 162.3,299.9 159.7,301.1" fill="#1620b1" stroke="#1620b1"/>
<polygon points="168.0,300.1 170.6,298.8 167.7,298.7 165.1,300.1" fill="#1625bb" stroke="#1625bb"/>
<polygon points="173.5,298.7 176.0,297.2 173.1,297.3 170.6,298.8" fill="#1635c6" stroke="#1635c6"/>
<polygon points="179.0,297.0 181.5,295.3 178.6,295.6 176.0,297.2" fill="#1649ca" stroke="#1649ca"/>
<polygon points="190.1,292.8 192.6,290.9 189.5,291.3 187.1,293.2" fill="#1686d4" stroke="#1686d4"/>
<polygon points="201.4,287.5 203.9,285.3 200.7,286.1 198.2,288.2" fill="#16d3d9" stroke="#16d3d9"/>
<polygon points="212.9,281.2 215.3,278.8 212.0,279.8 209.6,282.2" fill="#16d660" stroke="#16d660"/>
<polygon points="74.6,284.1 77.9,285.1 75.4,282.9 72.2,281.9" fill="#16aa88" stroke="#16aa88"/>
<polygon points="86.0,290.0 89.1,290.7 86.6,288.8 83.5,288.0" fill="#1694b4" stroke="#1694b4"/>
<polygon points="195.7,290.3 198.2,288.2 195.1,288.8 192.6,290.9" fill="#16afdb" stroke="#16afdb"/>
<polygon points="207.1,284.5 209.6,282.2 206.3,283.0 203.9,285.3" fill="#16d6b1" stroke="#16d6b1"/>
<polygon points="94.1,294.2 97.2,294.8 94.6,293.1 91.6,292.5" fill="#165895" stroke="#165895"/>
<polygon points="105.3,298.2 108.2,298.5 105.7,297.1 102.7,296.8" fill="#163288" stroke="#163288"/>
<polygon points="127.2,303.1 130.0,302.8 127.4,301.9 124.6,302.1" fill="#161b83" stroke="#161b83"/>
<polygon points="154.5,303.2 157.1,302.2 154.3,301.9 151.7,302.9" fill="#161c94" stroke="#161c94"/>
<polygon points="176.5,298.5 179.0,297.0 176.0,297.2 173.5,298.7" fill="#163ab8" stroke="#163ab8"/>
<polygon points="187.6,294.6 190.1,292.8 187.1,293.2 184.5,295.0" fill="#1675d2" stroke="#1675d2"/>
<polygon points="77.1,286.2 80.3,287.2 77.9,285.1 74.6,284.1" fill="#16a99f" stroke="#16a99f"/>
<polygon points="88.5,291.8 91.6,292.5 89.1,290.7 86.0,290.0" fill="#16769e" stroke="#16769e"/>
<polygon points="99.7,296.4 102.7,296.8 100.2,295.2 97.2,294.8" fill="#16428e" stroke="#16428e"/>
<polygon points="116.3,301.2 119.2,301.2 116.6,300.0 113.7,300.0" fill="#161f82" stroke="#161f82"/>
<polygon points="121.8,302.3 124.6,302.1 122.0,301.1 119.2,301.2" fill="#161d82" stroke="#161d82"/>
<polygon points="132.7,303.7 135.4,303.2 132.8,302.4 130.0,302.8" fill="#161a84" stroke="#161a84"/>
<polygon points="138.1,303.9 140.9,303.4 138.2,302.7 135.4,303.2" fill="#161a87" stroke="#161a87"/>
<polygon points="143.6,304.0 146.3,303.3 143.5,302.7 140.9,303.4" fill="#161a8a" stroke="#161a8a"/>
<polygon points="149.0,303.7 151.7,302.9 148.9,302.4 146.3,303.3" fill="#161a8f" stroke="#161a8f"/>
<polygon points="159.9,302.4 162.6,301.3 159.7,301.1 157.1,302.2" fill="#161e9b" stroke="#161e9b"/>
<polygon points="165.4,301.4 168.0,300.1 165.1,300.1 162.6,301.3" fill="#1621a3" stroke="#1621a3"/>
<polygon points="182.0,296.7 184.5,295.0 181.5,295.3 179.0,297.0" fill="#1655c7" stroke="#1655c7"/>
<polygon points="193.2,292.2 195.7,290.3 192.6,290.9 190.1,292.8" fill="#169bd8" stroke="#169bd8"/>
<polygon points="204.7,286.7 207.1,284.5 203.9,285.3 201.4,287.5" fill="#16d5cb" stroke="#16d5cb"/>
<polygon points="71.3,283.0 74.6,284.1 72.2,281.9 68.9,280.8" fill="#16a963" stroke="#16a963"/>
<polygon points="82.8,289.1 86.0,290.0 83.5,288.0 80.3,287.2" fill="#169baa" stroke="#169baa"/>
<polygon points="110.8,299.9 113.7,300.0 111.1,298.7 108.2,298.5" fill="#162685" stroke="#162685"/>
<polygon points="170.9,300.1 173.5,298.7 170.6,298.8 168.0,300.1" fill="#162aad" stroke="#162aad"/>
<polygon points="198.9,289.6 201.4,287.5 198.2,288.2 195.7,290.3" fill="#16c6de" stroke="#16c6de"/>
<polygon points="210.5,283.6 212.9,281.2 209.6,282.2 207.1,284.5" fill="#16d685" stroke="#16d685"/>
<polygon points="91.0,293.5 94.1,294.2 91.6,292.5 88.5,291.8" fill="#165e8b" stroke="#165e8b"/>
<polygon points="102.3,297.8 105.3,298.2 102.7,296.8 99.7,296.4" fill="#16367d" stroke="#16367d"/>
<polygon points="179.5,298.2 182.0,296.7 179.0,297.0 176.5,298.5" fill="#1642ac" stroke="#1642ac"/>
<polygon points="190.7,294.0 193.2,292.2 190.1,292.8 187.6,294.6" fill="#1684cd" stroke="#1684cd"/>
<polygon points="73.8,285.1 77.1,286.2 74.6,284.1 71.3,283.0" fill="#169e78" stroke="#169e78"/>
<polygon points="85.3,291.0 88.5,291.8 86.0,290.0 82.8,289.1" fill="#167c94" stroke="#167c94"/>
<polygon points="96.7,295.8 99.7,296.4 97.2,294.8 94.1,294.2" fill="#164783" stroke="#164783"/>
<polygon points="107.9,299.6 110.8,299.9 108.2,298.5 105.3,298.2" fill="#162a78" stroke="#162a78"/>
<polygon points="113.4,301.1 116.3,301.2 113.7,300.0 110.8,299.9" fill="#162276" stroke="#162276"/>
<polygon points="118.9,302.3 121.8,302.3 119.2,301.2 116.3,301.2" fill="#161d74" stroke="#161d74"/>
<polygon points="124.4,303.3 127.2,303.1 124.6,302.1 121.8,302.3" fill="#161c74" stroke="#161c74"/>
<polygon points="129.9,304.0 132.7,303.7 130.0,302.8 127.2,303.1" fill="#161b75" stroke="#161b75"/>
<polygon points="135.4,304.4 138.1,303.9 135.4,303.2 132.7,303.7" fill="#161a77" stroke="#161a77"/>
<polygon points="140.9,304.5 143.6,304.0 140.9,303.4 138.1,303.9" fill="#161a7a" stroke="#161a7a"/>
<polygon points="146.3,304.4 149.0,303.7 146.3,303.3 143.6,304.0" fill="#161a7d" stroke="#161a7d"/>
<polygon points="151.8,304.1 154.5,303.2 151.7,302.9 149.0,303.7" fill="#161b82" stroke="#161b82"/>
<polygon points="157.3,303.4 159.9,302.4 157.1,302.2 154.5,303.2" fill="#161c87" stroke="#161c87"/>
<polygon points="162.8,302.5 165.4,301.4 162.6,301.3 159.9,302.4" fill="#161f8e" stroke="#161f8e"/>
<polygon points="168.3,301.4 170.9,300.1 168.0,300.1 165.4,301.4" fill="#162397" stroke="#162397"/>
<polygon points="173.9,299.9 176.5,298.5 173.5,298.7 170.9,300.1" fill="#1630a0" stroke="#1630a0"/>
<polygon points="185.1,296.3 187.6,294.6 184.5,295.0 182.0,296.7" fill="#165dbb" stroke="#165dbb"/>
<polygon points="196.4,291.5 198.9,289.6 195.7,290.3 193.2,292.2" fill="#16b2db" stroke="#16b2db"/>
<polygon points="208.0,285.8 210.5,283.6 207.1,284.5 204.7,286.7" fill="#16d6ae" stroke="#16d6ae"/>
<polygon points="79.6,288.2 82.8,289.1 80.3,287.2 77.1,286.2" fill="#169396" stroke="#169396"/>
<polygon points="202.2,288.8 204.7,286.7 201.4,287.5 198.9,289.6" fill="#16d3d8" stroke="#16d3d8"/>
<polygon points="87.9,292.7 91.0,293.5 88.5,291.8 85.3,291.0" fill="#166481" stroke="#166481"/>
<polygon points="99.2,297.3 102.3,297.8 99.7,296.4 96.7,295.8" fill="#163b72" stroke="#163b72"/>
<polygon points="121.6,303.3 124.4,303.3 121.8,302.3 118.9,302.3" fill="#161c67" stroke="#161c67"/>
<polygon points="127.1,304.1 129.9,304.0 127.2,303.1 124.4,303.3" fill="#161b68" stroke="#161b68"/>
<polygon points="132.6,304.7 135.4,304.4 132.7,303.7 129.9,304.0" fill="#161a69" stroke="#161a69"/>
<polygon points="149.1,304.8 151.8,304.1 149.0,303.7 146.3,304.4" fill="#161a71" stroke="#161a71"/>
<polygon points="154.7,304.3 157.3,303.4 154.5,303.2 151.8,304.1" fill="#161b76" stroke="#161b76"/>
<polygon points="160.2,303.5 162.8,302.5 159.9,302.4 157.3,303.4" fill="#161d7b" stroke="#161d7b"/>
<polygon points="182.5,297.8 185.1,296.3 182.0,296.7 179.5,298.2" fill="#164aa1" stroke="#164aa1"/>
<polygon points="193.9,293.4 196.4,291.5 193.2,292.2 190.7,294.0" fill="#1690c4" stroke="#1690c4"/>
<polygon points="82.1,290.0 85.3,291.0 82.8,289.1 79.6,288.2" fill="#167f8a" stroke="#167f8a"/>
<polygon points="93.6,295.2 96.7,295.8 94.1,294.2 91.0,293.5" fill="#164c79" stroke="#164c79"/>
<polygon points="104.9,299.2 107.9,299.6 105.3,298.2 102.3,297.8" fill="#162e6e" stroke="#162e6e"/>
<polygon points="110.5,300.8 113.4,301.1 110.8,299.9 107.9,299.6" fill="#16256a" stroke="#16256a"/>
<polygon points="116.0,302.2 118.9,302.3 116.3,301.2 113.4,301.1" fill="#161e68" stroke="#161e68"/>
<polygon points="138.1,305.0 140.9,304.5 138.1,303.9 135.4,304.4" fill="#161a6b" stroke="#161a6b"/>
<polygon points="143.6,305.0 146.3,304.4 143.6,304.0 140.9,304.5" fill="#161a6d" stroke="#161a6d"/>
<polygon points="165.7,302.5 168.3,301.4 165.4,301.4 162.8,302.5" fill="#161f82" stroke="#161f82"/>
<polygon points="171.3,301.2 173.9,299.9 170.9,300.1 168.3,301.4" fill="#16288b" stroke="#16288b"/>
<polygon points="176.9,299.7 179.5,298.2 176.5,298.5 173.9,299.9" fill="#163595" stroke="#163595"/>
<polygon points="188.2,295.7 190.7,294.0 187.6,294.6 185.1,296.3" fill="#1666b1" stroke="#1666b1"/>
<polygon points="199.7,290.7 202.2,288.8 198.9,289.6 196.4,291.5" fill="#16c7da" stroke="#16c7da"/>
<polygon points="76.3,287.1 79.6,288.2 77.1,286.2 73.8,285.1" fill="#168a7f" stroke="#168a7f"/>
<polygon points="205.5,287.9 208.0,285.8 204.7,286.7 202.2,288.8" fill="#16d5c8" stroke="#16d5c8"/>
<polygon points="84.6,291.8 87.9,292.7 85.3,291.0 82.1,290.0" fill="#166879" stroke="#166879"/>
<polygon points="96.1,296.7 99.2,297.3 96.7,295.8 93.6,295.2" fill="#163e69" stroke="#163e69"/>
<polygon points="185.6,297.3 188.2,295.7 185.1,296.3 182.5,297.8" fill="#165197" stroke="#165197"/>
<polygon points="197.1,292.6 199.7,290.7 196.4,291.5 193.9,293.4" fill="#169cbb" stroke="#169cbb"/>
<polygon points="78.8,288.9 82.1,290.0 79.6,288.2 76.3,287.1" fill="#167777" stroke="#167777"/>
<polygon points="90.4,294.4 93.6,295.2 91.0,293.5 87.9,292.7" fill="#165070" stroke="#165070"/>
<polygon points="101.8,298.7 104.9,299.2 102.3,297.8 99.2,297.3" fill="#163164" stroke="#163164"/>
<polygon points="107.5,300.5 110.5,300.8 107.9,299.6 104.9,299.2" fill="#162760" stroke="#162760"/>
<polygon points="113.1,302.0 116.0,302.2 113.4,301.1 110.5,300.8" fill="#16215d" stroke="#16215d"/>
<polygon points="118.7,303.2 121.6,303.3 118.9,302.3 116.0,302.2" fill="#161c5c" stroke="#161c5c"/>
<polygon points="124.3,304.2 127.1,304.1 124.4,303.3 121.6,303.3" fill="#161b5c" stroke="#161b5c"/>
<polygon points="129.8,304.9 132.6,304.7 129.9,304.0 127.1,304.1" fill="#161a5c" stroke="#161a5c"/>
<polygon points="135.4,305.3 138.1,305.0 135.4,304.4 132.6,304.7" fill="#161a5d" stroke="#161a5d"/>
<polygon points="140.9,305.5 143.6,305.0 140.9,304.5 138.1,305.0" fill="#161a5f" stroke="#161a5f"/>
<polygon points="146.4,305.4 149.1,304.8 146.3,304.4 143.6,305.0" fill="#161a62" stroke="#161a62"/>
<polygon points="152.0,305.1 154.7,304.3 151.8,304.1 149.1,304.8" fill="#161b66" stroke="#161b66"/>
<polygon points="157.5,304.4 160.2,303.5 157.3,303.4 154.7,304.3" fill="#161c6a" stroke="#161c6a"/>
<polygon points="163.1,303.5 165.7,302.5 162.8,302.5 160.2,303.5" fill="#161d70" stroke="#161d70"/>
<polygon points="168.7,302.4 171.3,301.2 168.3,301.4 165.7,302.5" fill="#162378" stroke="#162378"/>
<polygon points="174.3,300.9 176.9,299.7 173.9,299.9 171.3,301.2" fill="#162c80" stroke="#162c80"/>
<polygon points="179.9,299.3 182.5,297.8 179.5,298.2 176.9,299.7" fill="#163b8a" stroke="#163b8a"/>
<polygon points="191.4,295.1 193.9,293.4 190.7,294.0 188.2,295.7" fill="#1670a7" stroke="#1670a7"/>
<polygon points="203.0,289.8 205.5,287.9 202.2,288.8 199.7,290.7" fill="#16c4c6" stroke="#16c4c6"/>
<polygon points="81.3,290.7 84.6,291.8 82.1,290.0 78.8,288.9" fill="#16656c" stroke="#16656c"/>
<polygon points="93.0,295.9 96.1,296.7 93.6,295.2 90.4,294.4" fill="#164161" stroke="#164161"/>
<polygon points="104.4,300.0 107.5,300.5 104.9,299.2 101.8,298.7" fill="#162a57" stroke="#162a57"/>
<polygon points="110.1,301.6 113.1,302.0 110.5,300.8 107.5,300.5" fill="#162354" stroke="#162354"/>
<polygon points="115.8,303.0 118.7,303.2 116.0,302.2 113.1,302.0" fill="#161e52" stroke="#161e52"/>
<polygon points="121.4,304.1 124.3,304.2 121.6,303.3 118.7,303.2" fill="#161b51" stroke="#161b51"/>
<polygon points="127.0,305.0 129.8,304.9 127.1,304.1 124.3,304.2" fill="#161b51" stroke="#161b51"/>
<polygon points="132.5,305.5 135.4,305.3 132.6,304.7 129.8,304.9" fill="#161a52" stroke="#161a52"/>
<polygon points="138.1,305.9 140.9,305.5 138.1,305.0 135.4,305.3" fill="#161a53" stroke="#161a53"/>
<polygon points="143.7,305.9 146.4,305.4 143.6,305.0 140.9,305.5" fill="#161a55" stroke="#161a55"/>
<polygon points="149.3,305.7 152.0,305.1 149.1,304.8 146.4,305.4" fill="#161a58" stroke="#161a58"/>
<polygon points="154.8,305.2 157.5,304.4 154.7,304.3 152.0,305.1" fill="#161b5b" stroke="#161b5b"/>
<polygon points="160.4,304.4 163.1,303.5 160.2,303.5 157.5,304.4" fill="#161c60" stroke="#161c60"/>
<polygon points="166.0,303.4 168.7,302.4 165.7,302.5 163.1,303.5" fill="#161f66" stroke="#161f66"/>
<polygon points="171.7,302.1 174.3,300.9 171.3,301.2 168.7,302.4" fill="#16266e" stroke="#16266e"/>
<polygon points="177.4,300.6 179.9,299.3 176.9,299.7 174.3,300.9" fill="#163176" stroke="#163176"/>
<polygon points="188.8,296.7 191.4,295.1 188.2,295.7 185.6,297.3" fill="#16588e" stroke="#16588e"/>
<polygon points="200.5,291.7 203.0,289.8 199.7,290.7 197.1,292.6" fill="#16a6b2" stroke="#16a6b2"/>
<polygon points="87.2,293.4 90.4,294.4 87.9,292.7 84.6,291.8" fill="#165468" stroke="#165468"/>
<polygon points="98.7,298.1 101.8,298.7 99.2,297.3 96.1,296.7" fill="#16345b" stroke="#16345b"/>
<polygon points="183.1,298.7 185.6,297.3 182.5,297.8 179.9,299.3" fill="#164181" stroke="#164181"/>
<polygon points="194.6,294.3 197.1,292.6 193.9,293.4 191.4,295.1" fill="#167a9f" stroke="#167a9f"/>
<polygon points="89.8,295.0 93.0,295.9 90.4,294.4 87.2,293.4" fill="#164459" stroke="#164459"/>
<polygon points="112.8,302.7 115.8,303.0 113.1,302.0 110.1,301.6" fill="#162049" stroke="#162049"/>
<polygon points="118.4,303.9 121.4,304.1 118.7,303.2 115.8,303.0" fill="#161d48" stroke="#161d48"/>
<polygon points="140.9,306.3 143.7,305.9 140.9,305.5 138.1,305.9" fill="#161a49" stroke="#161a49"/>
<polygon points="163.4,304.3 166.0,303.4 163.1,303.5 160.4,304.4" fill="#161d57" stroke="#161d57"/>
<polygon points="169.0,303.2 171.7,302.1 168.7,302.4 166.0,303.4" fill="#16225d" stroke="#16225d"/>
<polygon points="192.0,295.9 194.6,294.3 191.4,295.1 188.8,296.7" fill="#166086" stroke="#166086"/>
<polygon points="83.9,292.4 87.2,293.4 84.6,291.8 81.3,290.7" fill="#165660" stroke="#165660"/>
<polygon points="95.6,297.3 98.7,298.1 96.1,296.7 93.0,295.9" fill="#163653" stroke="#163653"/>
<polygon points="101.3,299.4 104.4,300.0 101.8,298.7 98.7,298.1" fill="#162c4f" stroke="#162c4f"/>
<polygon points="107.1,301.1 110.1,301.6 107.5,300.5 104.4,300.0" fill="#16254b" stroke="#16254b"/>
<polygon points="124.1,304.9 127.0,305.0 124.3,304.2 121.4,304.1" fill="#161b47" stroke="#161b47"/>
<polygon points="129.7,305.6 132.5,305.5 129.8,304.9 127.0,305.0" fill="#161a47" stroke="#161a47"/>
<polygon points="135.3,306.1 138.1,305.9 135.4,305.3 132.5,305.5" fill="#161a48" stroke="#161a48"/>
<polygon points="146.5,306.2 149.3,305.7 146.4,305.4 143.7,305.9" fill="#161a4c" stroke="#161a4c"/>
<polygon points="152.1,305.8 154.8,305.2 152.0,305.1 149.3,305.7" fill="#161a4e" stroke="#161a4e"/>
<polygon points="157.7,305.2 160.4,304.4 157.5,304.4 154.8,305.2" fill="#161b52" stroke="#161b52"/>
<polygon points="174.7,301.8 177.4,300.6 174.3,300.9 171.7,302.1" fill="#162964" stroke="#162964"/>
<polygon points="180.5,300.1 183.1,298.7 179.9,299.3 177.4,300.6" fill="#16356d" stroke="#16356d"/>
<polygon points="186.2,298.1 188.8,296.7 185.6,297.3 183.1,298.7" fill="#164678" stroke="#164678"/>
<polygon points="197.9,293.4 200.5,291.7 197.1,292.6 194.6,294.3" fill="#168397" stroke="#168397"/>
<polygon points="86.5,293.9 89.8,295.0 87.2,293.4 83.9,292.4" fill="#164553" stroke="#164553"/>
<polygon points="98.2,298.6 101.3,299.4 98.7,298.1 95.6,297.3" fill="#162d48" stroke="#162d48"/>
<polygon points="104.0,300.5 107.1,301.1 104.4,300.0 101.3,299.4" fill="#162644" stroke="#162644"/>
<polygon points="109.7,302.2 112.8,302.7 110.1,301.6 107.1,301.1" fill="#162141" stroke="#162141"/>
<polygon points="115.5,303.6 118.4,303.9 115.8,303.0 112.8,302.7" fill="#161e40" stroke="#161e40"/>
<polygon points="121.1,304.7 124.1,304.9 121.4,304.1 118.4,303.9" fill="#161b3f" stroke="#161b3f"/>
<polygon points="126.8,305.6 129.7,305.6 127.0,305.0 124.1,304.9" fill="#161a3e" stroke="#161a3e"/>
<polygon points="132.5,306.2 135.3,306.1 132.5,305.5 129.7,305.6" fill="#161a3f" stroke="#161a3f"/>
<polygon points="138.1,306.5 140.9,306.3 138.1,305.9 135.3,306.1" fill="#161a40" stroke="#161a40"/>
<polygon points="143.7,306.6 146.5,306.2 143.7,305.9 140.9,306.3" fill="#161a41" stroke="#161a41"/>
<polygon points="149.4,306.3 152.1,305.8 149.3,305.7 146.5,306.2" fill="#161a43" stroke="#161a43"/>
<polygon points="155.0,305.9 157.7,305.2 154.8,305.2 152.1,305.8" fill="#161a46" stroke="#161a46"/>
<polygon points="160.7,305.1 163.4,304.3 160.4,304.4 157.7,305.2" fill="#161c4a" stroke="#161c4a"/>
<polygon points="166.4,304.1 169.0,303.2 166.0,303.4 163.4,304.3" fill="#161f4f" stroke="#161f4f"/>
<polygon points="172.1,302.8 174.7,301.8 171.7,302.1 169.0,303.2" fill="#162455" stroke="#162455"/>
<polygon points="177.8,301.3 180.5,300.1 177.4,300.6 174.7,301.8" fill="#162c5c" stroke="#162c5c"/>
<polygon points="183.6,299.5 186.2,298.1 183.1,298.7 180.5,300.1" fill="#163965" stroke="#163965"/>
<polygon points="195.4,295.0 197.9,293.4 194.6,294.3 192.0,295.9" fill="#16667f" stroke="#16667f"/>
<polygon points="92.4,296.4 95.6,297.3 93.0,295.9 89.8,295.0" fill="#16374c" stroke="#16374c"/>
<polygon points="189.5,297.4 192.0,295.9 188.8,296.7 186.2,298.1" fill="#164b71" stroke="#164b71"/>
<polygon points="95.0,297.7 98.2,298.6 95.6,297.3 92.4,296.4" fill="#162e41" stroke="#162e41"/>
<polygon points="100.8,299.8 104.0,300.5 101.3,299.4 98.2,298.6" fill="#16263e" stroke="#16263e"/>
<polygon points="106.6,301.6 109.7,302.2 107.1,301.1 104.0,300.5" fill="#16223b" stroke="#16223b"/>
<polygon points="112.4,303.1 115.5,303.6 112.8,302.7 109.7,302.2" fill="#161e39" stroke="#161e39"/>
<polygon points="118.2,304.4 121.1,304.7 118.4,303.9 115.5,303.6" fill="#161c37" stroke="#161c37"/>
<polygon points="123.9,305.4 126.8,305.6 124.1,304.9 121.1,304.7" fill="#161b37" stroke="#161b37"/>
<polygon points="135.3,306.6 138.1,306.5 135.3,306.1 132.5,306.2" fill="#161937" stroke="#161937"/>
<polygon points="140.9,306.8 143.7,306.6 140.9,306.3 138.1,306.5" fill="#161938" stroke="#161938"/>
<polygon points="146.6,306.7 149.4,306.3 146.5,306.2 143.7,306.6" fill="#161a3a" stroke="#161a3a"/>
<polygon points="158.0,305.8 160.7,305.1 157.7,305.2 155.0,305.9" fill="#161b3f" stroke="#161b3f"/>
<polygon points="163.7,304.9 166.4,304.1 163.4,304.3 160.7,305.1" fill="#161d42" stroke="#161d42"/>
<polygon points="169.4,303.8 172.1,302.8 169.0,303.2 166.4,304.1" fill="#162047" stroke="#162047"/>
<polygon points="175.2,302.4 177.8,301.3 174.7,301.8 172.1,302.8" fill="#16264d" stroke="#16264d"/>
<polygon points="181.0,300.7 183.6,299.5 180.5,300.1 177.8,301.3" fill="#162f55" stroke="#162f55"/>
<polygon points="186.9,298.7 189.5,297.4 186.2,298.1 183.6,299.5" fill="#163c5e" stroke="#163c5e"/>
<polygon points="89.1,295.4 92.4,296.4 89.8,295.0 86.5,293.9" fill="#163846" stroke="#163846"/>
<polygon points="129.6,306.1 132.5,306.2 129.7,305.6 126.8,305.6" fill="#161a37" stroke="#161a37"/>
<polygon points="152.3,306.4 155.0,305.9 152.1,305.8 149.4,306.3" fill="#161a3c" stroke="#161a3c"/>
<polygon points="192.8,296.5 195.4,295.0 192.0,295.9 189.5,297.4" fill="#16506a" stroke="#16506a"/>
<polygon points="91.7,296.7 95.0,297.7 92.4,296.4 89.1,295.4" fill="#162e3c" stroke="#162e3c"/>
<polygon points="97.6,298.9 100.8,299.8 98.2,298.6 95.0,297.7" fill="#162638" stroke="#162638"/>
<polygon points="103.5,300.9 106.6,301.6 104.0,300.5 100.8,299.8" fill="#162135" stroke="#162135"/>
<polygon points="109.3,302.5 112.4,303.1 109.7,302.2 106.6,301.6" fill="#161e33" stroke="#161e33"/>
<polygon points="115.1,304.0 118.2,304.4 115.5,303.6 112.4,303.1" fill="#161d33" stroke="#161d33"/>
<polygon points="120.9,305.1 123.9,305.4 121.1,304.7 118.2,304.4" fill="#161b33" stroke="#161b33"/>
<polygon points="126.6,306.0 129.6,306.1 126.8,305.6 123.9,305.4" fill="#161a33" stroke="#161a33"/>
<polygon points="132.4,306.6 135.3,306.6 132.5,306.2 129.6,306.1" fill="#161a34" stroke="#161a34"/>
<polygon points="138.1,306.9 140.9,306.8 138.1,306.5 135.3,306.6" fill="#161934" stroke="#161934"/>
<polygon points="143.8,307.0 146.6,306.7 143.7,306.6 140.9,306.8" fill="#161934" stroke="#161934"/>
<polygon points="149.5,306.8 152.3,306.4 149.4,306.3 146.6,306.7" fill="#161a34" stroke="#161a34"/>
<polygon points="155.2,306.3 158.0,305.8 155.0,305.9 152.3,306.4" fill="#161a35" stroke="#161a35"/>
<polygon points="161.0,305.6 163.7,304.9 160.7,305.1 158.0,305.8" fill="#161c38" stroke="#161c38"/>
<polygon points="166.7,304.6 169.4,303.8 166.4,304.1 163.7,304.9" fill="#161e3c" stroke="#161e3c"/>
<polygon points="172.5,303.3 175.2,302.4 172.1,302.8 169.4,303.8" fill="#162241" stroke="#162241"/>
<polygon points="178.4,301.8 181.0,300.7 177.8,301.3 175.2,302.4" fill="#162847" stroke="#162847"/>
<polygon points="184.2,300.0 186.9,298.7 183.6,299.5 181.0,300.7" fill="#16314e" stroke="#16314e"/>
<polygon points="190.2,297.9 192.8,296.5 189.5,297.4 186.9,298.7" fill="#163f58" stroke="#163f58"/>
<polygon points="100.3,300.0 103.5,300.9 100.8,299.8 97.6,298.9" fill="#162334" stroke="#162334"/>
<polygon points="181.6,301.1 184.2,300.0 181.0,300.7 178.4,301.8" fill="#162941" stroke="#162941"/>
<polygon points="94.3,297.9 97.6,298.9 95.0,297.7 91.7,296.7" fill="#162634" stroke="#162634"/>
<polygon points="106.2,301.8 109.3,302.5 106.6,301.6 103.5,300.9" fill="#162134" stroke="#162134"/>
<polygon points="112.0,303.4 115.1,304.0 112.4,303.1 109.3,302.5" fill="#161e33" stroke="#161e33"/>
<polygon points="117.9,304.7 120.9,305.1 118.2,304.4 115.1,304.0" fill="#161d33" stroke="#161d33"/>
<polygon points="123.7,305.7 126.6,306.0 123.9,305.4 120.9,305.1" fill="#161c33" stroke="#161c33"/>
<polygon points="129.4,306.4 132.4,306.6 129.6,306.1 126.6,306.0" fill="#161b34" stroke="#161b34"/>
<polygon points="135.2,306.9 138.1,306.9 135.3,306.6 132.4,306.6" fill="#161a34" stroke="#161a34"/>
<polygon points="141.0,307.1 143.8,307.0 140.9,306.8 138.1,306.9" fill="#161a34" stroke="#161a34"/>
<polygon points="146.7,307.1 149.5,306.8 146.6,306.7 143.8,307.0" fill="#161a34" stroke="#161a34"/>
<polygon points="152.5,306.7 155.2,306.3 152.3,306.4 149.5,306.8" fill="#161b35" stroke="#161b35"/>
<polygon points="158.2,306.1 161.0,305.6 158.0,305.8 155.2,306.3" fill="#161b35" stroke="#161b35"/>
<polygon points="164.0,305.3 166.7,304.6 163.7,304.9 161.0,305.6" fill="#161c36" stroke="#161c36"/>
<polygon points="169.9,304.1 172.5,303.3 169.4,303.8 166.7,304.6" fill="#161e36" stroke="#161e36"/>
<polygon points="175.7,302.8 178.4,301.8 175.2,302.4 172.5,303.3" fill="#16223b" stroke="#16223b"/>
<polygon points="187.5,299.1 190.2,297.9 186.9,298.7 184.2,300.0" fill="#163348" stroke="#163348"/>
<polygon points="97.0,299.0 100.3,300.0 97.6,298.9 94.3,297.9" fill="#162634" stroke="#162634"/>
<polygon points="103.0,301.0 106.2,301.8 103.5,300.9 100.3,300.0" fill="#162334" stroke="#162334"/>
<polygon points="126.5,306.2 129.4,306.4 126.6,306.0 123.7,305.7" fill="#161c34" stroke="#161c34"/>
<polygon points="155.5,306.6 158.2,306.1 155.2,306.3 152.5,306.7" fill="#161c35" stroke="#161c35"/>
<polygon points="178.9,302.1 181.6,301.1 178.4,301.8 175.7,302.8" fill="#162337" stroke="#162337"/>
<polygon points="184.9,300.3 187.5,299.1 184.2,300.0 181.6,301.1" fill="#16293b" stroke="#16293b"/>
<polygon points="108.9,302.7 112.0,303.4 109.3,302.5 106.2,301.8" fill="#162034" stroke="#162034"/>
<polygon points="114.8,304.1 117.9,304.7 115.1,304.0 112.0,303.4" fill="#161f34" stroke="#161f34"/>
<polygon points="120.6,305.3 123.7,305.7 120.9,305.1 117.9,304.7" fill="#161d34" stroke="#161d34"/>
<polygon points="132.3,306.8 135.2,306.9 132.4,306.6 129.4,306.4" fill="#161b34" stroke="#161b34"/>
<polygon points="138.1,307.1 141.0,307.1 138.1,306.9 135.2,306.9" fill="#161b34" stroke="#161b34"/>
<polygon points="143.9,307.2 146.7,307.1 143.8,307.0 141.0,307.1" fill="#161b34" stroke="#161b34"/>
<polygon points="149.7,307.0 152.5,306.7 149.5,306.8 146.7,307.1" fill="#161b35" stroke="#161b35"/>
<polygon points="161.3,305.9 164.0,305.3 161.0,305.6 158.2,306.1" fill="#161d35" stroke="#161d35"/>
<polygon points="167.1,304.9 169.9,304.1 166.7,304.6 164.0,305.3" fill="#161e36" stroke="#161e36"/>
<polygon points="173.0,303.6 175.7,302.8 172.5,303.3 169.9,304.1" fill="#162037" stroke="#162037"/>
<polygon points="99.7,300.0 103.0,301.0 100.3,300.0 97.0,299.0" fill="#162634" stroke="#162634"/>
<polygon points="105.7,301.9 108.9,302.7 106.2,301.8 103.0,301.0" fill="#162334" stroke="#162334"/>
<polygon points="123.4,305.8 126.5,306.2 123.7,305.7 120.6,305.3" fill="#161e34" stroke="#161e34"/>
<polygon points="129.3,306.5 132.3,306.8 129.4,306.4 126.5,306.2" fill="#161d34" stroke="#161d34"/>
<polygon points="152.7,306.9 155.5,306.6 152.5,306.7 149.7,307.0" fill="#161c35" stroke="#161c35"/>
<polygon points="158.5,306.3 161.3,305.9 158.2,306.1 155.5,306.6" fill="#161d35" stroke="#161d35"/>
<polygon points="176.2,302.9 178.9,302.1 175.7,302.8 173.0,303.6" fill="#162337" stroke="#162337"/>
<polygon points="182.2,301.3 184.9,300.3 181.6,301.1 178.9,302.1" fill="#162638" stroke="#162638"/>
<polygon points="111.6,303.4 114.8,304.1 112.0,303.4 108.9,302.7" fill="#162134" stroke="#162134"/>
<polygon points="117.6,304.7 120.6,305.3 117.9,304.7 114.8,304.1" fill="#161f34" stroke="#161f34"/>
<polygon points="135.1,307.0 138.1,307.1 135.2,306.9 132.3,306.8" fill="#161c34" stroke="#161c34"/>
<polygon points="141.0,307.2 143.9,307.2 141.0,307.1 138.1,307.1" fill="#161c34" stroke="#161c34"/>
<polygon points="146.8,307.2 149.7,307.0 146.7,307.1 143.9,307.2" fill="#161c35" stroke="#161c35"/>
<polygon points="164.4,305.4 167.1,304.9 164.0,305.3 161.3,305.9" fill="#161f36" stroke="#161f36"/>
<polygon points="170.3,304.3 173.0,303.6 169.9,304.1 167.1,304.9" fill="#162137" stroke="#162137"/>
<polygon points="102.4,300.9 105.7,301.9 103.0,301.0 99.7,300.0" fill="#162634" stroke="#162634"/>
<polygon points="108.4,302.6 111.6,303.4 108.9,302.7 105.7,301.9" fill="#162334" stroke="#162334"/>
<polygon points="120.4,305.2 123.4,305.8 120.6,305.3 117.6,304.7" fill="#161f34" stroke="#161f34"/>
<polygon points="126.3,306.1 129.3,306.5 126.5,306.2 123.4,305.8" fill="#161e34" stroke="#161e34"/>
<polygon points="132.2,306.8 135.1,307.0 132.3,306.8 129.3,306.5" fill="#161d34" stroke="#161d34"/>
<polygon points="149.8,307.1 152.7,306.9 149.7,307.0 146.8,307.2" fill="#161d35" stroke="#161d35"/>
<polygon points="155.7,306.6 158.5,306.3 155.5,306.6 152.7,306.9" fill="#161e35" stroke="#161e35"/>
<polygon points="161.6,305.9 164.4,305.4 161.3,305.9 158.5,306.3" fill="#161f36" stroke="#161f36"/>
<polygon points="173.5,303.7 176.2,302.9 173.0,303.6 170.3,304.3" fill="#162337" stroke="#162337"/>
<polygon points="179.5,302.2 182.2,301.3 178.9,302.1 176.2,302.9" fill="#162638" stroke="#162638"/>
<polygon points="114.4,304.1 117.6,304.7 114.8,304.1 111.6,303.4" fill="#162134" stroke="#162134"/>
<polygon points="138.1,307.1 141.0,307.2 138.1,307.1 135.1,307.0" fill="#161d34" stroke="#161d34"/>
<polygon points="143.9,307.2 146.8,307.2 143.9,307.2 141.0,307.2" fill="#161d35" stroke="#161d35"/>
<polygon points="167.6,304.9 170.3,304.3 167.1,304.9 164.4,305.4" fill="#162136" stroke="#162136"/>
<polygon points="117.2,304.6 120.4,305.2 117.6,304.7 114.4,304.1" fill="#061519" stroke="#061519"/>
<polygon points="164.8,305.4 167.6,304.9 164.4,305.4 161.6,305.9" fill="#162136" stroke="#162136"/>
<polygon points="105.1,301.7 108.4,302.6 105.7,301.9 102.4,300.9" fill="#061919" stroke="#061919"/>
<polygon points="111.2,303.3 114.4,304.1 111.6,303.4 108.4,302.6" fill="#061719" stroke="#061719"/>
<polygon points="123.2,305.6 126.3,306.1 123.4,305.8 120.4,305.2" fill="#061419" stroke="#061419"/>
<polygon points="129.1,306.4 132.2,306.8 129.3,306.5 126.3,306.1" fill="#061319" stroke="#061319"/>
<polygon points="135.1,306.9 138.1,307.1 135.1,307.0 132.2,306.8" fill="#061319" stroke="#061319"/>
<polygon points="141.0,307.2 143.9,307.2 141.0,307.2 138.1,307.1" fill="#061319" stroke="#061319"/>
<polygon points="146.9,307.1 149.8,307.1 146.8,307.2 143.9,307.2" fill="#061319" stroke="#061319"/>
<polygon points="152.9,306.8 155.7,306.6 152.7,306.9 149.8,307.1" fill="#061319" stroke="#061319"/>
<polygon points="158.8,306.2 161.6,305.9 158.5,306.3 155.7,306.6" fill="#061419" stroke="#061419"/>
<polygon points="170.8,304.3 173.5,303.7 170.3,304.3 167.6,304.9" fill="#162337" stroke="#162337"/>
<polygon points="176.8,302.9 179.5,302.2 176.2,302.9 173.5,303.7" fill="#162638" stroke="#162638"/>
<polygon points="114.0,303.8 117.2,304.6 114.4,304.1 111.2,303.3" fill="#061719" stroke="#061719"/>
<polygon points="120.1,305.0 123.2,305.6 120.4,305.2 117.2,304.6" fill="#061619" stroke="#061619"/>
<polygon points="138.0,306.9 141.0,307.2 138.1,307.1 135.1,306.9" fill="#061419" stroke="#061419"/>
<polygon points="144.0,307.0 146.9,307.1 143.9,307.2 141.0,307.2" fill="#061419" stroke="#061419"/>
<polygon points="162.0,305.8 164.8,305.4 161.6,305.9 158.8,306.2" fill="#061519" stroke="#061519"/>
<polygon points="168.0,304.8 170.8,304.3 167.6,304.9 164.8,305.4" fill="#061619" stroke="#061619"/>
<polygon points="107.9,302.4 111.2,303.3 108.4,302.6 105.1,301.7" fill="#061919" stroke="#061919"/>
<polygon points="126.1,305.9 129.1,306.4 126.3,306.1 123.2,305.6" fill="#061519" stroke="#061519"/>
<polygon points="132.1,306.6 135.1,306.9 132.2,306.8 129.1,306.4" fill="#061419" stroke="#061419"/>
<polygon points="150.0,306.9 152.9,306.8 149.8,307.1 146.9,307.1" fill="#061419" stroke="#061419"/>
<polygon points="156.0,306.5 158.8,306.2 155.7,306.6 152.9,306.8" fill="#061419" stroke="#061419"/>
<polygon points="174.1,303.5 176.8,302.9 173.5,303.7 170.8,304.3" fill="#061719" stroke="#061719"/>
<polygon points="110.7,302.9 114.0,303.8 111.2,303.3 107.9,302.4" fill="#061c1c" stroke="#061c1c"/>
<polygon points="116.8,304.2 120.1,305.0 117.2,304.6 114.0,303.8" fill="#061a1c" stroke="#061a1c"/>
<polygon points="122.9,305.3 126.1,305.9 123.2,305.6 120.1,305.0" fill="#06181b" stroke="#06181b"/>
<polygon points="135.0,306.6 138.0,306.9 135.1,306.9 132.1,306.6" fill="#06151a" stroke="#06151a"/>
<polygon points="141.0,306.9 144.0,307.0 141.0,307.2 138.0,306.9" fill="#061519" stroke="#061519"/>
<polygon points="147.1,306.8 150.0,306.9 146.9,307.1 144.0,307.0" fill="#061519" stroke="#061519"/>
<polygon points="159.1,306.0 162.0,305.8 158.8,306.2 156.0,306.5" fill="#061619" stroke="#061619"/>
<polygon points="165.2,305.1 168.0,304.8 164.8,305.4 162.0,305.8" fill="#061719" stroke="#061719"/>
<polygon points="171.3,304.0 174.1,303.5 170.8,304.3 168.0,304.8" fill="#061819" stroke="#061819"/>
<polygon points="129.0,306.1 132.1,306.6 129.1,306.4 126.1,305.9" fill="#06161a" stroke="#06161a"/>
<polygon points="153.1,306.5 156.0,306.5 152.9,306.8 150.0,306.9" fill="#061519" stroke="#061519"/>
<polygon points="113.6,303.4 116.8,304.2 114.0,303.8 110.7,302.9" fill="#062222" stroke="#062222"/>
<polygon points="119.7,304.6 122.9,305.3 120.1,305.0 116.8,304.2" fill="#061f22" stroke="#061f22"/>
<polygon points="125.8,305.5 129.0,306.1 126.1,305.9 122.9,305.3" fill="#061d21" stroke="#061d21"/>
<polygon points="131.9,306.1 135.0,306.6 132.1,306.6 129.0,306.1" fill="#061c21" stroke="#061c21"/>
<polygon points="138.0,306.5 141.0,306.9 138.0,306.9 135.0,306.6" fill="#061a20" stroke="#061a20"/>
<polygon points="144.1,306.7 147.1,306.8 144.0,307.0 141.0,306.9" fill="#061a1f" stroke="#061a1f"/>
<polygon points="150.2,306.5 153.1,306.5 150.0,306.9 147.1,306.8" fill="#061a1f" stroke="#061a1f"/>
<polygon points="156.3,306.1 159.1,306.0 156.0,306.5 153.1,306.5" fill="#061a1e" stroke="#061a1e"/>
<polygon points="162.4,305.4 165.2,305.1 162.0,305.8 159.1,306.0" fill="#061b1d" stroke="#061b1d"/>
<polygon points="168.5,304.4 171.3,304.0 168.0,304.8 165.2,305.1" fill="#061b1d" stroke="#061b1d"/>
<polygon points="116.5,303.7 119.7,304.6 116.8,304.2 113.6,303.4" fill="#062928" stroke="#062928"/>
<polygon points="128.8,305.6 131.9,306.1 129.0,306.1 125.8,305.5" fill="#062327" stroke="#062327"/>
<polygon points="134.9,306.1 138.0,306.5 135.0,306.6 131.9,306.1" fill="#062227" stroke="#062227"/>
<polygon points="141.1,306.4 144.1,306.7 141.0,306.9 138.0,306.5" fill="#062126" stroke="#062126"/>
<polygon points="147.2,306.3 150.2,306.5 147.1,306.8 144.1,306.7" fill="#062025" stroke="#062025"/>
<polygon points="153.3,306.1 156.3,306.1 153.1,306.5 150.2,306.5" fill="#062025" stroke="#062025"/>
<polygon points="165.7,304.7 168.5,304.4 165.2,305.1 162.4,305.4" fill="#062223" stroke="#062223"/>
<polygon points="122.6,304.8 125.8,305.5 122.9,305.3 119.7,304.6" fill="#062628" stroke="#062628"/>
<polygon points="159.5,305.5 162.4,305.4 159.1,306.0 156.3,306.1" fill="#062124" stroke="#062124"/>
<polygon points="131.8,305.5 134.9,306.1 131.9,306.1 128.8,305.6" fill="#062b2d" stroke="#062b2d"/>
<polygon points="150.4,305.9 153.3,306.1 150.2,306.5 147.2,306.3" fill="#06282b" stroke="#06282b"/>
<polygon points="119.4,303.9 122.6,304.8 119.7,304.6 116.5,303.7" fill="#06302e" stroke="#06302e"/>
<polygon points="125.6,304.9 128.8,305.6 125.8,305.5 122.6,304.8" fill="#062d2e" stroke="#062d2e"/>
<polygon points="138.0,305.9 141.1,306.4 138.0,306.5 134.9,306.1" fill="#06292d" stroke="#06292d"/>
<polygon points="144.2,306.1 147.2,306.3 144.1,306.7 141.1,306.4" fill="#06282c" stroke="#06282c"/>
<polygon points="156.6,305.5 159.5,305.5 156.3,306.1 153.3,306.1" fill="#06282b" stroke="#06282b"/>
<polygon points="162.8,304.8 165.7,304.7 162.4,305.4 159.5,305.5" fill="#062a2a" stroke="#062a2a"/>
<polygon points="122.3,304.0 125.6,304.9 122.6,304.8 119.4,303.9" fill="#063632" stroke="#063632"/>
<polygon points="128.6,304.8 131.8,305.5 128.8,305.6 125.6,304.9" fill="#063533" stroke="#063533"/>
<polygon points="134.9,305.4 138.0,305.9 134.9,306.1 131.8,305.5" fill="#063333" stroke="#063333"/>
<polygon points="147.3,305.7 150.4,305.9 147.2,306.3 144.2,306.1" fill="#063132" stroke="#063132"/>
<polygon points="153.6,305.4 156.6,305.5 153.3,306.1 150.4,305.9" fill="#063131" stroke="#063131"/>
<polygon points="159.9,304.8 162.8,304.8 159.5,305.5 156.6,305.5" fill="#063230" stroke="#063230"/>
<polygon points="141.1,305.6 144.2,306.1 141.1,306.4 138.0,305.9" fill="#063233" stroke="#063233"/>
<polygon points="125.3,304.0 128.6,304.8 125.6,304.9 122.3,304.0" fill="#063c36" stroke="#063c36"/>
<polygon points="156.9,304.7 159.9,304.8 156.6,305.5 153.6,305.4" fill="#063935" stroke="#063935"/>
<polygon points="131.7,304.7 134.9,305.4 131.8,305.5 128.6,304.8" fill="#063b37" stroke="#063b37"/>
<polygon points="138.0,305.1 141.1,305.6 138.0,305.9 134.9,305.4" fill="#063a37" stroke="#063a37"/>
<polygon points="144.3,305.3 147.3,305.7 144.2,306.1 141.1,305.6" fill="#063a37" stroke="#063a37"/>
<polygon points="150.6,305.1 153.6,305.4 150.4,305.9 147.3,305.7" fill="#063936" stroke="#063936"/>
<polygon points="128.4,303.9 131.7,304.7 128.6,304.8 125.3,304.0" fill="#064238" stroke="#064238"/>
<polygon points="141.1,304.8 144.3,305.3 141.1,305.6 138.0,305.1" fill="#064039" stroke="#064039"/>
<polygon points="153.9,304.5 156.9,304.7 153.6,305.4 150.6,305.1" fill="#063f38" stroke="#063f38"/>
<polygon points="134.8,304.5 138.0,305.1 134.9,305.4 131.7,304.7" fill="#064139" stroke="#064139"/>
<polygon points="147.5,304.8 150.6,305.1 147.3,305.7 144.3,305.3" fill="#064039" stroke="#064039"/>
<polygon points="131.5,303.7 134.8,304.5 131.7,304.7 128.4,303.9" fill="#064735" stroke="#064735"/>
<polygon points="137.9,304.1 141.1,304.8 138.0,305.1 134.8,304.5" fill="#064738" stroke="#064738"/>
<polygon points="144.4,304.3 147.5,304.8 144.3,305.3 141.1,304.8" fill="#064639" stroke="#064639"/>
<polygon points="150.8,304.2 153.9,304.5 150.6,305.1 147.5,304.8" fill="#064637" stroke="#064637"/>
<polygon points="134.7,303.4 137.9,304.1 134.8,304.5 131.5,303.7" fill="#064d2e" stroke="#064d2e"/>
<polygon points="147.7,303.7 150.8,304.2 147.5,304.8 144.4,304.3" fill="#064c30" stroke="#064c30"/>
<polygon points="141.2,303.7 144.4,304.3 141.1,304.8 137.9,304.1" fill="#064c30" stroke="#064c30"/>
<polygon points="137.9,302.9 141.2,303.7 137.9,304.1 134.7,303.4" fill="#065225" stroke="#065225"/>
<polygon points="144.5,303.1 147.7,303.7 144.4,304.3 141.2,303.7" fill="#065226" stroke="#065226"/>
<polygon points="141.2,302.4 144.5,303.1 141.2,303.7 137.9,302.9" fill="#06571c" stroke="#06571c"/>
</g>
<defs><linearGradient id="egb" gradientUnits="userSpaceOnUse" x1="46" y1="0" x2="236" y2="0"><stop offset="0" stop-color="#0a1a22" stop-opacity="0.9"/><stop offset="0.55" stop-color="#06100c" stop-opacity="0.92"/><stop offset="0.8" stop-color="#0a2008" stop-opacity="0.7"/><stop offset="1" stop-color="#202808" stop-opacity="0.15"/></linearGradient></defs>
<polyline points="46,253.8 47,255.5 48,256.8 49,258.2 50,259.5 51,260.8 52,262.1 53,263.4 54,264.9 55,266.1 56,267.4 57,268.5 58,269.7 59,270.9 60,272.0 61,273.1 62,274.2 63,275.1 64,276.2 65,277.2 66,278.3 67,279.3 68,280.0 69,281.0 70,282.0 71,282.9 72,283.8 73,284.5 74,285.4 75,286.1 76,286.9 77,287.6 78,288.4 79,289.2 80,290.0 81,290.7 82,291.3 83,292.0 84,292.5 85,293.2 86,293.7 87,294.4 88,294.9 89,295.5 90,295.9 91,296.5 92,296.9 93,297.5 94,297.9 95,298.3 96,298.7 97,299.0 98,299.5 99,299.8 100,300.2 101,300.5 102,300.9 103,301.2 104,301.5 105,301.8 106,302.1 107,302.4 108,302.6 109,302.9 110,303.1 111,303.4 112,303.6 113,303.8 114,304.1 115,304.3 116,304.5 117,304.7 118,304.9 119,305.1 120,305.2 121,305.4 122,305.6 123,305.7 124,305.9 125,306.0 126,306.2 127,306.3 128,306.4 129,306.5 130,306.6 131,306.7 132,306.8 133,306.9 134,307.0 135,307.0 136,307.1 137,307.1 138,307.2 139,307.2 140,307.2 141,307.2 142,307.3 143,307.3 144,307.3 145,307.2 146,307.2 147,307.2 148,307.2 149,307.1 150,307.1 151,307.0 152,306.9 153,306.9 154,306.8 155,306.7 156,306.6 157,306.5 158,306.4 159,306.3 160,306.2 161,306.0 162,305.9 163,305.7 164,305.6 165,305.4 166,305.3 167,305.1 168,304.9 169,304.7 170,304.5 171,304.3 172,304.1 173,303.9 174,303.7 175,303.4 176,303.2 177,302.9 178,302.6 179,302.3 180,302.1 181,301.8 182,301.5 183,301.1 184,300.7 185,300.3 186,299.9 187,299.4 188,299.0 189,298.5 190,298.0 191,297.5 192,297.0 193,296.4 194,295.9 195,295.3 196,294.7 197,294.0 198,293.5 199,292.7 200,292.1 201,291.4 202,290.7 203,289.9 204,289.3 205,288.4 206,287.6 207,286.7 208,285.8 209,285.0 210,284.1 211,283.3 212,282.3 213,281.3 214,280.2 215,279.2 216,278.3 217,277.2 218,276.1 219,275.0 220,273.8 221,272.6 222,271.4 223,270.2 224,269.2 225,268.0 226,266.7 227,265.4 228,264.1 229,262.7 230,261.1 231,259.7 232,258.3 233,256.9 234,255.1 235,253.7 236,252.5" fill="none" stroke="url(#egb)" stroke-width="1.1" stroke-linejoin="round" transform="translate(0 -0.33)"/>
<circle cx="45" cy="252.6" r="1.5" fill="#e81010"/>
<circle cx="140.6" cy="292" r="1.5" fill="#e81010"/>
<circle cx="140.4" cy="224" r="1.4" fill="#ffd0c8" stroke="#e06060" stroke-width="0.4"/>
<circle cx="236.5" cy="254" r="1.4" fill="#ffd0c8" stroke="#e06060" stroke-width="0.4"/>
<circle cx="249.2" cy="344.6" r="1.2" fill="#e00000"/>
<text x="253.1" y="346.1" font-family="Liberation Sans, sans-serif" font-size="4.05" fill="#f01010" stroke="#f01010" stroke-width="0.12">Design Points</text>
<defs><linearGradient id="lg249" x1="0" y1="0" x2="0" y2="1"><stop offset="0" stop-color="#201010"/><stop offset="0.08" stop-color="#e00000"/><stop offset="0.2" stop-color="#e02000"/><stop offset="0.35" stop-color="#80c000"/><stop offset="0.5" stop-color="#00e000"/><stop offset="0.7" stop-color="#00c060"/><stop offset="0.85" stop-color="#0040e0"/><stop offset="1" stop-color="#0000c0"/></linearGradient></defs>
<rect x="247.9" y="347.6" width="3.8" height="15.6" fill="url(#lg249)"/>
<text x="253.5" y="351.2" font-family="Liberation Sans, sans-serif" font-size="4.05" fill="#f01010" stroke="#f01010" stroke-width="0.12">1.5</text>
<text x="253.5" y="361.3" font-family="Liberation Sans, sans-serif" font-size="4.05" fill="#2828f0" stroke="#2828f0" stroke-width="0.12">0.5</text>
<defs><radialGradient id="gB" gradientUnits="userSpaceOnUse" cx="0" cy="0" r="1" gradientTransform="matrix(-168.1205 8.4204 5.1058 101.9429 407.5664 292.4070)">
<stop offset="0.0000" stop-color="#0004ff"/>
<stop offset="0.0139" stop-color="#0004ff"/>
<stop offset="0.0278" stop-color="#0004ff"/>
<stop offset="0.0417" stop-color="#0004ff"/>
<stop offset="0.0556" stop-color="#0005ff"/>
<stop offset="0.0694" stop-color="#0005ff"/>
<stop offset="0.0833" stop-color="#0006ff"/>
<stop offset="0.0972" stop-color="#0007ff"/>
<stop offset="0.1111" stop-color="#0008ff"/>
<stop offset="0.1250" stop-color="#0009ff"/>
<stop offset="0.1389" stop-color="#000aff"/>
<stop offset="0.1528" stop-color="#000bff"/>
<stop offset="0.1667" stop-color="#000dff"/>
<stop offset="0.1806" stop-color="#000eff"/>
<stop offset="0.1944" stop-color="#0010ff"/>
<stop offset="0.2083" stop-color="#0012ff"/>
<stop offset="0.2222" stop-color="#0014ff"/>
<stop offset="0.2361" stop-color="#001aff"/>
<stop offset="0.2500" stop-color="#0020ff"/>
<stop offset="0.2639" stop-color="#0027ff"/>
<stop offset="0.2778" stop-color="#002fff"/>
<stop offset="0.2917" stop-color="#0037ff"/>
<stop offset="0.3056" stop-color="#003fff"/>
<stop offset="0.3194" stop-color="#004aff"/>
<stop offset="0.3333" stop-color="#0055ff"/>
<stop offset="0.3472" stop-color="#0061ff"/>
<stop offset="0.3611" stop-color="#006dff"/>
<stop offset="0.3750" stop-color="#0079ff"/>
<stop offset="0.3889" stop-color="#0086ff"/>
<stop offset="0.4028" stop-color="#0094ff"/>
<stop offset="0.4167" stop-color="#00a3ff"/>
<stop offset="0.4306" stop-color="#00b2ff"/>
<stop offset="0.4444" stop-color="#00c2ff"/>
<stop offset="0.4583" stop-color="#00d2ff"/>
<stop offset="0.4722" stop-color="#00e2ff"/>
<stop offset="0.4861" stop-color="#00f3ff"/>
<stop offset="0.5000" stop-color="#00fbf9"/>
<stop offset="0.5139" stop-color="#00fcee"/>
<stop offset="0.5278" stop-color="#00fee2"/>
<stop offset="0.5417" stop-color="#00ffd6"/>
<stop offset="0.5556" stop-color="#00ffb6"/>
<stop offset="0.5694" stop-color="#00ff96"/>
<stop offset="0.5833" stop-color="#00ff75"/>
<stop offset="0.5972" stop-color="#00ff59"/>
<stop offset="0.6111" stop-color="#00ff3f"/>
<stop offset="0.6250" stop-color="#00ff24"/>
<stop offset="0.6389" stop-color="#00ff16"/>
<stop offset="0.6528" stop-color="#00ff0b"/>
<stop offset="0.6667" stop-color="#00ff00"/>
<stop offset="0.6806" stop-color="#02ff00"/>
<stop offset="0.6944" stop-color="#04ff00"/>
<stop offset="0.7083" stop-color="#06ff00"/>
<stop offset="0.7222" stop-color="#08ff00"/>
<stop offset="0.7361" stop-color="#0aff00"/>
<stop offset="0.7500" stop-color="#0cff00"/>
<stop offset="0.7639" stop-color="#0eff00"/>
<stop offset="0.7778" stop-color="#11ff00"/>
<stop offset="0.7917" stop-color="#13ff00"/>
<stop offset="0.8056" stop-color="#2bff00"/>
<stop offset="0.8194" stop-color="#58ff00"/>
<stop offset="0.8333" stop-color="#9aff00"/>
<stop offset="0.8472" stop-color="#e0fb00"/>
<stop offset="0.8611" stop-color="#ffee00"/>
<stop offset="0.8750" stop-color="#ffdb00"/>
<stop offset="0.8889" stop-color="#ffc700"/>
<stop offset="0.9028" stop-color="#ffae00"/>
<stop offset="0.9167" stop-color="#ff9500"/>
<stop offset="0.9306" stop-color="#ff7c00"/>
<stop offset="0.9444" stop-color="#ff6200"/>
<stop offset="0.9583" stop-color="#ff4800"/>
<stop offset="0.9722" stop-color="#fd3000"/>
<stop offset="0.9861" stop-color="#f81b00"/>
<stop offset="1.0000" stop-color="#f40a00"/>
</radialGradient><clipPath id="cB"><rect x="327.7" y="220.6" width="203.3" height="117.9"/></clipPath></defs>
<rect x="327.7" y="220.6" width="203.3" height="117.9" fill="url(#gB)"/>
<g clip-path="url(#cB)" fill="none" stroke="#101828" stroke-opacity="0.62" stroke-width="0.4">
<polygon points="385.9,320.9 384.1,320.4 382.4,319.9 380.7,319.3 379.0,318.7 377.4,318.0 375.8,317.4 374.3,316.6 372.9,315.9 371.4,315.1 370.1,314.2 368.8,313.4 367.5,312.5 366.3,311.5 365.2,310.6 364.2,309.6 363.2,308.6 362.3,307.5 361.4,306.5 360.6,305.4 359.9,304.3 359.3,303.1 358.7,302.0 358.3,300.8 357.8,299.7 357.5,298.5 357.3,297.3 357.1,296.1 357.0,294.9 357.0,293.7 357.0,292.5 357.2,291.3 357.4,290.1 357.7,288.9 358.0,287.7 358.5,286.5 359.0,285.3 359.6,284.1 360.3,283.0 361.0,281.8 361.8,280.7 362.7,279.6 363.7,278.5 364.7,277.4 365.8,276.4 366.9,275.4 368.1,274.4 369.4,273.4 370.8,272.5 372.1,271.6 373.6,270.7 375.1,269.9 376.6,269.1 378.2,268.3 379.9,267.6 381.6,266.9 383.3,266.2 385.0,265.6 386.8,265.0 388.7,264.5 390.5,264.0 392.4,263.6 394.3,263.2 396.2,262.8 398.2,262.5 400.1,262.2 402.1,262.0 404.1,261.9 406.1,261.7 408.1,261.7 410.1,261.6 412.0,261.7 414.0,261.7 416.0,261.8 417.9,262.0 419.9,262.2 421.8,262.5 423.7,262.8 425.5,263.1 427.4,263.5 429.2,263.9 431.0,264.4 432.7,264.9 434.4,265.5 436.1,266.1 437.7,266.8 439.3,267.5 440.8,268.2 442.3,269.0 443.7,269.8 445.1,270.6 446.4,271.5 447.6,272.4 448.8,273.3 449.9,274.2 451.0,275.2 452.0,276.3 452.9,277.3 453.7,278.4 454.5,279.4 455.2,280.6 455.8,281.7 456.4,282.8 456.9,284.0 457.3,285.1 457.6,286.3 457.9,287.5 458.0,288.7 458.1,289.9 458.2,291.1 458.1,292.3 458.0,293.5 457.8,294.7 457.5,295.9 457.1,297.1 456.6,298.3 456.1,299.5 455.5,300.7 454.9,301.8 454.1,303.0 453.3,304.1 452.4,305.2 451.5,306.3 450.4,307.4 449.4,308.4 448.2,309.4 447.0,310.4 445.7,311.4 444.4,312.3 443.0,313.2 441.5,314.1 440.0,314.9 438.5,315.7 436.9,316.5 435.3,317.2 433.6,317.9 431.9,318.6 430.1,319.2 428.3,319.8 426.5,320.3 424.6,320.8 422.7,321.2 420.8,321.6 418.9,322.0 416.9,322.3 415.0,322.6 413.0,322.8 411.0,323.0 409.1,323.1 407.1,323.2 405.1,323.2 403.1,323.2 401.1,323.1 399.2,323.0 397.2,322.8 395.3,322.6 393.3,322.3 391.5,322.0 389.6,321.7 387.7,321.3"/>
<polygon points="368.6,343.6 365.4,342.8 362.3,341.8 359.2,340.8 356.2,339.7 353.3,338.5 350.5,337.3 347.8,336.0 345.1,334.6 342.6,333.2 340.1,331.7 337.8,330.1 335.5,328.5 333.4,326.8 331.4,325.1 329.5,323.3 327.7,321.5 326.0,319.6 324.5,317.7 323.1,315.7 321.8,313.7 320.7,311.7 319.7,309.7 318.8,307.6 318.1,305.5 317.5,303.4 317.1,301.2 316.7,299.1 316.6,296.9 316.5,294.7 316.6,292.6 316.9,290.4 317.3,288.2 317.8,286.1 318.5,283.9 319.3,281.8 320.2,279.6 321.3,277.5 322.5,275.4 323.8,273.4 325.3,271.4 326.9,269.4 328.6,267.4 330.4,265.5 332.4,263.6 334.5,261.8 336.6,260.0 338.9,258.3 341.3,256.6 343.8,254.9 346.4,253.4 349.1,251.9 351.9,250.4 354.8,249.0 357.7,247.7 360.8,246.5 363.9,245.3 367.0,244.2 370.3,243.1 373.6,242.2 376.9,241.3 380.3,240.5 383.7,239.8 387.2,239.2 390.7,238.6 394.2,238.1 397.8,237.8 401.3,237.4 404.9,237.2 408.5,237.1 412.0,237.0 415.6,237.1 419.2,237.2 422.7,237.4 426.2,237.7 429.7,238.1 433.1,238.5 436.6,239.1 439.9,239.7 443.2,240.4 446.5,241.2 449.7,242.1 452.8,243.0 455.9,244.0 458.9,245.1 461.8,246.3 464.6,247.5 467.4,248.8 470.0,250.2 472.6,251.6 475.0,253.1 477.4,254.7 479.6,256.3 481.7,258.0 483.8,259.7 485.7,261.5 487.4,263.3 489.1,265.2 490.6,267.1 492.0,269.1 493.3,271.1 494.4,273.1 495.4,275.1 496.3,277.2 497.0,279.3 497.6,281.5 498.1,283.6 498.4,285.7 498.6,287.9 498.6,290.1 498.5,292.2 498.2,294.4 497.9,296.6 497.3,298.8 496.7,300.9 495.9,303.1 494.9,305.2 493.9,307.3 492.7,309.4 491.3,311.4 489.9,313.4 488.3,315.4 486.5,317.4 484.7,319.3 482.8,321.2 480.7,323.0 478.5,324.8 476.2,326.6 473.8,328.2 471.3,329.9 468.7,331.4 466.0,333.0 463.2,334.4 460.3,335.8 457.4,337.1 454.4,338.4 451.3,339.5 448.1,340.6 444.9,341.7 441.6,342.6 438.2,343.5 434.8,344.3 431.4,345.0 427.9,345.6 424.4,346.2 420.9,346.7 417.4,347.1 413.8,347.4 410.2,347.6 406.7,347.7 403.1,347.8 399.5,347.7 396.0,347.6 392.4,347.4 388.9,347.1 385.4,346.7 382.0,346.3 378.6,345.7 375.2,345.1 371.9,344.4"/>
<polygon points="356.9,359.0 352.8,357.9 348.7,356.6 344.7,355.3 340.8,353.9 337.0,352.4 333.4,350.8 329.8,349.1 326.3,347.3 323.0,345.4 319.8,343.5 316.8,341.4 313.9,339.3 311.1,337.1 308.5,334.9 306.0,332.6 303.7,330.2 301.6,327.8 299.6,325.3 297.7,322.7 296.1,320.1 294.6,317.5 293.3,314.9 292.2,312.1 291.2,309.4 290.5,306.7 289.9,303.9 289.5,301.1 289.2,298.3 289.2,295.4 289.3,292.6 289.6,289.8 290.1,287.0 290.8,284.1 291.7,281.3 292.7,278.6 294.0,275.8 295.3,273.1 296.9,270.4 298.6,267.7 300.6,265.0 302.6,262.5 304.9,259.9 307.2,257.4 309.8,255.0 312.5,252.6 315.3,250.3 318.3,248.0 321.4,245.8 324.7,243.7 328.1,241.6 331.6,239.7 335.2,237.8 338.9,236.0 342.8,234.3 346.7,232.7 350.7,231.1 354.9,229.7 359.1,228.4 363.3,227.1 367.7,226.0 372.1,224.9 376.6,224.0 381.1,223.2 385.6,222.4 390.2,221.8 394.8,221.3 399.4,220.9 404.1,220.6 408.7,220.5 413.4,220.4 418.0,220.5 422.6,220.6 427.2,220.9 431.8,221.3 436.3,221.8 440.8,222.4 445.3,223.1 449.6,223.9 454.0,224.8 458.2,225.8 462.4,226.9 466.4,228.2 470.4,229.5 474.3,230.9 478.1,232.4 481.8,234.0 485.3,235.7 488.8,237.5 492.1,239.4 495.3,241.4 498.3,243.4 501.3,245.5 504.0,247.7 506.6,249.9 509.1,252.2 511.4,254.6 513.6,257.0 515.6,259.5 517.4,262.1 519.0,264.7 520.5,267.3 521.8,270.0 522.9,272.7 523.9,275.4 524.7,278.2 525.3,280.9 525.7,283.7 525.9,286.6 525.9,289.4 525.8,292.2 525.5,295.0 525.0,297.9 524.3,300.7 523.4,303.5 522.4,306.3 521.2,309.0 519.8,311.8 518.2,314.5 516.5,317.1 514.6,319.8 512.5,322.4 510.3,324.9 507.9,327.4 505.3,329.8 502.6,332.2 499.8,334.6 496.8,336.8 493.7,339.0 490.4,341.1 487.1,343.2 483.6,345.1 479.9,347.0 476.2,348.8 472.4,350.5 468.4,352.2 464.4,353.7 460.3,355.1 456.1,356.5 451.8,357.7 447.4,358.8 443.0,359.9 438.6,360.8 434.1,361.6 429.5,362.4 424.9,363.0 420.3,363.5 415.7,363.9 411.0,364.2 406.4,364.3 401.7,364.4 397.1,364.4 392.5,364.2 387.9,363.9 383.3,363.5 378.8,363.1 374.3,362.5 369.9,361.8 365.5,360.9 361.2,360.0"/>
<polygon points="347.5,371.4 342.5,370.1 337.7,368.7 333.0,367.1 328.3,365.4 323.9,363.6 319.5,361.7 315.3,359.7 311.2,357.5 307.2,355.3 303.4,353.0 299.8,350.6 296.4,348.1 293.1,345.5 290.0,342.8 287.0,340.1 284.3,337.3 281.7,334.4 279.4,331.4 277.2,328.4 275.3,325.3 273.5,322.2 272.0,319.0 270.6,315.8 269.5,312.6 268.6,309.3 267.9,306.0 267.4,302.7 267.1,299.4 267.1,296.0 267.2,292.7 267.6,289.3 268.2,285.9 269.0,282.6 270.0,279.3 271.3,276.0 272.7,272.7 274.4,269.4 276.2,266.2 278.3,263.1 280.6,259.9 283.0,256.9 285.7,253.8 288.5,250.9 291.5,248.0 294.7,245.1 298.1,242.4 301.6,239.7 305.3,237.1 309.2,234.6 313.2,232.2 317.4,229.8 321.7,227.6 326.1,225.5 330.7,223.4 335.3,221.5 340.1,219.7 345.0,218.0 350.0,216.4 355.1,214.9 360.2,213.6 365.5,212.3 370.8,211.2 376.1,210.2 381.5,209.4 387.0,208.6 392.4,208.0 397.9,207.6 403.4,207.2 409.0,207.0 414.5,207.0 420.0,207.0 425.5,207.2 430.9,207.5 436.3,208.0 441.7,208.6 447.0,209.3 452.3,210.1 457.5,211.1 462.6,212.2 467.7,213.4 472.6,214.7 477.4,216.2 482.2,217.7 486.8,219.4 491.3,221.2 495.6,223.1 499.9,225.2 504.0,227.3 507.9,229.5 511.7,231.8 515.3,234.2 518.8,236.7 522.1,239.3 525.2,242.0 528.1,244.7 530.8,247.6 533.4,250.4 535.7,253.4 537.9,256.4 539.9,259.5 541.6,262.6 543.2,265.8 544.5,269.0 545.6,272.2 546.6,275.5 547.3,278.8 547.7,282.1 548.0,285.5 548.1,288.8 547.9,292.2 547.5,295.5 546.9,298.9 546.1,302.2 545.1,305.5 543.9,308.8 542.4,312.1 540.8,315.4 538.9,318.6 536.8,321.8 534.6,324.9 532.1,328.0 529.5,331.0 526.6,333.9 523.6,336.8 520.4,339.7 517.0,342.4 513.5,345.1 509.8,347.7 505.9,350.2 501.9,352.7 497.8,355.0 493.5,357.2 489.0,359.4 484.5,361.4 479.8,363.3 475.0,365.1 470.1,366.8 465.1,368.4 460.0,369.9 454.9,371.3 449.7,372.5 444.4,373.6 439.0,374.6 433.6,375.4 428.2,376.2 422.7,376.8 417.2,377.2 411.7,377.6 406.2,377.8 400.7,377.9 395.2,377.8 389.7,377.6 384.2,377.3 378.8,376.8 373.4,376.3 368.1,375.6 362.8,374.7 357.6,373.7 352.5,372.7"/>
<polygon points="339.3,382.2 333.7,380.7 328.2,379.0 322.8,377.2 317.6,375.3 312.5,373.3 307.5,371.1 302.7,368.8 298.1,366.4 293.6,363.9 289.3,361.2 285.2,358.5 281.3,355.7 277.5,352.7 274.0,349.7 270.7,346.6 267.6,343.4 264.7,340.1 262.0,336.7 259.5,333.3 257.3,329.8 255.3,326.3 253.5,322.7 252.0,319.0 250.7,315.3 249.7,311.6 248.9,307.9 248.4,304.1 248.0,300.3 248.0,296.5 248.2,292.7 248.6,288.9 249.3,285.1 250.2,281.3 251.4,277.5 252.8,273.7 254.4,270.0 256.3,266.3 258.4,262.7 260.7,259.1 263.3,255.5 266.1,252.0 269.1,248.6 272.3,245.2 275.8,241.9 279.4,238.7 283.2,235.6 287.2,232.5 291.5,229.6 295.8,226.7 300.4,224.0 305.1,221.3 310.0,218.8 315.0,216.4 320.2,214.1 325.5,211.9 331.0,209.8 336.5,207.9 342.2,206.1 348.0,204.4 353.8,202.8 359.8,201.4 365.8,200.2 371.9,199.1 378.0,198.1 384.2,197.3 390.4,196.6 396.6,196.1 402.9,195.7 409.1,195.4 415.4,195.4 421.7,195.4 427.9,195.6 434.1,196.0 440.3,196.5 446.4,197.2 452.4,198.0 458.4,198.9 464.3,200.0 470.1,201.3 475.8,202.6 481.4,204.2 486.9,205.8 492.3,207.6 497.5,209.5 502.6,211.6 507.6,213.7 512.4,216.0 517.1,218.4 521.5,220.9 525.8,223.6 529.9,226.3 533.9,229.2 537.6,232.1 541.1,235.1 544.5,238.3 547.6,241.5 550.5,244.7 553.2,248.1 555.6,251.5 557.8,255.0 559.8,258.6 561.6,262.2 563.1,265.8 564.4,269.5 565.4,273.2 566.2,276.9 566.8,280.7 567.1,284.5 567.2,288.3 567.0,292.1 566.5,295.9 565.9,299.7 564.9,303.5 563.8,307.3 562.4,311.1 560.7,314.8 558.9,318.5 556.7,322.1 554.4,325.7 551.8,329.3 549.0,332.8 546.0,336.2 542.8,339.6 539.4,342.9 535.7,346.1 531.9,349.2 527.9,352.3 523.7,355.2 519.3,358.1 514.7,360.8 510.0,363.5 505.1,366.0 500.1,368.5 494.9,370.8 489.6,373.0 484.2,375.0 478.6,377.0 472.9,378.8 467.2,380.4 461.3,382.0 455.4,383.4 449.4,384.6 443.3,385.7 437.1,386.7 431.0,387.5 424.8,388.2 418.5,388.8 412.2,389.1 406.0,389.4 399.7,389.5 393.5,389.4 387.2,389.2 381.0,388.8 374.9,388.3 368.8,387.7 362.7,386.8 356.7,385.9 350.8,384.8 345.0,383.6"/>
</g>
<rect x="327.7" y="220.6" width="203.3" height="117.9" fill="none" stroke="#556" stroke-opacity="0.5" stroke-width="0.35"/>
<g stroke="#777" stroke-width="0.4">
<line x1="327.7" y1="338.5" x2="327.7" y2="341.1"/>
<line x1="378.52" y1="338.5" x2="378.52" y2="341.1"/>
<line x1="429.35" y1="338.5" x2="429.35" y2="341.1"/>
<line x1="480.18" y1="338.5" x2="480.18" y2="341.1"/>
<line x1="531" y1="338.5" x2="531" y2="341.1"/>
<line x1="322.5" y1="220.6" x2="327.7" y2="220.6"/>
<line x1="322.5" y1="244.18" x2="327.7" y2="244.18"/>
<line x1="322.5" y1="267.76" x2="327.7" y2="267.76"/>
<line x1="322.5" y1="291.34" x2="327.7" y2="291.34"/>
<line x1="322.5" y1="314.92" x2="327.7" y2="314.92"/>
<line x1="322.5" y1="338.5" x2="327.7" y2="338.5"/>
</g>
<g font-family="Liberation Sans, sans-serif" font-size="2.75" fill="#555">
<text x="327.7" y="345.2" text-anchor="middle">7.40</text>
<text x="378.52" y="345.2" text-anchor="middle">7.73</text>
<text x="429.35" y="345.2" text-anchor="middle">8.05</text>
<text x="480.18" y="345.2" text-anchor="middle">8.38</text>
<text x="531" y="345.2" text-anchor="middle">8.70</text>
<text x="320.2" y="221.5" text-anchor="end">30.00</text>
<text x="320.2" y="245.08" text-anchor="end">28.00</text>
<text x="320.2" y="268.66" text-anchor="end">26.00</text>
<text x="320.2" y="292.24" text-anchor="end">24.00</text>
<text x="320.2" y="315.82" text-anchor="end">22.00</text>
<text x="320.2" y="339.4" text-anchor="end">20.00</text>
</g>
<rect x="392.93" y="319.8" width="7.35" height="3" fill="#fff" stroke="#555" stroke-width="0.3"/>
<text x="396.6" y="322.15" font-family="Liberation Sans, sans-serif" font-size="2.4" text-anchor="middle" fill="#333">0.6</text>
<rect x="467.82" y="248.7" width="7.35" height="3" fill="#fff" stroke="#555" stroke-width="0.3"/>
<text x="471.5" y="251.05" font-family="Liberation Sans, sans-serif" font-size="2.4" text-anchor="middle" fill="#333">0.8</text>
<rect x="334.32" y="328.3" width="7.35" height="3" fill="#fff" stroke="#555" stroke-width="0.3"/>
<text x="338" y="330.65" font-family="Liberation Sans, sans-serif" font-size="2.4" text-anchor="middle" fill="#333">0.8</text>
<rect x="491.18" y="236.9" width="4.25" height="3" fill="#fff" stroke="#555" stroke-width="0.3"/>
<text x="493.3" y="239.25" font-family="Liberation Sans, sans-serif" font-size="2.4" text-anchor="middle" fill="#333">1</text>
<rect x="508.82" y="229.2" width="7.35" height="3" fill="#fff" stroke="#555" stroke-width="0.3"/>
<text x="512.5" y="231.55" font-family="Liberation Sans, sans-serif" font-size="2.4" text-anchor="middle" fill="#333">1.2</text>
<rect x="522.33" y="332.5" width="7.35" height="3" fill="#fff" stroke="#555" stroke-width="0.3"/>
<text x="526" y="334.85" font-family="Liberation Sans, sans-serif" font-size="2.4" text-anchor="middle" fill="#333">1.2</text>
<ellipse cx="327.7" cy="220.6" rx="2.4" ry="1.45" fill="#f00000"/>
<ellipse cx="531" cy="220.6" rx="2.4" ry="1.45" fill="#f00000"/>
<ellipse cx="327.7" cy="338.5" rx="2.4" ry="1.45" fill="#f00000"/>
<ellipse cx="531" cy="338.5" rx="2.4" ry="1.45" fill="#f00000"/>
<rect x="427.45" y="278.85" width="3.6" height="2.2" rx="0.6" fill="#f00000"/>
<text x="426.15" y="280.85" font-family="Liberation Sans, sans-serif" font-size="2.6" text-anchor="end" fill="#001060" fill-opacity="0.7">5</text>
<text x="428.9" y="217.8" font-family="Liberation Sans, sans-serif" font-size="8.34" text-anchor="middle" fill="#000" stroke="#000" stroke-width="0.12" textLength="64" lengthAdjust="spacingAndGlyphs">Residual turbidity</text>
<text x="428.8" y="362.8" font-family="Liberation Sans, sans-serif" font-size="5.6" text-anchor="middle" fill="#2a2a2a" stroke="#2a2a2a" stroke-width="0.07">A: pH</text>
<text transform="translate(289.6 278.75) rotate(-90)" font-family="Liberation Sans, sans-serif" font-size="4.9" text-anchor="middle" fill="#2a2a2a" stroke="#2a2a2a" stroke-width="0.07">C: Dosage</text>
<text x="275.2" y="203" font-family="Liberation Serif, serif" font-weight="bold" font-size="11" text-anchor="middle" fill="#111" textLength="12.3" lengthAdjust="spacingAndGlyphs">(a)</text>
<text x="274.7" y="376" font-family="Liberation Serif, serif" font-weight="bold" font-size="11" text-anchor="middle" fill="#111" textLength="13" lengthAdjust="spacingAndGlyphs">(b)</text>
</svg></body></html>
